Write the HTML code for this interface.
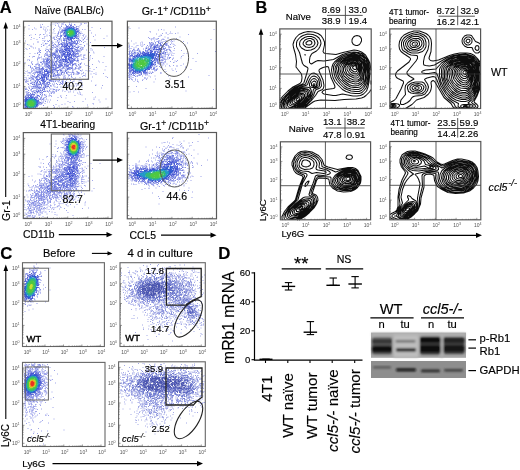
<!DOCTYPE html>
<html><head><meta charset="utf-8"><title>Figure</title><style>html,body{margin:0;padding:0;background:#fff;width:520px;height:470px;overflow:hidden}svg{display:block;filter:blur(0.3px)}</style></head><body>
<svg width="520" height="470" viewBox="0 0 520 470" font-family='"Liberation Sans", Arial, sans-serif'>
<rect width="520" height="470" fill="#fff"/>
<defs><filter id="sb" x="-5%" y="-5%" width="110%" height="110%"><feGaussianBlur stdDeviation="0.55"/></filter><filter id="cb" x="-5%" y="-5%" width="110%" height="110%"><feGaussianBlur stdDeviation="0.3"/></filter></defs>
<text x="-0.2" y="12.5" font-size="16.5" font-weight="bold" stroke="#000" stroke-width="0.15">A</text>
<text x="69.2" y="14.4" font-size="10.1" text-anchor="middle" stroke="#000" stroke-width="0.15">Naïve (BALB/c)</text>
<g filter="url(#sb)">
<path stroke="#a0a6ea" d="M105.5 99h1M99.5 102h1M106.5 36h1M98.5 100h1M100 28.5h1M93 104h1M107 77.5h1M103.5 38.5h1M92.5 103.5h1M105.5 76.5h1M101 88h1M102 85.5h1M93.5 99.5h1M95 97h1M105.5 66.5h1M104 47.5h1M93.5 98h1M87 105h1M104.5 70h1M103 73.5h1M103.5 56.5h1M102.5 62.5h1M77.5 108h1M95 35h1M91.5 27.5h1M92 92.5h1M95.5 85h1M82.5 101.5h1M95 85.5h1M85 99h1M72.5 107h1M99 62h1M72 106.5h1M93 36.5h1M94.5 40h1M28.5 25.5h1M98 61h1M95.5 74.5h1M91 33h1M95.5 73h1M89.5 30.5h1M96 67.5h1M54 107.5h1M28.5 29h1M87.5 26h1M74 101.5h1M54 107h1M91 81h1M58.5 106h1M81.5 95h1M93.5 73.5h1M85.5 23.5h1M92 77h1M69.5 102.5h1M93.5 69.5h1M64.5 104h1M61.5 104.5h1M93.5 53h1M80 94.5h1M53 105.5h1M32 29.5h1M55.5 104.5h1M93 52h1M34 28h1M67.5 101.5h1M92 50h1M91.5 71.5h1M40 25h1M80 93h1M42 24.5h1M78.5 94h1M90.5 74h1M92 64.5h1M92 58.5h1M84 23.5h1M35.5 29h1M90 42.5h1M40.5 26.5h1M25 41h1M29 35.5h1M88 33h1M79 92h1M30.5 35h1M88 33.5h1M40 27.5h1M77 93h1M87 79h1M74.5 95.5h1M41 27.5h1M90.5 50h1M90.5 48.5h1M52.5 24h1M43.5 27h1M89.5 71h1M55.5 23h1M50 25h1M89.5 68.5h1M54.5 24h1M57 100.5h1M47.5 26.5h1M81.5 87h1M88.5 71h1M82 85.5h1M31 37.5h1M43 29h1M78.5 90h1M90 55.5h1M88.5 70.5h1M65.5 98h1M89 66.5h1M45.5 28h1M57 23.5h1M27 44.5h1M35 34.5h1M30.5 39.5h1M89.5 59h1M25.5 48.5h1M89.5 57h1M77.5 89.5h1M87.5 71h1M58.5 23h1M44.5 30h1M55 25.5h1M87.5 38h1M89 60.5h1M61 97.5h1M89 52.5h1M33.5 38.5h1M45 30h1M26.5 49.5h1M28.5 45h1M88.5 45.5h1M47 30h1M75.5 90h1M81.5 82.5h1M87.5 65.5h1M85 76h1M57.5 97.5h1M73 92h1M66 95.5h1M45.5 31.5h1M24.5 62.5h1M39 35h1M40 34.5h1M49.5 30h1M84.5 29.5h1M49 102h1M85 74h1M60.5 96h1M29 48.5h1M60 96h1M58 25h1M73.5 90h1M84 75.5h1M30.5 46h1M85.5 70.5h1M45 33h1M30.5 46.5h1M43 34.5h1M53 29.5h1M81 24h1M43.5 34.5h1M36.5 39.5h1M54 28.5h1M39 37.5h1M69.5 92h1M77.5 85.5h1M33 44h1M80.5 80.5h1M80.5 23.5h1M58 26h1M80.5 81h1M27 60h1M50 100h1M68 92h1M70 91h1M77.5 84.5h1M24.5 73.5h1M31.5 47h1M76 86h1M29.5 53.5h1M83 75.5h1M49 33h1M78 83.5h1M61.5 23.5h1M25.5 71.5h1M86.5 39.5h1M29 56.5h1M80.5 24.5h1M46.5 35h1M47 102h1M37 42h1M82 76.5h1M33 48h1M28.5 59.5h1M44.5 36.5h1M85.5 36h1M53.5 31h1M42 38.5h1M38 42h1M44 37h1M85.5 65.5h1M86.5 44h1M46.5 36h1M64.5 91.5h1M78.5 81h1M83 72.5h1M29 60.5h1M82.5 73.5h1M63.5 22.5h1M79 80h1M43.5 38.5h1M24.5 77.5h1M74 86h1M58.5 26.5h1M52.5 33h1M49 35.5h1M35 48h1M28 65.5h1M66.5 90.5h1M62.5 23.5h1M42.5 40.5h1M85 37h1M69 89h1M75.5 84h1M75.5 83.5h1M47.5 100h1M24.5 79.5h1M24.5 80h1M62 91h1M86 50h1M50 36h1M85.5 58.5h1M61 25h1M79.5 77.5h1M51 96.5h1M27 71h1M50 36.5h1M32 57h1M62.5 90h1M44.5 40.5h1M25 81.5h1M42.5 43h1M41 44.5h1M29.5 65.5h1M44 41.5h1M81 74h1M34.5 53.5h1M56 91.5h1M44.5 103.5h1M33 56.5h1M82 70h1M54.5 33.5h1M79.5 25.5h1M84 64h1M58 90.5h1M83.5 34.5h1M58 90h1M50.5 37.5h1M70.5 86h1M31 62.5h1M27.5 73h1M38.5 48.5h1M59 89.5h1M54 93h1M84 38h1M50.5 95.5h1M31.5 61.5h1M82 29.5h1M38 50h1M54 92.5h1M41 46.5h1M81 71h1M34 56.5h1M26 78h1"/>
<path stroke="#8890e4" d="M47 41h1M45 101.5h1M84 38.5h1M53 93h1M30 66.5h1M43 105.5h1M56.5 90h1M84.5 55h1M45 43.5h1M55.5 91h1M31.5 63.5h1M26 81h1M25.5 82.5h1M50.5 39h1M43.5 45h1M30 67.5h1M62.5 24.5h1M39 50h1M59.5 27.5h1M84.5 41.5h1M72 83.5h1M43 45.5h1M26 80h1M48 41.5h1M67 86h1M65.5 86.5h1M37 53.5h1M49 40.5h1M56 90h1M37.5 52.5h1M27.5 75.5h1M53.5 37h1M69 85h1M28.5 72.5h1M45.5 44h1M55.5 90h1M49.5 95.5h1M59.5 28h1M39 51.5h1M52.5 38h1M60.5 87h1M46 99h1M66 86h1M46.5 43.5h1M53 38h1M32 64.5h1M83.5 59h1M53.5 91.5h1M29 73h1M73.5 81h1M84 45.5h1M40 50.5h1M39 52h1M83 36h1M48.5 96h1M51 93.5h1M61 26.5h1M55.5 36h1M26.5 81.5h1M71.5 82.5h1M84 46h1M54 38h1M80 70.5h1M72.5 81.5h1M79 73h1M78.5 73.5h1M83 39.5h1M82.5 35.5h1M25 89.5h1M64.5 85h1M51.5 41h1M44.5 100h1M51 41.5h1M78 74h1M57.5 33.5h1M83.5 57.5h1M25.5 88.5h1M40 52.5h1M52.5 91.5h1M58 32h1M83.5 55.5h1M25.5 88h1M83 57h1M51.5 92.5h1M56.5 87.5h1M57 87h1M74 79h1M38.5 55h1M75 78h1M58 32.5h1M50.5 93h1M66 84h1M80.5 67h1M51.5 92h1M78 73.5h1M31 69h1M83.5 55h1M31.5 68h1M62 84.5h1M54 89.5h1M52.5 91h1M57 35.5h1M51.5 42h1M78 73h1M39 54.5h1M73.5 79.5h1M27.5 80h1M77 74h1M83 42.5h1M54 39.5h1M25.5 89.5h1M57.5 34.5h1M46.5 47h1M73 79h1M59 30h1M32 68h1M78 72.5h1M58 33.5h1M82.5 59.5h1M69 23h1M56 37.5h1M30 73h1M65 24.5h1M38 57h1M81.5 33.5h1M59 84.5h1M53 89.5h1M65 83h1M61.5 83.5h1M80 67.5h1M79.5 68h1M67.5 82.5h1M49 94h1M82.5 40h1M28.5 78h1M37.5 58h1M80 67h1M45.5 97h1M51.5 43h1M31.5 70.5h1M60 84h1M58.5 32h1M49 45h1M27.5 81.5h1M48.5 45.5h1M61 83.5h1M62 83h1M37 59.5h1M65.5 82.5h1M63 83h1M52.5 42.5h1M26.5 89.5h1M46 96.5h1M37.5 58.5h1M76.5 74h1M81 63h1M79 69h1M79.5 67h1M43 102h1M70 80.5h1M57.5 36.5h1M37 60h1M51.5 43.5h1M29 78.5h1M44.5 97.5h1M45.5 49h1M25.5 92h1M55.5 39.5h1M54.5 87h1M81.5 38h1M57 84.5h1M31 72h1M27.5 83.5h1M62 82.5h1M52.5 89h1M60 82.5h1M51.5 44h1M43 100h1M82.5 47.5h1M77 72.5h1M78.5 27h1M45 50.5h1M81.5 59.5h1M75.5 74h1M79 67h1M65 81.5h1M46.5 49.5h1M39 58h1M82.5 49h1M31.5 71.5h1M76.5 72h1M78 69h1M26.5 91.5h1M80 64.5h1M30.5 75h1M61.5 81.5h1M39.5 57.5h1M34 66.5h1M33 69h1M43.5 98h1M80 63.5h1M63 81h1M49.5 91.5h1M62 81.5h1M28 84.5h1M71.5 77.5h1M58.5 82h1M35.5 64.5h1M71 24h1M77.5 26.5h1M76.5 71.5h1M57.5 38.5h1M82 49h1M30 77h1M42 103h1M81 59h1M29.5 78.5h1M60.5 29h1M45.5 95h1M47.5 49.5h1M43 98.5h1M52 45.5h1M56 83.5h1M26.5 92.5h1M79.5 64h1M66 80h1M78 68h1M51 46.5h1M80.5 32h1M58.5 36.5h1M55.5 42h1M28 87h1M53 45h1M53.5 86h1M35.5 65h1M54 44h1M62 80h1M42.5 99h1M33 70h1M74 24.5h1M42.5 99.5h1M66 79.5h1M37.5 62h1M81.5 49h1M69 78.5h1M44.5 95.5h1M61.5 80h1M36.5 64h1M77.5 68.5h1M42 99.5h1M41 57h1M67 79h1M81.5 47.5h1M53 45.5h1M57 40.5h1M48 92h1M73.5 74h1M57 41h1M81 41.5h1M57.5 81.5h1M59 80.5h1M50.5 89h1M58.5 80.5h1M49.5 49h1M58.5 39h1M49 90.5h1M46.5 51.5h1M35 67h1M63 79h1M28 90.5h1M34 70h1M71 76.5h1M48 50.5h1M45 53.5h1M53 46h1M73 74.5h1M31.5 76h1M51.5 48h1M26 94h1M78.5 65.5h1M36.5 64.5h1M81 50h1M64.5 78.5h1M30 80.5h1M41.5 102h1M44 55h1M60 33h1M80.5 56h1M45.5 53.5h1M31 77.5h1M67.5 78h1M50 49h1M52 47.5h1M46.5 52.5h1M47.5 51.5h1M55 44.5h1M37.5 63.5h1M80.5 54.5h1M29 88h1M60 32h1M30.5 80h1M59 39h1M59 38.5h1M53 85h1M29 88.5h1M35 68.5h1M74.5 25h1M35.5 67h1M50 49.5h1M49.5 89h1M32 75.5h1M32.5 73.5h1M80.5 44.5h1M54 84h1M65 78h1M78 64.5h1M58.5 40h1M57.5 42h1M65.5 25.5h1M41 104h1M73.5 73h1M63.5 78h1M63 78h1M80 40.5h1M60 35.5h1M71 75h1M47 91.5h1M33 73h1M59 39.5h1M41.5 59h1M73 73h1M30.5 82h1M30 83.5h1M51 49.5h1M49 51.5h1M44 94.5h1M56.5 80.5h1M60 34h1M31.5 77.5h1M53 48h1M60 36.5h1M60 37.5h1M28 92.5h1M80.5 47h1M29.5 86h1M51.5 49.5h1M45 55h1M80.5 50h1M55 81.5h1M69 24.5h1M80 33.5h1M59 78h1M44 56.5h1M47 91h1M73 72.5h1M64.5 77h1M54 47h1M55.5 46h1M41 103.5h1M51.5 50h1M75.5 68.5h1M31.5 78.5h1M58.5 78h1M36 68h1M69 75.5h1M68 76h1M60 38h1M70.5 24.5h1M27 94h1M41.5 96h1M41 97.5h1M70.5 74.5h1M46.5 54.5h1M32.5 76.5h1M31.5 79.5h1M28.5 92.5h1M35.5 70h1M63.5 76.5h1M36.5 67.5h1M32 79h1M80 48.5h1M41 103h1M38 65h1M27.5 93.5h1M60.5 35.5h1M47 54h1M56 46h1M76.5 66.5h1M76 26.5h1M58 42.5h1M50.5 51h1M75.5 68h1M36.5 68h1M41.5 95.5h1M31 83.5h1M50.5 86.5h1M34.5 72h1M79.5 44.5h1M41 97h1M41 100h1M46 55h1M79.5 55.5h1M74.5 69.5h1M26 95h1M72 72.5h1M68.5 75h1M34 73h1M41 98h1M53.5 82h1M60.5 39h1M55 47.5h1M78 62h1M32.5 77h1M52 84h1M75 68.5h1M79.5 35h1M40 62.5h1M50.5 85.5h1M33 76.5h1M78 60.5h1M56.5 46h1M36 69h1M32 78.5h1M79 42h1M55 80h1M49 87.5h1M78 29h1M42 94.5h1M49.5 52.5h1M78.5 40.5h1M30.5 89.5h1M38.5 65h1M43 59h1M46.5 55.5h1M58 43.5h1M30.5 90.5h1M35.5 71h1M72.5 71h1M34 74.5h1M64.5 75.5h1M59 42h1M51 52h1M78.5 39.5h1M47.5 55h1M33.5 76h1M47 55.5h1M71 73h1M31.5 82.5h1M79.5 51h1M57.5 45h1M39 64.5h1M58 77h1M79.5 52h1M40.5 62h1M76 65.5h1M50 53h1M54.5 80h1M43.5 59h1M67.5 74.5h1M75 67.5h1M37.5 67.5h1M42 94h1M38.5 66h1M41 62.5h1M45.5 91h1M45 91.5h1M56 78h1M61 36.5h1M79.5 49h1M79 32.5h1M62.5 75h1M31 89.5h1M78.5 30.5h1M61.5 30.5h1M37.5 68h1M43 60h1M59.5 75.5h1M63 28h1M60.5 40h1M60 75h1M31 89h1M33.5 76.5h1M61 74.5h1M78.5 30h1M50 85.5h1M58 45h1M33 79h1M72.5 70h1M73.5 69h1M35 73h1M53 81.5h1M56.5 77h1M51.5 52.5h1M72 71h1M25 96h1M26.5 95h1M57.5 76h1M78.5 56.5h1M33.5 77h1M31.5 86.5h1M58.5 75.5h1M44 91.5h1M61 32.5h1M75.5 65.5h1M54.5 79h1M57.5 75.5h1M59 75h1M77.5 28.5h1M58.5 45h1M57 46.5h1"/>
<path stroke="#6a76dc" d="M31.5 87h1M33 79h1M62 30h1M39 66h1M66.5 73.5h1M36 72h1M61 35.5h1M78.5 46.5h1M78.5 37h1M63.5 74h1M49.5 54.5h1M50.5 54h1M61 41h1M40 98h1M45.5 58h1M66 26h1M42.5 61.5h1M51.5 53.5h1M69.5 72.5h1M40 99h1M77 28.5h1M56.5 48h1M77 60.5h1M78 38.5h1M43 91.5h1M58 75h1M30 93.5h1M77.5 59h1M31.5 91.5h1M40 94.5h1M78.5 50.5h1M35.5 72.5h1M36.5 71.5h1M32 84.5h1M32.5 82h1M61 73.5h1M66 73h1M54.5 78h1M58.5 74.5h1M55.5 49.5h1M53.5 79.5h1M38.5 67.5h1M32.5 83h1M41 93h1M78 56h1M59 44.5h1M44.5 59.5h1M56.5 48.5h1M32 88.5h1M48.5 56h1M37.5 69.5h1M53 80h1M75.5 64h1M61.5 31h1M42 92.5h1M66.5 72.5h1M43.5 60.5h1M50 55h1M34.5 77h1M39 96.5h1M64 73h1M46.5 88h1M45.5 59h1M56.5 75.5h1M77.5 41h1M32.5 91.5h1M59.5 73h1M76.5 61.5h1M48 86.5h1M77.5 40h1M78.5 51.5h1M61.5 31.5h1M47.5 57h1M62 72.5h1M52.5 53.5h1M78 54h1M53 53h1M48.5 56.5h1M56 50.5h1M68 72h1M33.5 80h1M66 72.5h1M55.5 50.5h1M77.5 56.5h1M43.5 61.5h1M72 69h1M77.5 43.5h1M63.5 72.5h1M52 54h1M77.5 38.5h1M39 68h1M57 74.5h1M38.5 96h1M33 88h1M78.5 33.5h1M50.5 55.5h1M61.5 72.5h1M51.5 81.5h1M78 47.5h1M41.5 64h1M54.5 52h1M39.5 93h1M77 59h1M60.5 43.5h1M50 56h1M57.5 73.5h1M75 64h1M43 62h1M71 25.5h1M55.5 51.5h1M48.5 57h1M44 89.5h1M49 56.5h1M77 41.5h1M61 72h1M55.5 75.5h1M55 76h1M58.5 47h1M33 86.5h1M38.5 69h1M76 28h1M32 93h1M44 90h1M62 72h1M72 68h1M52.5 54.5h1M54 53.5h1M77 42h1M33.5 90.5h1M47 58.5h1M33.5 92h1M47 86.5h1M40.5 66h1M60.5 44.5h1M40 92.5h1M49 84h1M42 64h1M54.5 53h1M53 54h1M27.5 95h1M37.5 71h1M37 72.5h1M56 51.5h1M77.5 53.5h1M61 43.5h1M77.5 50.5h1M51 81h1M28 95h1M35 78h1M77 42.5h1M65 71.5h1M34 92.5h1M68 26h1M62.5 30h1M33.5 84.5h1M77.5 46h1M53 54.5h1M49.5 83.5h1M52 55.5h1M57.5 49.5h1M55.5 75h1M46.5 59.5h1M38 95.5h1M53.5 54.5h1M57 50h1M46.5 86.5h1M77 56.5h1M43.5 63h1M71 68.5h1M37.5 72h1M52.5 78.5h1M44.5 61.5h1M51.5 80.5h1M43.5 89.5h1M34 82.5h1M47.5 85.5h1M57 72.5h1M47.5 58.5h1M25 96.5h1M70 25.5h1M33.5 85h1M46.5 60h1M40 102.5h1M39.5 104.5h1M39.5 92h1M77.5 52h1M74.5 63.5h1M39.5 99.5h1M66 27h1M61.5 43h1M60 71h1M63.5 71h1M66.5 71h1M55 53h1M78.5 32h1M26.5 96h1M34 84h1M36.5 94h1M63 40.5h1M39 69h1M46 60.5h1M77 54h1M35 93h1M53.5 55h1M37 92.5h1M50.5 57h1M74 64h1M34.5 81h1M61 70.5h1M41 91h1M34 87h1M42 90.5h1M72 67h1M61 44.5h1M66 26.5h1M57 51.5h1M54 54.5h1M75.5 60.5h1M55 75h1M48 84.5h1M37 92h1M76.5 44h1M35.5 92h1M32 94h1M60 70.5h1M34 84.5h1M35.5 77.5h1M77.5 50h1M69.5 69.5h1M38.5 71h1M37.5 95.5h1M42 90h1M39 70h1M45.5 87h1M28.5 95h1M36 91.5h1M57 51h1M37.5 92h1M44 88.5h1M77 51h1M63 39h1M54.5 54.5h1M39.5 68.5h1M47 60h1M64.5 28h1M63 38h1M76.5 57.5h1M56.5 52.5h1M42.5 89.5h1M36.5 91.5h1M65.5 70.5h1M37.5 72.5h1M39.5 103.5h1M53.5 76.5h1M77.5 36.5h1M56.5 52h1M57 72h1M56.5 72h1M38 91.5h1M60.5 70h1M27.5 95.5h1M76.5 43.5h1M34.5 88.5h1M47.5 59.5h1M38.5 91.5h1M35.5 90.5h1M62.5 42.5h1M29.5 95h1M45 87.5h1M33.5 94h1M54 55h1M36.5 91h1M34.5 86.5h1M54.5 55h1M76.5 38.5h1M52.5 56.5h1M46.5 60.5h1M76 40.5h1M77 49h1M37 74h1M65.5 70h1M78 31.5h1M37 95.5h1M77 29h1M51.5 79h1M77.5 30h1M61.5 70h1M44 63h1M77 53h1M70.5 68h1M56.5 53h1M36 77.5h1M62.5 43h1M51 57.5h1M47.5 60h1M38.5 91h1M49 82.5h1M58 70.5h1M57 71h1M36 76.5h1M69.5 68.5h1M59.5 70h1M35 81.5h1M78 35h1M67 69.5h1M40 90.5h1M53 76.5h1M47 60.5h1M77 48h1M49 59h1M77.5 30.5h1M57.5 70.5h1M70.5 67.5h1M34.5 85h1M65 70h1M35 81h1M59.5 69.5h1M55.5 54.5h1M48.5 59.5h1M40 90h1M50 80.5h1M53.5 75.5h1M62.5 31h1M72.5 65h1M45 87h1M31 94.5h1M24.5 97.5h1M46 61.5h1M76 57h1M30.5 94.5h1M33 94.5h1M48.5 60h1M38 90.5h1M49.5 81.5h1M55 55.5h1M39.5 102.5h1M68 69h1M62 32h1M59.5 69h1M78 33h1M76 43.5h1M76 44.5h1M51.5 58h1M76.5 47.5h1M77 37h1M58.5 50.5h1M68.5 69h1M38.5 90h1M35 86h1M37 75.5h1M56.5 71h1M56.5 70.5h1M59.5 48.5h1M34 94.5h1M52.5 76.5h1M36 89h1M35.5 81h1M35.5 87.5h1M38.5 72h1M43.5 87.5h1M67 26.5h1M53 76h1M73 64.5h1M32.5 94.5h1M76 28.5h1M59.5 49h1M32 94.5h1M76.5 51h1M54 73.5h1M48 60.5h1M48.5 82.5h1M46 62h1M68 68.5h1M36.5 96h1M66.5 69h1M35.5 86.5h1M43.5 88h1M39 71.5h1M45 63h1M67.5 68.5h1M53.5 57.5h1M55.5 55.5h1M62 44.5h1M42.5 88h1M61.5 68.5h1M72 65.5h1M29 95h1M45.5 86h1M61.5 45h1M61 46.5h1M75 42h1M55 56.5h1M63.5 39h1M53 75h1M36 79h1M37 76h1M35.5 87h1M68.5 68h1M53.5 74.5h1M45 86h1M38.5 72.5h1M45 86.5h1M47 84h1M40 70h1M60.5 47.5h1M36 79.5h1M47 61.5h1M39 72h1M54 57.5h1M69.5 67.5h1M44.5 86.5h1M71.5 66h1M51.5 59h1M37 89h1M37 76.5h1M72 64.5h1M64 40.5h1M55.5 70.5h1M67 68.5h1M62 45.5h1M43 87.5h1M42 67.5h1M77.5 35h1M35.5 83h1M63.5 68.5h1M64.5 40.5h1M41 68.5h1M41 69h1M41.5 88.5h1M74.5 60.5h1M64 42h1M62 68h1M63.5 43h1M44.5 64.5h1M55.5 57h1M55.5 56.5h1M76 53.5h1M56.5 55.5h1M76 54h1M72.5 26.5h1M36.5 79h1M38.5 73h1M50 80h1M59 50.5h1M40.5 69.5h1M54.5 72h1M59 51h1M76 38.5h1M76 47.5h1M57.5 68h1M36.5 87.5h1M36 85h1M74.5 27.5h1M38 74.5h1M66.5 27h1M31 95h1M54 58.5h1M62.5 45h1M62.5 35h1M36.5 79.5h1M50.5 60h1M45 85.5h1M55 57.5h1M68 68h1M49 80.5h1M36 84.5h1M74 60.5h1M36.5 80h1M60 67h1M59 51.5h1M55.5 57.5h1M75.5 56h1M69 67.5h1M46.5 84h1M76 51.5h1M37.5 76h1M72.5 64h1M65.5 68h1M42.5 67h1M36 83.5h1M62 46h1M61.5 46.5h1M59 67h1M45.5 85h1M65.5 27.5h1M39 88.5h1M58 67.5h1M46 63h1M56 69h1M76 50h1M39.5 88.5h1M37.5 76.5h1M74.5 59h1M74.5 41h1M64.5 40h1M60 50h1M57 56h1M36 83h1M54 59h1M36.5 86h1M57 67.5h1M64 39h1M52 60h1M38.5 88.5h1M59.5 66.5h1M63 67.5h1M50 60.5h1M57.5 55h1M58.5 67h1M45.5 84.5h1M47.5 82.5h1M46.5 83.5h1M57.5 55.5h1M25.5 97.5h1M37.5 87.5h1M75 44h1M75 56.5h1M36.5 85.5h1M45.5 64h1M74.5 58.5h1M38.5 88h1M75 56h1M39 88h1M59 66.5h1M58 54h1M55.5 68.5h1M56.5 67.5h1M43 87h1M49.5 79.5h1M59.5 51h1M38 87.5h1M37 78h1M47 63h1M56.5 68h1M74.5 43.5h1M42 68.5h1M47.5 62.5h1M37 86.5h1M74.5 43h1M59.5 66h1M49 61.5h1M39 103h1M55 69.5h1M46 63.5h1M46.5 63.5h1M64.5 43h1M47.5 82h1M39 102h1M36.5 82.5h1M73 26.5h1M39.5 72.5h1M74 59.5h1M58 66h1M37 97h1M48.5 62h1M54.5 70h1M59.5 52h1M74.5 42h1M46.5 83h1M39 73h1M63.5 44h1M75.5 47.5h1M74 41.5h1M60 50.5h1M44 66h1M39.5 73h1M53.5 60h1M62.5 66.5h1M59.5 65.5h1M56 58.5h1M37 79.5h1M58.5 65.5h1M64.5 39h1M61 66h1M67.5 67h1M58 65.5h1M60 66h1M57 57.5h1M52.5 73.5h1M50.5 77h1M47 82.5h1M51.5 75h1M62.5 46.5h1M66 67h1M48.5 62.5h1M46 64h1M64 44h1M47.5 63h1M59.5 52.5h1M75 46h1M74.5 57h1M63 30.5h1M40 71.5h1M61.5 48h1M42.5 68h1M63.5 67h1M75.5 50h1M55 68.5h1M75 54.5h1M64.5 43.5h1M58 65h1M49.5 62h1M51 61.5h1M38.5 87h1M57 58h1M40 87.5h1M52 61h1M59 65h1M41 87h1M51.5 61.5h1M37 82.5h1M60.5 65.5h1M61 49h1M75 54h1M57.5 57h1M38.5 75.5h1M39.5 87h1M57.5 57.5h1M56 66h1M45.5 65h1M60.5 50.5h1M63.5 45h1M57.5 58h1M50.5 76.5h1M30 95.5h1M55.5 67h1M41 71h1M41.5 70h1M75.5 49.5h1M67 66.5h1M37 97.5h1M46.5 82.5h1M37.5 85h1M55.5 66h1M56.5 60h1M61 65.5h1M73 61h1M57 64h1M70 65h1M42.5 68.5h1M58 56.5h1M37.5 98.5h1M56 61h1M72 62.5h1M74 41h1M62 65.5h1M60 52.5h1M40 72h1M72 63h1M55 61.5h1M74 43h1M53 72h1M57 60h1M72.5 61.5h1M73.5 41.5h1M51.5 62h1M65.5 66.5h1M45.5 65.5h1M56 61.5h1M55 66h1M55.5 62h1M59 64h1M56 62h1M48.5 63h1M37 81.5h1M53.5 70.5h1M44 85h1M55 65.5h1M48.5 80h1M56 64h1M57.5 59.5h1M38.5 86h1M46.5 64.5h1M71.5 63h1M74 43.5h1M55.5 62.5h1M53.5 62h1M64 66h1M60 64.5h1M54 69.5h1M33.5 95.5h1M42 69h1M51 62.5h1M60 53h1M55.5 64h1M39 75h1M64.5 28.5h1M37.5 80.5h1M50 77h1M53 62h1M57.5 60h1M54.5 67.5h1M43.5 85h1M49 63h1M64.5 66h1M51.5 62.5h1M61 64.5h1M57.5 61.5h1M47.5 64h1M37.5 81h1M37.5 84.5h1M63.5 30h1M68 66h1M73.5 42h1M60 64h1M63 46.5h1M50 76.5h1M37.5 83.5h1M54.5 65h1M59 55.5h1M64.5 44.5h1M31 95.5h1M66 66h1M58 62h1M52 72.5h1M59 56h1M53.5 63h1M52.5 71.5h1M38.5 77h1M39.5 74h1M42 70h1M59.5 63h1M60.5 52h1M67 66h1M54 63.5h1M54.5 65.5h1M66 40.5h1M46.5 65h1M59 62.5h1M54 64.5h1M67.5 66h1M70.5 26.5h1M40 73h1M75.5 38h1M73.5 43.5h1M52 63h1M53.5 68.5h1M66 41.5h1M40.5 72.5h1M61.5 64h1M47.5 64.5h1M61.5 49.5h1M74.5 56h1M54 65h1M59 57.5h1M64.5 65.5h1M43.5 84.5h1M66.5 66h1M69.5 64.5h1M73 42.5h1M60.5 63.5h1M73 27h1M43 69h1M67.5 65.5h1M72 61.5h1M59 62h1M59 56.5h1M75 49.5h1M59 58.5h1M66 42.5h1M71 63h1M64 45h1M41.5 71h1M59.5 62h1M73 43h1M73 59h1M59 58h1M68 65.5h1M38 80h1M64 45.5h1M66.5 65.5h1M38.5 84.5h1M53 69.5h1M51.5 63.5h1M67 65.5h1M41 85.5h1M25 98.5h1M51.5 64h1M53 67.5h1M70.5 63.5h1M39 84.5h1M59.5 61h1M59 60.5h1M60 62.5h1M61 51h1M38 79.5h1M50.5 64h1M68 65h1M74 55.5h1M44.5 83.5h1M35.5 96.5h1M52 64h1M60.5 62.5h1M26.5 97h1M52.5 64.5h1M66.5 42h1M72.5 60.5h1M62.5 64h1M45.5 66.5h1M47.5 65h1M61.5 63.5h1M25 98h1M53 65.5h1M66 65.5h1M61 52h1M52.5 69.5h1M59.5 60.5h1M52.5 65.5h1M62 50h1M72.5 60h1M61.5 51h1M52 65h1M62.5 49h1M64.5 65h1M74.5 49h1M51 73.5h1M52.5 66h1M73 59.5h1M52.5 67.5h1M77 31h1M59.5 59h1M52.5 67h1M71.5 62h1M62 49.5h1M74.5 50h1M43.5 83.5h1M61 53h1M39 78h1M66.5 65h1M77 32h1M52 69.5h1M74.5 53.5h1M41 85h1M52.5 68.5h1M39.5 84.5h1M43 69.5h1M60 57h1M40.5 73.5h1M72 60.5h1M47.5 79.5h1M73.5 46h1M43.5 69h1M74 56h1M66 43.5h1M60 60.5h1M51.5 71.5h1M60.5 55h1M52 70.5h1M50 75.5h1M61 62h1M64 64.5h1M74 46.5h1M51.5 65.5h1M39.5 84h1M48 65.5h1M40.5 84.5h1M68.5 64.5h1M51.5 71h1M49.5 65h1M46.5 66.5h1M69 64h1M64 46.5h1M74.5 52.5h1M52 67.5h1M61.5 62h1M42.5 84h1M51.5 66.5h1M50.5 73h1M51 65.5h1M39 79.5h1M65 64.5h1M40.5 84h1M72.5 44h1M60 59.5h1M39 82h1M40.5 74h1M74.5 51.5h1M66.5 27.5h1M71 62h1M24.5 107.5h1M66 44h1M28 96.5h1M70.5 62.5h1M60.5 61h1M49 65.5h1M65.5 38.5h1M64 64h1M65.5 44.5h1M72 41.5h1M63.5 47h1M64.5 64h1M65 45h1M60.5 60h1M39 81.5h1M47 66.5h1M71.5 61h1M43.5 83h1M70 62.5h1M47.5 78.5h1M70 63h1M45.5 67.5h1M67.5 41.5h1M75.5 37.5h1M44 82.5h1M62 62h1M46.5 79.5h1M38 100h1M42 72h1M49 66h1M47 79.5h1M43 83h1M51.5 69.5h1M32.5 96h1M51 70h1M40 83.5h1M62 51.5h1M45 81.5h1M69.5 63h1M48.5 66h1M50.5 72.5h1M72 43.5h1M71.5 43h1M63 33h1M72 43h1M51 67h1M74 53h1M66.5 64h1M73.5 54.5h1M61.5 60.5h1M50.5 67h1M39.5 82h1M47 67h1M42 83.5h1M72 27h1M66.5 40h1M39.5 78h1M49.5 66.5h1M40 82.5h1M49 66.5h1M61 55h1M50.5 67.5h1M46.5 79h1M61 58h1M41.5 73.5h1M45.5 80.5h1M66 64h1M61 57.5h1M73.5 54h1M50.5 68.5h1M50 72.5h1M43.5 82h1M43 82.5h1M40.5 75.5h1M71 41.5h1M61.5 60h1M47.5 67h1M70 62h1M61.5 54h1M44.5 81.5h1M64 47.5h1M50.5 70.5h1M67 43.5h1M50 67.5h1M61 59h1M62 52.5h1M50.5 70h1M48 67h1M71.5 41h1M65.5 45h1M38 101h1M63.5 31h1M68.5 63h1M73 57h1M73.5 53.5h1M68.5 42.5h1M73 56.5h1M42.5 72.5h1M61 56h1M73.5 51h1M44 81.5h1M47.5 77.5h1M62.5 50.5h1M42.5 82.5h1M50 71.5h1M63 61.5h1M64.5 46.5h1M67 44h1M48 76.5h1M70.5 42.5h1M69 42.5h1M71 61h1M70 61.5h1M61.5 56.5h1M61.5 54.5h1M42 73h1M71.5 44h1M48 67.5h1M73 56h1"/>
<path stroke="#4a5ad4" d="M50 70h1M43.5 81.5h1M68.5 43h1M49.5 68.5h1M70 62h1M40 78.5h1M46 79h1M26.5 97.5h1M70.5 43h1M70.5 61h1M66.5 39.5h1M72.5 46h1M24.5 108h1M49 68h1M44 70.5h1M49.5 71.5h1M72 58.5h1M65 46.5h1M40.5 80h1M73 55h1M41 76h1M63 61.5h1M46 78.5h1M73.5 48.5h1M48.5 74.5h1M44 71h1M64.5 29.5h1M76 29.5h1M77 31.5h1M71 44h1M64 48h1M69.5 43h1M46.5 69h1M63 51h1M47.5 76.5h1M41 76.5h1M68.5 43.5h1M41.5 74.5h1M69.5 41h1M65.5 46h1M49.5 72.5h1M62 59.5h1M70 27h1M71.5 59h1M42.5 81.5h1M35.5 97.5h1M68 62.5h1M48.5 68.5h1M68.5 40.5h1M73 54h1M63 61h1M73 54.5h1M67 44.5h1M41 80.5h1M66.5 63h1M62.5 60h1M64 62h1M71 40.5h1M67.5 27h1M66 45.5h1M45.5 69.5h1M45.5 70h1M42 81h1M62 55h1M62 56h1M48 75.5h1M49 70h1M62 59h1M46.5 69.5h1M44.5 71h1M41 77.5h1M70 44h1M70.5 44h1M48 75h1M47.5 76h1M44 80h1M71.5 45h1M42 75h1M42.5 81h1M41 78h1M71.5 58.5h1M42.5 74.5h1M67 62.5h1M65.5 47h1M63.5 61h1M64 36.5h1M43 80.5h1M48.5 72.5h1M65 62h1M42.5 80.5h1M67 45.5h1M70.5 60h1M72.5 47.5h1M63 59.5h1M44 72h1M41.5 80h1M64 49.5h1M65 48h1M25 99h1M48.5 72h1M48.5 73h1M73 52.5h1M71 45h1M43.5 80h1M46 70.5h1M47.5 75h1M46 77.5h1M62.5 55.5h1M43 80h1M71.5 45.5h1M38 104h1M73.5 27.5h1M44.5 71.5h1M62.5 53.5h1M41.5 79h1M72 46.5h1M48 73h1M63 51.5h1M46.5 70.5h1M48 71h1M42 79h1M48 72h1M63 59h1M63 53.5h1M76.5 34.5h1M42 77.5h1M66.5 62h1M45 71.5h1M42 78.5h1M42.5 79.5h1M36 98h1M70 45h1M42 78h1M44 79h1M65 61.5h1M73 52h1M70.5 45h1M47.5 72.5h1M43.5 79h1M69 61h1M69.5 45h1M44 73h1M68.5 45h1M45.5 71.5h1M47 71.5h1M63 54.5h1M69 27h1M46 71.5h1M43 75.5h1M65.5 61.5h1M66 46.5h1M47.5 73.5h1M69.5 60.5h1M73 39h1M42.5 78h1M63.5 52.5h1M66 61.5h1M42.5 76.5h1M72.5 51.5h1M47 72.5h1M65 29h1M47 73h1M46.5 71.5h1M43 76h1M67.5 46h1M46.5 75h1M43.5 74.5h1M43 77h1M72.5 53h1M74 38.5h1M38 101h1M47 73.5h1M43.5 75h1M43.5 78h1M44 77.5h1M44 74.5h1M44 74h1M72 55h1M46.5 73.5h1M69.5 40h1M71 57.5h1M64 51.5h1M44.5 77.5h1M64.5 50h1M46 76h1M43.5 77.5h1M72 49h1M66 61h1M67.5 61h1M65 60.5h1M43.5 75.5h1M65.5 38h1M44.5 74h1M46 75h1M63.5 35h1M45 76h1M65 49h1M64 59.5h1M45.5 74h1M44 76.5h1M44.5 76h1M25.5 98.5h1M45.5 74.5h1M71 57h1M63.5 54.5h1M45 75.5h1M44.5 75.5h1M45 75h1M64.5 60h1M75.5 37h1M66.5 61h1M70.5 59h1M69 60h1M71.5 47h1M70.5 58h1M76 36h1M71.5 56h1M26 98.5h1M67 61h1M37.5 105.5h1M72 48.5h1M65 49.5h1M63.5 55h1M64.5 59.5h1M66.5 47.5h1M37.5 101h1M68 39.5h1M68 46.5h1M72 50.5h1M72 54h1M68.5 39.5h1M66 48h1M64 53.5h1M65 59.5h1M69 46.5h1M63.5 34h1M68.5 46.5h1M64 54h1M66 60h1M65.5 59.5h1M65.5 49.5h1M64 56.5h1M64 54.5h1M65 50.5h1M71 48h1M69.5 46.5h1M72 51.5h1M68.5 59.5h1M67 48h1M37.5 100.5h1M66.5 59.5h1M71 48.5h1M71 39.5h1M70.5 57h1M71 55.5h1M27.5 97.5h1M30 96.5h1M24.5 99.5h1M64.5 57.5h1M70 57.5h1M64.5 53.5h1M66.5 48.5h1M71 55h1M66 49h1M65 58.5h1M64.5 36h1M64.5 56.5h1M69 59h1M68 59.5h1M65.5 58.5h1M68.5 59h1M30.5 96.5h1M65 58h1M65.5 50h1M69.5 58h1M64.5 55.5h1M64.5 55h1M70.5 56h1M65 57.5h1M76 35.5h1M65 52.5h1M67 48.5h1M66 59h1M64 30.5h1M66.5 49h1M67.5 48.5h1M68 39h1M71 50h1M69 47.5h1M65.5 51.5h1M33 97h1M68 58.5h1M65 56.5h1M71 51h1M67.5 48h1M65.5 57.5h1M70 48.5h1M66 50.5h1M70.5 54.5h1M67.5 58.5h1M38 103h1M69 57.5h1M70.5 49.5h1M75 37h1M66 57.5h1M68 58h1M65.5 37h1M63.5 33.5h1M68.5 48.5h1M66.5 38.5h1M65.5 57h1M74.5 37h1M70 39.5h1M66.5 50h1M70.5 39.5h1M68 48.5h1M35.5 108h1M24.5 106.5h1M76.5 31.5h1M65.5 55h1M67 38.5h1M66.5 50.5h1M65.5 54.5h1M68.5 49h1M68.5 57h1M66 56.5h1M69 49h1M70 54.5h1M67.5 49.5h1M70.5 52.5h1M67.5 50h1M66 56h1M24.5 100.5h1M25 107h1M68.5 56.5h1M72.5 38.5h1M69 50h1M66.5 52.5h1M70 52h1M66.5 52h1M69.5 50.5h1M68 56.5h1M70 53.5h1M66.5 55h1M69 50.5h1M69 55.5h1M67 56h1M68 50.5h1M67 52h1M31.5 97h1M67.5 56h1M69.5 51.5h1M69.5 54h1M69 51.5h1M69 54.5h1M68.5 51h1M67 54.5h1M67 55h1M67.5 52h1M68.5 55h1M67 53.5h1M67 52.5h1M76.5 32h1M68 55h1M68.5 54.5h1M67.5 55h1M72 38.5h1M69 54h1M67 54h1M31 97h1M69 53.5h1M67.5 54h1M67.5 53h1M69 53h1M68.5 54h1M68 52.5h1M74.5 29h1M34.5 97.5h1M70.5 39h1M65 36h1M37 101h1M37.5 102h1M68.5 38.5h1M36.5 106.5h1M37.5 103h1M75.5 36h1M69.5 39h1M66.5 28.5h1M25 99.5h1M69 27.5h1M69.5 27.5h1M64 32.5h1M24.5 101h1M73.5 28.5h1M36.5 106h1M65 36.5h1M76 31h1M36.5 100h1M29 97.5h1M32 97h1M64.5 35.5h1M68.5 27.5h1M71.5 38.5h1M75.5 35.5h1M75 36h1M37 104.5h1M29.5 97.5h1M65.5 29.5h1M67.5 28h1M33.5 97.5h1M70.5 38.5h1M71 27.5h1M72.5 28h1M67.5 38h1M25.5 107.5h1M75 30h1M24.5 101.5h1M71.5 38h1M31 97.5h1M28 98h1M32 97.5h1M67 37.5h1M76 33.5h1M75.5 35h1M74.5 30h1M65.5 36h1M25 100.5h1M64.5 31.5h1M31.5 97.5h1M75 35.5h1M66.5 29h1M74.5 36h1M70 38.5h1M64.5 32h1M75.5 33.5h1M71 38h1M65 35h1M35.5 99h1M72 38h1M73 28.5h1M70 38h1M27.5 98.5h1M65 35.5h1M36.5 101.5h1M65 30.5h1M36 106h1M70.5 28h1M75.5 33h1M24.5 105h1M30.5 97.5h1M68 37.5h1M26 99.5h1M72.5 28.5h1M36.5 102h1M36.5 105h1M74 36h1M35 107h1"/>
<path stroke="#2e58d0" stroke-width="1.25" d="M70 38h1.25M75.5 33.5h1.25M72 37.5h1.25M70.5 38h1.25M72 28.5h1.25M35.5 100h1.25M25 105.5h1.25M26 100h1.25M74 36h1.25M64.5 33h1.25M75.5 33h1.25M24.5 104.5h1.25M36.5 103.5h1.25M25 105h1.25M27.5 108h1.25M34 98.5h1.25M25.5 100.5h1.25M68.5 37.5h1.25M25 101.5h1.25M68 37.5h1.25M36 105.5h1.25M36 105h1.25M73.5 36.5h1.25M66.5 29h1.25M65.5 30.5h1.25M75.5 32h1.25M69 28.5h1.25M24.5 103h1.25M74.5 30.5h1.25M67 29h1.25M36 101h1.25M34 99h1.25M72.5 29h1.25M36.5 102h1.25M68 28.5h1.25M67.5 37h1.25M65.5 31h1.25M67 36.5h1.25M74 30h1.25M68 37h1.25M26 100.5h1.25M35 99.5h1.25M35.5 100.5h1.25M34.5 107h1.25M36 101.5h1.25M26 106.5h1.25M26.5 107h1.25M66.5 36h1.25M25 104h1.25M30.5 98h1.25M66 30h1.25M33 108h1.25M36.5 103h1.25M35 100h1.25M30 98.5h1.25M74 30.5h1.25M29.5 98.5h1.25M36 102h1.25M72 37h1.25M67.5 29h1.25M74.5 31h1.25M34.5 99.5h1.25M28.5 108h1.25M25.5 105h1.25M69.5 28.5h1.25M66 30.5h1.25M75 32h1.25M70 37h1.25M74.5 34h1.25M35 100.5h1.25M68.5 28.5h1.25M25 103.5h1.25M65.5 34h1.25M26 101h1.25M65.5 31.5h1.25M25.5 105.5h1.25M73.5 29.5h1.25M66 35h1.25M71 37h1.25M33.5 99h1.25M35.5 105h1.25M35.5 101.5h1.25M74 35.5h1.25M26.5 106.5h1.25M70.5 28.5h1.25M27 99.5h1.25M66.5 35.5h1.25M27 100h1.25M74.5 33.5h1.25M31.5 108h1.25M71.5 29h1.25M35.5 105.5h1.25M25.5 102h1.25M31.5 98.5h1.25M74.5 33h1.25M34.5 106.5h1.25M27.5 99.5h1.25M73.5 35.5h1.25M31 98.5h1.25M68.5 29h1.25M68 36.5h1.25M71.5 36.5h1.25M25.5 103h1.25M69.5 37h1.25M35.5 104h1.25"/>
<path stroke="#2098c8" stroke-width="1.25" d="M66.5 30.5h1.25M74.5 34h1.25M29 107.5h1.25M25.5 105h1.25M73 30h1.25M31 99h1.25M72 29h1.25M34.5 106.5h1.25M65.5 32h1.25M33 99h1.25M29 99h1.25M35.5 103.5h1.25M68.5 36.5h1.25M66.5 30h1.25M66 31h1.25M29.5 99h1.25M34.5 100.5h1.25M74 35h1.25M71 29h1.25M67.5 36h1.25M66 34.5h1.25M30 99h1.25M35.5 101.5h1.25M74.5 32.5h1.25M27 106.5h1.25M74 31h1.25M35.5 102h1.25M28.5 107.5h1.25M74 34.5h1.25M72 29.5h1.25M27 100.5h1.25M69 36.5h1.25M68.5 29h1.25M35 102h1.25M67 35.5h1.25M35 101h1.25M72.5 36h1.25M74 33.5h1.25M34.5 101h1.25M69 29h1.25M66 33.5h1.25M30 107.5h1.25M25.5 103h1.25M67 30.5h1.25M66 33h1.25M33.5 106.5h1.25M29 99.5h1.25M31.5 107.5h1.25M66 32h1.25M26.5 101h1.25M72.5 35.5h1.25M35 104.5h1.25M71 36.5h1.25M70.5 29h1.25M30.5 99h1.25M73.5 30.5h1.25M27.5 100h1.25M35 102.5h1.25M32 99.5h1.25M73 35.5h1.25M66 32.5h1.25M68 29.5h1.25M33 107h1.25M29 107h1.25M72 36h1.25M31.5 99.5h1.25M35 103h1.25M71 36h1.25M26 102.5h1.25M33.5 100h1.25M70.5 29.5h1.25M30.5 107.5h1.25M71.5 29.5h1.25M26 104h1.25M30.5 99.5h1.25M27.5 106h1.25M32.5 99.5h1.25M26.5 105h1.25M26 103h1.25M67.5 30h1.25M73 35h1.25M26.5 101.5h1.25M30 99.5h1.25M74 32.5h1.25M27 106h1.25M34 105.5h1.25M72 35.5h1.25M34.5 105h1.25M68 35.5h1.25M73.5 34h1.25M33 106.5h1.25M29.5 107h1.25M67 35h1.25M33 100h1.25M34.5 101.5h1.25M72.5 30.5h1.25M73.5 31.5h1.25M35 103.5h1.25M33.5 100.5h1.25M66.5 31.5h1.25M35 104h1.25M70.5 36h1.25M68.5 30h1.25M68 30h1.25M27.5 100.5h1.25M29.5 99.5h1.25M66.5 32h1.25M66.5 33.5h1.25M69 36h1.25M28.5 100h1.25M31.5 107h1.25M73.5 33h1.25M32 100h1.25M28.5 106.5h1.25M29 100h1.25M33.5 106h1.25"/>
<path stroke="#30b878" stroke-width="1.25" d="M69.5 36h1.25M30.5 107h1.25M66.5 31.5h1.25M33 106h1.25M31.5 100h1.25M27 105.5h1.25M34 101.5h1.25M33 100.5h1.25M30 107h1.25M28.5 106.5h1.25M26.5 104.5h1.25M73 34.5h1.25M32.5 106.5h1.25M73 31h1.25M70 36h1.25M32.5 100h1.25M26.5 102.5h1.25M31 100h1.25M33.5 105.5h1.25M29.5 100h1.25M27.5 105.5h1.25M34.5 102h1.25M67.5 35h1.25M28 100.5h1.25M67 34h1.25M34.5 103h1.25M71.5 35.5h1.25M32 106.5h1.25M73.5 33.5h1.25M34.5 104h1.25M27.5 101.5h1.25M30 100h1.25M34 102h1.25M27.5 105h1.25M26.5 103.5h1.25M29.5 106.5h1.25M68.5 30h1.25M30.5 106.5h1.25M69.5 35.5h1.25M27 102h1.25M67 32.5h1.25M72.5 31h1.25M34 104.5h1.25M73 32h1.25M33.5 101h1.25M32.5 106h1.25M69 30h1.25M28 101h1.25M67 32h1.25M33.5 101.5h1.25M34 102.5h1.25M70 35.5h1.25M27 103h1.25M33.5 105h1.25M70.5 30h1.25M27.5 102h1.25M73 33.5h1.25M31.5 100.5h1.25M73 33h1.25M71.5 30.5h1.25M69.5 30h1.25M71 35h1.25M72 34.5h1.25M30 106.5h1.25M30.5 100.5h1.25M29 101h1.25M72 31h1.25M73 32.5h1.25M31 106.5h1.25M34 104h1.25M27 102.5h1.25M67 33h1.25M70 30h1.25M34 103.5h1.25M33.5 102h1.25M29.5 106h1.25M70.5 30.5h1.25M34 103h1.25M72.5 34h1.25M67.5 32h1.25M68.5 35h1.25M28 105h1.25M68 34.5h1.25M69 35h1.25M27.5 102.5h1.25M72.5 32h1.25M30 106h1.25M30.5 106h1.25M72 31.5h1.25M30 100.5h1.25M33.5 103h1.25M70 35h1.25M28 102h1.25M69.5 35h1.25M33.5 104h1.25M28 101.5h1.25M33.5 102.5h1.25M28.5 101.5h1.25M69.5 30.5h1.25M31.5 101h1.25M72.5 32.5h1.25M27.5 104.5h1.25M33 101.5h1.25M72 33.5h1.25M32.5 101h1.25M29.5 101h1.25M72 32h1.25M71 34.5h1.25M31.5 105.5h1.25M33.5 103.5h1.25M28 102.5h1.25M68 32h1.25M33 105h1.25M70 34.5h1.25M27.5 103.5h1.25M31 101h1.25M29.5 105.5h1.25M28 103h1.25M31 106h1.25M72 33h1.25M33 104.5h1.25M29.5 101.5h1.25M33 103.5h1.25"/>
<path stroke="#50c840" stroke-width="1.25" d="M30 105.5h1.25M69.5 31h1.25M32.5 105h1.25M29.5 101.5h1.25M28 103.5h1.25M71.5 31.5h1.25M72 33h1.25M70.5 31h1.25M72 32h1.25M28 103h1.25M31 101h1.25M28.5 104.5h1.25M68.5 31.5h1.25M31.5 105.5h1.25M30 101h1.25M68 32h1.25M30.5 101h1.25M69.5 34.5h1.25M72 32.5h1.25M32.5 104.5h1.25M28.5 102.5h1.25M30.5 105.5h1.25M33 103h1.25M28 104h1.25M28.5 102h1.25M69.5 34h1.25M30.5 101.5h1.25M33 104h1.25M32 105h1.25M69 34h1.25M29.5 105h1.25M28.5 103.5h1.25M69 31.5h1.25M31 101.5h1.25M71 33.5h1.25M29 102h1.25M28.5 103h1.25M29 102.5h1.25M32.5 102.5h1.25M71.5 32.5h1.25M31.5 101.5h1.25M70 34h1.25M71 34h1.25M69 32h1.25M71 31.5h1.25M31.5 105h1.25M69 33.5h1.25M30 101.5h1.25M71 32h1.25M30 105h1.25M30 102h1.25M70 31.5h1.25M29.5 102h1.25M70.5 34h1.25M32.5 104h1.25M70.5 33.5h1.25M31.5 104.5h1.25M32 104h1.25M71 33h1.25M70.5 32h1.25M71 32.5h1.25M69.5 32h1.25M29.5 104.5h1.25M32 103h1.25M70 33.5h1.25M30 104.5h1.25M32 102.5h1.25M29 103h1.25M31 102h1.25M29.5 102.5h1.25M29 104h1.25M29.5 103h1.25M29 103.5h1.25M70.5 33h1.25M31.5 102.5h1.25M31.5 104h1.25M69.5 32.5h1.25M31.5 103h1.25M32 103.5h1.25M69.5 33h1.25M29.5 104h1.25M29.5 103.5h1.25M30 102.5h1.25M31.5 103.5h1.25M70 32.5h1.25M31 104.5h1.25M31 103h1.25M31 104h1.25M30 103.5h1.25M31 103.5h1.25M30.5 104h1.25M30 104h1.25M30 103h1.25M30.5 103.5h1.25"/>
</g>
<rect x="23.5" y="21.2" width="88.5" height="87.3" fill="none" stroke="#5a5a5a" stroke-width="1.2"/>
<text x="20.5" y="107" font-size="5" text-anchor="end" fill="#555">10<tspan font-size="3.6" dy="-2">0</tspan></text>
<text x="20.5" y="88.3" font-size="5" text-anchor="end" fill="#555">10<tspan font-size="3.6" dy="-2">1</tspan></text>
<text x="20.5" y="65.5" font-size="5" text-anchor="end" fill="#555">10<tspan font-size="3.6" dy="-2">2</tspan></text>
<text x="20.5" y="44.9" font-size="5" text-anchor="end" fill="#555">10<tspan font-size="3.6" dy="-2">3</tspan></text>
<text x="20.5" y="28.8" font-size="5" text-anchor="end" fill="#555">10<tspan font-size="3.6" dy="-2">4</tspan></text>
<text x="28.5" y="116" font-size="5" text-anchor="middle" fill="#555">10<tspan font-size="3.6" dy="-2">0</tspan></text>
<text x="48.6" y="116" font-size="5" text-anchor="middle" fill="#555">10<tspan font-size="3.6" dy="-2">1</tspan></text>
<text x="68.8" y="116" font-size="5" text-anchor="middle" fill="#555">10<tspan font-size="3.6" dy="-2">2</tspan></text>
<text x="88.9" y="116" font-size="5" text-anchor="middle" fill="#555">10<tspan font-size="3.6" dy="-2">3</tspan></text>
<text x="109" y="116" font-size="5" text-anchor="middle" fill="#555">10<tspan font-size="3.6" dy="-2">4</tspan></text>
<path d="M23.5 105.2h2M23.5 99.6h1M23.5 96.2h1M23.5 94h1M23.5 92.1h1M23.5 90.6h1M23.5 89.3h1M23.5 88.4h1M23.5 87.4h1M23.5 86.5h2M23.5 79.7h1M23.5 75.6h1M23.5 72.8h1M23.5 70.6h1M23.5 68.7h1M23.5 67.1h1M23.5 66h1M23.5 64.9h1M23.5 63.7h2M23.5 57.5h1M23.5 53.8h1M23.5 51.4h1M23.5 49.3h1M23.5 47.6h1M23.5 46.2h1M23.5 45.2h1M23.5 44.1h1M23.5 43.1h2M23.5 38.3h1M23.5 35.4h1M23.5 33.4h1M23.5 31.8h1M23.5 30.5h1M23.5 29.4h1M23.5 28.6h1M23.5 27.8h1M23.5 27h2M27.5 108.5v-2M33.5 108.5v-1M37.2 108.5v-1M39.6 108.5v-1M41.6 108.5v-1M43.2 108.5v-1M44.6 108.5v-1M45.6 108.5v-1M46.6 108.5v-1M47.6 108.5v-2M53.7 108.5v-1M57.3 108.5v-1M59.7 108.5v-1M61.7 108.5v-1M63.3 108.5v-1M64.7 108.5v-1M65.7 108.5v-1M66.7 108.5v-1M67.8 108.5v-2M73.8 108.5v-1M77.4 108.5v-1M79.8 108.5v-1M81.8 108.5v-1M83.4 108.5v-1M84.9 108.5v-1M85.9 108.5v-1M86.9 108.5v-1M87.9 108.5v-2M93.9 108.5v-1M97.5 108.5v-1M100 108.5v-1M102 108.5v-1M103.6 108.5v-1M105 108.5v-1M106 108.5v-1M107 108.5v-1M108 108.5v-2" stroke="#555" stroke-width="0.6" fill="none"/>
<rect x="51.2" y="21.8" width="37.3" height="57.5" fill="none" stroke="#666" stroke-width="1.1"/>
<text x="72.7" y="90.4" font-size="10.5" text-anchor="middle" stroke="#000" stroke-width="0.15">40.2</text>
<line x1="91.5" y1="45.6" x2="118" y2="45.6" stroke="#000" stroke-width="1.2"/>
<path d="M123 45.6L117 43L117 48.2Z"/>
<text x="176.3" y="15.3" font-size="10.7" text-anchor="middle" stroke="#000" stroke-width="0.15">Gr-1<tspan font-size="8.6" dy="-3.6">+</tspan><tspan dy="3.6" dx="2.2">/CD11b</tspan><tspan font-size="8.6" dy="-3.6">+</tspan></text>
<g filter="url(#sb)">
<path stroke="#a0a6ea" d="M213 89.5h1M138.5 28h1M213.5 29.5h1M185.5 91h1M129.5 28.5h1M208.5 75.5h1M145.5 88.5h1M210.5 39.5h1M215 51.5h1M180.5 82.5h1M188 77h1M138 92h1M188 34.5h1M129.5 92h1M190.5 69.5h1M195.5 61.5h1M197 53.5h1M175 27h1M169.5 79h1M149.5 31.5h1M133.5 91.5h1M192.5 58.5h1M153.5 82h1M185.5 67.5h1M150 32h1M187 43h1M185 67h1M168 76h1M158 30h1M177.5 33h1M186.5 53.5h1M161 29.5h1M183 64h1M184.5 45h1M183 41.5h1M176 71.5h1M155 79h1M179.5 37h1M163.5 30h1M136 86.5h1M180.5 65.5h1M175 33.5h1M172.5 70.5h1M183.5 53.5h1M175 69h1M170 32h1M176.5 66.5h1M182.5 55.5h1M165.5 71.5h1M160.5 73.5h1M171.5 33.5h1M171.5 69h1M181 56.5h1M176.5 65.5h1M148 37.5h1M181 50.5h1M180.5 58h1M156 34h1M131 41h1M160 73h1M169.5 33.5h1M160.5 72.5h1M176 38.5h1M166 33h1M165.5 33h1M141.5 42h1M164.5 69.5h1M173 65.5h1M177 60.5h1M154.5 76h1M140 43h1M176 61.5h1M162 33.5h1M169.5 66.5h1M149 38.5h1M167.5 34.5h1M135.5 43h1M138 82h1M142 43h1M142 80.5h1M129 45h1M173 62.5h1M173.5 62.5h1M169 65.5h1M174.5 61h1M146 79.5h1M160.5 35h1M146 79h1M137 81.5h1M133.5 44h1M129 46.5h1M129 46h1M150 77h1M165 66h1M128.5 47h1M150.5 39h1M173.5 41h1M161 35.5h1M151 39h1M153.5 37.5h1M142.5 79.5h1M133.5 81.5h1M140 45h1M129 79.5h1M141.5 45h1M159.5 36h1M152.5 38.5h1M166.5 64h1M136.5 45.5h1M158.5 36.5h1M174.5 45.5h1M147 78h1M172 59.5h1M173 58h1M137.5 45.5h1M172.5 58.5h1M172 41.5h1M170 61.5h1M142.5 45h1M161.5 67h1M173.5 44.5h1M153.5 38h1M168 38h1M129 48h1M152.5 39h1M171 40.5h1M164.5 37h1M132 80h1M131.5 46.5h1M173.5 53.5h1M144 44.5h1M131 79.5h1M145 78h1M137 80h1M174 48.5h1M144.5 78h1M172.5 44h1M129 78h1M162.5 65h1M167 38h1M160 67.5h1M129 49h1M173.5 50.5h1M131.5 79.5h1M172.5 55.5h1M170.5 41.5h1M151 40h1M148.5 76h1M128.5 77.5h1M173 46.5h1M153.5 39h1M163.5 64h1"/>
<path stroke="#8890e4" d="M135 80h1M144 78h1M156 70.5h1M141.5 46.5h1M170 57.5h1M171 43h1M129 77.5h1M130.5 78.5h1M161.5 65h1M169 58.5h1M165 62h1M135.5 47h1M130.5 48.5h1M171 55h1M128.5 77h1M163 63h1M157.5 38.5h1M171.5 53h1M159 66.5h1M169 57.5h1M155.5 39h1M149 42.5h1M158 38.5h1M157 69h1M167.5 59h1M164 62h1M128.5 76h1M165 61h1M133.5 48h1M156 69.5h1M151 73.5h1M162.5 63h1M129.5 50.5h1M135 79h1M156.5 69h1M170 44.5h1M156.5 39.5h1M129 76h1M154.5 71h1M170.5 47.5h1M167 58h1M149.5 43h1M170.5 51.5h1M163.5 39.5h1M152.5 72.5h1M155 70h1M128.5 75h1M160.5 64h1M152 72.5h1M169.5 53h1M167.5 57h1M162.5 39h1M165.5 59.5h1M129 51.5h1M168 55.5h1M129.5 51.5h1M165.5 40.5h1M138 48.5h1M164.5 59.5h1M168.5 54.5h1M167.5 42h1M162.5 39.5h1M130.5 77h1M151 42.5h1M170 50.5h1M133 49.5h1M169.5 47h1M137.5 49h1M132.5 77.5h1M138 49h1M161.5 62.5h1M169.5 50h1M154 70h1M147 45.5h1M149.5 43.5h1M154 41h1M150.5 73h1M161 62.5h1M169 49.5h1M169 47h1M132 50.5h1M129 52.5h1M152 72h1M161 40h1M162.5 60.5h1M130.5 76h1M169 50h1M160 63h1M160.5 62.5h1M163.5 59.5h1M159 64h1M149.5 44h1M167.5 54h1M133.5 50h1M129.5 75h1M146 47h1M146.5 75h1M164.5 58h1M168.5 48h1M129 53.5h1M134 50h1M168 46h1M158.5 40.5h1M162 60.5h1M161.5 61h1M128.5 54.5h1M166.5 43.5h1M149 73.5h1M132 51h1M137.5 50h1M165 42h1M129 74.5h1M150 44h1M166.5 54.5h1M129.5 74.5h1M137 50h1M143 49h1M158.5 64h1M167.5 45.5h1M163.5 58.5h1M168 47h1M161.5 60h1M138.5 50h1M163.5 41.5h1M151 44h1M166 43.5h1M135.5 50.5h1M159.5 41h1M129 54h1M145 75h1M128.5 73.5h1M152 43h1M152.5 43h1M131.5 51.5h1M166.5 44.5h1M156.5 66h1M129 54.5h1M128.5 73h1M156 66.5h1M164.5 56.5h1M149.5 45h1M165 56h1M158 41.5h1M153.5 69.5h1M156.5 41.5h1M142 76h1M161.5 59.5h1M162.5 58.5h1M147 74h1M166.5 52.5h1M167.5 49.5h1M145.5 48h1M165 43h1M137 50.5h1M157.5 41.5h1M158 63.5h1M160.5 60.5h1M133.5 51h1M165 43.5h1M135 76.5h1M131 52.5h1M150.5 44.5h1M154 68.5h1M166.5 51h1M130.5 53.5h1M166 44.5h1M150.5 45h1M163 57h1M158 63h1M158.5 42h1M166.5 49.5h1M153 43.5h1M139.5 51h1M161.5 42h1M160.5 60h1M155 42.5h1M166 45.5h1M145 49h1M132.5 75.5h1M136.5 76h1"/>
<path stroke="#6a76dc" d="M131 74.5h1M146.5 48h1M165 54h1M146 48.5h1M153 69h1M162 57.5h1M166 50h1M149.5 72h1M149.5 46h1M165 45h1M139 51h1M148 47h1M162 57h1M153.5 68h1M164.5 44.5h1M165.5 50.5h1M164.5 54h1M165 52.5h1M162 43h1M145.5 74h1M147.5 73h1M137 76h1M129.5 72.5h1M154.5 67h1M160.5 42.5h1M139.5 75.5h1M130 73h1M163.5 55h1M129 56h1M164.5 53h1M158 62h1M164 44.5h1M132.5 53h1M158 42.5h1M153.5 67.5h1M139.5 51.5h1M159 60.5h1M151 45.5h1M134.5 52h1M129 71.5h1M134 75.5h1M153 68.5h1M157 63h1M145.5 73.5h1M133 75h1M152.5 44.5h1M165 48h1M138.5 75.5h1M134 52.5h1M143.5 74h1M130 55.5h1M152 45h1M138.5 52h1M129.5 56.5h1M129.5 72h1M157.5 62h1M161 57h1M159 60h1M152.5 45h1M160 43.5h1M145.5 73h1M163 45h1M151.5 69.5h1M151 46h1M160.5 57.5h1M150.5 46.5h1M155 44h1M132.5 53.5h1M144.5 73.5h1M142.5 51.5h1M164.5 48.5h1M134 53h1M155 64.5h1M157 62h1M131 55h1M128.5 58.5h1M128.5 59.5h1M163 53.5h1M131.5 54h1M161.5 56h1M163 53h1M158.5 43.5h1M159.5 58h1M159.5 43.5h1M145 50.5h1M164 51h1M163.5 46.5h1M150 47h1M129 70h1M158.5 59.5h1M130.5 55.5h1M145 73h1M163.5 52h1M148.5 48.5h1M129 58.5h1M154.5 65h1M131.5 54.5h1M132 73.5h1M163 46h1M141 74.5h1M158 60h1M147 72h1M133 74h1M160.5 44.5h1M135.5 53h1M164 49h1M158.5 59h1M154 45h1M128 68h1M129.5 71h1M163.5 49h1M159 58.5h1M140 52.5h1M143 51.5h1M159.5 57.5h1M139.5 74.5h1M129.5 70.5h1M130 71.5h1M162 53.5h1M131.5 73h1M163 52h1M160 57h1M135 53h1M146 72.5h1M160 44.5h1M150 48h1M137.5 53h1M129.5 57.5h1M156.5 61.5h1M161.5 45.5h1M128.5 68h1M137 53h1M160.5 55.5h1M162 53h1M157 60.5h1M156.5 45h1M143.5 73.5h1M162.5 47.5h1M157 44.5h1M150.5 47.5h1M130 71h1M128.5 61h1M161 45.5h1M129 69h1M130.5 56.5h1M163 48.5h1M131 55.5h1M141 74h1M147.5 50h1M154 46h1M157.5 45h1M133.5 73.5h1M148 49.5h1M132.5 73.5h1M133.5 54h1M142.5 52.5h1M146.5 50.5h1M129.5 70h1M161 54h1M154 65h1M155 62.5h1M128 65h1M155 63h1M160 45.5h1M162.5 49.5h1M161.5 47h1M128.5 64h1M160.5 54.5h1M149 49h1M143 52.5h1M157 45.5h1M129 59.5h1M153.5 46.5h1M156 45.5h1M156.5 45.5h1M141.5 53h1M154 46.5h1M152.5 66h1M145.5 51.5h1M151 68h1M132 55.5h1M129.5 59h1M149 49.5h1M159.5 46h1M155.5 46h1M158 58h1M134 73.5h1M135 74h1M132 72.5h1M128.5 65h1M128.5 63h1M161 47h1M145.5 72h1M129 60.5h1M155 46h1M161 47.5h1M150.5 48.5h1M138.5 74h1M129 67.5h1M140.5 73.5h1M129 60h1M159 56h1M156.5 60h1M129 61h1M156.5 59.5h1M144 72.5h1M153.5 47h1M151 67.5h1M161.5 48h1M138 53.5h1M147 51h1M129 62h1M158.5 46h1M157 59h1M157 46h1M133 73h1M140.5 53.5h1M145.5 52h1M155.5 46.5h1M152 48h1M161 52h1M129.5 68.5h1M158.5 56.5h1"/>
<path stroke="#4a5ad4" d="M129.5 59.5h1M145 72h1M132 56h1M130 59h1M129.5 68h1M156.5 59.5h1M154 63h1M131 71h1M153.5 47h1M159.5 54.5h1M154.5 62.5h1M128.5 65h1M128.5 64.5h1M142 53h1M160 53.5h1M157.5 57h1M155 62h1M138.5 54h1M144 52.5h1M156.5 59h1M153 64.5h1M149 69.5h1M161 51h1M158.5 55.5h1M129.5 69h1M154.5 47h1M137.5 73.5h1M158 56.5h1M155.5 60.5h1M161 49.5h1M159.5 54h1M129 61h1M130.5 70h1M154 47.5h1M153 48h1M141 73h1M129 66h1M142 53.5h1M159 47h1M160 48.5h1M140 54h1M155 47h1M157.5 47h1M143.5 53h1M132.5 72h1M158 56h1M134.5 55h1M157 57h1M143 72.5h1M129.5 61h1M155.5 47.5h1M160 50.5h1M140.5 54h1M137 54.5h1M154 48h1M157.5 47.5h1M147 52h1M160 50h1M136 73h1M129.5 67h1M129 65h1M133.5 72.5h1M156 58.5h1M148.5 51h1M150 50.5h1M133 72h1M158 55h1M130 59.5h1M159 48.5h1M143.5 72h1M131 70h1M129.5 66h1M159.5 51.5h1M129 65.5h1M150.5 67.5h1M159.5 50h1M150 68h1M154 48.5h1M129 64h1M134.5 55.5h1M131.5 70.5h1M129.5 62h1M143.5 53.5h1M133 56.5h1M151.5 66h1M150.5 50h1M130.5 59.5h1M159 49h1M144.5 53.5h1M144.5 53h1M130.5 59h1M154.5 48h1M149.5 68h1M137 73h1M158 54.5h1M155 59h1M129.5 66.5h1M151.5 50h1M133 71.5h1M156 48h1M147 70h1M152 65h1M159 49.5h1M154.5 60h1M144.5 71.5h1M129.5 65h1M146 53h1M129.5 65.5h1M148 69.5h1M153 49.5h1M135 72.5h1M158 49h1M139 54.5h1M137 55h1M158.5 50h1M142 54h1M158.5 52.5h1M136.5 55h1M154 49h1M140.5 72.5h1M129.5 64.5h1M136.5 55.5h1M157.5 49.5h1M151.5 65h1M158 50h1M130.5 60h1M132 58h1M153.5 61h1M156 56h1M152.5 63.5h1M151 51h1M148.5 68.5h1M157 49.5h1M146 53.5h1M145 53.5h1M154.5 49.5h1M138 55h1M156.5 49.5h1M136 55.5h1M150.5 51.5h1M154 59.5h1M157.5 52.5h1M154 60h1M145 70.5h1M157 54h1M151 66h1M156 49.5h1M148 52.5h1M157.5 51.5h1M147 53h1M156.5 54h1M149 68h1M154.5 58.5h1M156.5 54.5h1M156.5 50h1M142.5 54.5h1M143.5 71.5h1M153.5 50h1M155.5 56h1M139 72.5h1M143.5 54h1M157 52h1M130.5 68h1M155.5 50h1M147.5 53h1M134 56.5h1M155 57.5h1M150 67h1M151.5 51h1M151 65h1M139 72h1M134.5 56.5h1M133 57h1M143 54.5h1M150 52h1M153.5 60.5h1M135 72h1M136.5 72h1M151.5 64.5h1M156 55h1M154.5 58h1M156 54.5h1M152 51.5h1M140 72h1M155.5 55.5h1M133 71h1M148 53h1M137.5 72h1M155 57h1M147.5 69h1M149.5 52.5h1M152 64h1M130.5 61.5h1M156 54h1M148.5 68h1M146.5 53.5h1M134.5 71.5h1M130.5 60.5h1M155.5 54h1M132.5 70.5h1M135.5 56h1M131 60.5h1M134 71.5h1M137.5 55.5h1M131 68h1M155.5 53.5h1M150 52.5h1M155.5 51.5h1M151 52h1M132 69.5h1M134 57h1M147.5 53.5h1M131.5 69h1M146 54h1M151.5 63.5h1M144 54.5h1M155 52h1M151.5 52h1M154.5 51.5h1M151 52.5h1M150 66.5h1M142.5 71h1M151 64.5h1M154 52h1M154.5 52.5h1M154.5 55.5h1M138 72h1M139 55.5h1M147.5 54h1M149.5 66.5h1M150.5 53h1M152.5 61.5h1M154.5 53h1M145 54.5h1M153.5 58.5h1M130.5 67h1M130.5 65.5h1M143.5 71h1M134.5 57h1M148 53.5h1M138.5 72h1M154 53h1M138.5 56h1M143.5 55h1M152 62h1M136 56.5h1M151 64h1"/>
<path stroke="#2e58d0" stroke-width="1.25" d="M138.5 56h1.25M154 54.5h1.25M133 70h1.25M153.5 53.5h1.25M141 55.5h1.25M139 71.5h1.25M150.5 53.5h1.25M150.5 64.5h1.25M150 53.5h1.25M146.5 54.5h1.25M151 63.5h1.25M135 71h1.25M131.5 61h1.25M153.5 55.5h1.25M143 55h1.25M131.5 60.5h1.25M152 53.5h1.25M131.5 67.5h1.25M150.5 54h1.25M153 55.5h1.25M147 54.5h1.25M147.5 54.5h1.25M142.5 71h1.25M150 54h1.25M131 67h1.25M151 64h1.25M136.5 71.5h1.25M153 57h1.25M152.5 54h1.25M143 55.5h1.25M132 60h1.25M150 65h1.25M153 55h1.25M144 70.5h1.25M152 61.5h1.25M136.5 56.5h1.25M140 56h1.25M149.5 54h1.25M134.5 57.5h1.25M147.5 68h1.25M131.5 67h1.25M131 64h1.25M152.5 55.5h1.25M139 56h1.25M133 58.5h1.25M145 55h1.25M152.5 56h1.25M152 54.5h1.25M151.5 62h1.25M149 54.5h1.25M151.5 61.5h1.25M133.5 70h1.25M145.5 69.5h1.25M143.5 55.5h1.25M131 66.5h1.25M150.5 64h1.25M152.5 56.5h1.25M152 55h1.25M146 69h1.25M152.5 58h1.25M150.5 63.5h1.25M151.5 54.5h1.25M148.5 54.5h1.25M150.5 54.5h1.25M148.5 67h1.25M132.5 59h1.25M134.5 58h1.25M144 55.5h1.25M141 56h1.25M145 69.5h1.25M145.5 69h1.25M151 62.5h1.25M147 68.5h1.25M136.5 57h1.25M150 55h1.25M149.5 55h1.25M139 71h1.25M151 63h1.25M152 58.5h1.25M132 60.5h1.25M142 56h1.25M152 58h1.25M145.5 55.5h1.25M131 65h1.25M152 56.5h1.25M131.5 66h1.25M147.5 55h1.25M152 57.5h1.25M131.5 62h1.25M132 61h1.25M133 59h1.25M147.5 67.5h1.25M152 57h1.25M150.5 63h1.25M149 55h1.25M148 55h1.25M151.5 59h1.25M145 55.5h1.25M151 55.5h1.25M137 71h1.25M146 55.5h1.25M141.5 70.5h1.25M149.5 65.5h1.25M140 71h1.25M151.5 57.5h1.25M137.5 57h1.25M132.5 60h1.25M138 57h1.25M132 67.5h1.25M151 57h1.25M150 56h1.25M150.5 56h1.25M150.5 62.5h1.25M131.5 65.5h1.25M131.5 64h1.25M142 56.5h1.25M136.5 70.5h1.25M151 60.5h1.25M150 63.5h1.25M138.5 70.5h1.25M136 70.5h1.25M147 56h1.25M137 70.5h1.25M147 67.5h1.25M147.5 67h1.25M148 56h1.25M149 56h1.25M133 68.5h1.25M140.5 56.5h1.25M149.5 56.5h1.25M144 56h1.25M150.5 58h1.25M135.5 70h1.25M150 57h1.25M140.5 70.5h1.25M135 70h1.25M150.5 60.5h1.25M131.5 65h1.25M150 62.5h1.25M148 66.5h1.25M146 56h1.25M144.5 69h1.25M145.5 56h1.25M150 57.5h1.25M148 56.5h1.25"/>
<path stroke="#2098c8" stroke-width="1.25" d="M146 56.5h1.25M133.5 68.5h1.25M145 56.5h1.25M150 58h1.25M150 57.5h1.25M140.5 57h1.25M135 69.5h1.25M142.5 56.5h1.25M134.5 59h1.25M142.5 69.5h1.25M139.5 70.5h1.25M132 65h1.25M149 64.5h1.25M132 66h1.25M148 65.5h1.25M136 70h1.25M132.5 61h1.25M132.5 67h1.25M137.5 57.5h1.25M145.5 56.5h1.25M145.5 68.5h1.25M150 58.5h1.25M149.5 63.5h1.25M146.5 56.5h1.25M134 59.5h1.25M136.5 58h1.25M144 57h1.25M138 70h1.25M149 64h1.25M137 70h1.25M133.5 60h1.25M149 57.5h1.25M149.5 58h1.25M148 57h1.25M147.5 66h1.25M149.5 63h1.25M146 67.5h1.25M134.5 59.5h1.25M133 67.5h1.25M140.5 70h1.25M132.5 65.5h1.25M139.5 70h1.25M149.5 59h1.25M148.5 57.5h1.25M139.5 57.5h1.25M135.5 69.5h1.25M146.5 67h1.25M146 57h1.25M134 60h1.25M149.5 60h1.25M149 63h1.25M149 58.5h1.25M141.5 57.5h1.25M149 63.5h1.25M149.5 61h1.25M132.5 66.5h1.25M140 70h1.25M134.5 60h1.25M147.5 57.5h1.25M133 61h1.25M147.5 65.5h1.25M141.5 69.5h1.25M140 69.5h1.25M133 62h1.25M143.5 68.5h1.25M149 59h1.25M136.5 69.5h1.25M142.5 69h1.25M140.5 57.5h1.25M142.5 57.5h1.25M149 62.5h1.25M141 57.5h1.25M133.5 67h1.25M134.5 68.5h1.25M133 66h1.25M149 61.5h1.25M136 59h1.25M135.5 69h1.25M146.5 66.5h1.25M147 66h1.25M144 57.5h1.25M134 61h1.25M149 60h1.25M132.5 64.5h1.25M149 62h1.25M149 61h1.25M143.5 57.5h1.25M134 60.5h1.25M141.5 69h1.25M134 67.5h1.25M140.5 69.5h1.25M149 60.5h1.25M147 58h1.25M141.5 58h1.25M137.5 69.5h1.25M138 69.5h1.25M148 64h1.25M148 64.5h1.25M136.5 69h1.25M136 69h1.25M133.5 66.5h1.25M146 67h1.25M133 63.5h1.25M135 68.5h1.25M136.5 59h1.25M148 59h1.25M133 64.5h1.25M133.5 62h1.25M134.5 60.5h1.25M133 64h1.25M144.5 67.5h1.25M138.5 69.5h1.25M141 69h1.25M133.5 66h1.25M138.5 69h1.25M148.5 62.5h1.25M133.5 65.5h1.25M147.5 64.5h1.25M137.5 69h1.25M145 58h1.25M135 60h1.25M144 68h1.25"/>
<path stroke="#30b878" stroke-width="1.25" d="M144.5 58h1.25M140 58.5h1.25M148 60h1.25M134.5 67h1.25M140.5 58.5h1.25M133.5 64h1.25M136.5 68.5h1.25M139 58.5h1.25M148 61.5h1.25M134.5 67.5h1.25M148 60.5h1.25M133.5 66h1.25M148 61h1.25M136 60h1.25M136 68.5h1.25M141 68.5h1.25M135.5 68h1.25M145 58.5h1.25M147.5 60h1.25M139.5 59h1.25M137 68.5h1.25M137.5 68.5h1.25M134 65.5h1.25M145.5 58.5h1.25M135 61h1.25M138.5 69h1.25M139.5 69h1.25M147 59.5h1.25M138 68.5h1.25M135.5 60.5h1.25M147.5 63.5h1.25M138.5 59h1.25M141.5 68.5h1.25M144.5 58.5h1.25M146 65.5h1.25M146 59h1.25M140 59h1.25M147 63.5h1.25M134 63.5h1.25M147 60.5h1.25M142.5 68h1.25M135.5 67.5h1.25M135.5 61h1.25M136.5 68h1.25M146.5 64.5h1.25M144.5 59h1.25M138.5 68.5h1.25M144 59h1.25M136.5 60h1.25M136 60.5h1.25M140.5 59h1.25M137 60h1.25M139 68.5h1.25M142 59h1.25M134.5 62.5h1.25M135 66.5h1.25M145.5 66h1.25M134 64.5h1.25M145 59h1.25M146.5 64h1.25M134.5 66h1.25M137.5 60h1.25M147 61h1.25M136.5 60.5h1.25M144 67h1.25M139 59.5h1.25M142 68h1.25M135.5 61.5h1.25M147 62h1.25M135 62h1.25M134.5 63h1.25M144 59.5h1.25M145 65.5h1.25M146.5 61h1.25M136 67h1.25M146.5 63h1.25M136 61h1.25M140 59.5h1.25M134.5 64h1.25M134.5 65.5h1.25M144.5 59.5h1.25M143.5 59.5h1.25M135 62.5h1.25M134.5 64.5h1.25M141 68h1.25M134.5 65h1.25M141.5 67.5h1.25M141 67.5h1.25M146.5 62h1.25M137.5 60.5h1.25M137 60.5h1.25M146.5 61.5h1.25M146 64h1.25M139.5 60h1.25M135 63.5h1.25M144.5 60h1.25M135 65.5h1.25M145.5 60.5h1.25M136.5 61h1.25M146 62h1.25M136.5 67h1.25M137 61h1.25M142 67h1.25M145 65h1.25M141.5 67h1.25M145 60.5h1.25M143.5 66.5h1.25M135.5 66h1.25M137 67h1.25M135 64h1.25M145.5 61h1.25M140 60h1.25M136 66h1.25M141.5 60h1.25M144 66h1.25M144 60h1.25M140 67.5h1.25M145.5 62h1.25M145.5 62.5h1.25M137.5 67h1.25M135.5 64h1.25M136 62h1.25M142 66.5h1.25M145 61h1.25M143.5 60.5h1.25M139.5 67.5h1.25M145.5 61.5h1.25M141 60h1.25"/>
<path stroke="#50c840" stroke-width="1.25" d="M142.5 66.5h1.25M135.5 65h1.25M139 60.5h1.25M145.5 62.5h1.25M144.5 64.5h1.25M142 66.5h1.25M143.5 60.5h1.25M135.5 64.5h1.25M143 60.5h1.25M136.5 66.5h1.25M135.5 64h1.25M144.5 65h1.25M137.5 66.5h1.25M136.5 62h1.25M137.5 61.5h1.25M144 61h1.25M144 65h1.25M142 60.5h1.25M140.5 60.5h1.25M138.5 67h1.25M141.5 60.5h1.25M145 63h1.25M136.5 65.5h1.25M137 66h1.25M140.5 66.5h1.25M144.5 63.5h1.25M141 66.5h1.25M136.5 63h1.25M136 64h1.25M139 66.5h1.25M142 61h1.25M144 64.5h1.25M141.5 66.5h1.25M139 61h1.25M143.5 65h1.25M138.5 66.5h1.25M138 66h1.25M142.5 65.5h1.25M144 64h1.25M139.5 66.5h1.25M137 65h1.25M139 61.5h1.25M144 63h1.25M137 63.5h1.25M136.5 64h1.25M143 61.5h1.25M137 63h1.25M140 61.5h1.25M141.5 61h1.25M137 64h1.25M137.5 62.5h1.25M138 65.5h1.25M141.5 61.5h1.25M142 61.5h1.25M143 62h1.25M140 66h1.25M137.5 65h1.25M143 64.5h1.25M137.5 63h1.25M137 64.5h1.25M138 62.5h1.25M139 66h1.25M139.5 62h1.25M143.5 62.5h1.25M143.5 63h1.25M142 65.5h1.25M142 62h1.25M138.5 65.5h1.25M142 65h1.25M143 64h1.25M140 62h1.25M142.5 62.5h1.25M142.5 64h1.25M143 63h1.25M140.5 62h1.25M138.5 65h1.25M138.5 63h1.25M142.5 64.5h1.25M141 62h1.25M139 63h1.25M138.5 64.5h1.25M142 63.5h1.25M142 63h1.25M142 64h1.25M139 64h1.25M141 64.5h1.25M140.5 63h1.25M139.5 63.5h1.25M140 63h1.25M140 64.5h1.25M141.5 63.5h1.25M141 63h1.25M139.5 64h1.25M141 63.5h1.25M141 64h1.25M140.5 63.5h1.25"/>
</g>
<rect x="127.4" y="21.2" width="88.9" height="87.3" fill="none" stroke="#5a5a5a" stroke-width="1.2"/>
<text x="132.4" y="116" font-size="5" text-anchor="middle" fill="#555">10<tspan font-size="3.6" dy="-2">0</tspan></text>
<text x="152.6" y="116" font-size="5" text-anchor="middle" fill="#555">10<tspan font-size="3.6" dy="-2">1</tspan></text>
<text x="172.9" y="116" font-size="5" text-anchor="middle" fill="#555">10<tspan font-size="3.6" dy="-2">2</tspan></text>
<text x="193.1" y="116" font-size="5" text-anchor="middle" fill="#555">10<tspan font-size="3.6" dy="-2">3</tspan></text>
<text x="213.3" y="116" font-size="5" text-anchor="middle" fill="#555">10<tspan font-size="3.6" dy="-2">4</tspan></text>
<path d="M127.4 105.2h2M127.4 99.6h1M127.4 96.2h1M127.4 94h1M127.4 92.1h1M127.4 90.6h1M127.4 89.3h1M127.4 88.4h1M127.4 87.4h1M127.4 86.5h2M127.4 79.7h1M127.4 75.6h1M127.4 72.8h1M127.4 70.6h1M127.4 68.7h1M127.4 67.1h1M127.4 66h1M127.4 64.9h1M127.4 63.7h2M127.4 57.5h1M127.4 53.8h1M127.4 51.4h1M127.4 49.3h1M127.4 47.6h1M127.4 46.2h1M127.4 45.2h1M127.4 44.1h1M127.4 43.1h2M127.4 38.3h1M127.4 35.4h1M127.4 33.4h1M127.4 31.8h1M127.4 30.5h1M127.4 29.4h1M127.4 28.6h1M127.4 27.8h1M127.4 27h2M131.4 108.5v-2M137.5 108.5v-1M141.1 108.5v-1M143.5 108.5v-1M145.6 108.5v-1M147.2 108.5v-1M148.6 108.5v-1M149.6 108.5v-1M150.6 108.5v-1M151.6 108.5v-2M157.7 108.5v-1M161.3 108.5v-1M163.8 108.5v-1M165.8 108.5v-1M167.4 108.5v-1M168.8 108.5v-1M169.8 108.5v-1M170.8 108.5v-1M171.9 108.5v-2M177.9 108.5v-1M181.6 108.5v-1M184 108.5v-1M186 108.5v-1M187.6 108.5v-1M189 108.5v-1M190.1 108.5v-1M191.1 108.5v-1M192.1 108.5v-2M198.1 108.5v-1M201.8 108.5v-1M204.2 108.5v-1M206.2 108.5v-1M207.9 108.5v-1M209.3 108.5v-1M210.3 108.5v-1M211.3 108.5v-1M212.3 108.5v-2" stroke="#555" stroke-width="0.6" fill="none"/>
<ellipse cx="174" cy="57.7" rx="14.6" ry="18.7" fill="none" stroke="#555" stroke-width="1"/>
<text x="175" y="87.7" font-size="10.5" text-anchor="middle" stroke="#000" stroke-width="0.15">3.51</text>
<text x="67.7" y="128" font-size="10.2" text-anchor="middle" stroke="#000" stroke-width="0.15">4T1-bearing</text>
<g filter="url(#sb)">
<path stroke="#a0a6ea" d="M99.5 163.5h1M88 208h1M49.5 144h1M51 143.5h1M72.5 215.5h1M55.5 141h1M82 208.5h1M84.5 205h1M93.5 188.5h1M39 159h1M84.5 203h1M91.5 191h1M85 202h1M55.5 144h1M67.5 212.5h1M28.5 176.5h1M92 168.5h1M92 180.5h1M54.5 146.5h1M56.5 215h1M90.5 163.5h1M42.5 159.5h1M54.5 214.5h1M66 210.5h1M40.5 163h1M89 185h1M86 139.5h1M46 157h1M47 156.5h1M38.5 166.5h1M31.5 176h1M74 207h1M63 134.5h1M57 148.5h1M88.5 181h1M76.5 204.5h1M87.5 155.5h1M57.5 148.5h1M84 194h1M79.5 200.5h1M64 208.5h1M88 178h1M54.5 212.5h1M58 147.5h1M43 163.5h1M87.5 181h1M86.5 146.5h1M40 167h1M52.5 154.5h1M39.5 167.5h1M87.5 166h1M27.5 184h1M47 217.5h1M63.5 135h1M59 209h1M60.5 141.5h1M57 151.5h1M52 156.5h1M86 147.5h1M60.5 207.5h1M85 186h1M77.5 200.5h1M28 185.5h1M67.5 206h1M86 156h1M55 155h1M32 180h1M60 207h1M85.5 182h1M50.5 158.5h1M83 190.5h1M86 176h1M51.5 212h1M70 204.5h1M53.5 157h1M86 168.5h1M43 167h1M61 142.5h1M37.5 174h1M28.5 186h1M50 160h1M66 205h1M55.5 156h1M84 185.5h1M55 156.5h1M65.5 204.5h1M53 209.5h1M50 161h1M78 197.5h1M54 158h1M84.5 141.5h1M57 206.5h1M81 192.5h1M85 162.5h1M56.5 207h1M53.5 209h1M26 191h1M58.5 206h1M40.5 171.5h1M49 162.5h1M85 149h1M48 163.5h1M57.5 206h1M62.5 139h1M41 171h1M54.5 207.5h1M60.5 147.5h1M41.5 170.5h1M85 145h1M63 138.5h1M83.5 140h1M49 211.5h1M58.5 205.5h1M46.5 214h1M84.5 176h1M29.5 187.5h1M67 203h1M83.5 183h1M48 164.5h1M39.5 174h1M81 191h1M73 200.5h1M62 141.5h1M84.5 167h1M80.5 135h1M82 188.5h1M62.5 203.5h1M78 195.5h1M83.5 181.5h1M51 209h1M60 153h1M69 202h1M81 190h1M42.5 216.5h1M60.5 203.5h1M74.5 199h1M34 182h1M24 197h1M79 194h1M46 167.5h1M28 191h1M44 169.5h1M52.5 207.5h1M66 202h1M84 155h1M62.5 140.5h1M52 208h1M83.5 179.5h1M73.5 199.5h1M35 181h1M59 204h1M62 143.5h1M83.5 157h1M61.5 147.5h1M40.5 174.5h1M58.5 157h1M58.5 203.5h1M50.5 164h1M76.5 196h1M75.5 197h1M83.5 162.5h1M67 201.5h1M49.5 165h1M31.5 187h1M39 217.5h1M59.5 156.5h1M83.5 170h1M75.5 196.5h1M45.5 212h1M26.5 195h1M60 156h1M83.5 172.5h1M81 187.5h1M29 190.5h1M76.5 195.5h1M72 199.5h1M29.5 190h1M61 154h1M71.5 199.5h1M83 177h1M63 141h1M83.5 172h1M60 156.5h1M48.5 209.5h1M43.5 172h1M31.5 188h1M82 183.5h1M82.5 179.5h1M56 160.5h1M49.5 165.5h1M58 159h1M32.5 186.5h1M33 185.5h1M83.5 154h1M29.5 191h1M69 200h1M54 205h1M54.5 204.5h1M63.5 139.5h1M78 192h1M84 146.5h1M50 207.5h1M83.5 144h1M70.5 199h1M44.5 212h1M83 170.5h1M25 200h1M64 200.5h1M31 189.5h1M49.5 166.5h1M80.5 186h1M58.5 202h1M83.5 142.5h1M62 147.5h1M82 181.5h1M82.5 162.5h1M60 201.5h1M44.5 172h1M82 139h1M71.5 198h1M56.5 161.5h1M58.5 160h1M69.5 199h1M63.5 200h1M51 166h1M31 190h1M63.5 141h1M83 153.5h1M61.5 156h1M39.5 215h1M42 213h1M61.5 155h1M61 157h1M39 179.5h1M82 177h1M45 172h1M82.5 157.5h1M38.5 215.5h1M49.5 206.5h1M81 183h1M68.5 199h1M46.5 170h1M56.5 162h1M39.5 214.5h1M31.5 190.5h1M24.5 217.5h1M27.5 197h1M71 198h1M25.5 201h1M60.5 158.5h1M41.5 213h1M24 205h1M35 185.5h1M82.5 155h1M78 134.5h1M81 138h1M46.5 209h1M81.5 179.5h1M56 162.5h1M50.5 205.5h1M34 217h1M83.5 147h1M68 198.5h1M34 217.5h1M33 217.5h1M62.5 199.5h1M82 176.5h1M62 199.5h1M58.5 161h1M56.5 201.5h1M77 134h1M79.5 136h1M50 205.5h1M62.5 147.5h1M40.5 213h1M28.5 218h1M81.5 138.5h1M32.5 217.5h1M44 174h1M73 196h1M26 217h1M42.5 211.5h1M68 134.5h1M55 164h1M81 181.5h1M35 216h1M50.5 167.5h1M46 172h1M68 198h1M82 171h1M53.5 203h1M81.5 179h1M43.5 175h1M83.5 146.5h1M82 175.5h1M53 166h1M62.5 148h1M39 180.5h1M24.5 213h1M24.5 207.5h1M74 195h1M71.5 196.5h1M83 144.5h1M34 216h1M72.5 196h1M48.5 169.5h1M32 190.5h1M32 217h1M82.5 142h1M82 168.5h1M81 181h1M82 173.5h1M82 164.5h1M30.5 217h1M24.5 209.5h1M62 156.5h1M27 216h1M30 194.5h1M50 205h1M77.5 190h1M25.5 214h1M61.5 158h1M35.5 186h1M38 214h1M54 202h1M81.5 177.5h1M83 150.5h1M27 201.5h1M28.5 216.5h1M45 208.5h1M43 176h1M34.5 187.5h1M28.5 216h1M59.5 161.5h1M26 214.5h1M53 166.5h1M62.5 156.5h1M73 195h1M61.5 158.5h1M82 170h1M29.5 216h1M27.5 200.5h1M32.5 216h1M81 178h1M46.5 207.5h1M43.5 210h1M81 179.5h1M57.5 163.5h1M38.5 213h1M65 197.5h1M67 197.5h1M83 148.5h1M40.5 212h1M81.5 169h1M58.5 199.5h1M28 215.5h1M70 134h1M37 184.5h1M51.5 167.5h1M35.5 186.5h1M26.5 214h1M65.5 138h1M55.5 165h1M27.5 201.5h1M41 179h1M61 198.5h1M40 212h1M29 215.5h1M44.5 208.5h1M34 189h1M56 200.5h1M70.5 196h1M81.5 157.5h1M36 214h1M47.5 206h1M39.5 212h1M32 215.5h1M64.5 140.5h1M48 171.5h1M73 194.5h1M42 178.5h1M56 200h1M30 215.5h1M40 181h1M39 182.5h1M66.5 137h1M61.5 159.5h1M43.5 209h1M82 154.5h1M26 210h1M81.5 171.5h1M39.5 181.5h1M82.5 142.5h1M81.5 168h1M30.5 196h1M43.5 177h1M50.5 169.5h1M32 193.5h1M28.5 200.5h1M81.5 172h1M61 161h1M36 187h1M27.5 202.5h1M61.5 197.5h1M28.5 213.5h1M74 193.5h1M49 171h1M27 204.5h1M63.5 143h1M41.5 209.5h1M27.5 212.5h1M33.5 191h1M28.5 213h1M39.5 211h1M55 200h1M41 180.5h1M63 154h1M30.5 214h1M43 178h1M69 196h1M78.5 186h1M82.5 145h1M43 208.5h1M56 166h1M36.5 212.5h1M82.5 145.5h1M34 190.5h1M81 160.5h1M53 168h1M28 203.5h1M63 152h1M32.5 193.5h1M30.5 197.5h1M28 204h1M65.5 138.5h1M30 198h1M70 195.5h1M37 212h1M80.5 161h1M63 158h1M33.5 213.5h1M27.5 208.5h1M31.5 195.5h1M27.5 209h1M30.5 213h1M30 213h1M80.5 163.5h1M70 195h1M31 213h1M63 158.5h1M27.5 206.5h1M59.5 163.5h1M61.5 161h1M44 207.5h1M31 196.5h1M40 210h1M49 171.5h1M78 186.5h1M64 196.5h1M28.5 211.5h1M54.5 167h1M65.5 196h1M80.5 160.5h1"/>
<path stroke="#8890e4" d="M42.5 208h1M36.5 212h1M55.5 167h1M82.5 146.5h1M72.5 193.5h1M31.5 195.5h1M40 210h1M30 212h1M39 184h1M53.5 168h1M33 212.5h1M28.5 210h1M64.5 196h1M69 135h1M30.5 212.5h1M29 201.5h1M37.5 186.5h1M50 202.5h1M74.5 134h1M31.5 212.5h1M49 172h1M56.5 166h1M28 207.5h1M59 164.5h1M28 208h1M31 212.5h1M38.5 210.5h1M30 199.5h1M82 152h1M64 196h1M29 210.5h1M51.5 170h1M39.5 210h1M57.5 198h1M63.5 144h1M80.5 161h1M35.5 211.5h1M70.5 194.5h1M44 178h1M60.5 196.5h1M30.5 211.5h1M50 171.5h1M41 208.5h1M76 189.5h1M82 151.5h1M40.5 183h1M29.5 202.5h1M34.5 191.5h1M82.5 147h1M46 175.5h1M34 192.5h1M59.5 197h1M46.5 204.5h1M32.5 195h1M65 195.5h1M44.5 177.5h1M31.5 197.5h1M82 144h1M58.5 165h1M48.5 173h1M52.5 169.5h1M29 204.5h1M29 209h1M63.5 152h1M71.5 134.5h1M69.5 135h1M29 205.5h1M37.5 187.5h1M30 210.5h1M62 161.5h1M45.5 205h1M56.5 198h1M81 155h1M74 191.5h1M58.5 165.5h1M40 184h1M39 185.5h1M70 194h1M38 210h1M82.5 149h1M47.5 203.5h1M29.5 204.5h1M57.5 197.5h1M66.5 195h1M39 209h1M30.5 200.5h1M52 170h1M35.5 211h1M53.5 169.5h1M36 190h1M31.5 210.5h1M37.5 210h1M55.5 198.5h1M78.5 183.5h1M33 211h1M50 201.5h1M31.5 198h1M30 208.5h1M29.5 206.5h1M73 192h1M63.5 195.5h1M46 176.5h1M29.5 206h1M31 210h1M49 202h1M67 194.5h1M36 191h1M44.5 178.5h1M52 170.5h1M50 201h1M39.5 185.5h1M30 208h1M40.5 208h1M49 173.5h1M63.5 195h1M65.5 194.5h1M82 149h1M36 210h1M68.5 194h1M56.5 197.5h1M46.5 176h1M82 150h1M36 190.5h1M80.5 156.5h1M63.5 147h1M80 172.5h1M49.5 201h1M30.5 208h1M76.5 187h1M44.5 179h1M60.5 164.5h1M81.5 141.5h1M76 188.5h1M36.5 190.5h1M60.5 195.5h1M38.5 208.5h1M80.5 157.5h1M55.5 197.5h1M30.5 203h1M71 134.5h1M34 209.5h1M31.5 200.5h1M43.5 205.5h1M61 164.5h1M32.5 209.5h1M32.5 197.5h1M30.5 205h1M36.5 209h1M64 194.5h1M47.5 202.5h1M43.5 180.5h1M69.5 193.5h1M62.5 162h1M68.5 136h1M51.5 171.5h1M48.5 174.5h1M77 186.5h1M41.5 206.5h1M75.5 135h1M31 203.5h1M58.5 166.5h1M31 206h1M62.5 162.5h1M35 193h1M62 163h1M55 197.5h1M64.5 155.5h1M33.5 209h1M80 165h1M59 166.5h1M59.5 195.5h1M55.5 169h1M75 189h1M51 199.5h1M31 204h1M53 198.5h1M57 196.5h1M64.5 156.5h1M36.5 208.5h1M81 141.5h1M31.5 203.5h1M77.5 184.5h1M40 185.5h1M41 184h1M31.5 202h1M35 194h1M36.5 191h1M39 207.5h1M47 176.5h1M69.5 193h1M41.5 206h1M49.5 174h1M39.5 186.5h1M59 195.5h1M32.5 207.5h1M79.5 138.5h1M36.5 208h1M65.5 194h1M79.5 176h1M64.5 155h1M45.5 178.5h1M81.5 151h1M43.5 204.5h1M33.5 208h1M33.5 197.5h1M66.5 193.5h1M37 191h1M62 163.5h1M37.5 207.5h1M34 196h1M34 208h1M50 200h1M47.5 201.5h1M39.5 206.5h1M32 203h1M35.5 194h1M56.5 168.5h1M38.5 188.5h1M40.5 206h1M77.5 136h1M40.5 185.5h1M65.5 193.5h1M70 192.5h1M55.5 169.5h1M60.5 165.5h1M46 178.5h1M32 202.5h1M64.5 154h1M64 159.5h1M32.5 206h1M45 179.5h1M64 160.5h1M61.5 164.5h1M55 170h1M51.5 172.5h1M48.5 175.5h1M59.5 167h1M74 135h1M54.5 197h1M80.5 155h1M79.5 168.5h1M65.5 140h1M54 197h1M35 195.5h1M41 185.5h1M32.5 204.5h1M59 167.5h1M44 203.5h1M35 207h1M56 169.5h1M33.5 199.5h1M33 205h1M34 198h1M35.5 207h1M64 193.5h1M56.5 196h1M64.5 144.5h1M50 199h1M62.5 164h1M61 194h1M36 193.5h1M35.5 194.5h1M52.5 172h1M55.5 196h1M39 188.5h1M50.5 198.5h1M80.5 156h1M39.5 206h1M33 203.5h1M35.5 206.5h1M34.5 196.5h1M33.5 200.5h1M33.5 205h1M44 181h1M79 163.5h1M36.5 206.5h1M35.5 195.5h1M66.5 193h1M34 205.5h1M33 202.5h1M64 150.5h1M40 187.5h1M35 196h1M53 172h1M36 194.5h1M54 171.5h1M66 193h1M33.5 202h1M47 200.5h1M42.5 184h1M79 159.5h1M42.5 183.5h1M33.5 202.5h1M69 192h1M64.5 160.5h1M39 205.5h1M50 175h1M41.5 185.5h1M46.5 178.5h1M54.5 171.5h1M77.5 182h1M42.5 203.5h1M79 174h1M61.5 165.5h1M75.5 186.5h1M36 195.5h1M55.5 170.5h1M38 191.5h1M34.5 204.5h1M35.5 205.5h1M81.5 143h1M34 201.5h1M37 193h1M53 197h1M40.5 204.5h1M35 205h1M53.5 172h1M39.5 189h1M68 192h1M59.5 168h1M41 204.5h1M45 202h1M39 189.5h1M41.5 204h1M65.5 140.5h1M71 191.5h1M71.5 135h1M58 169h1M39.5 205h1M40 188h1M81.5 144.5h1M38 205.5h1M57.5 169.5h1M37 205.5h1M34.5 203.5h1M74.5 188h1M37.5 205h1M47.5 200h1M56 195.5h1M48.5 177h1M44 202.5h1M65 158.5h1M58.5 169h1M73 189.5h1M56 170.5h1M35.5 204.5h1M79 173.5h1M41 186.5h1M64 162h1M41.5 186h1M56.5 195h1M37 193.5h1M65 142.5h1M49.5 175.5h1M65 157.5h1M79 161.5h1M51.5 197.5h1M46 180h1M75.5 186h1M70.5 191h1M60.5 167.5h1M69 136.5h1M55.5 171h1M64.5 148.5h1M38.5 191.5h1M35 203h1M57.5 170h1M42.5 185h1M74.5 187.5h1M61 193h1M49.5 198.5h1M39.5 204h1M49 176.5h1M58.5 194h1M41 187.5h1M79.5 139h1M61.5 166.5h1M58.5 169.5h1M43 184.5h1M52 197h1M66.5 192h1M35 201.5h1M56 195h1M61.5 193h1M35.5 199h1M42 202.5h1M70 136h1M65.5 157.5h1M37.5 194h1M36 203h1M38 204h1M39 191h1M77.5 181.5h1M36 197h1M38 193h1M52 196.5h1M57.5 194h1M51 175h1M46.5 180h1M78.5 177.5h1M49 198.5h1M43 202h1M39 203.5h1M44.5 182.5h1M74 187.5h1M55 195h1M77 182h1M65.5 156h1M46.5 199.5h1M52.5 173.5h1M35.5 201.5h1M54.5 172.5h1M37.5 194.5h1M44 183h1M57 170.5h1M79 166h1M39.5 203.5h1M43.5 201.5h1M36 198h1M36 198.5h1M70.5 190.5h1M41.5 187.5h1M41.5 187h1M71 190.5h1M37 203h1M73.5 135.5h1M36 200.5h1M41.5 202.5h1M79 158h1M64 192h1M47 199h1M36 201h1M65 154h1M63.5 192h1M56 171.5h1M39 192.5h1M63 165h1M62.5 192h1M37.5 195.5h1M65.5 159h1M75 186.5h1M77.5 180h1M56.5 194h1M69 191h1M52 196h1M59 169.5h1M43.5 201h1M37.5 202.5h1M54 195h1M59 193h1M43 201h1M66 140h1M46 181h1M78.5 173h1M40.5 190h1M78.5 175h1M37.5 196.5h1M41 189h1M38.5 202.5h1M59 170h1M59.5 169.5h1M49.5 177h1M59.5 193h1M38 194.5h1M72 135.5h1M37.5 197h1M37.5 196h1M60 192.5h1M63.5 191.5h1M78.5 160.5h1M63.5 164.5h1M43 185.5h1M49 197.5h1M78.5 171h1M59.5 192.5h1M76 183.5h1M37.5 197.5h1M49.5 197h1M40.5 190.5h1M78 176.5h1M37.5 200.5h1M38 201.5h1M62 167h1M77.5 178.5h1M64.5 149h1M78.5 165.5h1M74.5 186h1M64.5 163h1M46.5 181h1M54.5 194.5h1M38 197h1M75 136h1M44.5 184h1M55 173h1M38 198.5h1M55.5 172.5h1M68.5 190.5h1M38 199h1M38.5 195.5h1M51.5 195.5h1M79.5 155.5h1M54.5 173.5h1M78 161h1M43 200h1M64.5 145.5h1M59.5 192h1M57.5 193h1M81.5 147.5h1M42.5 187.5h1M38.5 200h1M43.5 199.5h1M57.5 171.5h1M38 197.5h1M39 200.5h1M46.5 181.5h1M42 200h1M41 200.5h1M51 176h1M44 199.5h1M58 192.5h1M42 188.5h1M40.5 200.5h1M65.5 161h1M66 157.5h1M59 171h1M57 172h1M45 199h1M54.5 194h1M39.5 200h1M41.5 200h1M46 198h1M79.5 156h1M75.5 184h1M65 163h1M43 199.5h1M74.5 185.5h1M55 173.5h1M69 190h1M39.5 199.5h1M65.5 142.5h1M70 189.5h1M59 192h1M64 164.5h1M65 190.5h1M78.5 173.5h1M78 177h1M39 198.5h1M60 191.5h1M40.5 192.5h1M39 196.5h1M39.5 195h1M58.5 171.5h1M70.5 189.5h1M52.5 194.5h1M75.5 136.5h1M48 179.5h1M64 190.5h1M65 162.5h1M49 196.5h1M44 186h1M54 194h1M41 199.5h1M41 191.5h1M39.5 197h1M45.5 183.5h1M76.5 137h1M66 141.5h1M66 161h1M78 165.5h1M56.5 173h1M78 164.5h1M40 198.5h1M76 136.5h1M43.5 187h1M39.5 196h1M40 196h1M44.5 198h1M75 184.5h1M80.5 143h1M41 192.5h1M40 195h1M46 197.5h1M42.5 198.5h1M59 191.5h1M41 198.5h1M61 170h1M46.5 197h1M40.5 198h1M72 188.5h1M54 193.5h1M50 195.5h1M57 192h1M76.5 181h1M41 198h1M73 187h1M40.5 195.5h1M77.5 137.5h1M47 196.5h1M53 194h1M40.5 197h1M66 156.5h1M42 198h1M40.5 194h1M52 194.5h1M78 160.5h1M41 197h1M41 193.5h1M49.5 195.5h1M41 194.5h1M41 194h1M58 172.5h1M66.5 158.5h1M41 196.5h1M56 174h1M64.5 190h1M44 197.5h1M45.5 197h1M41 195.5h1M41.5 192.5h1M41.5 197h1M59 191h1M43.5 188.5h1M59.5 172h1M64.5 165h1M42.5 197h1M75.5 182.5h1M46 184h1M56 192h1M45.5 185h1M43 197h1M41.5 194.5h1M66.5 189.5h1M66 162h1M62.5 168.5h1M73.5 186.5h1M70 189h1M69.5 189h1M75 184h1M42 196.5h1M71.5 188h1M48.5 195h1M67.5 138.5h1M66 155h1M44.5 187h1M68 189.5h1M46.5 183.5h1M48.5 180.5h1M44 196.5h1M49.5 195h1M81 147h1M77.5 176h1M65.5 162.5h1M50.5 178.5h1M43 196.5h1M48 195h1M43 190.5h1M81 147.5h1M78 170h1M70 188.5h1M56.5 174h1M60.5 171h1M43.5 196.5h1M68 138.5h1M66 154h1M69 189h1M43.5 189.5h1M64 189.5h1M42.5 192h1M44 196h1M48.5 181h1M61.5 170h1M54 192.5h1M66 189.5h1M47.5 195.5h1M44.5 187.5h1M44.5 188h1M65 151h1M42.5 191.5h1M46 195.5h1M52.5 177h1M60 190h1M76 181h1M62.5 169h1M50.5 179h1M59 190.5h1M61.5 189.5h1M68.5 189h1M42.5 192.5h1M77.5 165h1M43 195.5h1M50 194h1M66.5 161h1M53.5 193h1M43 191h1M57 191.5h1M45.5 186.5h1M44 189.5h1M66.5 189h1M46 185h1M53 193h1M64 189h1M78.5 139h1M43 194.5h1M47.5 183h1M49 180.5h1M72 187h1M68 189h1M67 189h1M45.5 195.5h1M55.5 191.5h1M62 189.5h1M58.5 190.5h1M43 193.5h1M77.5 173.5h1M43.5 194.5h1M75 183h1M60 172h1M47.5 194.5h1M43.5 194h1M56 191.5h1M65.5 144h1M73 136h1M48.5 182h1M49 181h1M65 145.5h1M44 192.5h1M77.5 172.5h1M48 194h1M77.5 164.5h1M77.5 172h1M63 169h1M67 160h1M55 191.5h1M57.5 174h1M60.5 172h1M50.5 180h1M46 194h1M64 167.5h1M53.5 177h1M64.5 188.5h1M65 188.5h1M57 190.5h1M52.5 192.5h1M45.5 187.5h1M45.5 193.5h1M75 182.5h1M45 188.5h1M76.5 178.5h1M49 193.5h1M49.5 193h1M44.5 191.5h1M55 176h1M60 189.5h1M45.5 188.5h1M46 193.5h1M59 189.5h1M47.5 193.5h1M65.5 145h1M67 140h1M66 154.5h1M77.5 159h1M46.5 186h1M67 161h1M66 163h1M54 177h1M53.5 191.5h1M45 192h1M59.5 173.5h1M45.5 192.5h1M46.5 187h1M60.5 189h1M49.5 182h1M54 191.5h1M77 162.5h1M76.5 177.5h1M79.5 153.5h1M46 187.5h1M72 186.5h1M81 148h1M51.5 192h1M74.5 183h1M63 188h1M50 192.5h1M45.5 190h1M46.5 193h1M57.5 190h1M77 165h1M50.5 180.5h1"/>
<path stroke="#6a76dc" d="M47.5 192.5h1M50 192.5h1M55 176.5h1M57 190h1M52.5 191.5h1M62 188h1M70.5 187h1M55.5 176.5h1M45.5 190.5h1M74 136.5h1M75.5 181h1M79.5 153.5h1M77 166h1M61.5 172h1M46.5 192h1M49 182.5h1M76 179h1M49 183h1M80.5 145h1M46 190h1M65.5 144h1M49.5 192h1M52 191.5h1M58.5 175h1M57 175.5h1M77.5 171h1M55.5 190h1M48.5 192h1M47.5 186h1M67.5 159h1M47 187h1M56 190h1M52 179.5h1M60 188.5h1M72.5 185.5h1M67 157h1M59 174.5h1M55.5 177h1M65.5 149.5h1M47 186.5h1M77 167.5h1M47 191.5h1M56 176h1M47.5 186.5h1M65.5 165.5h1M74 184h1M50.5 191.5h1M48 191.5h1M63 187.5h1M77 175.5h1M52 191h1M64.5 167.5h1M47 190.5h1M56.5 189.5h1M79.5 142h1M47 188h1M66 187.5h1M76 178.5h1M47 187.5h1M67.5 158.5h1M65.5 148h1M67.5 139.5h1M67 157.5h1M47 190h1M77 171.5h1M66.5 187.5h1M67.5 159.5h1M68.5 187.5h1M48.5 185h1M64 168.5h1M54.5 178h1M52 180h1M66.5 154.5h1M58 189h1M73 185h1M70 187h1M50 191h1M54.5 190h1M48.5 185.5h1M49 191h1M65.5 187.5h1M72 185.5h1M72.5 185h1M66.5 163.5h1M51 191h1M55 190h1M55.5 177.5h1M76.5 177h1M61.5 173h1M67.5 187.5h1M71 186.5h1M63.5 170h1M50.5 182h1M48 186.5h1M48 186h1M72.5 136.5h1M47.5 188.5h1M54 190h1M47.5 188h1M66.5 187h1M59.5 175h1M67.5 160.5h1M50 182.5h1M49.5 190.5h1M74 183.5h1M78 156.5h1M51 181.5h1M64 187h1M76.5 176h1M56.5 189h1M53 179.5h1M52.5 190.5h1M66 187h1M48 189.5h1M62.5 171.5h1M58.5 188h1M60 187.5h1M54 179h1M67 187h1M80 142.5h1M50.5 190.5h1M65.5 150.5h1M48.5 186.5h1M76.5 163h1M54.5 178.5h1M52.5 190h1M53.5 190h1M50 183.5h1M77 171h1M51.5 190h1M65.5 145h1M68.5 138.5h1M52 190h1M69.5 138h1M48.5 189h1M61 174h1M58 176.5h1M49 189h1M72 185h1M63 186.5h1M73.5 183.5h1M57.5 188h1M76.5 162.5h1M49 188.5h1M61 187h1M64 170h1M64.5 168h1M66 186.5h1M58.5 176.5h1M55 189h1M67 140.5h1M75.5 179.5h1M62 173h1M80 143h1M74.5 137h1M68 160h1M65 168h1M57 177.5h1M59.5 187.5h1M56 188.5h1M77 168.5h1M71.5 185.5h1M64 169.5h1M77.5 157.5h1M63.5 186.5h1M76.5 173.5h1M50.5 183h1M58 177h1M49.5 189h1M59 187.5h1M76.5 160h1M61.5 174h1M49.5 185.5h1M74.5 181h1M49.5 185h1M65 186.5h1M77 170.5h1M75 180.5h1M53 189h1M52.5 181h1M68 160.5h1M57 188h1M58.5 187h1M49.5 187.5h1M53 180.5h1M58.5 177h1M50 189h1M70.5 186h1M63 172h1M56 178.5h1M77 158.5h1M59 176.5h1M54 189h1M76.5 171h1M61.5 174.5h1M50 184.5h1M60.5 186.5h1M76.5 173h1M50.5 188.5h1M50.5 189h1M59.5 176h1M60.5 175.5h1M50 186h1M50.5 184h1M80 152h1M55.5 188h1M76.5 159.5h1M52.5 189h1M57.5 177.5h1M69.5 186h1M68 159.5h1M72 184.5h1M66.5 186.5h1M74.5 181.5h1M54.5 179.5h1M76.5 169.5h1M68 161h1M66 186h1M62.5 186h1M76.5 166.5h1M55 188h1M61 186h1M75.5 179h1M62 174h1M76 163h1M50.5 185h1M61 175.5h1M65.5 167.5h1M58 178h1M69 186h1M53.5 188.5h1M51 184h1M78 156h1M60 176.5h1M64.5 170h1M61.5 185.5h1M76 176.5h1M56.5 187.5h1M59 177h1M75 180h1M65.5 186h1M51.5 188h1M73 183.5h1M52 188h1M74 182.5h1M51 185.5h1M52 183h1M51.5 183.5h1M70.5 185.5h1M52.5 182.5h1M55.5 179.5h1M63 185.5h1M51 186h1M54 181h1M61 176h1M64 185.5h1M57 179h1M71.5 185h1M52.5 183h1M67.5 163.5h1M60.5 185.5h1M63 173h1M52 187h1M68 158h1M70 185.5h1M51.5 185.5h1M79.5 143h1M76 164.5h1M57.5 179h1M58.5 178h1M53.5 187.5h1M55.5 187h1M54 187.5h1M59 185.5h1M60.5 185h1M52 186.5h1M67.5 163h1M66.5 141.5h1M53.5 187h1M66 185.5h1M67 185.5h1M61 185h1M74 181.5h1M52 184.5h1M78.5 140.5h1M75 179.5h1M76.5 169h1M59.5 178h1M54 182h1M56.5 179.5h1M54.5 181.5h1M54.5 187h1M62 184.5h1M65 169.5h1M60.5 177.5h1M63.5 185h1M77 158h1M62 175h1M55.5 186.5h1M78.5 155h1M66 150h1M58 185.5h1M62.5 174h1M54.5 186.5h1M58.5 185h1M53 183.5h1M53.5 186h1M76 165h1M54 186.5h1M59.5 184.5h1M58 185h1M54.5 186h1M66.5 166h1M76 168.5h1M55 186h1M55.5 186h1M70 185h1M67.5 185.5h1M54 186h1M76 166.5h1M55 181.5h1M54 183h1M62 184h1M53.5 185.5h1M68 157.5h1M76 167.5h1M75 178h1M58 180h1M61 177.5h1M58.5 184.5h1M54.5 182.5h1M63 184h1M74.5 179.5h1M55.5 181.5h1M77.5 156h1M56 181.5h1M62 176h1M54 184.5h1M60 179h1M55.5 182h1M58.5 180h1M72 183.5h1M76 170h1M66.5 142.5h1M62 183.5h1M62 176.5h1M71 137.5h1M57 184.5h1M54.5 184.5h1M63.5 184h1M55 183h1M58 180.5h1M57.5 181h1M62.5 175.5h1M55.5 182.5h1M72.5 183h1M68 163h1M64 172.5h1M67 155h1M58 184h1M60.5 179h1M55.5 184.5h1M58 183.5h1M58 181h1M63 183.5h1M65.5 184.5h1M55.5 184h1M58 181.5h1M57 184h1M67 141.5h1M59.5 180.5h1M57 183.5h1M56.5 183h1M64 184h1M58 183h1M58.5 182h1M74.5 180h1M62.5 176.5h1M59 181.5h1M66 149.5h1M59.5 182h1M60 182h1M75.5 163.5h1M59.5 181.5h1M65 170.5h1M60.5 182h1M63.5 183.5h1M61 179.5h1M67.5 164.5h1M63.5 174.5h1M60 181.5h1M60 180.5h1M76 170.5h1M74 137h1M64.5 171.5h1M61 180h1M79.5 143.5h1M61 182h1M69 185h1M67.5 184.5h1M66.5 184.5h1M66 168.5h1M61.5 182h1M63 175h1M68.5 184.5h1M75.5 176.5h1M61 180.5h1M75.5 166.5h1M62 182h1M63 183h1M66 184h1M66 144.5h1M74 180h1M75 162.5h1M75.5 161h1M66.5 167.5h1M64 183h1M61.5 180h1M76 169h1M75.5 160h1M70 184.5h1M68.5 158.5h1M66 151h1M71 183.5h1M66.5 152.5h1M63.5 175h1M70 184h1M62 178.5h1M63 176.5h1M65.5 169.5h1M79.5 152h1M63.5 182.5h1M62 180.5h1M75.5 160.5h1M68 164h1M68 184.5h1M66 147h1M67 166.5h1M66 169h1M70.5 184h1M76 169.5h1M68.5 139h1M62.5 180.5h1M73 181.5h1M62.5 180h1M66 149h1M67.5 140.5h1M72 182.5h1M74.5 178h1M69 159h1M75 176.5h1M76 138h1M62.5 179.5h1M75.5 172h1M68 165h1M74 179.5h1M75.5 170h1M75 160.5h1M75 165h1M76 159h1M67 184h1M67 167.5h1M64.5 182.5h1M68.5 157h1M75.5 159.5h1M63 180h1M75 164h1M63 177.5h1M75 175.5h1M67 167h1M63.5 177.5h1M77 157h1M70.5 183.5h1M76.5 158h1M66.5 183.5h1M79.5 144h1M75.5 169.5h1M66 150.5h1M79 142h1M75.5 168.5h1M66 170h1M75 137.5h1M73 180.5h1M74.5 161.5h1M75.5 174.5h1M76.5 157.5h1M74.5 162.5h1M67 152.5h1M66 148.5h1M66 183h1M65 182h1M71 183h1M70 183.5h1M64.5 181.5h1M64 176.5h1M67.5 166h1M65.5 172h1M65 173h1M64.5 174.5h1M64 176h1M64 179h1M78 140.5h1M70 138.5h1M75.5 159h1M68.5 183h1M79.5 150.5h1M72.5 181h1M74.5 137.5h1M74.5 177h1M70.5 183h1M74.5 160h1M75 174.5h1M66.5 169h1M65 174h1M68 166.5h1M70 183h1M64.5 178.5h1M74.5 160.5h1M75 175h1M64.5 180h1M74.5 161h1M69.5 162.5h1M66 170.5h1M65 174.5h1M71 138h1M79.5 144.5h1M80 149h1M75 169.5h1M64.5 176.5h1M69 139h1M74.5 176.5h1M67.5 167.5h1M65.5 181.5h1M74 162h1M67 182h1M74 178h1M68.5 182.5h1M66 171h1M78.5 153.5h1M65 179.5h1M74 162.5h1M80 146.5h1M70.5 161.5h1M68 155h1M70.5 161h1M66.5 181.5h1M70.5 162h1M73.5 178.5h1M69.5 182.5h1M75 172h1M74.5 165.5h1M67.5 182h1M74 164h1M69 165h1M69 164.5h1M70 163h1M69 157.5h1M68.5 182h1M74 165h1M71.5 181.5h1M65 176.5h1M70 182h1M65.5 173.5h1M74 137.5h1M65.5 179.5h1M73.5 162.5h1M71.5 181h1M73.5 163h1M75 169h1M67.5 168.5h1M65.5 176h1M65.5 178.5h1M69.5 139h1M75 172.5h1M74.5 166.5h1M76.5 156.5h1M71 162.5h1M70 158.5h1M79.5 145.5h1M65.5 177.5h1M66.5 180.5h1M79.5 151h1M70.5 160h1M73 163h1M67.5 153.5h1M73.5 164h1M74 176h1M72 180h1M73 162h1M73.5 164.5h1M74 166.5h1M79.5 148.5h1M67 181h1M67.5 168h1M66 173h1M70 181.5h1M72.5 162h1M74.5 167.5h1M66.5 171.5h1M73 161h1M68.5 167h1M71.5 161.5h1M72.5 161h1M70.5 159.5h1M72 162h1M71 160.5h1M70 164.5h1M67 170.5h1M68 167.5h1M73 163.5h1M73.5 177.5h1M74 166h1M72 162.5h1M71 159.5h1M66 174h1M73 160.5h1M70.5 159h1M67 170h1M66 179h1M66.5 150h1M67.5 169.5h1M70.5 164h1M71.5 163h1M66.5 173h1M68 181h1M72.5 163.5h1M69.5 181h1M66 176.5h1M74 174.5h1M66 176h1M68 168h1M69.5 165.5h1M66 178.5h1M67.5 180h1M73.5 165.5h1M66 174.5h1M66.5 172h1M73.5 166h1M76.5 139h1M66.5 173.5h1M74 174h1M74.5 168.5h1M74 159h1M74.5 171h1M70.5 158.5h1M73.5 166.5h1M73 160h1M78.5 152.5h1M79.5 149h1M74 167.5h1M70 180.5h1M71 164h1M78 154h1M75.5 157.5h1M71.5 179.5h1M66.5 175h1M72 164h1M70 165.5h1M75 158h1M70.5 180.5h1M72.5 165h1M71 164.5h1M66.5 146.5h1M70 139h1M72 179h1M69 180.5h1M74 168.5h1M68.5 180h1M72.5 178.5h1M79.5 147h1M70.5 180h1M67 178.5h1M68 154h1M67 171.5h1M68 169.5h1M78.5 152h1M70 166h1M77 155.5h1"/>
<path stroke="#4a5ad4" d="M69 167.5h1M69 167h1M67 177h1M71.5 179h1M71.5 159h1M74 158.5h1M74 173.5h1M76 139h1M73 166h1M79.5 144.5h1M73 166.5h1M73.5 168.5h1M72 178.5h1M74 171h1M69 180h1M71 138.5h1M70.5 138.5h1M75 138.5h1M69.5 179.5h1M70 180h1M72.5 166h1M66.5 148h1M73.5 168h1M72 138h1M73.5 158.5h1M68 141.5h1M74 173h1M67 173.5h1M73 167.5h1M72.5 177h1M70.5 179.5h1M69 179.5h1M73.5 175h1M67 174.5h1M67 150.5h1M72.5 166.5h1M68.5 169h1M79.5 148h1M69.5 167h1M73.5 170h1M69 168h1M70.5 179h1M67.5 173.5h1M67.5 172.5h1M69.5 168h1M68 153.5h1M71.5 158.5h1M68 178h1M67.5 152.5h1M70 167.5h1M72.5 167.5h1M71.5 178h1M69 168.5h1M77 155h1M72.5 176.5h1M73.5 169.5h1M68.5 170h1M69 155h1M71.5 138.5h1M68 172.5h1M71 178.5h1M68 173h1M73 175.5h1M68 173.5h1M70 178.5h1M68.5 155h1M69.5 178.5h1M73 168.5h1M73.5 171h1M69 169h1M67.5 143h1M72 167h1M72.5 175.5h1M66.5 146.5h1M69 170h1M74 158h1M66.5 146h1M71.5 167h1M75.5 157h1M72 167.5h1M68 174.5h1M69 169.5h1M73 171.5h1M69 177.5h1M73 173.5h1M71.5 167.5h1M72 176h1M69.5 169.5h1M68.5 176h1M72 176.5h1M69.5 169h1M68.5 177h1M76.5 155h1M72.5 138.5h1M71.5 168h1M70 169h1M70.5 177.5h1M71 177h1M69.5 156h1M69 140h1M72.5 170h1M69 176.5h1M77.5 154h1M69 171h1M78 141.5h1M72.5 174h1M70.5 177h1M79 144.5h1M71.5 157.5h1M66.5 147.5h1M79 145h1M72.5 174.5h1M72.5 171.5h1M71.5 158h1M69 176h1M77.5 141h1M69 171.5h1M70 176.5h1M72 175.5h1M69.5 176h1M71.5 175.5h1M79 146h1M69 175h1M71.5 169h1M68 142h1M69 175.5h1M72.5 158h1M72.5 171h1M69.5 171h1M72 174h1M69.5 172h1M71 169.5h1M71 175.5h1M72 170h1M69 173.5h1M71 157.5h1M70 171h1M67 147h1M76 156h1M67.5 151.5h1M70.5 175.5h1M72 172.5h1M69.5 175h1M71 170h1M72 171.5h1M69.5 174.5h1M73.5 157.5h1M71.5 173.5h1M71.5 170.5h1M71.5 172h1M70 173h1M71 171h1M70 172.5h1M76.5 154.5h1M70 173.5h1M70.5 174h1M71 174h1M70 156h1M70.5 173.5h1M70.5 172h1M70.5 172.5h1M69.5 155h1M68 153h1M71 157h1M79 147h1M78 152.5h1M72 157h1M67 149h1M78 143h1M73 138.5h1M76 139.5h1M68 143h1M75 156h1M71.5 139h1M68.5 141.5h1M72.5 157h1M67 147.5h1M71.5 156.5h1M75.5 155.5h1M79 148.5h1M72.5 139h1M78.5 143.5h1M69 141h1M76 140h1M67 146.5h1M70.5 155.5h1M75.5 139.5h1M73 156.5h1M78 142.5h1M78.5 145h1M70 140.5h1M78 152h1M78.5 147.5h1M75 155.5h1M73.5 139h1M69 154h1M78 143.5h1M71.5 139.5h1M78.5 145.5h1M78.5 148h1M67.5 144.5h1M75.5 155h1M69.5 154.5h1M74.5 139.5h1M68 151.5h1M72.5 156h1M68.5 152.5h1M77 153h1M78.5 149.5h1M68.5 142h1M67.5 148h1M77 141.5h1M67.5 145h1M77.5 142.5h1M76 154h1"/>
<path stroke="#2e58d0" stroke-width="1.25" d="M74 139.5h1.25M69 153.5h1.25M69.5 153.5h1.25M69 141.5h1.25M67.5 149h1.25M73 156h1.25M75 155h1.25M68.5 143h1.25M67.5 144.5h1.25M76 154h1.25M78.5 145h1.25M76.5 141.5h1.25M67.5 148.5h1.25M78 143.5h1.25M73.5 155.5h1.25M77.5 143h1.25M78 144h1.25M70 154.5h1.25M78 150h1.25M75 140h1.25M70.5 140.5h1.25M72.5 139.5h1.25M67.5 146.5h1.25M67.5 147h1.25M69 142h1.25M78 149.5h1.25M70.5 154.5h1.25M70 154h1.25M68 144h1.25M77 142h1.25M68.5 143.5h1.25M68.5 142.5h1.25M68 145h1.25M78.5 147.5h1.25M71 154.5h1.25M75.5 154h1.25M78 145h1.25M68.5 151.5h1.25M68.5 151h1.25M77.5 151.5h1.25M72 140h1.25M76.5 142h1.25M76 153h1.25M77 152h1.25M68 150h1.25M71 140h1.25M70 153.5h1.25M76.5 152.5h1.25M77.5 150.5h1.25M75 154h1.25M68 148h1.25M74 140h1.25M71 140.5h1.25M76 153.5h1.25M72 155h1.25M77 142.5h1.25M78 146h1.25M69.5 142h1.25M68 147.5h1.25M76 141.5h1.25M75.5 153.5h1.25M76.5 152h1.25M78 148h1.25M77.5 150h1.25M75 140.5h1.25M76 152.5h1.25"/>
<path stroke="#2098c8" stroke-width="1.25" d="M69.5 142.5h1.25M72 154.5h1.25M76.5 142h1.25M68 146.5h1.25M71 141h1.25M74.5 140.5h1.25M76.5 142.5h1.25M71 140.5h1.25M75.5 153.5h1.25M76 152.5h1.25M68 148.5h1.25M69.5 152h1.25M69.5 151.5h1.25M69 150.5h1.25M77.5 149.5h1.25M73 154h1.25M71 153.5h1.25M76 142h1.25M77.5 146h1.25M72 154h1.25M77.5 145h1.25M74 154h1.25M70.5 153h1.25M74.5 141h1.25M75 153h1.25M76.5 151.5h1.25M70 142h1.25M68.5 145.5h1.25M77 144.5h1.25M74 141h1.25M75.5 152.5h1.25M72 141h1.25M69 143.5h1.25M69 144h1.25M68.5 146.5h1.25M74.5 153.5h1.25M77.5 148h1.25M74 153.5h1.25M72.5 153.5h1.25M77 144h1.25M70 142.5h1.25M73.5 153.5h1.25M73 141h1.25"/>
<path stroke="#30b878" stroke-width="1.25" d="M69 145h1.25M77.5 148h1.25M72.5 153.5h1.25M72 141h1.25M73 153.5h1.25M68.5 146.5h1.25M76 143h1.25M77 149.5h1.25M77 144.5h1.25M69 148.5h1.25M76.5 144h1.25M71.5 153h1.25M69.5 150h1.25M75 152.5h1.25M72 153h1.25M77 146h1.25M76.5 143h1.25M77 145.5h1.25M69.5 150.5h1.25M76.5 144.5h1.25M76.5 143.5h1.25M71 142h1.25M77 147h1.25M77 146.5h1.25M69 150h1.25M69 148h1.25M74.5 152.5h1.25M73.5 153h1.25M74 141.5h1.25M69 147h1.25M69 149h1.25M77 149h1.25M70.5 152h1.25M75 142h1.25M69 145.5h1.25M72.5 153h1.25M77 148h1.25M76.5 149h1.25M72 152.5h1.25M71.5 142h1.25M76.5 149.5h1.25M70.5 151.5h1.25M74.5 142h1.25M69.5 144h1.25M76 151h1.25M76 143.5h1.25M73 141.5h1.25M73 152.5h1.25M75.5 151.5h1.25M69.5 145h1.25M76 150h1.25M71 151.5h1.25M70 151h1.25M73.5 152.5h1.25M70 150h1.25M70 150.5h1.25M75 142.5h1.25M71.5 152h1.25M74 152.5h1.25M70 144.5h1.25M69.5 147h1.25M75.5 150.5h1.25M70.5 151h1.25M76.5 146h1.25M76.5 145.5h1.25M75 151.5h1.25M69.5 147.5h1.25M75.5 151h1.25"/>
<path stroke="#50c840" stroke-width="1.25" d="M69.5 145h1.25M70.5 143.5h1.25M70 149.5h1.25M76.5 147h1.25M75.5 143.5h1.25M76.5 145h1.25M72 152h1.25M74.5 142.5h1.25M69.5 145.5h1.25M76.5 148h1.25M69.5 148h1.25M71.5 151.5h1.25M75.5 144h1.25M75 151h1.25M76.5 147.5h1.25M76 145h1.25M76.5 145.5h1.25M72 142.5h1.25M76.5 146h1.25M74 142h1.25M75.5 150h1.25M69.5 146h1.25M69.5 147h1.25M70.5 150.5h1.25M71 151h1.25M71.5 142.5h1.25M76 145.5h1.25M71 143.5h1.25M69.5 147.5h1.25M74 151.5h1.25M72.5 152h1.25M70.5 144h1.25M72 151.5h1.25M70 148h1.25M70 145.5h1.25M76 147.5h1.25M75.5 144.5h1.25M73.5 151.5h1.25M75 143.5h1.25M74.5 151h1.25M70 147h1.25M73 151.5h1.25M72.5 142.5h1.25M75 144h1.25M70 146.5h1.25M71.5 151h1.25M74 151h1.25M72 143h1.25M74.5 143.5h1.25M75.5 149.5h1.25M74 143h1.25M70.5 150h1.25M75.5 149h1.25M70.5 149h1.25M71 150h1.25M75.5 145h1.25M71 144.5h1.25M76 146h1.25M70.5 148.5h1.25M70 147.5h1.25M73.5 143h1.25M76 147h1.25M75 149.5h1.25M71.5 150h1.25M76 146.5h1.25M71 149.5h1.25M73 151h1.25M74 143.5h1.25M75.5 145.5h1.25M71.5 150.5h1.25M72 150.5h1.25M71 144h1.25M70.5 147h1.25M72.5 143.5h1.25M74.5 150.5h1.25"/>
<path stroke="#c8e030" stroke-width="1.25" d="M70.5 145h1.25M75.5 146.5h1.25M70.5 147.5h1.25M71.5 150h1.25M73.5 150.5h1.25M71 145h1.25M70.5 148.5h1.25M74.5 150h1.25M75 145h1.25M75.5 147h1.25M75 149h1.25M71.5 144h1.25M70.5 145.5h1.25M75.5 146h1.25M71 149.5h1.25M71 148.5h1.25M75 145.5h1.25M72 143.5h1.25M73.5 143.5h1.25M71 149h1.25M71 145.5h1.25M74.5 144.5h1.25M74 144h1.25M72.5 150.5h1.25M73 143.5h1.25M72 150h1.25M74.5 149.5h1.25M73 150h1.25M71 146.5h1.25M75 147.5h1.25M71 147h1.25M74 149.5h1.25M75 146.5h1.25M72.5 144h1.25M73.5 144h1.25M71.5 149h1.25M71.5 148.5h1.25M75 147h1.25M73 144h1.25"/>
<path stroke="#f0a020" stroke-width="1.25" d="M71.5 145h1.25M74 149h1.25M71.5 145.5h1.25M71 146.5h1.25M74.5 145h1.25M73.5 149.5h1.25M71 147h1.25M74.5 145.5h1.25M71.5 148h1.25M72 149h1.25M72 145h1.25M74.5 148.5h1.25M74 145h1.25M71.5 148.5h1.25M73.5 149h1.25M74.5 147h1.25M74 148.5h1.25M74.5 148h1.25M71.5 146.5h1.25M73 145h1.25M71.5 146h1.25M73.5 145h1.25M74.5 146h1.25M72.5 149h1.25M73 149h1.25M71.5 147h1.25M74.5 146.5h1.25M74 146h1.25"/>
<path stroke="#e83020" stroke-width="1.25" d="M71.5 147h1.25M74 146h1.25M72.5 148.5h1.25M72.5 145.5h1.25M73.5 145.5h1.25M74 148h1.25M72 146.5h1.25M72 147.5h1.25M73 145.5h1.25M74 146.5h1.25M73 148.5h1.25M72.5 148h1.25M73.5 146h1.25M72.5 146.5h1.25M73 146h1.25M73 148h1.25M72.5 146h1.25M72.5 147.5h1.25M72.5 147h1.25M73 147.5h1.25"/>
</g>
<rect x="23.3" y="132.6" width="88.7" height="85.9" fill="none" stroke="#5a5a5a" stroke-width="1.2"/>
<text x="20.3" y="217" font-size="5" text-anchor="end" fill="#555">10<tspan font-size="3.6" dy="-2">0</tspan></text>
<text x="20.3" y="198.7" font-size="5" text-anchor="end" fill="#555">10<tspan font-size="3.6" dy="-2">1</tspan></text>
<text x="20.3" y="176.2" font-size="5" text-anchor="end" fill="#555">10<tspan font-size="3.6" dy="-2">2</tspan></text>
<text x="20.3" y="156" font-size="5" text-anchor="end" fill="#555">10<tspan font-size="3.6" dy="-2">3</tspan></text>
<text x="20.3" y="140.1" font-size="5" text-anchor="end" fill="#555">10<tspan font-size="3.6" dy="-2">4</tspan></text>
<text x="28.3" y="226" font-size="5" text-anchor="middle" fill="#555">10<tspan font-size="3.6" dy="-2">0</tspan></text>
<text x="48.5" y="226" font-size="5" text-anchor="middle" fill="#555">10<tspan font-size="3.6" dy="-2">1</tspan></text>
<text x="68.7" y="226" font-size="5" text-anchor="middle" fill="#555">10<tspan font-size="3.6" dy="-2">2</tspan></text>
<text x="88.8" y="226" font-size="5" text-anchor="middle" fill="#555">10<tspan font-size="3.6" dy="-2">3</tspan></text>
<text x="109" y="226" font-size="5" text-anchor="middle" fill="#555">10<tspan font-size="3.6" dy="-2">4</tspan></text>
<path d="M23.3 215.2h2M23.3 209.7h1M23.3 206.4h1M23.3 204.2h1M23.3 202.4h1M23.3 200.9h1M23.3 199.6h1M23.3 198.7h1M23.3 197.8h1M23.3 196.9h2M23.3 190.1h1M23.3 186.1h1M23.3 183.4h1M23.3 181.2h1M23.3 179.4h1M23.3 177.8h1M23.3 176.7h1M23.3 175.6h1M23.3 174.4h2M23.3 168.4h1M23.3 164.7h1M23.3 162.3h1M23.3 160.2h1M23.3 158.6h1M23.3 157.2h1M23.3 156.2h1M23.3 155.2h1M23.3 154.2h2M23.3 149.4h1M23.3 146.5h1M23.3 144.6h1M23.3 143h1M23.3 141.8h1M23.3 140.7h1M23.3 139.9h1M23.3 139.1h1M23.3 138.3h2M27.3 218.5v-2M33.4 218.5v-1M37 218.5v-1M39.4 218.5v-1M41.4 218.5v-1M43 218.5v-1M44.4 218.5v-1M45.5 218.5v-1M46.5 218.5v-1M47.5 218.5v-2M53.5 218.5v-1M57.2 218.5v-1M59.6 218.5v-1M61.6 218.5v-1M63.2 218.5v-1M64.6 218.5v-1M65.6 218.5v-1M66.6 218.5v-1M67.7 218.5v-2M73.7 218.5v-1M77.3 218.5v-1M79.8 218.5v-1M81.8 218.5v-1M83.4 218.5v-1M84.8 218.5v-1M85.8 218.5v-1M86.8 218.5v-1M87.8 218.5v-2M93.9 218.5v-1M97.5 218.5v-1M99.9 218.5v-1M101.9 218.5v-1M103.6 218.5v-1M105 218.5v-1M106 218.5v-1M107 218.5v-1M108 218.5v-2" stroke="#555" stroke-width="0.6" fill="none"/>
<rect x="51.3" y="134" width="38.3" height="56.7" fill="none" stroke="#666" stroke-width="1.1"/>
<text x="72.7" y="203.3" font-size="10.5" text-anchor="middle" stroke="#000" stroke-width="0.15">82.7</text>
<line x1="92.8" y1="160.1" x2="118" y2="160.1" stroke="#000" stroke-width="1.2"/>
<path d="M123 160.1L117 157.5L117 162.7Z"/>
<text x="174.5" y="130" font-size="10.7" text-anchor="middle" stroke="#000" stroke-width="0.15">Gr-1<tspan font-size="8.6" dy="-3.6">+</tspan><tspan dy="3.6" dx="2.2">/CD11b</tspan><tspan font-size="8.6" dy="-3.6">+</tspan></text>
<g filter="url(#sb)">
<path stroke="#a0a6ea" d="M158.5 204h1M208 138h1M198.5 134.5h1M159 198.5h1M191.5 197.5h1M158 196.5h1M207 160h1M145.5 147h1M152 193h1M197.5 141.5h1M192 192h1M200.5 176.5h1M178 195.5h1M201 165.5h1M188 190.5h1M192 142.5h1M162.5 191.5h1M197.5 154h1M141.5 189.5h1M188.5 188h1M184 190.5h1M172.5 137.5h1M190.5 145.5h1M188.5 143h1M193.5 150h1M197 164h1M152 150h1M172 138.5h1M196.5 163h1M183.5 141h1M149 155h1M139 161h1M161.5 143h1M189 146h1M179 190h1M156 147h1M144.5 188.5h1M163.5 142.5h1M148.5 188.5h1M190.5 180.5h1M164.5 142.5h1M192.5 176.5h1M167 142h1M148 160h1M193.5 158h1M152 154h1M179.5 142h1M138.5 162h1M147.5 160.5h1M183.5 186h1M148.5 188h1M181 143.5h1M151 158h1M155.5 188h1M146 161.5h1M191.5 176h1M193 167h1M159 147.5h1M191 155.5h1M129 165.5h1M169 143h1M187.5 149h1M185.5 183.5h1M190 177h1M183.5 185h1M180 144.5h1M131 184h1M148 161.5h1M187 181h1M133.5 184.5h1M181.5 146h1M135.5 163.5h1M181 146h1M192 163h1M192 167.5h1M192 163.5h1M163.5 146.5h1M186 150h1M192 165.5h1M181 185h1M176.5 145h1M172.5 144.5h1M191.5 162.5h1M188.5 154h1M188 178h1M153 158h1M186 150.5h1M182.5 147.5h1M178.5 145.5h1M183 148h1M191 161.5h1M151 161h1M175.5 186.5h1M177.5 186h1M168 145.5h1M182.5 148h1M133 184h1M157 152h1M190 173h1M135.5 184.5h1M156.5 153h1M179 185h1M155 155.5h1M180 147h1M164 186h1M189 174h1M159 186.5h1M168.5 186h1M132.5 165.5h1M145.5 163.5h1M169.5 185.5h1M162 149h1M170 146.5h1M167 147h1M190 163h1M189 171.5h1M154.5 158h1M186.5 178h1M152 162h1M189 172h1M169 147h1M170.5 146.5h1M181.5 182h1M157.5 186h1M157 154h1M183 181h1M163 185.5h1M183.5 151.5h1M165.5 148h1M186 154.5h1M171 147h1M153.5 186h1M175.5 184.5h1M175.5 184h1M184.5 153h1M149 186h1M156.5 156h1M165.5 148.5h1M129 168h1M169.5 147.5h1M135 165h1M136 165h1M188.5 162h1M184.5 178h1M158.5 154h1M172.5 147.5h1M183.5 152.5h1M185 177.5h1M187.5 172.5h1M156 157h1M162.5 150.5h1M164 149.5h1M136.5 165h1M157 155.5h1M165 184.5h1M183 152.5h1M188.5 168.5h1M176.5 148.5h1M173.5 148h1M172.5 184h1M159.5 153h1M155 160h1M178 149h1M169 184.5h1M146.5 164h1M184.5 177.5h1M157 156.5h1M187 173h1M166.5 184.5h1M181.5 151.5h1M182 180h1M153 185.5h1M173.5 183.5h1M144 184.5h1M187.5 168.5h1M163.5 150.5h1M157.5 156.5h1M179 182h1M138.5 183.5h1M173.5 183h1M149 164.5h1M168 149.5h1M181 152h1M178.5 150.5h1M161 153h1M138.5 165h1"/>
<path stroke="#8890e4" d="M135 166h1M187 164h1M186.5 160h1M146 184.5h1M170 183.5h1M175.5 150h1M177 182h1M159 155.5h1M163.5 151.5h1M184 176h1M187 165.5h1M184.5 175h1M152.5 185h1M184 157h1M182.5 177.5h1M183.5 156h1M148 185h1M185 158.5h1M171.5 150h1M177 151h1M158 158h1M181.5 178.5h1M158.5 156.5h1M185.5 160h1M183.5 176h1M129.5 169.5h1M183 176.5h1M144.5 165h1M148.5 165h1M135.5 166.5h1M183 156h1M168 183h1M131.5 181h1M182 177h1M186 163h1M136.5 166h1M168.5 151h1M170 150.5h1M180 179h1M181.5 155h1M141.5 183h1M151.5 165h1M130.5 180h1M179 179.5h1M146 184h1M166.5 183h1M161 155h1M176 151.5h1M128.5 178.5h1M182.5 156h1M161.5 154.5h1M157.5 160.5h1M185 162h1M161.5 184h1M170 151h1M179.5 179h1M159 157.5h1M153 164.5h1M185.5 164.5h1M162.5 153.5h1M135 167h1M157 184.5h1M154.5 164h1M167.5 151.5h1M156.5 162.5h1M151.5 184.5h1M175.5 151.5h1M147.5 184h1M162.5 154h1M168.5 151.5h1M178 180h1M169.5 182.5h1M176.5 152h1M183 175.5h1M183 158h1M135.5 181.5h1M174.5 151.5h1M169 151.5h1M176 152h1M173.5 181.5h1M141.5 165.5h1M179 179h1M169.5 151.5h1M179 154h1M156 163.5h1M133 168h1M136 181.5h1M177 152.5h1M178 153h1M180.5 155h1M185 163.5h1M140.5 166h1M134.5 181h1M152.5 184.5h1M166.5 152.5h1M159.5 158.5h1M145.5 165.5h1M182 175.5h1M163.5 154h1M146 183.5h1M185 165h1M142.5 166h1M175 180.5h1M138 182h1M181 177h1M185 167.5h1M180.5 156h1M158.5 160.5h1M179.5 178h1M152.5 165.5h1M156 164h1M176 153h1M168.5 182h1M171 152h1M149 166h1M181 156.5h1M157.5 162.5h1M177 153.5h1M132 180h1M162 156h1M183.5 172.5h1M182.5 174.5h1M128.5 171.5h1M179 178h1M145 183.5h1M136.5 167h1M177 179.5h1M155.5 164.5h1M172.5 181h1M166.5 153h1M182.5 159h1M179.5 177.5h1M175.5 153h1M130 170h1M151 184h1M176.5 179.5h1M165 153.5h1M180.5 156.5h1M172 152.5h1M173.5 180.5h1M132.5 168.5h1M164 154.5h1M183 172.5h1M178.5 155h1M175.5 153.5h1M130.5 170h1M171.5 181h1M138 181.5h1M178 178h1M183.5 171h1M177 179h1M168 181.5h1M135.5 167.5h1M172 180.5h1M160 159h1M179.5 156h1M153 165.5h1M161 157.5h1M175 153.5h1M159.5 160h1M156 184h1M169.5 153h1M166.5 182h1M128.5 177h1M172.5 180.5h1M158 183.5h1M181 175.5h1M167.5 153.5h1M140.5 182h1M134.5 180.5h1M143.5 166.5h1M183.5 167.5h1M177.5 178h1M166.5 154h1M182.5 160.5h1M146 166.5h1M176.5 154.5h1M152.5 184h1M183.5 163h1M162.5 157h1M159 161.5h1M134 180.5h1M182.5 161h1M183.5 164h1M132.5 179.5h1M139.5 181.5h1M171 153h1M128 174.5h1M133.5 180h1M170.5 181h1M173.5 153.5h1M145 183h1M132 179.5h1M168.5 153.5h1M144 182.5h1M183 170h1M170.5 180.5h1M136 180.5h1M180.5 158h1M157 164.5h1M163.5 156h1M180.5 158.5h1M182.5 163h1M129 172.5h1M136 167.5h1M137.5 167.5h1M146.5 183h1M140.5 181.5h1M160 160.5h1M131.5 170h1M170.5 153.5h1M164.5 182h1M182 162h1M128.5 174h1M158.5 163.5h1M169 180.5h1M183 165h1M180 158h1M161 182.5h1M182 161.5h1M142 167h1M166 155h1M178 177h1M136 168h1M128.5 174.5h1M135.5 180.5h1M177 155.5h1M156 165.5h1M153.5 183.5h1M154.5 166h1M151.5 166.5h1M159.5 162.5h1M182 170.5h1M171.5 154h1M130.5 171h1M129.5 176.5h1M181.5 161.5h1M173 179.5h1M164 182h1M131.5 178.5h1M129.5 172h1M129.5 172.5h1M146.5 167h1M131 178h1M175 155h1M132.5 179h1M129.5 173h1M171 180h1M141 181.5h1M182 170h1M162.5 158.5h1M160 183h1M177 156h1M136.5 180.5h1M130.5 177.5h1M175 178h1M132 178.5h1M168.5 155h1M154.5 183.5h1M166 155.5h1M182.5 167h1M181.5 162.5h1M170 180h1M145.5 167h1M140 167.5h1M148 183h1M163 158.5h1M177.5 157h1M162 160h1M144.5 182h1M129.5 175.5h1M129.5 174.5h1M182 166h1M174 178.5h1M164 157h1M180 159.5h1M166.5 155.5h1M159.5 163.5h1M156.5 166h1M180 174h1M135 180h1"/>
<path stroke="#6a76dc" d="M167.5 155.5h1M174.5 178h1M129.5 175.5h1M150 183h1M137 168h1M181.5 170.5h1M180 173h1M175 177.5h1M165 181.5h1M182 167.5h1M144.5 167h1M135.5 168.5h1M161 161.5h1M143 181.5h1M131 177.5h1M132.5 178.5h1M135.5 179.5h1M151.5 183h1M139 180.5h1M181 162h1M177.5 175.5h1M154.5 183h1M179 159.5h1M167.5 156h1M136.5 168.5h1M166.5 156h1M142.5 181.5h1M172 155.5h1M161 162h1M168 180h1M131 172h1M165 157h1M131.5 177.5h1M173 155.5h1M137.5 168h1M145.5 167.5h1M171.5 155.5h1M149.5 183h1M142.5 181h1M145 182h1M180.5 170.5h1M148 182.5h1M154.5 167h1M165.5 157h1M181 164.5h1M180 161h1M181 168.5h1M161 163h1M173 156h1M130 175h1M178 174.5h1M176 157h1M170 179.5h1M147.5 182.5h1M161 162.5h1M175 177h1M169.5 156h1M177.5 175h1M180.5 163h1M162 161.5h1M166.5 157h1M176.5 157.5h1M165 181h1M178 159h1M175.5 176.5h1M177.5 159h1M172 178.5h1M181 166h1M142 181h1M133.5 178.5h1M160.5 182h1M179.5 172.5h1M178.5 160h1M175.5 157.5h1M163.5 160h1M173.5 177.5h1M159.5 165h1M131 176h1M158 166h1M147 182h1M142.5 167.5h1M180.5 165h1M169 156.5h1M180.5 164.5h1M178.5 173.5h1M164 159.5h1M172.5 156.5h1M142 180.5h1M161 163.5h1M176.5 158.5h1M131 172.5h1M131.5 176.5h1M158.5 166h1M170.5 156.5h1M176.5 175h1M172.5 178h1M162.5 181.5h1M148.5 182.5h1M138.5 168.5h1M180 164.5h1M168.5 179h1M170 156.5h1M167 157.5h1M131 175h1M132 177h1M179.5 170h1M161 164.5h1M157 166.5h1M176 175.5h1M172 157h1M150 182.5h1M156.5 182.5h1M149.5 182.5h1M155.5 182.5h1M164.5 159.5h1M168 179.5h1M161 181.5h1M157 182.5h1M136.5 179h1M144 181h1M162 162.5h1M178 173h1M162.5 162h1M169.5 157h1M162 163h1M163 161.5h1M138.5 179.5h1M159.5 165.5h1M167.5 179.5h1M164 160h1M167.5 157.5h1M135 178.5h1M131.5 176h1M135 170h1M162.5 181h1M179.5 168.5h1M178 160.5h1M178.5 162h1M171.5 157h1M133.5 170.5h1M176.5 174.5h1M169 157.5h1M170 157h1M179.5 169.5h1M136 169.5h1M148 182h1M176.5 159.5h1M162.5 162.5h1M166.5 158.5h1M179.5 165h1M172.5 177h1M173.5 157.5h1M170.5 157.5h1M173 177h1M163 181h1M171 178h1M149 168h1M176 175h1M134 170.5h1M170 157.5h1M131.5 173h1M175.5 175h1M179 163.5h1M168 158h1M164.5 160h1M131.5 173.5h1M151 168h1M140 168.5h1M132 173h1M167 179.5h1M174 176h1M177 160.5h1M179 170h1M169.5 158h1M153 182.5h1M138 179h1M166 159.5h1M179 165h1M137.5 179h1M141.5 180h1M177.5 172.5h1M168 158.5h1M149.5 168h1M152 168h1M156 167.5h1M134 177.5h1M132.5 176.5h1M177.5 161.5h1M162 164.5h1M176 160h1M173.5 158.5h1M135.5 170h1M174 158.5h1M170.5 158h1M143.5 180.5h1M160.5 165.5h1M135.5 178.5h1M170 178h1M146.5 168.5h1M158 182h1M142 180h1M170 158h1M167 159h1M172 158h1M164.5 161.5h1M178 171.5h1M160 166h1M168.5 158.5h1M134 171h1M132.5 173h1M153.5 168h1M139.5 179.5h1M179 168h1M145 168.5h1M166 179.5h1M176.5 173h1M162.5 164h1M132.5 172.5h1M176 173.5h1M148.5 181.5h1M163.5 163.5h1M136.5 178.5h1M137 178.5h1M168.5 178.5h1M176.5 161h1M177.5 171h1M173 176h1M167 159.5h1M161.5 165.5h1M178 164.5h1M175 160h1M156 182h1M150.5 182h1M172 176.5h1M171.5 177h1M178 170h1M178.5 168.5h1M147 181h1M165.5 179.5h1M178 169h1M170.5 158.5h1M166.5 160h1M175.5 174h1M171.5 159h1M136 170h1M175.5 160.5h1M174.5 160h1M153.5 182h1M167.5 159.5h1M178 164h1M172 159h1M171 159h1M176 161h1M172.5 159h1M142.5 168.5h1M169 159h1M158.5 181.5h1M177.5 170.5h1M170.5 177h1M134.5 177h1M159 181.5h1M177 171h1M133 175.5h1M158.5 167h1M142.5 169h1M176 161.5h1M144 168.5h1M170.5 159h1M173.5 159.5h1M165.5 161.5h1M174.5 174.5h1M133.5 176.5h1M132.5 174h1M177.5 163.5h1M177 163.5h1M150.5 181.5h1M165.5 162h1M141 169h1M175 160.5h1M141.5 169h1M173 175.5h1M161 166h1M173 159.5h1M176 172.5h1M176.5 171.5h1M135 177.5h1"/>
<path stroke="#4a5ad4" d="M153 168.5h1M166.5 161h1M174.5 161h1M176 172.5h1M177 163.5h1M134 171.5h1M172.5 160h1M144 180h1M174 174.5h1M169.5 159.5h1M167.5 178.5h1M141 169h1M133.5 172.5h1M162 180.5h1M164 180h1M160.5 166.5h1M133 173.5h1M173 160h1M139 169.5h1M133.5 175.5h1M177 169.5h1M137 178h1M163.5 165h1M176 163h1M138 178.5h1M152 181.5h1M175.5 162h1M177 165h1M158 181.5h1M176 171.5h1M174.5 174h1M162.5 180h1M177 166.5h1M134 172h1M152.5 168.5h1M135.5 171h1M177 166h1M144.5 169h1M159.5 167h1M172.5 175h1M175.5 162.5h1M148 181h1M143 179.5h1M137.5 170h1M174.5 161.5h1M143 169h1M177 168.5h1M173.5 161h1M164 164.5h1M149.5 169h1M140 178.5h1M147 169h1M152 169h1M176.5 170h1M134.5 176h1M136.5 177.5h1M164 165h1M166 178.5h1M173 174.5h1M157 168h1M146.5 169h1M140.5 169.5h1M173 161h1M174.5 173h1M158 168h1M152.5 169h1M171 176h1M161.5 166.5h1M177 167.5h1M173.5 174h1M140.5 178.5h1M153.5 169h1M142.5 169.5h1M143.5 169h1M141.5 179h1M166.5 178.5h1M174.5 162h1M176 164h1M138 178h1M176 164.5h1M176.5 169.5h1M136 171h1M172 161h1M157.5 168h1M164.5 164.5h1M168 177.5h1M137.5 170.5h1M155 181.5h1M136.5 170.5h1M174.5 162.5h1M151.5 169h1M168 161.5h1M176.5 167h1M175.5 170.5h1M176.5 168h1M169 161h1M171 161h1M171.5 161h1M163 179.5h1M165 164.5h1M175.5 171h1M169.5 161h1M154.5 168.5h1M168.5 161.5h1M171 175.5h1M172 175h1M151.5 181.5h1M159 181h1M169 177h1M167 162.5h1M169 161.5h1M176 169.5h1M176 168.5h1M149.5 169.5h1M172 174.5h1M173 162h1M139.5 178h1M136.5 177h1M169.5 161.5h1M150 169.5h1M156.5 168.5h1M174 172.5h1M165.5 178.5h1M139.5 170h1M146.5 169.5h1M172 161.5h1M135.5 171.5h1M134.5 175.5h1M166.5 163.5h1M176 167h1M147.5 169.5h1M172.5 162h1M175 171.5h1M169 176.5h1M134 173.5h1M175 170.5h1M174.5 171.5h1M148.5 180.5h1M169.5 162h1M152 169.5h1M134 174.5h1M163.5 179.5h1M159 168h1M135 172.5h1M172 162h1M175.5 169.5h1M141 170h1M169 162h1M174 163h1M160.5 167.5h1M143 179h1M172.5 174h1M161.5 167.5h1M174 172h1M164 166.5h1M175 169.5h1M175.5 166.5h1M171.5 162h1M173 163h1M175 166h1M162 180h1M163 166.5h1M138.5 177.5h1M173.5 163h1M174 163.5h1M135.5 176h1M175.5 167h1M171.5 162.5h1M134.5 173.5h1M171.5 174.5h1M144.5 179.5h1M160 180.5h1M164 166h1M175.5 168h1M175 169h1M173 173h1M166 164.5h1M171 162.5h1M136 172h1M175 168h1M134.5 174.5h1M167.5 163.5h1M170 162.5h1M168 163.5h1M135 175.5h1M175 168.5h1M142.5 178.5h1M137.5 171h1M145 170h1M172.5 163h1M174 164.5h1M138.5 170.5h1M174.5 165.5h1M146.5 170h1M162.5 179.5h1M172 174h1M135 175h1M153 169.5h1M155.5 181h1M168.5 163.5h1M135 173h1M169.5 163h1M170.5 163h1M137 171.5h1M135.5 172h1M165 166h1M162.5 167.5h1M174 171h1M151.5 169.5h1M170 175h1M149 170h1M161.5 179.5h1M174.5 166h1M136.5 171.5h1M167 164.5h1M135.5 175.5h1M150.5 180.5h1M165 178.5h1M174.5 167h1M137 177h1M141 178h1M154 181h1M166.5 165h1M167.5 164.5h1M146 170h1M173.5 165h1M142 178.5h1M139 177.5h1M166.5 177.5h1M135 173.5h1M159.5 180.5h1M137 176.5h1M174 167h1M163.5 179h1M168 164h1M171 163.5h1M165.5 178h1M169 164h1M172 173h1M154.5 169.5h1M174 167.5h1M171.5 164h1M157.5 169h1M174 168h1M135.5 175h1M166 166h1M168.5 164.5h1M135.5 173h1M166.5 165.5h1M170.5 174.5h1M173.5 166.5h1M173.5 169h1M170 164h1M164.5 167h1M151 170h1M164 178.5h1M151.5 180.5h1M153.5 169.5h1M173.5 170h1M164 167h1M137 172h1M168 165h1M172.5 172h1M138 171.5h1M173 166h1M164.5 178h1M168.5 165h1M173.5 168h1M171 164.5h1M169.5 164.5h1M155 180.5h1M152.5 170h1M136.5 172.5h1M173 171h1M169.5 175h1M173 169h1M165.5 167h1M167.5 166h1M173 170h1M166.5 166.5h1M154 169.5h1M164.5 167.5h1M167 166.5h1M172.5 166.5h1M136 174.5h1M162.5 168h1M163 168h1M136 173.5h1M159.5 169h1M143 178h1M173 168.5h1M172.5 170.5h1M170 165h1M137.5 172h1M136 175h1M136 174h1M170 174h1M152 180.5h1M142.5 178h1M172.5 168h1M169.5 174.5h1M169 174.5h1M172 167h1M153.5 170h1M172 171.5h1M172.5 169h1M152.5 180.5h1M145 170.5h1"/>
<path stroke="#2e58d0" stroke-width="1.25" d="M171 172h1.25M170 166h1.25M164 168h1.25M153.5 170h1.25M172 170.5h1.25M168 166.5h1.25M172 168h1.25M146 170.5h1.25M165.5 167.5h1.25M136.5 175h1.25M144 178.5h1.25M171.5 166.5h1.25M170.5 173h1.25M167 176.5h1.25M137 175.5h1.25M162.5 168.5h1.25M144 178h1.25M171.5 171h1.25M136.5 174.5h1.25M152.5 170h1.25M170 166.5h1.25M164.5 168h1.25M165 168h1.25M144 170.5h1.25M161.5 179h1.25M139 176.5h1.25M170.5 167h1.25M137.5 172.5h1.25M137 175h1.25M150.5 180h1.25M168 175.5h1.25M141.5 177h1.25M170.5 167.5h1.25M171 167.5h1.25M155 170h1.25M149.5 180h1.25M167 176h1.25M165 177.5h1.25M166 168h1.25M138.5 176h1.25M171 168h1.25M167 167.5h1.25M150 170.5h1.25M170 167.5h1.25M148 179.5h1.25M170 173h1.25M169.5 167.5h1.25M139.5 171.5h1.25M138 175.5h1.25M170.5 171.5h1.25M165.5 177h1.25M171 169.5h1.25M171 171h1.25M156.5 169.5h1.25M149 170.5h1.25M170.5 170.5h1.25M169.5 168h1.25M158 180h1.25M167 168h1.25M166 176.5h1.25M170 168.5h1.25M167.5 175.5h1.25M153 180h1.25M169 173.5h1.25M170.5 169.5h1.25M138.5 175.5h1.25M138 173h1.25M146 178.5h1.25M147 171h1.25M138 175h1.25M170 172h1.25M149 179.5h1.25M170.5 170h1.25M137.5 174.5h1.25M162.5 178.5h1.25M156.5 180h1.25M140 171.5h1.25M167.5 175h1.25M169.5 172.5h1.25M159 169.5h1.25M163.5 178h1.25M161.5 169h1.25M158.5 179.5h1.25M167 175.5h1.25M165.5 176.5h1.25M168.5 174h1.25M157.5 180h1.25M138 173.5h1.25M169.5 169.5h1.25M168 174.5h1.25M169.5 169h1.25M162.5 169h1.25M169 172.5h1.25M141.5 171.5h1.25M143.5 177.5h1.25M144.5 171h1.25M139.5 176h1.25M151 170.5h1.25M168.5 173.5h1.25M169.5 170.5h1.25M169.5 170h1.25M140.5 176.5h1.25M169 172h1.25M150 171h1.25M169 170h1.25M145 178h1.25M141 172h1.25M166 176h1.25M144.5 171.5h1.25M169.5 171h1.25M160 169.5h1.25M169 171h1.25M168 173.5h1.25M148.5 179h1.25M168.5 169.5h1.25M148.5 171h1.25M150.5 179.5h1.25M159.5 169.5h1.25M145.5 178h1.25M160.5 169.5h1.25M152.5 170.5h1.25M145.5 171.5h1.25M166.5 169h1.25M165.5 169h1.25M167.5 169.5h1.25M165.5 169.5h1.25M143.5 171.5h1.25M166.5 175h1.25M139 173.5h1.25M145 171.5h1.25M163.5 169.5h1.25M140 175.5h1.25M161.5 169.5h1.25M152 180h1.25M168.5 172h1.25M147.5 171.5h1.25M142 172h1.25M164 177h1.25M165 169.5h1.25M143 172h1.25M166 175.5h1.25M150.5 171h1.25M144 177h1.25M145 177.5h1.25M139.5 173h1.25M168 172h1.25M143 177h1.25M140 175h1.25M150 179.5h1.25M162.5 169.5h1.25M148.5 171.5h1.25M168 171.5h1.25M156 170.5h1.25M164 169.5h1.25M154 170.5h1.25M139.5 173.5h1.25M156.5 179.5h1.25M142.5 172h1.25M155.5 170.5h1.25M140.5 175.5h1.25M139.5 175h1.25M161 170h1.25M168 171h1.25M167.5 171h1.25M142.5 176.5h1.25M149.5 171.5h1.25"/>
<path stroke="#2098c8" stroke-width="1.25" d="M161 170h1.25M150.5 179.5h1.25M168 172h1.25M142 176h1.25M144.5 172h1.25M152.5 171h1.25M167.5 173.5h1.25M163.5 177h1.25M160 179h1.25M140 175h1.25M162.5 170h1.25M153 179.5h1.25M140 174.5h1.25M165.5 175.5h1.25M140 173.5h1.25M140 174h1.25M167.5 172h1.25M167.5 172.5h1.25M149.5 171.5h1.25M143.5 172h1.25M144 172h1.25M167 173.5h1.25M149 179h1.25M162 170h1.25M144.5 177h1.25M140.5 175h1.25M153.5 179.5h1.25M143 176.5h1.25M147.5 178h1.25M157.5 170.5h1.25M164 176.5h1.25M145.5 177.5h1.25M158 179h1.25M157 170.5h1.25M167 172.5h1.25M166.5 171h1.25M167 172h1.25M159.5 179h1.25M142 175.5h1.25M146 177.5h1.25M161 178h1.25M166 175h1.25M144 172.5h1.25M143 172.5h1.25M165.5 170.5h1.25M166.5 171.5h1.25M142.5 176h1.25M159 170.5h1.25M166.5 173.5h1.25M141 174h1.25M141.5 173.5h1.25M141 173.5h1.25M166.5 172.5h1.25M164 170.5h1.25M164.5 176h1.25M166 171h1.25M141.5 175h1.25M160 170.5h1.25M166 174.5h1.25M165.5 175h1.25M156.5 179.5h1.25M150.5 171.5h1.25M144 176.5h1.25M166.5 173h1.25M141.5 174.5h1.25M142.5 173h1.25M146 177h1.25M144.5 172.5h1.25M147.5 172h1.25M143 175.5h1.25M154 171h1.25M153.5 171h1.25M165 171h1.25M143.5 173h1.25M166 173.5h1.25M149.5 178.5h1.25M149.5 172h1.25M154.5 179.5h1.25M142 174h1.25M148 178h1.25M147 177.5h1.25M143 173h1.25M162.5 170.5h1.25M166 172.5h1.25M157 179h1.25M142.5 173.5h1.25M166 173h1.25M145 173h1.25M166 174h1.25M165 175h1.25M146 172.5h1.25M161.5 178h1.25M159 178.5h1.25M142.5 174h1.25M158.5 178.5h1.25M165 171.5h1.25M162 170.5h1.25M159.5 178.5h1.25M143.5 175.5h1.25M164.5 175.5h1.25M144.5 176h1.25M143 174.5h1.25M143.5 173.5h1.25M162.5 177h1.25M163.5 171h1.25M164.5 171.5h1.25M143 174h1.25M158 171h1.25M165.5 174h1.25M165.5 172.5h1.25M155.5 179h1.25M145.5 173h1.25M144 175.5h1.25M154.5 171h1.25M149 172h1.25M143.5 174h1.25M143.5 174.5h1.25M146 176.5h1.25M160.5 171h1.25M144 175h1.25M159 171h1.25M144.5 175.5h1.25M148 172.5h1.25M153 171.5h1.25M165 172.5h1.25M153.5 171.5h1.25M165 173h1.25M163.5 176h1.25M144 174h1.25M164 175.5h1.25M163 176.5h1.25M146.5 177h1.25M163.5 171.5h1.25M148 177.5h1.25M151.5 178.5h1.25M163 171h1.25M162.5 176.5h1.25M163 171.5h1.25M155 179h1.25M146 173.5h1.25M150.5 178.5h1.25M154.5 179h1.25M165 173.5h1.25M147 177h1.25M147 173h1.25M147.5 177h1.25M145 174.5h1.25M145 174h1.25"/>
<path stroke="#30b878" stroke-width="1.25" d="M162.5 171.5h1.25M163 171.5h1.25M164.5 173.5h1.25M148 173h1.25M158.5 171h1.25M145.5 175.5h1.25M146 176h1.25M147 173.5h1.25M164 175h1.25M145.5 174h1.25M150 178h1.25M147.5 173h1.25M163.5 171.5h1.25M163.5 172h1.25M149.5 178h1.25M145.5 175h1.25M149 173h1.25M146 174h1.25M152 178.5h1.25M152.5 172h1.25M163.5 175.5h1.25M159.5 171.5h1.25M154.5 179h1.25M150.5 178h1.25M147.5 176.5h1.25M149.5 173h1.25M156 171.5h1.25M148 177h1.25M153 178.5h1.25M146.5 175.5h1.25M156.5 171.5h1.25M147 176h1.25M163.5 172.5h1.25M164 173h1.25M149 177.5h1.25M155 178.5h1.25M157 178.5h1.25M154 172h1.25M147 175.5h1.25M164 174h1.25M147 174h1.25M163.5 174.5h1.25M156 178.5h1.25M147 175h1.25M163.5 173.5h1.25M148.5 176.5h1.25M161.5 176.5h1.25M149 173.5h1.25M158.5 171.5h1.25M147.5 174h1.25M152 178h1.25M147.5 175h1.25M154.5 172h1.25M162.5 172.5h1.25M159 171.5h1.25M154 178.5h1.25M148 176h1.25M162 175.5h1.25M155.5 178.5h1.25M163 173h1.25M153.5 172.5h1.25M147.5 174.5h1.25M162 176h1.25M148 174.5h1.25M162.5 175h1.25M148 175.5h1.25M161 176.5h1.25M158 178h1.25M148 175h1.25M162 172.5h1.25M149 174h1.25M161 172h1.25M148.5 174.5h1.25M148.5 176h1.25M157.5 172h1.25M160.5 176.5h1.25M149 176h1.25M161 172.5h1.25M148.5 175.5h1.25M153 172.5h1.25M150 173.5h1.25M150 177h1.25M150.5 177.5h1.25M156 178h1.25M161.5 172.5h1.25M161.5 175.5h1.25M162 173h1.25M156.5 172h1.25M153.5 178h1.25M149.5 176.5h1.25M158.5 172h1.25M155 172.5h1.25M151 177.5h1.25M160 172.5h1.25M161 176h1.25M149 175h1.25M154.5 178h1.25M159.5 172.5h1.25M158 172h1.25M160 177h1.25M160.5 176h1.25M150 176.5h1.25M151 177h1.25M149 175.5h1.25M160 176.5h1.25M159 172.5h1.25M161.5 173.5h1.25M150.5 177h1.25M151 173.5h1.25M155.5 172.5h1.25M157 177.5h1.25M149.5 174.5h1.25M156.5 172.5h1.25M161.5 174h1.25M150 176h1.25M159 177h1.25M152 173h1.25M150 174.5h1.25M149.5 175h1.25M161.5 175h1.25M151.5 177h1.25M150.5 174h1.25M158.5 177h1.25M154 173h1.25M152.5 173.5h1.25"/>
<path stroke="#50c840" stroke-width="1.25" d="M152.5 177.5h1.25M156.5 172.5h1.25M150 175h1.25M154 173h1.25M155.5 172.5h1.25M157.5 172.5h1.25M151 174h1.25M161.5 174h1.25M150.5 176.5h1.25M155 173h1.25M161.5 174.5h1.25M160.5 175.5h1.25M155.5 177.5h1.25M158.5 177h1.25M158 172.5h1.25M161 175h1.25M150.5 176h1.25M152 177h1.25M159.5 173h1.25M154.5 173h1.25M160 176h1.25M155 177.5h1.25M151.5 176.5h1.25M157 173h1.25M158.5 173h1.25M156.5 173h1.25M157 177h1.25M150.5 175h1.25M152 174h1.25M151 176h1.25M152.5 174h1.25M157.5 177h1.25M151 174.5h1.25M160 175.5h1.25M156 177h1.25M159 173h1.25M151 175h1.25M151.5 174.5h1.25M153.5 177h1.25M153 177h1.25M151.5 176h1.25M159.5 173.5h1.25M154 177h1.25M158.5 176.5h1.25M157.5 173h1.25M155.5 177h1.25M158.5 173.5h1.25M160 174h1.25M153.5 173.5h1.25M152 174.5h1.25M151.5 175h1.25M154.5 173.5h1.25M155 173.5h1.25M159.5 175h1.25M157.5 176.5h1.25M159 173.5h1.25M153.5 176.5h1.25M155.5 173.5h1.25M158 173.5h1.25M157 176.5h1.25M156.5 176.5h1.25M158 176h1.25M152.5 176h1.25M153 176.5h1.25M159 175h1.25M152.5 175h1.25M152.5 174.5h1.25M153 174.5h1.25M157 173.5h1.25M158 174h1.25M153.5 174.5h1.25M156.5 173.5h1.25M156 173.5h1.25M155.5 176.5h1.25M157.5 174h1.25M154.5 176.5h1.25M153 175.5h1.25M158 175.5h1.25M153.5 175h1.25M155.5 174h1.25M155 174h1.25M154 174.5h1.25M158 175h1.25M154.5 176h1.25M155 174.5h1.25M157.5 174.5h1.25M154.5 174.5h1.25M154 175h1.25M156 176h1.25M157.5 175h1.25M157 175.5h1.25M156.5 175.5h1.25M154.5 175.5h1.25M154.5 175h1.25M157 174.5h1.25M156.5 174.5h1.25M155.5 174.5h1.25M155.5 175h1.25M156 175.5h1.25M155.5 175.5h1.25"/>
</g>
<rect x="127.3" y="132.5" width="89.2" height="86.3" fill="none" stroke="#5a5a5a" stroke-width="1.2"/>
<text x="132.3" y="226.3" font-size="5" text-anchor="middle" fill="#555">10<tspan font-size="3.6" dy="-2">0</tspan></text>
<text x="152.6" y="226.3" font-size="5" text-anchor="middle" fill="#555">10<tspan font-size="3.6" dy="-2">1</tspan></text>
<text x="172.9" y="226.3" font-size="5" text-anchor="middle" fill="#555">10<tspan font-size="3.6" dy="-2">2</tspan></text>
<text x="193.2" y="226.3" font-size="5" text-anchor="middle" fill="#555">10<tspan font-size="3.6" dy="-2">3</tspan></text>
<text x="213.5" y="226.3" font-size="5" text-anchor="middle" fill="#555">10<tspan font-size="3.6" dy="-2">4</tspan></text>
<path d="M127.3 215.5h2M127.3 210h1M127.3 206.7h1M127.3 204.4h1M127.3 202.6h1M127.3 201.1h1M127.3 199.8h1M127.3 198.9h1M127.3 198h1M127.3 197.1h2M127.3 190.3h1M127.3 186.2h1M127.3 183.5h1M127.3 181.3h1M127.3 179.5h1M127.3 177.9h1M127.3 176.8h1M127.3 175.7h1M127.3 174.5h2M127.3 168.4h1M127.3 164.8h1M127.3 162.3h1M127.3 160.3h1M127.3 158.6h1M127.3 157.2h1M127.3 156.2h1M127.3 155.2h1M127.3 154.2h2M127.3 149.4h1M127.3 146.5h1M127.3 144.6h1M127.3 143h1M127.3 141.7h1M127.3 140.6h1M127.3 139.8h1M127.3 139h1M127.3 138.2h2M131.3 218.8v-2M137.4 218.8v-1M141 218.8v-1M143.5 218.8v-1M145.5 218.8v-1M147.1 218.8v-1M148.6 218.8v-1M149.6 218.8v-1M150.6 218.8v-1M151.6 218.8v-2M157.7 218.8v-1M161.3 218.8v-1M163.8 218.8v-1M165.8 218.8v-1M167.4 218.8v-1M168.9 218.8v-1M169.9 218.8v-1M170.9 218.8v-1M171.9 218.8v-2M178 218.8v-1M181.6 218.8v-1M184.1 218.8v-1M186.1 218.8v-1M187.7 218.8v-1M189.2 218.8v-1M190.2 218.8v-1M191.2 218.8v-1M192.2 218.8v-2M198.3 218.8v-1M201.9 218.8v-1M204.4 218.8v-1M206.4 218.8v-1M208 218.8v-1M209.5 218.8v-1M210.5 218.8v-1M211.5 218.8v-1M212.5 218.8v-2" stroke="#555" stroke-width="0.6" fill="none"/>
<ellipse cx="174.7" cy="168.5" rx="14.6" ry="18.5" fill="none" stroke="#555" stroke-width="1"/>
<text x="176.8" y="199.5" font-size="10.5" text-anchor="middle" stroke="#000" stroke-width="0.15">44.6</text>
<line x1="5.7" y1="27.5" x2="5.7" y2="197" stroke="#000" stroke-width="1.1"/>
<path d="M5.7 22L3.4 28.5L8 28.5Z"/>
<text x="9.6" y="210.5" font-size="10.4" text-anchor="middle" stroke="#000" stroke-width="0.15" transform="rotate(-90 9.6 210.5)">Gr-1</text>
<text x="23" y="237.7" font-size="10.4" stroke="#000" stroke-width="0.15">CD11b</text>
<line x1="58.8" y1="234.7" x2="107.5" y2="234.7" stroke="#000" stroke-width="1.2"/>
<path d="M112.5 234.7L106.5 232.1L106.5 237.3Z"/>
<text x="129.5" y="238.5" font-size="10.4" stroke="#000" stroke-width="0.15">CCL5</text>
<line x1="161" y1="235.2" x2="211.5" y2="235.2" stroke="#000" stroke-width="1.2"/>
<path d="M216.5 235.2L210.5 232.6L210.5 237.8Z"/>
<text x="255.6" y="12.7" font-size="16.3" font-weight="bold" stroke="#000" stroke-width="0.15">B</text>
<text x="298.3" y="20.2" font-size="9.6" text-anchor="middle" stroke="#000" stroke-width="0.15">Naïve</text>
<line x1="327" y1="15.4" x2="362.7" y2="15.4" stroke="#444" stroke-width="0.9"/>
<line x1="345.4" y1="5.8" x2="345.4" y2="24" stroke="#444" stroke-width="0.9"/>
<text x="340.5" y="13.1" font-size="9.6" text-anchor="end" stroke="#000" stroke-width="0.15">8.69</text>
<text x="348.5" y="13.1" font-size="9.6" stroke="#000" stroke-width="0.15">33.0</text>
<text x="340.5" y="24" font-size="9.6" text-anchor="end" stroke="#000" stroke-width="0.15">38.9</text>
<text x="348.5" y="24" font-size="9.6" stroke="#000" stroke-width="0.15">19.4</text>
<path filter="url(#cb)" d="M355 36l2-0.5 2 0.5 1.5 1 1 2 0 2-1 2-1 1.5-2 1-1.5 0-1.5-0.5-1.5-1-1-2 0-2 0.5-1.5 1-1.5 1.5-1M371 80.5l0 4M371 89.5l-1.5 2.5-3.5 3.5-2 1.5-2.5 1-5.5 1-12 0.5-9 1-14-0.5-3.5 0.5-2.5 0.5-2 1-9 6.5M280 100l2.5-3.5 5.5-5.5 5-4 7-3.5 1.5-2 0.5-4-0.5-3.5-5.5-7 0.5-5.5-1-7-2-7-0.5-3 1-3.5 2-3.5 3-3 4.5-2 4.5-1 5.5 0.5 4.5 1.5 3 2 2 3 1.5 3.5 0 3-1.5 6.5 1 1.5 1.5 0.5 10.5 1 7-2 11-2.5 3.5 0.5 4 1.5 4 3 3 5 1.5 3.5 1 7M280 103l3-5 6-6 5.5-4.5 8-3.5 1.5-1.5 3.5-11.5 0.5-2.5-0.5-1-3.5-2-1.5-2-3-11-3-6 0-3.5 0.5-2 1.5-2 2-2 2.5-1.5 4.5-1.5 5.5 0.5 3.5 1.5 2.5 2 1.5 2.5 0.5 3-1 3-1.5 2.5-2 2-4.5 2.5-1 1.5-1 2-0.5 3 0 2.5 1 1 1 0.5 4-2.5 2.5-1 6 0.5 9.5-1.5 9-5 6.5-2 5-0.5 4.5 0.5 3 1 3 2.5 2.5 3 1.5 3 0.5 2.5 1 8-1 9.5-1 5-1.5 4-3 3-3 1.5-3.5 0.5-4 0-10.5-2-6.5 1.5-3 0-9-1.5-1-0.5-1-1 0.5-1 1-1 2.5-1 7.5-1 1-0.5 0.5-1-0.5-2-3.5-7.5-2.5-10.5-1.5-0.5-4 1-3 1.5-1 1 0 1 4 9 1 5.5-0.5 2.5-1 1.5-4.5 2-2.5 4-4.5 5.5-4 4-4.5 3.5M307.5 36.5l4 0 3.5 1.5 2 2 1 3-1 3-2.5 2.5-3.5 1.5-4 0.5-2-0.5-3.5-2-1.5-2-0.5-2 0.5-2.5 1.5-2 3-2 3-1M351.5 53.5l3-0.5 2.5 0 2.5 1 2.5 1.5 2 1.5 2 2 1 2.5 1 2.5 1 10.5-0.5 5-1 4.5-1.5 4-2 2.5-2 2-2.5 1-4 0-5-0.5-4.5-1.5-3.5-2-4.5-4.5-3-3.5-2-4-1-4.5-0.5-3 0.5-3 1-3 1.5-2 4-3.5 4-2.5 4-1.5 5-1M304.5 55l0.5-0.5 0.5 0.5-0.5 0-0.5 0M280 107.5l0.5-3 1.5-3.5 5-6 4.5-4 3.5-2.5 3.5-2 7-2.5 2.5-6 1.5-2.5 2-2 2.5-0.5 3 1.5 2.5 3 1.5 4 0.5 4.5-1.5 2-4.5 2-2 5.5-2.5 4-4.5 5-5.5 4M307 39l2-0.5 2 0 3 1.5 0.5 1.5 0.5 1.5-0.5 1.5-1 1.5-2 1-2.5 0.5-3-0.5-2-1.5-1-1.5 0.5-2 1.5-2 2-1M351.5 54.5l3-0.5 2.5 0.5 4.5 1.5 2 1.5 1.5 2.5 1.5 2 0.5 2.5 1 10-0.5 4.5-1 4-1.5 3-1.5 2.5-2 2-2.5 1-3.5 0-4.5-0.5-4-1.5-3-1.5-4-4-3-3.5-2-3.5-1-4.5-0.5-3 0-2.5 1-2.5 2-2.5 3.5-3 3.5-2 4-1.5 4-1M281.5 108.5l0-3 1.5-3.5 2-3.5 3-3.5 5-4 4-2.5 3.5-1.5 6.5-2 0.5-0.5 1.5-4 1.5-2.5 1.5-1.5 2-0.5 2.5 1 2 2 1 3.5 0 3.5-1.5 1.5-4.5 1.5-1 5.5-2.5 4.5-4.5 5-6 4.5M308 41l2-0.5 1.5 1 0.5 1.5-1 1.5-2 0.5-2.5-0.5-0.5-1 0-1 2-1.5M351.5 55.5l5-0.5 4 2 4 3.5 1.5 4 1 9-0.5 4.5-1 3.5-1 3-2 2.5-1.5 1.5-2.5 1-3.5 0-4-0.5-3.5-1-3-2-3.5-3.5-2.5-3-2-3.5-1-4-0.5-3 0.5-2.5 1.5-2.5 1.5-2 3-2.5 3-1.5 3.5-1.5 3.5-1M312.5 79l1.5-0.5 1.5 0.5 2 2 0.5 4-0.5 1-0.5 0.5-2 1-2.5 0-2-0.5-1-1 0-2 1-2.5 1-1.5 1-1M283 108.5l0-3 1-3.5 2.5-3.5 3-3.5 4-3.5 4-2.5 4-1.5 4-0.5 3.5 0.5 1.5 1 1 3-0.5 3.5-1.5 3.5-3 3.5-4 3.5-4.5 3M351.5 56.5l5-0.5 4 2 3 3 2 4 0 8.5 0 4-1 3.5-1 2.5-2 2-1.5 1.5-2.5 0.5-3.5 0-3.5-0.5-3-1.5-3-2-2.5-2.5-2.5-2.5-1.5-3.5-1-4-0.5-2.5 0.5-2 1.5-2.5 2-2 5-3.5 6-2M313 81.5l1.5-0.5 1.5 1 0.5 2.5 0 1-0.5 0.5-2.5 0.5-2-1 0-2.5 1.5-1.5M285 108.5l-1-2.5 1-3 1.5-3.5 3-3.5 4-3.5 4-2.5 3.5-1.5 3.5 0 3 0.5 2 1.5 1 2.5-1 3-2 3.5-3 3.5-3.5 3-4.5 2.5M352 57.5l4-0.5 3.5 1.5 3 3 2 3.5 0 7.5-1 7-0.5 2-1.5 2-1.5 1-2 1-3 0.5-3.5-0.5-2.5-1-3.5-2.5-2.5-2-1.5-2.5-2-3-1-3.5 0-2 0-2 1-2 1.5-2 5-3.5 6-2M313.5 84l0.5-0.5 0.5 0.5 0.5 1-0.5 0.5-1 0-0.5-0.5 0.5-1M287.5 108.5l-1.5-1.5 0-2.5 1-3 2-3.5 3.5-3.5 4-3 3.5-1.5 3.5-0.5 3.5 0.5 1.5 2 0.5 2.5-1 3-2.5 3.5-4 3.5-3.5 2.5-4.5 1.5M352 58.5l3.5-0.5 3.5 1 3 3 1.5 3 0.5 6.5-1 6.5-2 3.5-1 1-1.5 1-3 0.5-2.5-0.5-3-1-3-1.5-2-1.5-2-2-1.5-3-1-3-0.5-2 0-2 2-3.5 4.5-3.5 5.5-2M300.5 91l2.5-0.5 2 0.5 1.5 0.5 1 1.5 0 1.5 0 1.5-2 3.5-4 4-4.5 3-5 1-2 0-1.5-0.5-1-1.5 0-2 1-2.5 1.5-2.5 2-2.5 3-2.5 3-1.5 2.5-1M352 59.5l3.5-0.5 3 1 2.5 2 1 3 1 5.5-1 6.5-1.5 3-2.5 1.5-2.5 0.5-2.5-0.5-2.5-0.5-3-2-3.5-3-2-5 0-3.5 2-3.5 4-3 4-1.5M301.5 92l3 0 1 1 0.5 1 0 2.5-2 3.5-3.5 3.5-4 2-4 1-2.5-1-1-1 0-2 1-2 1.5-2.5 5-4 2.5-1.5 2.5-0.5M352.5 60.5l3-0.5 2.5 1 2 2 1.5 2.5 0 5-0.5 5-1 3-2 1.5-4.5 0-4.5-2-3-3-2.5-4 0-3 1.5-3 3.5-3 4-1.5M299.5 93.5l3.5 0 1.5 1 0 2-1.5 3-2.5 2.5-3.5 2.5-3 0.5-2.5-0.5-0.5-0.5-0.5-1.5 0.5-1.5 1-2 4-3.5 3.5-2M353 61.5l2.5-0.5 2 1 1.5 1.5 1.5 2 0 4.5-0.5 4-1 2.5-1.5 1.5-3.5 0-4-2-3-2-1.5-3.5-0.5-3 1.5-2.5 3-2 3.5-1.5M298.5 95l3-0.5 1.5 0.5 0 2-0.5 2-2.5 2.5-2.5 1.5-2.5 1-2-0.5-1-1.5 1-2.5 3-3 2.5-1.5M353.5 62.5l2 0 1.5 0.5 1.5 1 1 2 0 3.5 0 3-1 2-1.5 1.5-3 0-3.5-1.5-2-2.5-1.5-2.5 0-2 1.5-2.5 2-1.5 3-1M300 96l1 0 0.5 1 0 1.5-1 1.5-3.5 2-1.5 0.5-1-0.5-0.5-0.5 0-1 1-2 2.5-2 2.5-0.5M354 63.5l2 0 1 0.5 1 1 0.5 1.5 0 2.5 0 2.5-1 1.5-1 1-2.5-0.5-2.5-1-1.5-1.5-1-2.5 0-1.5 1-1.5 2-1.5 2-0.5M298.5 97.5l1.5 0.5-0.5 1.5-2 1.5-1 0-0.5-0.5 0.5-1.5 2-1.5M353 65l2.5-0.5 1 0.5 0.5 1 0.5 3.5-1 2-1.5 0.5-1.5-0.5-2.5-2-0.5-1.5 0-1 1-1 1.5-1M354 66l1.5-0.5 0.5 1 0.5 2-0.5 1-1.5 0-1.5-1-0.5-1.5 1.5-1" fill="none" stroke="#111" stroke-width="1.05" stroke-linejoin="round"/>
<rect x="279.8" y="28.9" width="91.4" height="79.6" fill="none" stroke="#555" stroke-width="1.2"/>
<line x1="325.5" y1="28.9" x2="325.5" y2="108.5" stroke="#333" stroke-width="0.8"/>
<line x1="279.8" y1="74" x2="371.2" y2="74" stroke="#333" stroke-width="0.8"/>
<text x="276.8" y="107.3" font-size="5" text-anchor="end" fill="#555">10<tspan font-size="3.6" dy="-2">0</tspan></text>
<text x="276.8" y="90.2" font-size="5" text-anchor="end" fill="#555">10<tspan font-size="3.6" dy="-2">1</tspan></text>
<text x="276.8" y="69.5" font-size="5" text-anchor="end" fill="#555">10<tspan font-size="3.6" dy="-2">2</tspan></text>
<text x="276.8" y="50.7" font-size="5" text-anchor="end" fill="#555">10<tspan font-size="3.6" dy="-2">3</tspan></text>
<text x="276.8" y="36" font-size="5" text-anchor="end" fill="#555">10<tspan font-size="3.6" dy="-2">4</tspan></text>
<text x="284.8" y="116" font-size="5" text-anchor="middle" fill="#555">10<tspan font-size="3.6" dy="-2">0</tspan></text>
<text x="305.6" y="116" font-size="5" text-anchor="middle" fill="#555">10<tspan font-size="3.6" dy="-2">1</tspan></text>
<text x="326.5" y="116" font-size="5" text-anchor="middle" fill="#555">10<tspan font-size="3.6" dy="-2">2</tspan></text>
<text x="347.4" y="116" font-size="5" text-anchor="middle" fill="#555">10<tspan font-size="3.6" dy="-2">3</tspan></text>
<text x="368.2" y="116" font-size="5" text-anchor="middle" fill="#555">10<tspan font-size="3.6" dy="-2">4</tspan></text>
<path d="M279.8 105.5h2M279.8 100.4h1M279.8 97.3h1M279.8 95.3h1M279.8 93.6h1M279.8 92.2h1M279.8 91h1M279.8 90.1h1M279.8 89.3h1M279.8 88.4h2M279.8 82.2h1M279.8 78.5h1M279.8 76h1M279.8 73.9h1M279.8 72.2h1M279.8 70.8h1M279.8 69.7h1M279.8 68.7h1M279.8 67.7h2M279.8 62h1M279.8 58.6h1M279.8 56.4h1M279.8 54.5h1M279.8 53h1M279.8 51.7h1M279.8 50.8h1M279.8 49.8h1M279.8 48.9h2M279.8 44.5h1M279.8 41.8h1M279.8 40h1M279.8 38.6h1M279.8 37.4h1M279.8 36.4h1M279.8 35.6h1M279.8 34.9h1M279.8 34.2h2M283.8 108.5v-2M290.1 108.5v-1M293.8 108.5v-1M296.3 108.5v-1M298.4 108.5v-1M300.1 108.5v-1M301.5 108.5v-1M302.6 108.5v-1M303.6 108.5v-1M304.6 108.5v-2M310.9 108.5v-1M314.7 108.5v-1M317.2 108.5v-1M319.2 108.5v-1M320.9 108.5v-1M322.4 108.5v-1M323.4 108.5v-1M324.5 108.5v-1M325.5 108.5v-2M331.8 108.5v-1M335.5 108.5v-1M338 108.5v-1M340.1 108.5v-1M341.8 108.5v-1M343.2 108.5v-1M344.3 108.5v-1M345.3 108.5v-1M346.4 108.5v-2M352.6 108.5v-1M356.4 108.5v-1M358.9 108.5v-1M360.9 108.5v-1M362.6 108.5v-1M364.1 108.5v-1M365.1 108.5v-1M366.2 108.5v-1M367.2 108.5v-2" stroke="#555" stroke-width="0.6" fill="none"/>
<text x="389" y="14.5" font-size="8.2" stroke="#000" stroke-width="0.15">4T1 tumor-</text>
<text x="389" y="23.8" font-size="8.2" stroke="#000" stroke-width="0.15">bearing</text>
<line x1="438.6" y1="16.2" x2="474.9" y2="16.2" stroke="#444" stroke-width="0.9"/>
<line x1="457.7" y1="6" x2="457.7" y2="25.2" stroke="#444" stroke-width="0.9"/>
<text x="455.2" y="13.7" font-size="9.6" text-anchor="end" stroke="#000" stroke-width="0.15">8.72</text>
<text x="460.5" y="13.7" font-size="9.6" stroke="#000" stroke-width="0.15">32.9</text>
<text x="455.2" y="25" font-size="9.6" text-anchor="end" stroke="#000" stroke-width="0.15">16.2</text>
<text x="460.5" y="25" font-size="9.6" stroke="#000" stroke-width="0.15">42.1</text>
<path filter="url(#cb)" d="M480.5 50.5l-1 1.5-1.5 1-2.5 0-2-2-1.5-3.5-4.5 0-3-1.5-2-2.5-0.5-2.5 0.5-2.5 2-2.5 2.5-1 2.5 0 2 0.5 1 1.5 3 4.5 3.5 1.5 1.5 1.5M480.5 87l-3.5 9-3 5.5 0.5 1 2.5 2 1 1.5-0.5 1.5-2 1M390 102.5l4-2 2-2 5-9.5 2.5-6 0-1-0.5-1-5-2.5-1.5-1-1-2 0.5-2.5 1.5-2 11.5-9 1.5-2.5 0-1-1-1-6-4-2.5-2-1.5-2.5-0.5-3.5 0.5-4 2-4 2.5-2.5 5-2.5 5-1.5 5.5 0 6.5 2.5 2 1.5 1.5 1.5 1.5 3 0.5 4-0.5 8-2 6.5 0.5 1.5 1 1 2.5 0.5 5.5-1 11-4.5 5-1.5 5.5-1 6.5 0 4 0.5 4 2 3 3 3 4M455 108.5l-2-1.5-2-3.5-7-6-9-15.5-1-1-1-0.5-1.5 1-0.5 1 0.5 4-0.5 3-1 2.5-2 2.5-4 3-7.5 2.5-4.5 4.5-6.5 4M467 37l2 0 1.5 0.5 1 1 0.5 1.5 0 1.5-0.5 1.5-1.5 1.5-1.5 0.5-1.5 0-1.5-1-1-1-0.5-1.5 0-1.5 1-1.5 2-1.5M477 45.5l1.5 0.5 0.5 2-0.5 2-1.5 0.5-1.5-1-0.5-1.5 1-2 1-0.5M480.5 82.5l-1.5 5.5-2 6-2 4-3.5 4.5 1 1 2.5 1.5 0.5 1.5-1 1-2.5 1M390 104l2-0.5 2.5 0 3.5 0.5 1.5 1 0 1-1 1-2 1-2 0.5M391.5 108.5l-1.5-0.5M458.5 108.5l-3-1.5-1.5-3.5-6-4.5-3-3-5-8.5-3.5-8.5-1.5-2-2-0.5-6 1.5-2 1-0.5 0.5 3 4.5 1 3-1 3.5-2.5 3.5-3.5 1.5-6 0.5-2 0.5-1.5 1-2 3-2.5 2-4 2-2 0-1-0.5 0-2 0.5-2 4.5-5.5-0.5-5.5 0.5-3.5 2.5-3 6-3.5-0.5-0.5-3.5-2-2-1.5-1-1.5 0-1.5 2-2.5 7-8.5 1.5-2.5 0-1.5 0-1-1-0.5-5.5-0.5-2.5-1-3-2-2.5-1.5-1-2-0.5-3 0-3 1-2.5 1.5-2 2.5-2 4-2 3.5-1 3.5-0.5 3 1 3.5 1.5 2.5 2 2 3 0.5 4-1 5.5-3.5 7-1 5 0 2.5 0.5 1 1.5 0.5 4 0.5 5-1 12-7 7-2.5 5.5-1 6.5-0.5 4.5 1 4.5 2 3.5 3.5 2.5 4.5M412.5 35l3.5-0.5 4 0.5 3.5 2 1.5 2 1 3.5 0 4-1.5 3-2 2-4.5 1.5-6.5 0-3.5-1.5-3.5-3-0.5-2-0.5-2 0-2 1-2 3-3 5-2.5M467.5 39l2 0.5 0.5 1-0.5 1.5-1 1-1.5-0.5-1-1 0.5-1.5 1-1M480.5 74l-1 9-2 7-4 8-2 2-3.5 3 0.5 0.5 3.5 1.5 1 0.5 0 1-2 1-6 1M415.5 82l3.5 0 3 0 2 1 1 1.5 1 2 0 2-1 2.5-1.5 1.5-1.5 1-2 0.5-6-0.5-3-0.5-2.5-1.5-1-3 0-1.5 0.5-1.5 3.5-2.5 4-1M390.5 105l2-0.5 2 0 1.5 1 0 1-1.5 1-3 0-1.5-1 0-1 0.5-0.5M463 108.5l-2.5-0.5-2-1-0.5-1 0.5-2.5-6.5-3.5-3.5-3-2.5-3-5-8-3.5-11-1.5-2-1.5-0.5-6 1-3 0-3-0.5-1-1 1-1 3-1 10.5-1 5.5-6 6-4 7.5-3 7.5-1 4 0 2.5 0.5 3 1 2.5 2 2 2 2 3 1.5 3 0.5 3M414 36.5l4.5 0 3.5 2 1.5 2.5 0.5 3.5-1 3-2 2-4 1.5-4.5 0-2.5-0.5-2.5-2-1.5-2.5-0.5-2.5 1-2.5 2-2 3-2 2.5-0.5M458.5 56.5l8.5-0.5 2.5 0.5 2.5 1.5 2.5 2 2.5 2.5 1.5 3 0.5 3 0.5 4-1 8.5-1 5-1 3.5-2.5 5.5-2.5 3-3 2.5-3 1-4.5 0-5-1.5-3.5-2-3.5-3-3-3.5-3-5-2-4.5-1.5-6 0-6.5 1-2.5 2-2.5 3-3 4.5-2.5 4.5-1.5 4-1M414 84l4.5-0.5 3.5 1 1 1 1 1.5-0.5 1.5-0.5 1.5-1.5 1.5-2.5 1-4.5-0.5-3-1-1.5-2 0-2 1.5-2 2.5-1M463.5 104.5l4.5 0 2 1 0 0.5 0 0.5-2 0.5-5.5 0.5-1.5-0.5-0.5-1 1-1 2-0.5M392 105.5l1.5 0 1 0.5-0.5 0.5-1.5 0-1-0.5 0.5-0.5M413.5 38.5l2.5 0 2.5 0 2 1.5 1 1 0.5 2.5-0.5 2-1 1.5-2 1.5-3 1-3 0-2.5-1.5-2-2-0.5-2.5 1-2 2.5-2 2.5-1M458.5 57.5l8-0.5 2.5 0.5 2.5 1 3 2.5 2 2.5 1 2.5 1 3 0 4-0.5 8-1 4.5-1.5 3.5-2 4.5-2.5 3-2.5 2-3 1-4 0-4.5-1.5-3.5-1.5-3-2.5-3-3.5-3-4-1.5-4.5-1.5-5 0-7 0.5-2.5 2-2.5 2.5-2.5 4.5-2.5 4-2 3.5-0.5M414.5 85.5l3-0.5 3 1 1 1 0 2-1 1-2 1-2.5-0.5-2-0.5-1.5-1-0.5-1.5 1-1 1.5-1M464.5 105.5l2 0 1 0.5-0.5 0.5-2 0-1.5 0 0-0.5 1-0.5M413 40.5l3.5-0.5 2.5 1.5 0.5 2 0 1.5-1 1-1.5 1-2.5 0.5-2 0-1.5-1-1-1.5 0-2 1-1.5 2-1M458.5 58.5l8-0.5 4.5 1.5 2.5 2 2 2 1 2.5 1 3 0 4-0.5 7.5-2 7.5-2 4-2.5 3-2.5 2-2.5 1-3.5 0-4-1.5-3.5-1.5-3-2.5-3-3-2.5-3.5-1.5-4-1.5-4.5 0-7 0.5-2.5 1.5-2 2.5-2.5 4-2.5 3.5-1.5 3.5-1M415.5 87l1.5-0.5 1.5 0.5 0.5 0.5 0 1-1 1-2-0.5-1.5-1 1-1M414.5 42l2 0 1 1.5-0.5 1.5-1.5 1-2 0-1.5-1.5 0.5-1.5 2-1M459 59.5l7.5-0.5 4 1.5 2 1.5 2 2 1.5 2.5 0.5 2.5 0 3.5-0.5 7-0.5 4-1 3.5-2 3.5-2 2.5-2.5 2-2.5 1-3 0-3.5-1-3-1-3.5-2.5-2.5-3-2.5-3-1.5-3.5-1.5-4 0-7 0.5-2.5 1.5-2 2.5-2.5 3-2 3.5-1.5 3.5-1M414.5 44l1 0-0.5 0-0.5 0M459 60.5l7-0.5 4 1 2 2 2 2 1 2 0.5 2.5 0.5 4-0.5 6-2 7-1.5 3-2 2-2.5 2-2 0.5-3 0-3-0.5-2.5-1-2.5-2-3-3-2.5-2.5-1.5-3.5-1.5-3.5 0-7 0.5-2 1-2 2.5-2 3-2.5 3-1 3-1M464 61l2.5 0 2 0.5 2 1 2 2 1 2 1 2 0.5 5-1 8.5-1.5 3.5-1 2.5-2 2-2 1.5-2 1-2.5 0-3-0.5-2.5-1-3-2.5-3-3.5-2-3-1.5-2.5-0.5-3.5 0-4 0.5-2 1-2 1.5-2 2.5-2 5-2 6-1M463.5 62l4 0 3.5 2 2 3.5 1 4.5-1 8-2 6-1 2-2 1.5-2 1-2 0-3 0-2-1-2.5-1.5-3-3-2-3-1.5-2.5-1-6 0-2 0.5-2 1.5-2 2-2 4.5-2.5 6-1M463 63l4 0 2.5 1.5 2.5 3 1 3.5-0.5 7-1.5 6-1 2-1.5 1.5-1.5 1-1.5 0-5-0.5-2-1-2.5-2-2.5-2.5-1.5-2.5-1-5.5 0-4 1-2 1.5-1.5 4-3 5.5-1M463.5 64l3 0 2.5 1 2 2.5 1 3.5 0 5.5-1.5 6-2 3-2.5 1.5-4.5-1-2.5-1-2-1.5-3-4-1.5-5 0-4 2-3 4-2.5 5-1M464 65l3 0 2 1.5 1.5 2 0.5 3 0 5-1.5 5-2 2.5-2 1-4.5-1-3.5-3-2.5-3.5-1-4.5 0.5-3 2-2.5 3.5-2 4-0.5M461.5 66.5l3.5-0.5 2 0.5 2 1.5 1 2.5 0 4-0.5 4-1.5 3-2 1.5-3.5-0.5-3-2-2-2.5-1.5-3-0.5-3.5 1-2 2-2 3-1M462 67.5l3.5-0.5 1.5 0.5 1.5 1.5 0.5 2 0 3-0.5 3-1 2.5-1.5 1.5-2.5-0.5-2.5-1-2-2.5-1.5-2.5-0.5-2.5 1-2 1.5-1.5 2.5-1M463.5 68.5l2 0 1.5 0.5 0.5 1 1 1.5-0.5 4.5-1 1.5-1.5 1-2 0-2-1-1.5-2-1-2.5 0-1.5 1-1.5 1.5-1 2-0.5M462.5 70l3-0.5 1 0.5 0.5 1 0.5 1.5-0.5 2-0.5 1.5-1 0.5-2.5-0.5-2-2 0-2.5 1.5-1.5M464 71l1.5-0.5 0.5 1 0 2-0.5 1-1.5-0.5-1-1 0-1 1-1" fill="none" stroke="#111" stroke-width="1.05" stroke-linejoin="round"/>
<rect x="389.8" y="28.9" width="90.8" height="79.6" fill="none" stroke="#555" stroke-width="1.2"/>
<line x1="436" y1="28.9" x2="436" y2="108.5" stroke="#333" stroke-width="0.8"/>
<line x1="389.8" y1="74" x2="480.6" y2="74" stroke="#333" stroke-width="0.8"/>
<text x="386.8" y="107.3" font-size="5" text-anchor="end" fill="#555">10<tspan font-size="3.6" dy="-2">0</tspan></text>
<text x="386.8" y="90.2" font-size="5" text-anchor="end" fill="#555">10<tspan font-size="3.6" dy="-2">1</tspan></text>
<text x="386.8" y="69.5" font-size="5" text-anchor="end" fill="#555">10<tspan font-size="3.6" dy="-2">2</tspan></text>
<text x="386.8" y="50.7" font-size="5" text-anchor="end" fill="#555">10<tspan font-size="3.6" dy="-2">3</tspan></text>
<text x="386.8" y="36" font-size="5" text-anchor="end" fill="#555">10<tspan font-size="3.6" dy="-2">4</tspan></text>
<text x="394.8" y="116" font-size="5" text-anchor="middle" fill="#555">10<tspan font-size="3.6" dy="-2">0</tspan></text>
<text x="415.5" y="116" font-size="5" text-anchor="middle" fill="#555">10<tspan font-size="3.6" dy="-2">1</tspan></text>
<text x="436.2" y="116" font-size="5" text-anchor="middle" fill="#555">10<tspan font-size="3.6" dy="-2">2</tspan></text>
<text x="456.9" y="116" font-size="5" text-anchor="middle" fill="#555">10<tspan font-size="3.6" dy="-2">3</tspan></text>
<text x="477.6" y="116" font-size="5" text-anchor="middle" fill="#555">10<tspan font-size="3.6" dy="-2">4</tspan></text>
<path d="M389.8 105.5h2M389.8 100.4h1M389.8 97.3h1M389.8 95.3h1M389.8 93.6h1M389.8 92.2h1M389.8 91h1M389.8 90.1h1M389.8 89.3h1M389.8 88.4h2M389.8 82.2h1M389.8 78.5h1M389.8 76h1M389.8 73.9h1M389.8 72.2h1M389.8 70.8h1M389.8 69.7h1M389.8 68.7h1M389.8 67.7h2M389.8 62h1M389.8 58.6h1M389.8 56.4h1M389.8 54.5h1M389.8 53h1M389.8 51.7h1M389.8 50.8h1M389.8 49.8h1M389.8 48.9h2M389.8 44.5h1M389.8 41.8h1M389.8 40h1M389.8 38.6h1M389.8 37.4h1M389.8 36.4h1M389.8 35.6h1M389.8 34.9h1M389.8 34.2h2M393.8 108.5v-2M400 108.5v-1M403.7 108.5v-1M406.2 108.5v-1M408.3 108.5v-1M409.9 108.5v-1M411.4 108.5v-1M412.4 108.5v-1M413.5 108.5v-1M414.5 108.5v-2M420.7 108.5v-1M424.4 108.5v-1M426.9 108.5v-1M429 108.5v-1M430.6 108.5v-1M432.1 108.5v-1M433.1 108.5v-1M434.2 108.5v-1M435.2 108.5v-2M441.4 108.5v-1M445.1 108.5v-1M447.6 108.5v-1M449.7 108.5v-1M451.3 108.5v-1M452.8 108.5v-1M453.8 108.5v-1M454.9 108.5v-1M455.9 108.5v-2M462.1 108.5v-1M465.8 108.5v-1M468.3 108.5v-1M470.4 108.5v-1M472 108.5v-1M473.5 108.5v-1M474.5 108.5v-1M475.6 108.5v-1M476.6 108.5v-2" stroke="#555" stroke-width="0.6" fill="none"/>
<text x="491" y="76" font-size="10.7" stroke="#000" stroke-width="0.15">WT</text>
<text x="301.2" y="132.2" font-size="9.8" text-anchor="middle" stroke="#000" stroke-width="0.15">Naive</text>
<line x1="325.8" y1="128" x2="364.6" y2="128" stroke="#444" stroke-width="0.9"/>
<line x1="345" y1="117.8" x2="345" y2="138" stroke="#444" stroke-width="0.9"/>
<text x="341.6" y="125.1" font-size="9.6" text-anchor="end" stroke="#000" stroke-width="0.15">13.1</text>
<text x="346.7" y="125.1" font-size="9.6" stroke="#000" stroke-width="0.15">38.2</text>
<text x="341.6" y="137.6" font-size="9.6" text-anchor="end" stroke="#000" stroke-width="0.15">47.8</text>
<text x="346.7" y="137.6" font-size="9.6" stroke="#000" stroke-width="0.15">0.91</text>
<path filter="url(#cb)" d="M348.5 155l2 0 1.5 1 0.5 1.5-1 1.5-2.5 0.5-1.5-0.5-1-0.5-0.5-1 0.5-1 0.5-1 1.5-0.5M282.5 220l-0.5-1.5 0-2 2.5-5 3.5-4.5 6-5.5 1.5-2 4-13.5 3.5-8.5-0.5-1.5-5-2-2-1.5-1.5-2-1-3-1-2.5 0-2.5 1-2.5 2-4 3-3 3-1.5 4.5-0.5 3.5 0.5 3 0.5 6.5 3.5 3.5 4 2 5.5 1.5 1 2.5 1 9.5 2.5 10.5-2 4.5 0 3 1 2.5 2 1.5 3 1.5 3 0 3.5-0.5 3-1.5 2.5-1.5 2-2.5 2-2 1-2.5 1-7 0.5-6-1-2.5-1.5-2.5-1.5-2.5-3-0.5-2-0.5-3-0.5-1-2-0.5-7.5-0.5-1 0.5-1.5 2-4 12 0 1 3.5 1.5 1.5 2 0.5 3-1.5 4-2.5 4-4.5 4.5-4 3.5-6.5 4M285.5 220l-1-1-0.5-1.5 0-2 1-2 3.5-5.5 6.5-6.5 1.5-2 4.5-15 3.5-8 0-1-0.5-0.5-5-2-3-2.5-1.5-2.5-1-2.5 0-2 0.5-2.5 1.5-3.5 3-3 2.5-1.5 4-0.5 5.5 0.5 5.5 3 2.5 2 2 2.5 1 2 0.5 4 1 0.5 8.5 3 4 2 1.5-0.5 5.5-2 4.5-1 4 0 3.5 1 2.5 1.5 2 3 1 3 0 3.5-0.5 2.5-1.5 2-2 2.5-2 1.5-2 1-2.5 0.5-6.5 0-5.5-1-2.5-1.5-2-1.5-2-3.5 0-5-0.5-1-12-0.5-1 0.5-1.5 2-1.5 5-3 6.5-0.5 3 0.5 1 3.5 1.5 1 2 0.5 3-1 3.5-3 4-4.5 4.5-5.5 4-5.5 3M301.5 154.5l3-0.5 4 0.5 3 1 3.5 1.5 2.5 2.5 1.5 2 0.5 2-0.5 3.5 0.5 1 7.5 2 2.5 1.5 1 1.5-1 1-3 1-3.5 0.5-5.5-0.5-2 1-0.5 1.5-2 6-2.5 6-1.5 5 0.5 1 3.5 1 1.5 2 0.5 3-1.5 4-2 3-3 3-7.5 5.5-5.5 2.5-3 0-3 0-2-0.5-1.5-1.5-0.5-2 0.5-2 1.5-2.5 2-3 8.5-8.5 4.5-16 4.5-8 0-1-1-1-5-1-2.5-1.5-2-2-1-3-0.5-3 1.5-3.5 2.5-3.5 2.5-1.5M347 169.5l3-0.5 2.5 0.5 2.5 1.5 1.5 1.5 1.5 2.5 1 2.5 0 3-1 2.5-1 2-2 2-2 1.5-2 0.5-3.5 0.5-3.5 0-3.5-0.5-2.5-1-3-1.5-2-2.5-0.5-2.5 0.5-3 2-3 4-3 4-2 4-1M302.5 156l2.5-0.5 3 0.5 3 1 3 2 1.5 1.5 1 2 0.5 2-1 4 0.5 1 1.5 0.5 6.5 1 1.5 1 0 1-2.5 0.5-7-1-4.5 1-3.5-2-6-0.5-3-1-1-1.5-1-2-0.5-1.5 0-2 0.5-2 1.5-2.5 1.5-1.5 2-1M346.5 170.5l2.5-0.5 2.5 0.5 2 0.5 2 1.5 1.5 2 1 2.5 0 2.5-0.5 2-1 2-1.5 2-1.5 1.5-2 1-5.5 0.5-5.5-0.5-3-1.5-2-2-1.5-2.5 0-2.5 2-3 3.5-3 3-2 4-1M308.5 181l0.5 0 0 0.5-1.5 3-1.5 1.5-1 0.5 0-1 0.5-2 1.5-1.5 1.5-1M303.5 197.5l2-0.5 4.5 0 2 0.5 1 1 0.5 2 0 2-1 2.5-1.5 2.5-2.5 3-3 2.5-7.5 4.5-2.5 0.5-3 0.5-2 0-2-1-1-1.5 0-2 1-2.5 1.5-2.5 4.5-4.5 9-7M304 157.5l2 0 2.5 0.5 3 1.5 2 2 0.5 1.5 0 1.5-0.5 2-1 1.5-2.5 1-5.5 0.5-2.5-1-2-1-1-2.5 0.5-3 2-3.5 2.5-1M346 171.5l3.5-0.5 3.5 1 2.5 2 1 3 0.5 3-1 3-2.5 2.5-3 1.5-4.5 0.5-4.5-0.5-3.5-2-2-3-0.5-1.5 0.5-1.5 2-3 3.5-3 4.5-1.5M305.5 199l4.5-0.5 1.5 1 0.5 1.5 0 1.5-0.5 2-3 4.5-5 4.5-5.5 3-4.5 1-2-0.5-1.5-0.5-1-1.5 0-2 1-2.5 2-2.5 7-6 3.5-2 3-1M304 160l2.5 0 3 1.5 1 2 0 1-0.5 1-2 1-2 0.5-2-0.5-1.5-0.5-1-1.5 0.5-2 0.5-1.5 1.5-1M346 172.5l3-0.5 3 0.5 2 1.5 1.5 2.5 0.5 3-1 2.5-1.5 2.5-3 1.5-4 0.5-4-0.5-3.5-2-1.5-2.5 0-2.5 1.5-2.5 3.5-2.5 3.5-1.5M305 200.5l3.5-0.5 1.5 1 0.5 1 0 1.5-0.5 1.5-2 3.5-4.5 4-5 2.5-4 1-3-0.5-1-1.5 0-1.5 1-2 2-2.5 5.5-5 3-1.5 3-1M346 173.5l2.5-0.5 2.5 0 2 1.5 1.5 2 0.5 2.5-0.5 2.5-1.5 2-2.5 1.5-3.5 0.5-3.5-0.5-3-1.5-1.5-2 0-2 1.5-2.5 2-2 3.5-1.5M304 202l3-0.5 1 0.5 1 1-0.5 2.5-2 3-4 3.5-4 2-3.5 1-2-1-0.5-1 0-1.5 2.5-3.5 4.5-4 4.5-2M348 174l3 0.5 2 1.5 1 2.5-0.5 2.5-2 2-2 1-3 0-3-0.5-1.5-1-1-1.5-0.5-1 0.5-1.5 1-1.5 2-1.5 4-1.5M303.5 203.5l2.5-0.5 1 1.5 0 2-1.5 2-3 2.5-3 1.5-3 1-2-0.5-0.5-1 0.5-1 1.5-2.5 3.5-3.5 4-1.5M346.5 175.5l3-0.5 1.5 0.5 1 1.5 0.5 1.5 0 1.5-1 1.5-1 1-2 0.5-2.5 0-2-1-1.5-1 0-1.5 0.5-1.5 1.5-1.5 2-1M302.5 205l2-0.5 0.5 1 0 1.5-1 1.5-4 2.5-2 0.5-1.5 0 0-1.5 1.5-2 2.5-2 2-1M346.5 176.5l2.5-0.5 1 0.5 1 0.5 0 2.5-1 1.5-1.5 0.5-1.5 0-1.5-0.5-1-0.5-0.5-1 0-1 1-1 1.5-1M301 207l1-0.5 1 0-0.5 1.5-2 1.5-1 0.5-0.5-0.5 0-1 2-1.5M347 177.5l1.5-0.5 1 0.5 0.5 1.5-0.5 1-1.5 0.5-2-0.5 0-0.5 0-1 1-1" fill="none" stroke="#111" stroke-width="1.05" stroke-linejoin="round"/>
<rect x="280.4" y="141.8" width="90.2" height="78" fill="none" stroke="#555" stroke-width="1.2"/>
<line x1="325.4" y1="141.8" x2="325.4" y2="219.8" stroke="#333" stroke-width="0.8"/>
<line x1="280.4" y1="185.7" x2="370.6" y2="185.7" stroke="#333" stroke-width="0.8"/>
<text x="277.4" y="218.6" font-size="5" text-anchor="end" fill="#555">10<tspan font-size="3.6" dy="-2">0</tspan></text>
<text x="277.4" y="201.9" font-size="5" text-anchor="end" fill="#555">10<tspan font-size="3.6" dy="-2">1</tspan></text>
<text x="277.4" y="181.6" font-size="5" text-anchor="end" fill="#555">10<tspan font-size="3.6" dy="-2">2</tspan></text>
<text x="277.4" y="163.2" font-size="5" text-anchor="end" fill="#555">10<tspan font-size="3.6" dy="-2">3</tspan></text>
<text x="277.4" y="148.7" font-size="5" text-anchor="end" fill="#555">10<tspan font-size="3.6" dy="-2">4</tspan></text>
<text x="285.4" y="227.3" font-size="5" text-anchor="middle" fill="#555">10<tspan font-size="3.6" dy="-2">0</tspan></text>
<text x="305.9" y="227.3" font-size="5" text-anchor="middle" fill="#555">10<tspan font-size="3.6" dy="-2">1</tspan></text>
<text x="326.5" y="227.3" font-size="5" text-anchor="middle" fill="#555">10<tspan font-size="3.6" dy="-2">2</tspan></text>
<text x="347.1" y="227.3" font-size="5" text-anchor="middle" fill="#555">10<tspan font-size="3.6" dy="-2">3</tspan></text>
<text x="367.6" y="227.3" font-size="5" text-anchor="middle" fill="#555">10<tspan font-size="3.6" dy="-2">4</tspan></text>
<path d="M280.4 216.8h2M280.4 211.8h1M280.4 208.8h1M280.4 206.8h1M280.4 205.2h1M280.4 203.8h1M280.4 202.6h1M280.4 201.8h1M280.4 201h1M280.4 200.1h2M280.4 194h1M280.4 190.4h1M280.4 187.9h1M280.4 185.9h1M280.4 184.3h1M280.4 182.8h1M280.4 181.8h1M280.4 180.8h1M280.4 179.8h2M280.4 174.3h1M280.4 171h1M280.4 168.7h1M280.4 166.9h1M280.4 165.4h1M280.4 164.1h1M280.4 163.2h1M280.4 162.3h1M280.4 161.4h2M280.4 157h1M280.4 154.5h1M280.4 152.7h1M280.4 151.3h1M280.4 150.1h1M280.4 149.1h1M280.4 148.4h1M280.4 147.7h1M280.4 146.9h2M284.4 219.8v-2M290.6 219.8v-1M294.3 219.8v-1M296.7 219.8v-1M298.8 219.8v-1M300.4 219.8v-1M301.9 219.8v-1M302.9 219.8v-1M303.9 219.8v-1M304.9 219.8v-2M311.1 219.8v-1M314.8 219.8v-1M317.3 219.8v-1M319.3 219.8v-1M321 219.8v-1M322.4 219.8v-1M323.4 219.8v-1M324.5 219.8v-1M325.5 219.8v-2M331.7 219.8v-1M335.4 219.8v-1M337.8 219.8v-1M339.9 219.8v-1M341.5 219.8v-1M343 219.8v-1M344 219.8v-1M345 219.8v-1M346.1 219.8v-2M352.2 219.8v-1M355.9 219.8v-1M358.4 219.8v-1M360.4 219.8v-1M362.1 219.8v-1M363.5 219.8v-1M364.5 219.8v-1M365.6 219.8v-1M366.6 219.8v-2" stroke="#555" stroke-width="0.6" fill="none"/>
<text x="390.5" y="126.1" font-size="8.2" stroke="#000" stroke-width="0.15">4T1 tumor-</text>
<text x="390.5" y="135.3" font-size="8.2" stroke="#000" stroke-width="0.15">bearing</text>
<line x1="437.6" y1="128.5" x2="475" y2="128.5" stroke="#444" stroke-width="0.9"/>
<line x1="457.7" y1="118" x2="457.7" y2="137.6" stroke="#444" stroke-width="0.9"/>
<text x="456" y="126.1" font-size="9.6" text-anchor="end" stroke="#000" stroke-width="0.15">23.5</text>
<text x="459.6" y="126.1" font-size="9.6" stroke="#000" stroke-width="0.15">59.9</text>
<text x="456" y="136.8" font-size="9.6" text-anchor="end" stroke="#000" stroke-width="0.15">14.4</text>
<text x="459.6" y="136.8" font-size="9.6" stroke="#000" stroke-width="0.15">2.26</text>
<path filter="url(#cb)" d="M390 214.5l1.5-1 4-2 1.5-2 1-3 0-9.5 1-7.5 3-9.5 3.5-7-0.5-1.5-3.5-4.5-1.5-4.5 0-3 1-2.5 1-2 2-1.5 3.5-2 3.5-0.5 4 0 5.5 1.5 4.5 1.5 5.5 2.5 2.5 1.5 4 4 3.5 2 2 0.5 2-0.5 8-3.5 5-1.5 4 0 7 1.5 3.5 1.5 3 2.5 2 3 1 4 0.5 5-0.5 4-1.5 4-3 3.5-4 3-6 2-8 0.5-7.5-1-6-3-3-2-2-1.5-2.5-5.5-0.5-4.5-0.5-1-3.5-1-4 0.5-1.5 1-0.5 1 0 10.5-3 11-0.5 6-1.5 3.5-1.5 3.5-3 3-3.5 3-4 2.5M394 219.5l-2.5-1-1.5-1M398.5 219.5l-5.5-2-1-1 0-1 1-1 3-1.5 3.5-7 0.5-2-1-7 1.5-7.5 3-8.5 4-6.5 0.5-1.5-1-1.5-3.5-3.5-1-2-1-3.5 0-3.5 1.5-2.5 2.5-2.5 3.5-1.5 4-0.5 6 1 7.5 2.5 4.5 3 4.5 4 6.5 3.5 2-0.5 8-3.5 6-2 4 0.5 7.5 1.5 4 2.5 2.5 3.5 1 4.5 0.5 5.5-1 3-2 4-2 2.5-2 1.5-3.5 2-3.5 1-4.5 0.5-5 0-4.5-1-3.5-1-3.5-2-3-2.5-2-2.5-1.5-3.5-0.5-2 0.5-3.5-0.5-1-7.5-1-4 1-1.5 1-0.5 1.5 0.5 10-3 12 0 6-1 3.5-2 3.5-3.5 3.5-4 3-4 2M411 153l3 0 3 0.5 8 3 4.5 2.5 4 4 8.5 5 2-1 8-4 5.5-1.5 4.5 0 7 1.5 4 2.5 2.5 4 1 6 0 2.5-1 2.5-3 5.5-2 2-2.5 1.5-3 1-3 0.5-8.5 0-4-0.5-3-1-3.5-2-2.5-2.5-1.5-2.5-1-3.5 0-2 0.5-4-0.5-1-12-0.5-10.5 2.5-0.5 0.5 2 2 1.5 2.5 1.5 4.5-0.5 3.5-2 11 0.5 5.5-0.5 3.5-1 2.5-2 2.5-5.5 5-2.5 1-2.5 1-2.5 0-2-0.5-3-2.5-2 0 2 0 2-6 3.5-6 0.5-1-1-3.5-0.5-2.5 1.5-7.5 2.5-6.5 2-3 3-3.5 3.5-2.5-5.5-4-3.5-3.5-1.5-3 0-3.5 1-2.5 1.5-2 3-1.5 2.5-1M411.5 154l3 0 3.5 0.5 7.5 3.5 2.5 2 3.5 3.5 6.5 3.5 0.5 1.5 0 1-1.5 1-2.5 0.5-9-1-7 1-5.5-0.5-3-1-2.5-2-2-2-1-2.5 0-2.5 1-2.5 1.5-2 2-1 2.5-1M457 162.5l4-0.5 5 1 3 1.5 3 2 1.5 2.5 1.5 3 0.5 4-0.5 3-1.5 3.5-2 3-2.5 2-3 1.5-3.5 1-5 0-4.5 0-4-1-4.5-2-3-3.5-2-5 0.5-4 2-4 3-2.5 6.5-3.5 5.5-2M407.5 196l0.5-0.5 2.5 1 1.5 2 4 2.5 1 2.5 0 3-1 2.5-1.5 2-4.5 4-4.5 2.5-2 0.5-2 0-1.5-0.5-1.5-1.5 0-1.5 0-2 1-2.5 2-3 7-7 0-1-1-2 0-1M413 155l4.5 0.5 5 2.5 3.5 2.5 2.5 3 7 3.5 0.5 1.5-1 1-2.5 0-8-1-5.5 0.5-4.5 0-4-1-2-1.5-1.5-2-1-2 0-2.5 1-2 1.5-1.5 2-1 2.5-0.5M457.5 163.5l3.5 0 4 0.5 3.5 1.5 2.5 1.5 2 3 1 3 0.5 3-1 3-1.5 3.5-2 2.5-2 2-2.5 1-3.5 1-5 0-4.5-0.5-3.5-0.5-3.5-2-2.5-3.5-1.5-4.5 0.5-3.5 2-3.5 3-2.5 5-3 5.5-2M409.5 202l3.5-0.5 1.5 0.5 1 1 0.5 1.5 0 1.5-1.5 3.5-3 3.5-4 3-3.5 1-3-0.5-1-1.5-0.5-1.5 0.5-2 1-2 3.5-4 3-2.5 2-1M411 156.5l4-0.5 5 2 4 3 1.5 3.5 6 1.5 1.5 1 0.5 1-1.5 0.5-2.5 0-5-2.5-8 1.5-3.5-0.5-2-0.5-2.5-2.5-1-3 1-2.5 1-1 1.5-1M458.5 164.5l3 0 3.5 0.5 3 1.5 2.5 2 1.5 2.5 1 2.5 0 3-0.5 2.5-1.5 3-1.5 2.5-2 1.5-2.5 1-3.5 1-4.5 0-4-0.5-3.5-1-3-2-2-2.5-1.5-4 0.5-3.5 2-3.5 3-2.5 4.5-2 5.5-2M410.5 203l2.5 0 1.5 1.5 0 2.5-1 3-2.5 2.5-3.5 2.5-3 1-2.5-0.5-1-1-0.5-1.5 0.5-2 1-2 4-4 4.5-2M412.5 157.5l3.5 0 3.5 1.5 2 2.5-0.5 2-2 1.5-2.5 1-3-0.5-2-0.5-2-2-0.5-2.5 1.5-2 2-1M459 165.5l3 0 3 1 2.5 1 2 2 2 2.5 0.5 2.5 0 2.5-1 2.5-2.5 4.5-2 1.5-2 0.5-3.5 0.5-4 0.5-4-0.5-3-1-3-2-1.5-3-1-3.5 1-3 2-3 2.5-2 5.5-2.5 3.5-1M429 167l1-0.5 1 0.5-0.5 0.5-1.5-0.5M408.5 204.5l3-0.5 1.5 1 0.5 2-1 2.5-2 2.5-3 2-2.5 1-2-0.5-1-1 0-1 0.5-3 3-3 3-2M412.5 159l2-0.5 2.5 1 1.5 1.5 0 1.5-1 1-1.5 0.5-2 0-1.5-0.5-1-1-0.5-1.5 0.5-1 1-1M460.5 166.5l2.5 0.5 3 1 2 1.5 1.5 2 1 2 0.5 2.5-0.5 2-1 2.5-2.5 3-2 1-2 1-7 0-3-0.5-2.5-1-2.5-2-1.5-3 0-2.5 1-3 2-2.5 2-1.5 5.5-2.5 3.5-0.5M408.5 205.5l2.5-0.5 1 1 0.5 1.5-1 2-1.5 2-2.5 1.5-2 1-1.5-0.5-1-1.5 0.5-2.5 2.5-2.5 2.5-1.5M413.5 160.5l1.5 0 0.5 0.5-0.5 0.5-1 0.5-1-1 0.5-0.5M458 168l3.5-0.5 3 1 3 2 1.5 2.5 0.5 3-0.5 3-2 3-2.5 1.5-5.5 1-5-0.5-3.5-1.5-1-1.5-1-1.5 0-3.5 1.5-3.5 2.5-2 5.5-2.5M409 206.5l1 0 1 0.5 0 1-0.5 1.5-2.5 2.5-1.5 0.5-1.5 0-1-1.5 1-1.5 1.5-2 2.5-1M459 169l4 0 2 1 1.5 1.5 1.5 3 0 3.5-2 3-2.5 1.5-5 1-4-1-2.5-1-1.5-2-0.5-2 0.5-2.5 1-1.5 1.5-1.5 3-2 3-1M407.5 208l2 0 0 0.5 0 1-2 1.5-1.5 0-0.5-0.5 0.5-1 1.5-1.5M458.5 170.5l2.5-0.5 2 0.5 2 1 1.5 2 0.5 2-0.5 2.5-1.5 2-1.5 1-3.5 1-3 0-2.5-1-2-2-0.5-2.5 1-2.5 2-2 3.5-1.5M460 171.5l2.5 0 2 1.5 1 2-0.5 2.5-1 1.5-1.5 1-3 0.5-2.5 0-1.5-1-1-1-0.5-1.5 0-1.5 2.5-2.5 3.5-1.5M459.5 173l2 0 1.5 0.5 1 1.5 0 1.5-0.5 1.5-1 0.5-2 0.5-2 0-2-1-0.5-2 1.5-2 2-1M460 174.5l1.5 0 0.5 0.5 0.5 1-0.5 1.5-2 0-1.5-0.5 0-1.5 1.5-1" fill="none" stroke="#111" stroke-width="1.05" stroke-linejoin="round"/>
<rect x="389.8" y="141.5" width="91" height="78.3" fill="none" stroke="#555" stroke-width="1.2"/>
<line x1="436" y1="141.5" x2="436" y2="219.8" stroke="#333" stroke-width="0.8"/>
<line x1="389.8" y1="185.3" x2="480.8" y2="185.3" stroke="#333" stroke-width="0.8"/>
<text x="386.8" y="218.6" font-size="5" text-anchor="end" fill="#555">10<tspan font-size="3.6" dy="-2">0</tspan></text>
<text x="386.8" y="201.9" font-size="5" text-anchor="end" fill="#555">10<tspan font-size="3.6" dy="-2">1</tspan></text>
<text x="386.8" y="181.4" font-size="5" text-anchor="end" fill="#555">10<tspan font-size="3.6" dy="-2">2</tspan></text>
<text x="386.8" y="163" font-size="5" text-anchor="end" fill="#555">10<tspan font-size="3.6" dy="-2">3</tspan></text>
<text x="386.8" y="148.5" font-size="5" text-anchor="end" fill="#555">10<tspan font-size="3.6" dy="-2">4</tspan></text>
<text x="394.8" y="227.3" font-size="5" text-anchor="middle" fill="#555">10<tspan font-size="3.6" dy="-2">0</tspan></text>
<text x="415.6" y="227.3" font-size="5" text-anchor="middle" fill="#555">10<tspan font-size="3.6" dy="-2">1</tspan></text>
<text x="436.3" y="227.3" font-size="5" text-anchor="middle" fill="#555">10<tspan font-size="3.6" dy="-2">2</tspan></text>
<text x="457.1" y="227.3" font-size="5" text-anchor="middle" fill="#555">10<tspan font-size="3.6" dy="-2">3</tspan></text>
<text x="477.8" y="227.3" font-size="5" text-anchor="middle" fill="#555">10<tspan font-size="3.6" dy="-2">4</tspan></text>
<path d="M389.8 216.8h2M389.8 211.8h1M389.8 208.8h1M389.8 206.8h1M389.8 205.1h1M389.8 203.8h1M389.8 202.6h1M389.8 201.7h1M389.8 200.9h1M389.8 200.1h2M389.8 193.9h1M389.8 190.3h1M389.8 187.8h1M389.8 185.8h1M389.8 184.1h1M389.8 182.7h1M389.8 181.7h1M389.8 180.7h1M389.8 179.6h2M389.8 174.1h1M389.8 170.8h1M389.8 168.5h1M389.8 166.7h1M389.8 165.2h1M389.8 163.9h1M389.8 163h1M389.8 162.1h1M389.8 161.2h2M389.8 156.8h1M389.8 154.2h1M389.8 152.5h1M389.8 151h1M389.8 149.9h1M389.8 148.8h1M389.8 148.1h1M389.8 147.4h1M389.8 146.7h2M393.8 219.8v-2M400 219.8v-1M403.8 219.8v-1M406.2 219.8v-1M408.3 219.8v-1M410 219.8v-1M411.4 219.8v-1M412.5 219.8v-1M413.5 219.8v-1M414.6 219.8v-2M420.8 219.8v-1M424.5 219.8v-1M427 219.8v-1M429.1 219.8v-1M430.7 219.8v-1M432.2 219.8v-1M433.2 219.8v-1M434.3 219.8v-1M435.3 219.8v-2M441.5 219.8v-1M445.3 219.8v-1M447.8 219.8v-1M449.8 219.8v-1M451.5 219.8v-1M452.9 219.8v-1M454 219.8v-1M455 219.8v-1M456.1 219.8v-2M462.3 219.8v-1M466 219.8v-1M468.5 219.8v-1M470.6 219.8v-1M472.2 219.8v-1M473.7 219.8v-1M474.7 219.8v-1M475.8 219.8v-1M476.8 219.8v-2" stroke="#555" stroke-width="0.6" fill="none"/>
<text x="488.6" y="190.6" font-size="10.6" font-style="italic" stroke="#000" stroke-width="0.15">ccl5<tspan font-size="9.4" dy="-4.2" dx="0.8">-/-</tspan></text>
<line x1="261" y1="33.7" x2="261" y2="200" stroke="#000" stroke-width="1.1"/>
<path d="M261 28.2L258.7 34.7L263.3 34.7Z"/>
<text x="266.2" y="210.3" font-size="9.6" text-anchor="middle" stroke="#000" stroke-width="0.15" transform="rotate(-90 266.2 210.3)">Ly6C</text>
<text x="281.6" y="237" font-size="9.7" stroke="#000" stroke-width="0.15">Ly6G</text>
<line x1="308.5" y1="235.3" x2="477" y2="235.3" stroke="#000" stroke-width="1.2"/>
<path d="M482 235.3L476 232.7L476 237.9Z"/>
<text x="0.2" y="259.3" font-size="16.8" font-weight="bold" stroke="#000" stroke-width="0.15">C</text>
<text x="59.2" y="257" font-size="11" text-anchor="middle" stroke="#000" stroke-width="0.15">Before</text>
<line x1="91.9" y1="253.4" x2="108.5" y2="253.4" stroke="#000" stroke-width="1.1"/>
<path d="M112.5 253.4L107.5 251.2L107.5 255.6Z"/>
<text x="160.2" y="257.4" font-size="11.4" text-anchor="middle" stroke="#000" stroke-width="0.15">4 d in culture</text>
<g filter="url(#sb)">
<path stroke="#a0a6ea" d="M49.5 268h1M49.5 290h1M45 302h1M44.5 270.5h1M24 268.5h1M45 287.5h1M24.5 311.5h1M32.5 309h1M43 289h1M28.5 310h1M36 264h1M43 285h1"/>
<path stroke="#8890e4" d="M36.5 303.5h1M33.5 266h1M29 269h1M40 293h1M25 274h1M40.5 273h1M37.5 267.5h1M33.5 267h1M41 276.5h1M41 276h1M40 272h1M30.5 305h1M34 267.5h1M26 273.5h1M39.5 292h1M27 306h1M40 289.5h1M29.5 305.5h1M39.5 290.5h1M29.5 269.5h1M35.5 268h1M25.5 274.5h1M37 297h1M40 274h1M28.5 305h1M25 276h1M25 304.5h1M35 268.5h1M38 294h1M26.5 274h1M34.5 300h1M40.5 280.5h1M24.5 277h1M24.5 304h1M33 269h1M36.5 269.5h1M32.5 302h1M39 289h1M29.5 271h1M37 294.5h1M27 274h1M36.5 296h1M39 288h1M39 274.5h1M38 292h1"/>
<path stroke="#6a76dc" d="M31.5 270h1M37 294h1M34 299h1M39.5 276.5h1M36.5 270.5h1M29.5 272h1M33.5 270h1M39.5 282.5h1M39.5 279.5h1M29 272.5h1M31.5 270.5h1M34.5 270h1M27.5 274h1M25 302h1M30.5 302h1M25 279h1M37.5 291h1M25.5 278.5h1M27 275.5h1M33 271h1M31.5 300.5h1M24.5 300.5h1M24 281.5h1M27.5 275.5h1M30 301.5h1M25 279.5h1M27.5 302h1M38.5 284.5h1M25 301h1M36 272h1M28.5 301.5h1M24.5 300h1M32.5 271.5h1M28 275.5h1M38 276.5h1M25 280.5h1M24 299h1M29 274.5h1M27 277h1M32 272h1M25.5 279h1M25 281h1M38 287.5h1M32.5 298.5h1M36 292.5h1M38.5 279h1M30.5 300h1M38.5 279.5h1M26.5 278.5h1M27 277.5h1M37.5 276h1M35 272.5h1M25.5 300h1M33 272.5h1M38 283h1M29.5 274.5h1M38 285.5h1M36.5 290.5h1M29 300.5h1M38 284h1M34 296h1"/>
<path stroke="#4a5ad4" d="M25 281h1M30.5 299.5h1M36 292h1M38 285h1M32 298.5h1M25.5 299.5h1M31 299h1M37.5 277.5h1M27 277.5h1M37 276h1M25.5 281h1M37 275.5h1M29.5 274.5h1M29.5 300h1M34.5 294.5h1M24.5 298h1M31 273.5h1M34 273h1M32 297.5h1M37.5 280h1M37.5 279.5h1M34 295.5h1M27 278h1M30 299h1M26 299h1M37.5 278h1M30.5 299h1M24 296h1M37 277.5h1M34 295h1M24.5 284h1M24.5 285h1M34.5 273.5h1M31.5 274h1M37.5 281h1M25 297.5h1M25 298h1M29.5 275.5h1M37 287.5h1M28.5 276.5h1M31 298.5h1M36 291h1M30.5 298.5h1M24 288h1M25.5 281.5h1M37.5 284h1M36.5 276.5h1M24.5 296.5h1M33.5 274h1M24 294h1M26 298.5h1M24 287h1M28.5 277h1M24.5 284.5h1M37.5 282h1M33 274h1M37 279.5h1M24 288.5h1M24 294.5h1M25 296.5h1M33.5 295h1M24.5 295.5h1M36.5 287.5h1M25.5 297.5h1M37 285.5h1M37 283h1M30.5 275h1M37 280h1M33 295.5h1M27.5 299h1M24 290h1M34.5 274.5h1M25 284h1M37 281h1M24 292h1M24 293h1M24 291.5h1M28 298.5h1M26 282h1M29.5 276.5h1M24 292.5h1M24.5 286.5h1M35.5 290h1M37 284h1M36.5 287h1M25.5 296.5h1M24.5 294.5h1M27.5 279.5h1M31.5 297h1M34.5 292.5h1M25.5 283.5h1M24.5 292.5h1M27.5 279h1M32.5 295.5h1M29.5 298h1M26 297h1M24 291h1M35.5 289h1M36 278h1M36 288.5h1M24.5 290h1M36.5 285.5h1M32 275h1M26.5 281.5h1M33.5 275h1M30.5 276h1M35.5 289.5h1M25.5 296h1M31.5 275.5h1M30 276.5h1M27 298h1M32 295.5h1M24.5 288.5h1M24.5 292h1M29 277h1M36.5 280.5h1"/>
<path stroke="#2e58d0" stroke-width="1.25" d="M29 298h1.25M27.5 279.5h1.25M28 298h1.25M33.5 275.5h1.25M33.5 293h1.25M32 296h1.25M26 296.5h1.25M36 278h1.25M31.5 275.5h1.25M36.5 283h1.25M25 295h1.25M32 295.5h1.25M24.5 288h1.25M36.5 285h1.25M27 297h1.25M36.5 281.5h1.25M25 294.5h1.25M25 294h1.25M36 287.5h1.25M34 276h1.25M33 294h1.25M35 276.5h1.25M36.5 281h1.25M26 283h1.25M24.5 290h1.25M25 287h1.25M27.5 297h1.25M25 293h1.25M29 297h1.25M25 293.5h1.25M35.5 278.5h1.25M25 287.5h1.25M29.5 277.5h1.25M30 296.5h1.25M25 288.5h1.25M28.5 297h1.25M33 293.5h1.25M34.5 290.5h1.25M26 295.5h1.25M31.5 295.5h1.25M36 279.5h1.25M25 286.5h1.25M35 289.5h1.25M25 288h1.25M29.5 297h1.25M25.5 286h1.25M27 296.5h1.25M25.5 294h1.25M25.5 287h1.25M25.5 295h1.25M36 284h1.25M28 297h1.25M26.5 283h1.25M36 282h1.25M33 276.5h1.25M27.5 296.5h1.25M36 281.5h1.25M35 277.5h1.25M32 295h1.25M25 289.5h1.25M32 276.5h1.25M27.5 280.5h1.25M30.5 277h1.25M27.5 281h1.25M25 290h1.25M25 290.5h1.25M36 282.5h1.25M32.5 293.5h1.25M32.5 294h1.25M36 281h1.25M34.5 277.5h1.25M29.5 296.5h1.25M28 296.5h1.25M34 277h1.25M34.5 290h1.25M30 277.5h1.25M30 296h1.25M26 294.5h1.25M28 280.5h1.25M25.5 292.5h1.25M35.5 279.5h1.25M29 279h1.25M25.5 288.5h1.25M29 296.5h1.25M31 277h1.25M33.5 277h1.25M35.5 284h1.25M30 278h1.25"/>
<path stroke="#2098c8" stroke-width="1.25" d="M27.5 281.5h1.25M25.5 290.5h1.25M26.5 283.5h1.25M25.5 291.5h1.25M25.5 293h1.25M26.5 284h1.25M30.5 277.5h1.25M25.5 292.5h1.25M26 285h1.25M29 279h1.25M27 282.5h1.25M32.5 293.5h1.25M26.5 283h1.25M26 286.5h1.25M26 293.5h1.25M34 291h1.25M28 296h1.25M26.5 294.5h1.25M35.5 281h1.25M29.5 296h1.25M26.5 284.5h1.25M30.5 278h1.25M35.5 281.5h1.25M35.5 285h1.25M25.5 288h1.25M27 283.5h1.25M35 287.5h1.25M34 290h1.25M34.5 289.5h1.25M34.5 279h1.25M34.5 289h1.25M28 295.5h1.25M26 287.5h1.25M27.5 295h1.25M28 281.5h1.25M34.5 288.5h1.25M34.5 288h1.25M30.5 295h1.25M25.5 291h1.25M26 286h1.25M33.5 291h1.25M33.5 291.5h1.25M32.5 292.5h1.25M26 291h1.25M27 284h1.25M31 294.5h1.25M32 293h1.25M26.5 294h1.25M32.5 293h1.25M29 280h1.25M27 294h1.25M29.5 279h1.25M30 278.5h1.25M31 278h1.25M35 283.5h1.25M30 295h1.25M34.5 280h1.25M34 279h1.25M28 295h1.25M31.5 294h1.25M33.5 278.5h1.25M33 278h1.25M34.5 287.5h1.25M29 295h1.25M33.5 278h1.25M32.5 278h1.25M35 286.5h1.25M28.5 280.5h1.25M26.5 293h1.25M32 278h1.25M35 286h1.25M35 282.5h1.25M34.5 279.5h1.25M30 294.5h1.25M27.5 283h1.25M32.5 292h1.25M27 285h1.25M34 289h1.25M31.5 293.5h1.25M28 294.5h1.25M27 293.5h1.25M31 278.5h1.25M33.5 290.5h1.25M34.5 280.5h1.25M32 278.5h1.25M33 291h1.25M26 289h1.25M35 282h1.25M29.5 294.5h1.25M33.5 279h1.25M26.5 286h1.25M33.5 289.5h1.25M35 284.5h1.25M31.5 278.5h1.25"/>
<path stroke="#30b878" stroke-width="1.25" d="M30.5 294h1.25M32.5 278.5h1.25M26.5 292h1.25M26 290.5h1.25M34 279.5h1.25M29.5 294.5h1.25M34.5 282h1.25M34.5 280.5h1.25M27 284h1.25M33.5 290h1.25M34.5 281h1.25M27 284.5h1.25M32.5 291.5h1.25M27 285.5h1.25M28 283h1.25M28 294h1.25M34.5 286h1.25M30 279.5h1.25M34.5 287h1.25M27.5 283.5h1.25M32 292.5h1.25M27 285h1.25M33 291h1.25M29.5 280h1.25M33.5 279.5h1.25M27 286h1.25M26.5 290.5h1.25M29.5 280.5h1.25M30.5 279.5h1.25M26.5 289h1.25M32.5 291h1.25M29.5 294h1.25M33 279h1.25M30 294h1.25M27.5 293.5h1.25M29 281h1.25M32 291.5h1.25M27.5 284h1.25M32.5 279h1.25M28 283.5h1.25M33 279.5h1.25M26.5 291h1.25M33 290h1.25M26.5 290h1.25M26.5 288.5h1.25M34 287h1.25M34.5 283.5h1.25M34 286.5h1.25M34 281.5h1.25M32.5 290.5h1.25M34.5 284h1.25M33.5 288.5h1.25M31 293h1.25M27 287.5h1.25M31 279.5h1.25M31.5 279.5h1.25M34.5 284.5h1.25M32.5 279.5h1.25M33.5 280h1.25M27 292h1.25M30.5 293h1.25M30 293.5h1.25M27.5 293h1.25M28.5 282h1.25M27 290.5h1.25M26.5 289.5h1.25M27 291h1.25M31.5 292h1.25M34 281h1.25M31 292.5h1.25M33.5 288h1.25M34 285.5h1.25M27 288h1.25M28 293.5h1.25M27.5 292h1.25M28 293h1.25M33.5 280.5h1.25M27.5 285.5h1.25M27.5 292.5h1.25M29.5 293.5h1.25M29 282h1.25M28.5 293.5h1.25M27 289.5h1.25M34 283h1.25M34 286h1.25M33.5 287.5h1.25M28.5 283h1.25M32 280h1.25M33 289.5h1.25M30.5 280.5h1.25M27.5 291.5h1.25M33.5 281h1.25M30.5 292.5h1.25M27.5 285h1.25M32.5 280h1.25M34 284.5h1.25M27 287h1.25M34 284h1.25M33.5 281.5h1.25M28 284h1.25M29.5 293h1.25M32.5 280.5h1.25M28.5 293h1.25M32.5 290h1.25M27 288.5h1.25M27 289h1.25M29.5 281.5h1.25M33 288.5h1.25M30 281h1.25M31 280.5h1.25M29 282.5h1.25M29 293h1.25M34 283.5h1.25M31 292h1.25M30 292.5h1.25M33 288h1.25M34 285h1.25M27.5 286h1.25M29.5 292.5h1.25M27.5 290h1.25M31.5 280.5h1.25M30.5 292h1.25M28 285h1.25M28.5 283.5h1.25M29 292.5h1.25M27.5 289.5h1.25M32 280.5h1.25M27.5 290.5h1.25"/>
<path stroke="#50c840" stroke-width="1.25" d="M27.5 288.5h1.25M33.5 286.5h1.25M28 291.5h1.25M33.5 287h1.25M28.5 284h1.25M28 284.5h1.25M33 287.5h1.25M33.5 284h1.25M27.5 289.5h1.25M32.5 289h1.25M30.5 281h1.25M30 292h1.25M32 281h1.25M31 281h1.25M33.5 283h1.25M28.5 292h1.25M28 286h1.25M29 292h1.25M30.5 292h1.25M27.5 286.5h1.25M31.5 291h1.25M33 282.5h1.25M28 285h1.25M28.5 291.5h1.25M29.5 292h1.25M33 288h1.25M32.5 281.5h1.25M33 282h1.25M33.5 284.5h1.25M28 290h1.25M27.5 288h1.25M33.5 283.5h1.25M32.5 288h1.25M28.5 284.5h1.25M28 285.5h1.25M30 282h1.25M33 286h1.25M32.5 282h1.25M31.5 281.5h1.25M30.5 291.5h1.25M29 283.5h1.25M28 289h1.25M31 281.5h1.25M32 289h1.25M32 289.5h1.25M29 291.5h1.25M33 287h1.25M30 291.5h1.25M29.5 283h1.25M29 284h1.25M28.5 285h1.25M31 290.5h1.25M33 284h1.25M32.5 288.5h1.25M29.5 283.5h1.25M33 283.5h1.25M28 288.5h1.25M33 284.5h1.25M33 283h1.25M28.5 285.5h1.25M28.5 291h1.25M28 288h1.25M32.5 287h1.25M31.5 290h1.25M30.5 282h1.25M28.5 290.5h1.25M28 286.5h1.25M28.5 290h1.25M28 287h1.25M28 289.5h1.25M30 282.5h1.25M32 282h1.25M29 291h1.25M30.5 282.5h1.25M30.5 290.5h1.25M31 282h1.25M32.5 286.5h1.25M31.5 282h1.25M32 282.5h1.25M29.5 284h1.25M29 285h1.25M32.5 283h1.25M31 290h1.25M28.5 286h1.25M28.5 286.5h1.25M28.5 288h1.25M32.5 285.5h1.25M30 283h1.25M32.5 284.5h1.25M29 290h1.25M28.5 288.5h1.25M31.5 282.5h1.25M29.5 290.5h1.25M32.5 285h1.25M30.5 290h1.25M30 290.5h1.25M32.5 284h1.25M29 290.5h1.25M31 282.5h1.25M28.5 287h1.25M31.5 288.5h1.25M31.5 289h1.25M28.5 289h1.25M32.5 283.5h1.25M29 286h1.25M31 283h1.25M32 288h1.25M31 289.5h1.25M32 283h1.25M30 283.5h1.25M30 290h1.25M32 287h1.25M29.5 290h1.25M30 284h1.25M29.5 285h1.25M32 286.5h1.25M32.5 286h1.25M31.5 283h1.25M32 284.5h1.25M30.5 283.5h1.25M32 286h1.25M29 287h1.25M31.5 288h1.25M29 289.5h1.25M29 288h1.25M32 284h1.25M30 289.5h1.25M30.5 289.5h1.25M31.5 287.5h1.25M31 288.5h1.25M29 289h1.25M29.5 285.5h1.25M31 283.5h1.25M29.5 286h1.25M32 285.5h1.25M31.5 284h1.25M29.5 289h1.25M32 285h1.25M30.5 289h1.25M29 287.5h1.25M30 284.5h1.25M31 284h1.25M30 289h1.25M29.5 288.5h1.25M30.5 284.5h1.25M31.5 286.5h1.25M29.5 287.5h1.25M31.5 287h1.25M31 288h1.25M31.5 284.5h1.25"/>
<path stroke="#c8e030" stroke-width="1.25" d="M31.5 286.5h1.25M30.5 284.5h1.25M29.5 286.5h1.25M31 284.5h1.25M29.5 288h1.25M31.5 285h1.25M31.5 286h1.25M30 286h1.25M30.5 288h1.25M30.5 288.5h1.25M31 288h1.25M30 285.5h1.25M31.5 285.5h1.25M30 288.5h1.25M30.5 285h1.25M30 288h1.25M31 285h1.25M29.5 287.5h1.25M29.5 287h1.25M30 286.5h1.25M31 285.5h1.25M30 287.5h1.25M30.5 285.5h1.25M30 287h1.25M30.5 287.5h1.25M31 286h1.25M30.5 287h1.25M31 286.5h1.25M30.5 286.5h1.25"/>
</g>
<rect x="22.5" y="262.7" width="81.9" height="83.8" fill="none" stroke="#666" stroke-width="1.1"/>
<text x="19.5" y="345.1" font-size="5" text-anchor="end" fill="#555">10<tspan font-size="3.6" dy="-2">0</tspan></text>
<text x="19.5" y="327.2" font-size="5" text-anchor="end" fill="#555">10<tspan font-size="3.6" dy="-2">1</tspan></text>
<text x="19.5" y="305.3" font-size="5" text-anchor="end" fill="#555">10<tspan font-size="3.6" dy="-2">2</tspan></text>
<text x="19.5" y="285.5" font-size="5" text-anchor="end" fill="#555">10<tspan font-size="3.6" dy="-2">3</tspan></text>
<text x="19.5" y="270" font-size="5" text-anchor="end" fill="#555">10<tspan font-size="3.6" dy="-2">4</tspan></text>
<text x="27.5" y="354" font-size="5" text-anchor="middle" fill="#555">10<tspan font-size="3.6" dy="-2">0</tspan></text>
<text x="46" y="354" font-size="5" text-anchor="middle" fill="#555">10<tspan font-size="3.6" dy="-2">1</tspan></text>
<text x="64.5" y="354" font-size="5" text-anchor="middle" fill="#555">10<tspan font-size="3.6" dy="-2">2</tspan></text>
<text x="82.9" y="354" font-size="5" text-anchor="middle" fill="#555">10<tspan font-size="3.6" dy="-2">3</tspan></text>
<text x="101.4" y="354" font-size="5" text-anchor="middle" fill="#555">10<tspan font-size="3.6" dy="-2">4</tspan></text>
<path d="M22.5 343.3h2M22.5 337.9h1M22.5 334.7h1M22.5 332.6h1M22.5 330.8h1M22.5 329.3h1M22.5 328.1h1M22.5 327.2h1M22.5 326.3h1M22.5 325.4h2M22.5 318.8h1M22.5 314.9h1M22.5 312.3h1M22.5 310.1h1M22.5 308.3h1M22.5 306.8h1M22.5 305.7h1M22.5 304.6h1M22.5 303.5h2M22.5 297.6h1M22.5 294h1M22.5 291.6h1M22.5 289.7h1M22.5 288.1h1M22.5 286.7h1M22.5 285.7h1M22.5 284.7h1M22.5 283.7h2M22.5 279.1h1M22.5 276.3h1M22.5 274.4h1M22.5 272.9h1M22.5 271.6h1M22.5 270.6h1M22.5 269.8h1M22.5 269h1M22.5 268.2h2M26.5 346.5v-2M32 346.5v-1M35.4 346.5v-1M37.6 346.5v-1M39.4 346.5v-1M40.9 346.5v-1M42.2 346.5v-1M43.1 346.5v-1M44.1 346.5v-1M45 346.5v-2M50.5 346.5v-1M53.8 346.5v-1M56.1 346.5v-1M57.9 346.5v-1M59.4 346.5v-1M60.7 346.5v-1M61.6 346.5v-1M62.5 346.5v-1M63.5 346.5v-2M69 346.5v-1M72.3 346.5v-1M74.5 346.5v-1M76.4 346.5v-1M77.9 346.5v-1M79.2 346.5v-1M80.1 346.5v-1M81 346.5v-1M81.9 346.5v-2M87.5 346.5v-1M90.8 346.5v-1M93 346.5v-1M94.9 346.5v-1M96.3 346.5v-1M97.6 346.5v-1M98.6 346.5v-1M99.5 346.5v-1M100.4 346.5v-2" stroke="#555" stroke-width="0.6" fill="none"/>
<rect x="23.8" y="268.2" width="24.8" height="33" fill="none" stroke="#666" stroke-width="1"/>
<text x="26.6" y="341.6" font-size="9.4" stroke="#000" stroke-width="0.4">WT</text>
<g filter="url(#sb)">
<path stroke="#a4aae6" d="M135 332.5h1M172 341h1M147.5 339.5h1M131.5 318.5h1M200 336h1M133.5 318.5h1M180.5 333h1M146.5 335.5h1M201.5 334.5h1M133.5 315.5h1M127.5 267.5h1M200.5 333.5h1M143 329.5h1M156 336.5h1M137 318h1M181 329.5h1M143 328h1M204 275h1M121 273h1M192.5 267h1M168.5 334.5h1M142 325h1M150 264.5h1M186 328h1M143 265.5h1M184 265h1M170 333h1M158.5 334.5h1M131 309.5h1M193.5 331.5h1M158 264.5h1M121 275.5h1M170.5 332.5h1M154.5 333h1M158.5 334h1M179.5 265h1M198.5 272.5h1M185 327h1M173 331h1M129 271h1M148 329h1M151 331h1M192.5 269h1M184.5 326.5h1M146.5 266h1M194 270h1M190 329.5h1M197.5 272.5h1M202 305h1M202 277h1M172.5 330.5h1M128 272.5h1M139.5 268h1M202 305.5h1M174.5 265.5h1M150.5 329.5h1M157 265.5h1M129 272.5h1M157 266h1M124.5 275.5h1M195.5 272h1M135.5 310h1M146.5 267h1M181 324.5h1M174 328.5h1M202.5 280.5h1M203.5 283h1M176 327h1M201 303.5h1M191.5 270.5h1M192 271h1M169.5 266.5h1M181 324h1M194 272h1M199 329.5h1M201 301.5h1M148.5 326h1M155 330h1M185.5 268.5h1M167 330.5h1M135 271h1M200.5 279h1M180.5 324h1M129 274h1M135.5 271h1M183.5 324h1M132.5 272.5h1M170.5 329h1M170 267h1M193 272.5h1M160.5 330.5h1M135.5 308.5h1M203 293h1M144 315h1M168.5 267h1M154.5 267.5h1M140 270h1M201.5 296h1M202 294.5h1M203 325h1M140.5 270h1M180.5 268h1M142.5 312h1M167.5 329.5h1M178.5 323.5h1M203.5 320h1M203 324h1M126.5 277h1M200.5 328h1M152.5 268h1M162 267.5h1M147.5 321.5h1M186 324.5h1M175 268h1M137 271.5h1M197 277h1M179 268.5h1M123 281h1M123.5 280.5h1M186 325h1M133.5 273h1M130.5 275h1M201 295h1M202 289.5h1M166.5 328.5h1M195 275.5h1M150.5 324.5h1M128 277h1M136.5 272h1M177 323.5h1M147.5 319.5h1M185 324h1M180 322h1M181.5 322h1M201 284.5h1M155 327.5h1M166.5 268h1M201 294h1M164 268h1M153.5 326.5h1M139 309h1M165 268.5h1M122.5 282.5h1M146.5 315.5h1M201 292h1M203 321.5h1M145 312.5h1M124 299.5h1M201 286.5h1M196.5 277.5h1M145 270h1M134.5 273.5h1M177 269h1M140 271.5h1M126 301.5h1M128.5 303.5h1M130 276.5h1M200.5 308h1M121.5 286.5h1M199.5 282.5h1M182 270h1M175.5 323.5h1M179.5 269.5h1M201.5 325h1M123.5 283h1M150 321.5h1M130.5 304.5h1M199.5 305.5h1M200.5 288h1M168.5 269h1M144 310.5h1M142 271h1M160 269h1M125 300h1M128 303h1M191.5 274h1M162.5 327.5h1M202.5 319.5h1M171.5 325.5h1M201 325h1M147 314h1M148.5 317.5h1M153.5 269.5h1M140.5 308.5h1M174.5 323.5h1M124.5 299h1M131.5 304.5h1M159.5 327h1M190.5 274h1M152.5 324h1M129.5 303.5h1M200 290.5h1M131 276.5h1M199 305h1M197.5 327.5h1M122.5 287.5h1M152 322.5h1M188.5 325h1M124 297.5h1M133.5 305.5h1M169.5 325.5h1M199.5 285.5h1M135 274h1M197 280.5h1M147 270.5h1M175.5 322h1M171.5 324.5h1M187 272.5h1M199.5 292h1M200.5 325.5h1M145 310h1M164.5 269.5h1M128 279h1M185.5 272h1M124.5 283h1M153.5 323.5h1M156 325h1M197.5 299.5h1M202 318.5h1M179 319.5h1M181.5 271h1M158 270h1M127.5 301h1M133 305h1M150.5 319.5h1M122.5 290h1M183 271.5h1M179.5 319.5h1M199 287.5h1M173 270h1M164.5 326h1M151 270.5h1M201 313h1M149.5 315.5h1M151 319.5h1M129 302h1M152 320.5h1M155.5 270h1M142.5 308h1M132.5 304h1M162 326h1M124 295h1M123 292.5h1M150 316.5h1M141 307.5h1M179.5 319h1M191.5 276h1M131 277.5h1M148 271h1M123.5 288h1M135 305h1M198.5 288.5h1M139 306.5h1M149.5 313.5h1M170.5 323.5h1M160 325h1M158 324.5h1M124.5 286h1M160.5 325h1M126 298.5h1M123.5 289.5h1M167 324.5h1M148.5 271.5h1M180.5 318.5h1M201 322.5h1M147 310h1M160.5 270.5h1M146.5 309.5h1M165.5 270.5h1M193 278h1M179 271.5h1M177.5 318.5h1M152 318.5h1M151 316h1M127 298.5h1M131 302.5h1M201.5 318.5h1M181 318.5h1M189 324.5h1M166 324.5h1M171 322.5h1M153 320h1M137 275h1M158 271h1M197 303.5h1M160 271h1M190 276h1M139 306h1M200 310.5h1M197.5 288.5h1M125 286.5h1M175.5 319h1M162 271h1M125.5 285h1M200.5 323h1M186 274h1M188.5 324h1M164 324.5h1M144.5 307.5h1M197 286h1M194.5 281h1M157 322.5h1M148 272h1M150 312h1M160.5 324h1M137.5 305h1M183 319.5h1M152 317h1M151.5 315h1M172.5 321h1M125 287.5h1M126 296.5h1M166 271.5h1M201 315h1M201 315.5h1M157.5 322.5h1M141.5 306.5h1M196.5 326h1M168.5 322.5h1M152.5 317h1M139 305.5h1M126 296h1M166 323.5h1M128 282h1M126.5 296.5h1M183.5 273.5h1M159 323h1M162 271.5h1M148.5 272h1M172 321h1M166.5 323h1M149 309.5h1M138.5 305h1M125 290.5h1M125.5 287.5h1M125 293h1M199.5 323.5h1M148.5 309h1M161.5 323h1M187.5 322.5h1M151 311.5h1M144 273h1M174 319h1M131.5 301.5h1M179.5 316.5h1M132 279h1M138 304.5h1M128 298h1M127 297.5h1M154 318h1M190.5 324.5h1M167 322.5h1M150.5 310.5h1M128.5 282.5h1M176 317h1M154.5 319h1M134 277.5h1M175 317.5h1M166 272h1M152.5 313.5h1M192.5 279.5h1M152.5 314h1M151.5 311h1M195 297.5h1M143 274h1M195.5 325.5h1M154.5 317.5h1M192 279.5h1M153 314.5h1M169 272.5h1M183 274.5h1M162.5 322.5h1M159 321.5h1M186.5 275.5h1M197.5 306h1M131.5 301h1M194 282.5h1M197 305.5h1M184.5 275h1M137.5 276h1M151 310h1M132 301.5h1M149.5 308.5h1M186 321h1M130.5 281h1M175 273h1M128 297h1M195.5 291.5h1M164 322h1M195 285h1M176 315.5h1M156 319h1M190.5 279h1M141.5 305.5h1M159 321h1M153.5 313h1M132 301h1M155 317h1M152 310.5h1M162.5 321.5h1M153 312h1M151.5 272.5h1M164.5 321.5h1M170.5 273h1M155.5 317.5h1M194.5 298.5h1M195 293.5h1M174.5 316.5h1M131.5 300.5h1M178.5 274h1M195 300h1M154 313h1M153 311.5h1M195 294h1M126.5 291.5h1M168 320.5h1M193 324.5h1M169.5 320h1M171 273h1M155 316h1M188.5 277.5h1M183.5 275.5h1M169.5 273h1M150 308h1M135 302.5h1M194.5 325h1M172.5 273h1M128 285.5h1M157.5 318.5h1M129 283.5h1M154 312.5h1M173 317h1M149.5 307.5h1M166 320.5h1M154.5 314h1M170.5 318.5h1M174.5 315.5h1M128 296h1M194 297h1M156 316.5h1M157 318h1M195 289h1M198.5 310.5h1M195 301.5h1M128.5 285h1M165 273h1M190 279.5h1M137.5 303.5h1M194.5 291h1M145.5 306h1M194 295.5h1M127 288.5h1M155.5 314.5h1M188.5 278.5h1M146.5 306h1M139 304h1M141 275.5h1M129.5 298h1M190 280h1M196.5 306h1M155.5 314h1M194 293h1M144 274.5h1M179 314.5h1M127 293h1M179.5 275h1M134 301.5h1M149.5 307h1M173.5 315.5h1M196.5 305.5h1M147 306h1M155 312.5h1M193.5 286h1M174 315h1M200 317.5h1M199.5 313.5h1M129.5 283.5h1M193.5 295h1M149.5 273.5h1M159 318h1M168.5 273.5h1M175 314h1M161.5 319.5h1M198 309.5h1M127.5 290.5h1M187.5 321h1M153 308.5h1M147.5 306h1M182.5 316.5h1M169.5 318h1M186.5 278h1M199.5 318h1M194 290h1M190 280.5h1M173.5 274h1M159.5 318h1M161 319h1M199.5 318.5h1M129 296.5h1M180 275h1M131 282h1M159 273h1M171.5 274h1M193.5 297h1M146 305.5h1M176 274.5h1M171.5 316.5h1M180.5 315h1M193 284.5h1M155.5 311h1M151 307h1M173.5 314.5h1M156.5 313.5h1M197 307h1M193 285.5h1M166.5 318.5h1M181.5 315.5h1M139 277h1M186 278h1M132.5 281h1"/>
<path stroke="#8e96de" d="M135.5 302h1M193 296.5h1M193 285.5h1M163.5 273.5h1M190.5 281.5h1M199 321h1M166 318.5h1M196.5 306h1M191 282.5h1M197 323h1M199.5 315h1M157 313h1M180 275.5h1M132 299h1M164.5 318.5h1M192 323.5h1M156.5 312h1M129 295.5h1M149.5 274h1M182.5 276.5h1M184 277h1M185 277.5h1M172 314.5h1M156.5 273.5h1M157.5 313.5h1M176.5 312h1M171 274.5h1M153 273.5h1M164 318h1M168.5 317h1M129.5 296.5h1M193 290.5h1M129 286h1M162 317.5h1M161 273.5h1M194.5 323.5h1M193 297h1M167.5 274h1M189.5 322h1M184 317.5h1M158.5 314.5h1M145.5 305h1M185.5 278h1M155 273.5h1M156 309.5h1M190 281.5h1M132 282h1M167 317.5h1M199 315.5h1M138 278h1M134 300.5h1M175.5 311.5h1M187.5 320.5h1M144 304.5h1M177 275.5h1M151.5 274h1M128.5 289.5h1M196 305.5h1M158 313h1M155 308h1M177.5 275.5h1M171 314.5h1M173 313h1M169.5 316h1M166 317h1M132.5 299.5h1M192.5 297.5h1M179.5 276h1M170 274.5h1M161.5 316.5h1M161 316h1M130 285.5h1M192.5 292h1M152.5 306.5h1M147.5 305h1M192.5 290.5h1M173 312.5h1M190 282h1M175.5 311h1M190.5 322.5h1M198.5 320.5h1M157.5 310h1M129.5 286.5h1M191 284h1M178 311.5h1M159 313.5h1M158.5 312h1M171 313.5h1M156 308.5h1M153 306.5h1M176.5 311h1M162.5 274h1M180 313h1M170.5 314.5h1M199 315h1M165.5 316.5h1M158.5 312.5h1M169.5 275h1M158 310h1M181 277h1M161 315.5h1M174 275.5h1M166 316.5h1M157 308.5h1M182 277h1M191.5 285h1M192 287.5h1M177 310.5h1M144 304h1M164 274.5h1M129 288.5h1M190.5 284h1M135.5 301h1M130 286h1M154.5 274h1M129 289.5h1M130.5 296.5h1M155 307h1M142.5 276.5h1M184 278h1M170 314h1M143 303.5h1M196 307h1M171 312.5h1M141.5 303h1M192 289h1M135 300.5h1M190 322h1M138.5 278.5h1M159.5 312h1M158.5 310h1M175.5 310h1M146 275.5h1M164.5 274.5h1M160 312.5h1M129.5 293.5h1M192 295h1M192 290h1M161.5 314.5h1M130.5 285.5h1M130 286.5h1M163 315h1M158.5 309.5h1M140 302.5h1M166 275h1M192.5 299.5h1M169 313.5h1M171.5 311.5h1M133.5 299h1M165.5 315h1M178.5 276.5h1M138.5 302h1M191 285h1M154.5 306h1M161.5 313.5h1M140.5 303h1M172 275.5h1M190.5 285h1M195 305.5h1M157.5 308h1M178 310.5h1M174.5 309.5h1M173.5 310h1M156 307h1M159 274.5h1M191.5 288.5h1M189 282.5h1M179.5 311.5h1M184 316.5h1M160.5 312h1M191 286h1M159 309.5h1M181.5 313.5h1M162 313.5h1M159.5 310h1M157 307h1M157.5 307.5h1M161.5 313h1M162 275h1M188 281.5h1M173.5 309.5h1M136.5 301h1M169 313h1M170.5 311.5h1M162.5 313.5h1M187.5 281.5h1M183 278.5h1M150 304.5h1M130.5 295h1M194 322.5h1M151 275h1M176.5 309h1M161.5 311.5h1M177.5 276.5h1M189 283h1M154 274.5h1M161 311h1M163 313h1M167.5 313h1M178 277h1M164 313h1M188 282h1M161.5 311h1M157 306.5h1M171 276h1M162 311.5h1M178.5 277h1M129.5 290.5h1M167 313h1M170.5 310.5h1M163 312.5h1M160.5 309.5h1M193 322.5h1M185 317.5h1M166.5 313h1M143 303h1M191 294h1M172 309h1M198.5 317.5h1M162.5 311.5h1M167.5 312h1M198 319.5h1M159.5 308h1M189 283.5h1M157.5 306.5h1M163 311.5h1M161 309h1M130.5 294h1M154.5 305h1M185 317h1M143 277h1M174.5 276.5h1M162 310.5h1M172.5 308.5h1M130 290.5h1M176 308h1M187.5 282h1M191 292.5h1M172.5 276.5h1M163.5 275.5h1M161.5 309.5h1M198 314h1M163 310.5h1M174 308h1M167 275.5h1M197.5 312.5h1M162 309.5h1M166 311.5h1M190.5 289h1M170 309.5h1M131 286h1M171 309h1M138.5 279h1M164.5 311h1M170 276h1M189.5 285h1M197.5 320h1M154 305h1M197.5 311h1M190.5 291h1M183 279h1M132 296.5h1M183.5 315h1M175 307.5h1M169.5 309.5h1M161 307.5h1M172.5 308h1M189 284.5h1M187.5 282.5h1M165 310.5h1M161.5 275.5h1M159 306h1M131 294.5h1M167.5 276h1M179 309.5h1M190.5 289.5h1M178.5 277.5h1M162 308h1M186 281h1M190.5 292h1M193.5 322h1M146.5 303.5h1M141.5 278h1M176 277h1M188.5 284h1M152 275.5h1M190 287.5h1M179.5 278h1M194.5 305h1M165 309.5h1M182 279h1M198 317h1M164 275.5h1M171 307.5h1M155.5 304.5h1M198 315h1M168.5 308.5h1M187 319h1M130.5 292.5h1M182.5 279.5h1M148 303.5h1M171.5 307h1M173 307h1M172.5 307h1M138.5 279.5h1M190 321h1M187.5 283h1M164.5 308.5h1M185 281h1M182 279.5h1M190 290h1M173 306.5h1M197.5 319h1M181 311.5h1M142.5 302.5h1M191 299h1M163.5 307.5h1M165 308h1M168.5 276.5h1M160 305.5h1M162 306.5h1M161 306h1M131.5 295h1M181.5 312h1M138.5 301h1M171 307h1M175.5 306.5h1M188.5 284.5h1M161.5 306h1M146.5 276.5h1M169.5 307.5h1M192 321.5h1M190.5 298.5h1M131 292h1M160.5 305.5h1M192 301.5h1M143.5 302.5h1M171.5 277h1M190 295.5h1M131 289.5h1M172 306h1M135.5 299h1M198 316h1M171 306.5h1M191.5 321.5h1M166.5 307.5h1M167 307.5h1M178 278h1M183.5 280.5h1M190.5 321h1M187 318.5h1M187.5 283.5h1M160 305h1M167 307h1M195 307h1M163.5 306.5h1M189 286h1M155.5 304h1M189.5 290.5h1M165.5 307h1M184 280.5h1M196.5 320h1M195.5 321h1M190.5 298h1M131 292.5h1M140.5 301.5h1M162 306h1M170 306.5h1M165 306.5h1M133 284.5h1M178.5 308h1M155 275.5h1M173.5 305.5h1M189.5 291h1M189 320h1M161 305h1M189 286.5h1M167 306.5h1M168.5 277h1M134.5 283h1M175.5 305.5h1M177 306.5h1M180 279h1M168.5 306h1M133.5 297h1M132 294.5h1M131 290h1M189.5 291.5h1M189.5 292.5h1M174.5 278h1M175.5 278h1M132 294h1M197 313h1M178 307h1M141 278.5h1M158.5 304h1M186.5 283h1M169.5 277h1M176 305.5h1M177.5 306.5h1M161.5 305h1M195 321h1M172 305h1M170.5 305.5h1M189 290h1M157 304h1M164 305.5h1M189 288h1M192 302h1M180.5 309.5h1M188.5 286.5h1M189.5 296.5h1M187.5 285h1M168 305.5h1M161 304.5h1M179.5 279.5h1M186 317h1M134 297h1M152 276h1M165 305h1M135 298h1M133 296h1M136 282h1M191.5 301.5h1M131.5 293h1M166 305h1M188 286h1M161 304h1M189 290.5h1M174.5 304.5h1M172 304.5h1M153 303h1M142 301.5h1M173 304h1M167.5 277h1M164 304.5h1M178.5 307h1M170 304.5h1M185.5 283.5h1M172 278h1M188.5 293h1M146.5 302.5h1M167 277h1M168.5 277.5h1M193 304h1M163 304h1M175.5 278.5h1M162.5 276.5h1M175 278.5h1M166.5 304h1M167.5 277.5h1M188.5 292.5h1M140 279.5h1M190 299.5h1M169 304h1M165 277h1M154.5 303h1M133.5 296h1M168 277.5h1M132 293h1M188.5 295h1M187.5 287h1M182.5 281.5h1M157.5 303h1M138.5 299.5h1M147 277h1M139 300h1M181.5 280.5h1M132 292h1M169 277.5h1M153 276.5h1M163.5 277h1M186 284.5h1M137.5 281.5h1M175 303.5h1M175.5 303.5h1M182.5 312h1M188 289h1M197 314.5h1M183.5 282h1M166.5 303.5h1M132 291.5h1M132 289h1M175.5 279h1M147 302h1M187 286.5h1M188 294h1M146 277.5h1M192 320.5h1M178.5 305.5h1M170.5 303h1M195.5 310h1M189 298h1M166.5 277.5h1M169 303h1M196.5 312.5h1M173.5 303h1M160 276.5h1M180 308h1M161.5 277h1M172.5 278.5h1M132.5 293.5h1M136 282.5h1M188 293.5h1M132 289.5h1M135.5 283h1M132.5 293h1M179.5 306.5h1M196 318.5h1M181 281h1M166 303h1M140 280h1M175.5 303h1M187.5 289.5h1M143 301h1M137 298.5h1M187.5 290h1M189.5 299h1M168 303h1M187.5 290.5h1M139.5 280.5h1M132.5 290.5h1M152 302.5h1M171 302.5h1M168.5 302.5h1M153 302.5h1M187.5 291h1M164 303h1M183.5 283h1M132.5 290h1M162.5 277h1M145 301.5h1M189.5 299.5h1M169 302.5h1M151 302h1M160.5 277h1M196.5 316h1M134 295.5h1M163 302.5h1M172.5 302.5h1M187.5 293h1M186 285.5h1M190 319.5h1M137 298h1M154 276.5h1M196 311.5h1M161 277h1M195 308.5h1M176 279.5h1M173.5 302h1M187.5 295h1M158 302.5h1M135.5 297h1M132.5 292.5h1M175.5 302.5h1M151.5 302h1M184.5 314h1M164.5 302.5h1M177 303.5h1M132.5 292h1M187 290.5h1M149 302h1M194.5 308h1M169.5 302h1M174.5 302h1M193.5 306.5h1M188 297h1M159.5 302h1M166 302h1M188.5 298.5h1M193 305.5h1M187.5 294.5h1M145 278.5h1M180 306.5h1M180.5 307.5h1M151 277h1M150 277.5h1M137.5 282.5h1M187 291h1M170 279h1M135 284.5h1M145.5 278.5h1M186.5 289h1M179 281h1M178 303.5h1M182 310.5h1M176 280h1M149 277.5h1M185 285h1M152 302h1M178.5 304.5h1M174.5 301.5h1M159.5 277h1M138 298.5h1M182 282.5h1M164 302h1M181.5 282h1M196.5 315h1M178.5 304h1M190 319h1M147 301.5h1M173.5 301.5h1M179.5 306h1M161.5 302h1M147.5 301.5h1M175.5 280h1M162.5 302h1M136 297h1M186.5 289.5h1M145.5 301h1M172 301h1M177.5 280.5h1M159 302h1M174 301.5h1M191.5 303h1M141 280h1M185 285.5h1M186 316h1M163.5 301.5h1M162.5 277.5h1M133 291.5h1M135.5 296h1M187.5 297h1M175 301h1M134 286.5h1M190.5 319h1M178.5 303.5h1M173.5 301h1M135 285.5h1M156 301.5h1M166 278.5h1M178 303h1M188.5 299.5h1M140.5 280.5h1M138.5 281.5h1M188.5 299h1M148.5 301.5h1M196 314h1M180 305.5h1M138.5 298.5h1M134 294h1M196 312.5h1M174.5 301h1M188 317.5h1M137 297.5h1M180 306h1M186 289.5h1M169.5 279h1M147 301h1M181.5 308.5h1M189 318h1M196 315h1M141 299.5h1M185.5 288.5h1M186 290h1M172 300.5h1M184.5 286h1M180 305h1M186 293h1M149.5 278h1M177.5 302h1M190 302h1M139.5 281.5h1M176.5 301h1M140 281h1M186 292h1M154 277.5h1M175.5 301h1M152 301.5h1M149 301.5h1M134 287.5h1M182 283.5h1M144 300.5h1M159.5 277.5h1M159 301.5h1M143 300h1M185.5 289.5h1M188.5 300h1"/>
<path stroke="#7680d2" d="M134 288.5h1M187 297h1M186 291h1M177.5 281.5h1M187.5 298.5h1M168.5 279h1M177.5 301.5h1M162.5 278h1M158.5 301.5h1M186.5 295.5h1M145.5 279h1M171 300h1M147 301h1M184.5 313h1M184.5 287h1M158 277.5h1M186 295.5h1M188.5 300.5h1M138.5 282h1M190 302.5h1M179.5 303.5h1M169.5 300h1M149 278h1M188 317h1M141 280.5h1M153.5 301.5h1M170 300h1M142 299.5h1M176 281h1M176 300.5h1M156.5 277.5h1M150.5 278h1M163 278.5h1M136.5 284h1M196 316.5h1M185.5 291.5h1M171.5 280h1M175.5 300h1M185.5 291h1M179.5 303h1M180 283h1M179 302.5h1M176.5 300.5h1M178.5 282h1M185.5 292.5h1M135.5 295.5h1M164.5 300.5h1M181 306h1M176 300h1M175 300h1M156 277.5h1M143 300h1M137.5 297h1M141.5 280.5h1M167.5 300h1M177.5 282h1M162 278.5h1M185.5 295.5h1M173 299.5h1M185.5 293h1M174 280.5h1M185 290h1M162.5 300.5h1M139 282.5h1M169.5 280h1M183 285.5h1M182 284.5h1M195 311.5h1M166 300h1M180.5 305h1M181 284h1M191.5 304.5h1M163 300.5h1M157.5 301h1M189 301.5h1M168 279.5h1M194 308.5h1M134.5 288.5h1M147 300.5h1M161 300.5h1M159 300.5h1M136 285.5h1M185 293h1M134.5 289.5h1M143.5 280h1M174 299h1M185 295h1M168.5 299.5h1M179 301h1M154 301h1M135.5 286h1M181 305h1M195.5 314.5h1M166.5 279.5h1M178 300.5h1M158 300.5h1M176 282h1M187 299.5h1M172 281h1M177.5 282.5h1M174.5 281.5h1M183 286.5h1M172.5 299h1M143 299.5h1M139.5 298h1M195.5 315h1M135.5 294.5h1M185.5 297h1M195 312h1M182 307.5h1M168.5 299h1M184.5 292h1M179.5 283.5h1M138.5 297.5h1M195 311h1M192.5 306h1M146.5 279h1M140.5 298.5h1M188.5 301.5h1M172.5 281h1M144.5 300h1M162.5 300h1M170 280.5h1M184 289h1M185.5 298h1M193.5 318.5h1M158.5 300.5h1M180.5 303h1M173 298.5h1M153.5 278h1M163.5 299.5h1M137.5 284h1M175 299h1M149.5 300.5h1M181 304h1M184 291.5h1M190 303h1M144.5 280h1M138 283.5h1M184.5 294.5h1M179.5 284h1M177.5 299.5h1M180 284h1M146.5 300h1M175 282h1M175 298.5h1M186.5 299h1M179 300h1M155.5 300.5h1M160.5 300h1M187.5 300.5h1M184.5 295h1M184 292h1M184.5 295.5h1M189 302h1M141 281.5h1M161 278.5h1M183.5 288.5h1M137.5 296h1M178.5 283.5h1M153.5 300.5h1M185.5 298.5h1M194 309.5h1M161.5 299.5h1M147.5 279h1M184 292.5h1M168.5 280.5h1M154 278h1M165 299h1M160 300h1M173 281.5h1M142.5 299h1M139.5 297.5h1M174.5 282h1M179.5 300h1M162 279h1M188 301.5h1M152 300.5h1M167.5 298.5h1M195 315h1M181.5 304.5h1M181.5 286h1M181 285.5h1M136.5 285.5h1M159 300h1M151 300.5h1M179 284h1M182.5 288h1M183 289h1M182.5 287.5h1M184 296h1M177 298.5h1M181 302.5h1M182.5 307.5h1M163.5 299h1M175.5 282.5h1M169 280.5h1M136 294.5h1M135 290h1M175 282.5h1M174.5 298h1M170 298h1M147 279.5h1M154.5 278.5h1M183.5 295.5h1M172.5 281.5h1M145 280h1M181 302h1M180.5 300.5h1M192 306.5h1M154 278.5h1M180 299.5h1M148 279h1M195 313.5h1M159.5 299.5h1M180.5 285.5h1M141.5 281.5h1M184 310.5h1M153 300.5h1M175.5 283h1M171.5 281.5h1M165.5 298.5h1M190 303.5h1M186 299.5h1M190 304h1M182 305h1M171 297.5h1M168.5 298h1M159.5 279h1M179.5 285h1M194.5 317h1M172 297.5h1M140 282.5h1M169 281h1M180.5 299.5h1M157.5 278.5h1M180 299h1M155.5 278.5h1M176.5 297.5h1M170.5 281.5h1M186.5 300.5h1M175 297.5h1M169.5 281h1M183 296.5h1M176 297.5h1M169.5 298h1M180.5 299h1M183.5 297.5h1M166.5 298h1M168 298h1M137.5 285h1M193.5 317.5h1M181.5 301.5h1M173 297.5h1M178.5 298h1M180 298.5h1M141.5 298.5h1M189.5 317h1M158.5 299.5h1M182.5 289.5h1M176.5 283.5h1M154 300h1M138.5 283.5h1M179 298h1M156 278.5h1M192 318h1M184 298.5h1M191.5 318h1M183 297h1M154.5 300h1M182.5 294h1M182.5 292h1M182.5 297.5h1M162.5 299h1M182.5 305h1M189 303h1M184.5 299.5h1M194 317h1M185.5 313h1M168 297.5h1M185 300h1M177.5 284h1M180.5 298h1M150.5 300h1M182 299h1M191.5 317.5h1M182.5 306h1M182 303.5h1M175 283h1M148.5 279.5h1M181 287h1M185.5 300.5h1M183 299h1M141.5 282h1M176 297h1M180 297.5h1M140 283h1M179 297h1M174.5 283h1M182.5 300h1M183 299.5h1M142 298.5h1M135.5 291.5h1M178.5 297h1M139.5 283h1M146.5 299.5h1M149.5 300h1M144.5 299h1M161.5 279.5h1M182 292.5h1M164 298.5h1M135.5 290h1M174 283h1M182 290.5h1M186.5 301h1M182.5 300.5h1M183.5 300h1M182.5 301h1M172 296.5h1M170.5 282h1M188.5 316h1M170 281.5h1M194.5 315h1M182.5 302h1M176 296.5h1M138.5 284.5h1M184 300h1M139 296.5h1M143 281.5h1M184 309.5h1M181.5 294h1M176.5 296.5h1M136 288.5h1M150.5 279h1M157 299.5h1M177 296.5h1M136 293h1M136.5 293.5h1M181 295h1M185 300.5h1M184.5 311h1M150 279h1M137 286.5h1M188 302.5h1M179 285.5h1M183 301h1M189.5 303.5h1M194.5 312h1M180.5 295.5h1M190.5 317h1M186 301h1M177 296h1M176.5 296h1M155 299.5h1M149.5 279.5h1M181 294.5h1M183 302h1M187 302h1M182.5 303h1M178 296h1M181 289.5h1M170 282h1M192.5 308h1M183.5 301h1M164 298h1M181 289h1M183.5 307.5h1M154.5 299.5h1M148 299.5h1M160.5 279.5h1M179 295.5h1M189 303.5h1M173 296h1M140 297h1M194 310.5h1M138 295.5h1M180.5 294h1M177 285h1M179.5 286.5h1M176.5 284.5h1M188.5 303h1M178.5 295.5h1M169 282h1M180.5 289h1M144 281h1M167.5 281.5h1M160 279.5h1M169.5 282h1M180 294.5h1M179.5 295h1M150.5 279.5h1M179.5 287h1M184.5 301.5h1M136.5 287.5h1M187.5 314.5h1M144.5 281h1M145 299h1M171 282.5h1M168.5 282h1M180.5 290.5h1M173.5 295.5h1M189.5 304.5h1M170.5 296h1M169.5 296.5h1M178.5 286.5h1M170 296.5h1M174 295.5h1M173.5 283.5h1M177.5 295.5h1M187.5 315h1M176 295.5h1M180 289h1M160.5 280h1M145.5 280.5h1M138.5 295.5h1M183.5 305.5h1M175.5 295.5h1M183.5 302.5h1M139.5 284h1M183 304h1M193 316.5h1M141.5 282.5h1M148.5 299.5h1M187.5 303h1M179.5 294h1M184 302h1M192.5 317h1M178.5 294.5h1M180.5 291h1M137.5 294.5h1M180 292.5h1M179.5 288h1M169.5 296h1M141.5 297.5h1M172.5 283.5h1M179 288h1M137 293h1M179.5 293h1M175 295h1M176.5 286h1M138 295h1M179.5 292h1M137.5 286h1M179.5 290.5h1M142.5 298h1M175 294.5h1M179 293h1M188 315h1M173.5 284h1M161.5 280h1M171 295.5h1M184 303h1M184.5 302.5h1M171.5 283.5h1M142 282.5h1M191 306.5h1M136.5 290.5h1M189 315.5h1M147.5 299h1M179 289h1M179 288.5h1M169 296h1M194 312.5h1M188 314.5h1M179.5 290h1M137 287.5h1M193 310h1M140.5 297h1M175.5 285.5h1M178.5 293h1M179 291h1M193.5 315.5h1M147.5 280.5h1M164 281h1M159 298.5h1M154.5 279.5h1M154 279.5h1M179 290.5h1M169.5 283h1M152 299h1M174 284.5h1M176.5 294h1M144.5 298.5h1M176 294h1M193.5 311.5h1M153 299h1M146 280.5h1M177.5 287h1M178.5 292.5h1M137.5 293.5h1M166 281.5h1M175.5 294h1M178 288.5h1M142.5 282.5h1M178.5 291.5h1M170 283h1M188.5 304.5h1M162 297.5h1M165.5 296.5h1M175.5 286h1M184 306.5h1M170.5 295h1M177.5 288h1M150 299h1M193 316h1M150 280h1M192.5 316h1M149.5 299h1M188 304h1M156 279.5h1M175.5 293.5h1M139.5 295.5h1M172 294.5h1M166 296h1M178 289.5h1M184 306h1M170 283.5h1M156.5 280h1M174.5 293.5h1M176 287h1M174 285.5h1M176.5 287.5h1M193 311h1M176 293h1M175 286h1M177 292.5h1M137 292.5h1M164 296.5h1M170 295h1M190 315.5h1M173 294h1M177 288h1M177.5 291h1M176.5 292.5h1M187.5 304h1M184.5 308.5h1M170.5 284h1M138 294h1M177 291.5h1M170.5 294.5h1M172.5 294h1M186 303.5h1M184.5 308h1M167.5 295.5h1M141.5 283h1M162 281h1M172 284.5h1M173.5 293.5h1M152.5 299h1M174.5 286h1M160 297.5h1M174 293.5h1M165 296h1M142.5 297h1M168 283h1M177 291h1M187 304h1M173 285h1M155.5 298.5h1M191 316h1M137 290.5h1M137 291.5h1M167 282.5h1M164 281.5h1M171 284.5h1M166.5 295.5h1M176 288h1M152 280h1M176.5 291h1M188.5 305h1M138.5 294h1M176.5 288h1M158.5 280.5h1M193.5 312.5h1M172 293.5h1M176 287.5h1M148 280.5h1M172.5 293.5h1M175 287h1M163.5 296.5h1M176.5 290h1M184.5 307h1M187 313h1M143 282.5h1M143.5 297.5h1M137.5 292.5h1M173 293h1M176 291h1M138.5 286h1M186.5 304h1M153.5 298.5h1M169.5 294.5h1M176 289h1M174.5 287h1M164 296h1M169 283.5h1M145 281.5h1M173.5 293h1M147 298.5h1M173.5 292.5h1M156.5 298h1M155 298.5h1M157 298h1M174 292.5h1M147 281h1M192 315.5h1M142 283.5h1M193 312h1M174.5 292h1M147.5 281h1M137.5 290.5h1M168 283.5h1M170.5 284.5h1M167 295h1M143 297h1M193 313h1M170 294h1M190.5 307.5h1M137.5 292h1M172.5 293h1M138 288h1M161 297h1M171 293.5h1M173.5 287h1M169.5 284.5h1M168 294.5h1M174.5 287.5h1M151.5 280h1M149.5 298.5h1M163 296h1M191.5 315.5h1M174 287h1M174.5 288h1M187 312.5h1M171 285h1M192 309.5h1M187 304.5h1M159 297.5h1M185.5 305.5h1M162.5 281.5h1M175 289h1M137.5 289.5h1M170 284.5h1M164.5 282h1M138.5 287h1M174.5 290.5h1M174.5 288.5h1M140.5 295.5h1M138 292h1M188 313.5h1M156 298h1M138 292.5h1M168.5 284h1M137.5 290h1M150 280.5h1M192.5 314h1M174.5 289h1M191.5 308.5h1M148.5 281h1M172 292.5h1M172 286h1M186 305h1M174 290.5h1M154 298h1M162 281.5h1M160.5 297h1M144.5 282h1M170 293h1M164.5 295.5h1M139 294.5h1M140 285h1M154.5 280.5h1M138 288.5h1M174 290h1M164 295.5h1M173 291.5h1M174 289h1M167 283.5h1M172 286.5h1M189 314h1M173.5 291h1M139 286.5h1M185.5 306h1M150.5 298.5h1M146.5 281.5h1M172.5 287h1M172.5 291.5h1M138.5 293h1"/>
<path stroke="#5e68c2" d="M172 292h1M143.5 297h1M185.5 307.5h1M164.5 282.5h1M168 284h1M191.5 315h1M138 292.5h1M169 284.5h1M173 291h1M143 297h1M173.5 290.5h1M191 308h1M160 297h1M153 298h1M155.5 298h1M163.5 295.5h1M146.5 298h1M170.5 292.5h1M169.5 293h1M192.5 311h1M187 312h1M164 295.5h1M138 289.5h1M158.5 297h1M190 307h1M172.5 287.5h1M188.5 306h1M168 293.5h1M187 305.5h1M172.5 288h1M142 284h1M172.5 290.5h1M170 292.5h1M191.5 309.5h1M150 281h1M162.5 296h1M157 297.5h1M186 307h1M170 285.5h1M172.5 289h1M148.5 298h1M188 313h1M158 281h1M149 281h1M191.5 310h1M192.5 312.5h1M165 283h1M169 285h1M149 298h1M168 284.5h1M140 285.5h1M139.5 286.5h1M171.5 287h1M166.5 283.5h1M190 307.5h1M172 290.5h1M172 287.5h1M138 290h1M164 295h1M138.5 288.5h1M189.5 307h1M145 282.5h1M147.5 297.5h1M192 310.5h1M139.5 294h1M156.5 297.5h1M189 306.5h1M167 284h1M154 297.5h1M168.5 293h1M143 283.5h1M187 306h1M166 283.5h1M145.5 297.5h1M191 309h1M159 296.5h1M141 285h1M165 283.5h1M188 306h1M140 294.5h1M138.5 291h1M192 311.5h1M171.5 290h1M191.5 314h1M171 290.5h1M171 288h1M188 312.5h1M189 307h1M166.5 293.5h1M171.5 288.5h1M160.5 296h1M189.5 307.5h1M187 310.5h1M143.5 296.5h1M165.5 294h1M171 288.5h1M186.5 308.5h1M167.5 293h1M146.5 297.5h1M168.5 285.5h1M152.5 281h1M187.5 306.5h1M158 296.5h1M152.5 297.5h1M149 297.5h1M170.5 287.5h1M170.5 289.5h1M140.5 286h1M192 312.5h1M163 282.5h1M170.5 290h1M189 307.5h1M188 312h1M170.5 290.5h1M161 282h1M190 313.5h1M139 287.5h1M142 284.5h1M188 307h1M151.5 297.5h1M190.5 308.5h1M141.5 285h1M170.5 288.5h1M164.5 294h1M150 297.5h1M138.5 290.5h1M166 293.5h1M153.5 297.5h1M162.5 282.5h1M190.5 309h1M170.5 288h1M157.5 297h1M187.5 307h1M155.5 281h1M140 294h1M187 308h1M166 293h1M157 281.5h1M187.5 311h1M140 293.5h1M139 289h1M169 286.5h1M170 289h1M162 282.5h1M191 313h1M191.5 313h1M190.5 313.5h1M190 313h1M140.5 294h1M149.5 281.5h1M161.5 282.5h1M189.5 308h1M169.5 289.5h1M169.5 290.5h1M169.5 290h1M166.5 285h1M191.5 312.5h1M139 291h1M168 286h1M159.5 296h1M169 291h1M139 292h1M169.5 288h1M149 281.5h1M139 290h1M168.5 286.5h1M169 287.5h1M191 312h1M169 289.5h1M165 284.5h1M188 308h1M156 297h1M187.5 310h1M189 312.5h1M145.5 296.5h1M189.5 309h1M166.5 292h1M167 285.5h1M168.5 287.5h1M148.5 297h1M168.5 290h1M144.5 296.5h1M165.5 284.5h1M140 287.5h1M169 288.5h1M189 312h1M153 281.5h1M165 293h1M140.5 286.5h1M139.5 288.5h1M154 281.5h1M190.5 312h1M190 312.5h1M166 285h1M188 308.5h1M144 296h1M166 292.5h1M146.5 297h1M142.5 295h1M152 297h1M141.5 286h1M168.5 289.5h1M168.5 289h1M139.5 291h1M149 282h1M153.5 297h1M189 309h1M140.5 293.5h1M168 290h1M188.5 309h1M189.5 312h1M189 311h1M189.5 311.5h1M188.5 309.5h1M140 292.5h1M142.5 285h1M167.5 287.5h1M167.5 287h1M190 311.5h1M140 292h1M142 285.5h1M167.5 290h1M147 296.5h1M189.5 311h1M152.5 297h1M151.5 297h1M189.5 310.5h1M164 293h1M165 292.5h1M146.5 282.5h1M143 295h1M162.5 283.5h1M153 297h1M166.5 286.5h1M167.5 288.5h1M149.5 297h1M144 284h1M167 290h1M142 285h1M148.5 282h1M165.5 285.5h1M167.5 289h1M164.5 292.5h1M163 293.5h1M159 295.5h1M147.5 296.5h1M145.5 283.5h1M155.5 282h1M140 291h1M165 292h1M162.5 284h1M158.5 282.5h1M157.5 282h1M163.5 284.5h1M140 291.5h1M166.5 287.5h1M147 283h1M151 282h1M140.5 293h1M152.5 296.5h1M154.5 282h1M164.5 285.5h1M161 294h1M166.5 288h1M156 296h1M160 283h1M165 291.5h1M146.5 283h1M140 289h1M145 295.5h1M161.5 283.5h1M150 296.5h1M159 283h1M164.5 292h1M165.5 290.5h1M164 292.5h1M166 287.5h1M156.5 282h1M163.5 292.5h1M141 287.5h1M166 288h1M145.5 296h1M140 290h1M141.5 287h1M161 283.5h1M153.5 296.5h1M143 294.5h1M162.5 284.5h1M165 291h1M147.5 283h1M142 286.5h1M157.5 282.5h1M158 283h1M165.5 289h1M163 292.5h1M142.5 286h1M164.5 291h1M152.5 282h1M161.5 284h1M142 287h1M155.5 295.5h1M159.5 294.5h1M162.5 292.5h1M151 282.5h1M146.5 296h1M159.5 294h1M158 295h1M141 291.5h1M150 282.5h1M160.5 284h1M146 283.5h1M146.5 283.5h1M142 293.5h1M164 291.5h1M165 288.5h1M165 289h1M165 289.5h1M143.5 285h1M159 283.5h1M152.5 282.5h1M161 293.5h1M163.5 291.5h1M141 289.5h1M141.5 288h1M164 286.5h1M149.5 283h1M164.5 288.5h1M143.5 285.5h1M148.5 296h1M142.5 293.5h1M142 293h1M156.5 283h1M156 282.5h1M148 283.5h1M164.5 289h1M146 295.5h1M152.5 296h1M163.5 291h1M143 286h1M149 296h1M158 283.5h1M163.5 286.5h1M163 291.5h1M156.5 295h1M141.5 291.5h1M154 282.5h1M149 283h1M145 284.5h1M163.5 290.5h1M143 293.5h1M143 286.5h1M154.5 283h1M160.5 293h1M148 295.5h1M146.5 284h1M142.5 287h1M149.5 296h1M142.5 286.5h1M147 295.5h1M146 295h1M150 283h1M148.5 295.5h1M153.5 283h1M157.5 283.5h1M153 295.5h1M145.5 284.5h1M164 288.5h1M161 292.5h1M163.5 287h1M148.5 283.5h1M159 294h1M155.5 295h1M162.5 291.5h1M142 292.5h1M144.5 294.5h1M161.5 292h1M162.5 291h1M151 283h1M162 291.5h1M156.5 283.5h1"/>
<path stroke="#4c56b0" d="M145.5 294.5h1M157 283.5h1M142 288h1M161.5 285.5h1M162.5 286h1M162.5 291h1M154 295h1M142.5 292.5h1M156.5 283.5h1M149 295.5h1M153.5 295.5h1M163 290h1M146.5 284.5h1M142 290.5h1M163 289.5h1M154 283h1M142 288.5h1M143 286.5h1M161.5 291.5h1M142 289.5h1M143 293h1M163 288h1M163 289h1M146 294.5h1M157.5 294h1M158.5 284h1M157.5 284h1M162 286h1M163 288.5h1M154.5 283.5h1M152 295.5h1M148.5 284h1M147 284.5h1M162.5 287.5h1M142.5 292h1M151.5 295.5h1M162.5 288.5h1M159 284.5h1M151 295.5h1M155.5 294.5h1M159 293h1M144 286h1M142.5 288.5h1M148.5 295h1M152.5 295h1M159.5 285h1M161.5 291h1M161.5 286.5h1M155 283.5h1M162 287h1M150 295h1M151 295h1M149 284h1M143.5 287h1M142.5 291.5h1M158 293.5h1M143 288h1M158 284.5h1M142.5 291h1M161 286.5h1M146 294h1M145.5 285.5h1M161 286h1M144 293.5h1M142.5 290h1M142.5 289h1M160 292h1M143 291.5h1M154 283.5h1M159 292.5h1M161 287h1M161.5 290h1M161.5 288h1M161.5 289.5h1M143 288.5h1M143.5 288h1M154.5 294.5h1M160 286h1M154.5 284h1M147.5 284.5h1M158.5 285h1M153 294.5h1M160.5 291.5h1M158.5 292.5h1M157.5 284.5h1M150.5 295h1M151 284h1M143 290h1M145.5 294h1M145.5 293.5h1M145 286h1M147 294.5h1M147.5 285h1M143.5 292h1M148.5 294.5h1M143.5 291.5h1M159.5 285.5h1M144 287h1M154 294h1M146 285.5h1M144.5 286.5h1M152.5 284h1M157 284.5h1M144 292.5h1M155.5 284.5h1M144.5 287h1M153.5 294.5h1M151 294.5h1M161 287.5h1M159.5 286h1M158 285h1M157.5 293h1M143 289.5h1M150 284.5h1M159 291.5h1M159 285.5h1M150 294.5h1M143.5 290.5h1M149 284.5h1M161 288.5h1M158 292.5h1M156.5 293h1M149.5 284.5h1M160 290.5h1M160.5 287.5h1M152 284h1M154.5 294h1M160.5 289h1M154 284h1M143.5 289h1M153.5 284h1M152.5 294.5h1M144.5 292.5h1M156 284.5h1M158 285.5h1M145.5 293h1M153.5 294h1M160.5 288h1M145.5 286.5h1M149.5 294.5h1M160.5 289.5h1M158.5 292h1M148.5 285h1M156 285h1M155 293.5h1M155.5 285h1M148 285h1M144 288.5h1M144 290h1M152 294h1M149 285h1M152.5 284.5h1M144 289h1M148 294h1M159 286.5h1M154.5 293.5h1M147 293.5h1M153.5 284.5h1M159.5 287.5h1M145.5 292.5h1M146 293h1M155 293h1M159 287h1M149.5 285h1M153 293.5h1M144.5 291h1M159.5 288h1M147 286h1M148.5 293.5h1M159.5 289h1M150 294h1M157.5 286h1M151 285h1M159.5 290h1M154.5 293h1M151 294h1M144.5 288.5h1M147.5 293.5h1M146.5 293h1M158.5 290.5h1M159 288h1M152 285h1M154 293.5h1M159 289.5h1M146 292.5h1M158.5 287h1M144.5 289.5h1M152.5 285h1M158 286.5h1M153 285h1M155 285h1M153.5 285h1M158 287h1M148 286h1M157.5 291.5h1M156.5 286h1M144.5 290.5h1M151 293.5h1M153.5 293h1M158.5 290h1M145 290.5h1M157.5 291h1M147 292.5h1M148.5 285.5h1M147.5 286h1M154.5 285.5h1M145 288.5h1M158.5 289h1M146 287.5h1M149.5 285.5h1M151 285.5h1M156 286h1M158 287.5h1M146.5 287h1M145 289.5h1M158.5 288.5h1M155.5 286h1M152 285.5h1M146.5 287.5h1M155 285.5h1M145 290h1M145.5 288h1M158 288h1M152.5 293h1M148.5 286h1M146 291.5h1M158 290h1M153 285.5h1M145.5 290.5h1M157.5 287h1M150 293h1M157 291h1M151 293h1M145.5 289h1M157.5 288h1M153 293h1M148 292.5h1M145.5 291h1M158 289.5h1M153.5 285.5h1M156 286.5h1M156.5 291h1M156.5 287h1M157.5 290h1M156 291.5h1M154 285.5h1M145.5 290h1M147.5 287h1M153 292.5h1M157 290h1M154 286h1M146.5 288h1M157.5 288.5h1M156 287h1M152.5 286h1M148 292h1M155.5 286.5h1M157 288.5h1M154.5 286.5h1M157 289h1M148 287h1M153 286h1M155.5 291h1M155 291.5h1M153.5 292h1M152 286h1M147 291h1M147.5 291.5h1M147 288.5h1M152 292h1M151.5 292h1M149.5 292h1M155 287h1M148 291.5h1M146.5 290h1M156 288h1M156 290h1M147 290.5h1M147.5 288h1M149.5 287h1M150 292h1M156 289h1M152 286.5h1M148.5 291.5h1M151.5 286.5h1M151 292h1M155.5 288h1M147 290h1M154 287h1M148 288h1M147.5 290.5h1M148 291h1M155.5 290h1M148.5 288h1M147.5 290h1M155 290h1M155.5 289.5h1M148.5 291h1M154 287.5h1M148 290.5h1M153 291.5h1M147.5 289.5h1M152.5 291.5h1M154 291h1M154.5 290h1M153 287h1M149 287.5h1M155 289h1M151.5 287h1M153 291h1M150.5 287.5h1M154.5 288h1M148 289h1M153.5 287.5h1M149.5 291h1M154 288h1M148.5 290.5h1M154.5 288.5h1M151 291h1M153.5 290.5h1M149 290.5h1M149.5 288h1M152 291h1M151.5 287.5h1M154 289.5h1M148.5 289h1M148.5 289.5h1M153 290.5h1M154.5 289h1M149 288.5h1M153 287.5h1M152 287.5h1M154 289h1M152.5 287.5h1M154 288.5h1M149.5 289h1M152.5 288h1M152 288h1M149 289.5h1M150 290.5h1M151 288h1M151 290.5h1M153 289.5h1M150.5 290.5h1M149.5 289.5h1M150 290h1M150 289h1M152.5 288.5h1M152 288.5h1M151 288.5h1M152 290h1M152.5 289h1M150.5 289h1M151 289.5h1M151.5 289.5h1"/>
</g>
<rect x="120" y="262.7" width="85.3" height="83.8" fill="none" stroke="#666" stroke-width="1.1"/>
<text x="117" y="345.1" font-size="5" text-anchor="end" fill="#555">10<tspan font-size="3.6" dy="-2">0</tspan></text>
<text x="117" y="327.2" font-size="5" text-anchor="end" fill="#555">10<tspan font-size="3.6" dy="-2">1</tspan></text>
<text x="117" y="305.3" font-size="5" text-anchor="end" fill="#555">10<tspan font-size="3.6" dy="-2">2</tspan></text>
<text x="117" y="285.5" font-size="5" text-anchor="end" fill="#555">10<tspan font-size="3.6" dy="-2">3</tspan></text>
<text x="117" y="270" font-size="5" text-anchor="end" fill="#555">10<tspan font-size="3.6" dy="-2">4</tspan></text>
<text x="125" y="354" font-size="5" text-anchor="middle" fill="#555">10<tspan font-size="3.6" dy="-2">0</tspan></text>
<text x="144.3" y="354" font-size="5" text-anchor="middle" fill="#555">10<tspan font-size="3.6" dy="-2">1</tspan></text>
<text x="163.7" y="354" font-size="5" text-anchor="middle" fill="#555">10<tspan font-size="3.6" dy="-2">2</tspan></text>
<text x="183" y="354" font-size="5" text-anchor="middle" fill="#555">10<tspan font-size="3.6" dy="-2">3</tspan></text>
<text x="202.3" y="354" font-size="5" text-anchor="middle" fill="#555">10<tspan font-size="3.6" dy="-2">4</tspan></text>
<path d="M120 343.3h2M120 337.9h1M120 334.7h1M120 332.6h1M120 330.8h1M120 329.3h1M120 328.1h1M120 327.2h1M120 326.3h1M120 325.4h2M120 318.8h1M120 314.9h1M120 312.3h1M120 310.1h1M120 308.3h1M120 306.8h1M120 305.7h1M120 304.6h1M120 303.5h2M120 297.6h1M120 294h1M120 291.6h1M120 289.7h1M120 288.1h1M120 286.7h1M120 285.7h1M120 284.7h1M120 283.7h2M120 279.1h1M120 276.3h1M120 274.4h1M120 272.9h1M120 271.6h1M120 270.6h1M120 269.8h1M120 269h1M120 268.2h2M124 346.5v-2M129.8 346.5v-1M133.3 346.5v-1M135.6 346.5v-1M137.5 346.5v-1M139.1 346.5v-1M140.4 346.5v-1M141.4 346.5v-1M142.4 346.5v-1M143.3 346.5v-2M149.1 346.5v-1M152.6 346.5v-1M154.9 346.5v-1M156.9 346.5v-1M158.4 346.5v-1M159.8 346.5v-1M160.7 346.5v-1M161.7 346.5v-1M162.7 346.5v-2M168.4 346.5v-1M171.9 346.5v-1M174.2 346.5v-1M176.2 346.5v-1M177.7 346.5v-1M179.1 346.5v-1M180 346.5v-1M181 346.5v-1M182 346.5v-2M187.8 346.5v-1M191.3 346.5v-1M193.6 346.5v-1M195.5 346.5v-1M197 346.5v-1M198.4 346.5v-1M199.4 346.5v-1M200.3 346.5v-1M201.3 346.5v-2" stroke="#555" stroke-width="0.6" fill="none"/>
<path d="M166.4 268.5H201.2V296.6Q192 300 185.5 305.2H166.4Z" fill="none" stroke="#222" stroke-width="1.3"/>
<ellipse cx="188.3" cy="318.5" rx="21.3" ry="9.6" transform="rotate(-57 188.3 318.5)" fill="none" stroke="#222" stroke-width="1.1"/>
<text x="154.8" y="274.3" font-size="9.4" text-anchor="middle" stroke="#000" stroke-width="0.15">17.8</text>
<text x="160.2" y="331.8" font-size="9.4" text-anchor="middle" stroke="#000" stroke-width="0.15">14.7</text>
<text x="125.3" y="341.1" font-size="9.4" stroke="#000" stroke-width="0.4">WT</text>
<g filter="url(#sb)">
<path stroke="#a0a6ea" d="M63.5 430h1M57 374h1M39.5 445.5h1M43 444h1M52.5 407.5h1M53 397.5h1M53.5 419h1M47.5 436h1M31 436.5h1M54 370.5h1M55 383h1M47 431h1M48 415.5h1M50.5 399h1M48 423h1M37 433.5h1M33 433.5h1M46.5 414h1M41 431h1M45.5 415.5h1M45 415h1M33.5 432h1M27.5 428.5h1M51.5 392h1M42 420.5h1M38 428.5h1M30.5 430h1M40.5 421.5h1M39.5 422.5h1M31 429.5h1M45 402.5h1M52 379.5h1M24.5 421h1M41 409h1M26 423.5h1M49.5 367.5h1M50.5 376h1M44 400.5h1M39 413.5h1M29.5 425h1M50.5 380h1M50 380.5h1M40 405.5h1M48 366.5h1M25 416.5h1M44 398.5h1M48 372.5h1M43 399.5h1M25 416h1M28.5 422.5h1M26.5 419h1M40.5 403h1M41.5 401.5h1M37 415h1M40.5 402h1M39.5 404.5h1M42 400h1M33 422h1M25.5 415h1M47 364.5h1M46.5 393h1M45 395h1M48.5 379.5h1M25 412h1M24.5 408.5h1M46 393h1M47 373h1M47.5 388.5h1M45.5 394h1M24.5 407.5h1M25 364h1M24.5 365h1M32.5 421h1M46.5 372h1M46 392h1M37 409.5h1M24.5 365.5h1M35.5 416h1M47.5 375.5h1M47 388.5h1M24.5 366h1M26.5 415h1M24.5 405.5h1M25.5 410h1M46 373h1M39.5 401.5h1M46.5 373.5h1M45.5 366.5h1M26 413h1M32 420h1M47.5 382.5h1M25 366h1M34.5 417h1M24 404h1M47.5 379h1M26 410.5h1M45 368h1M42.5 396.5h1M26 364.5h1M25 407h1M45 370.5h1M25.5 366h1M47.5 383h1M26 409h1M26 365h1M36 411.5h1M26.5 412.5h1M24 403.5h1M25 368h1M47 385h1M25 405.5h1M26 410h1M32.5 418h1M44.5 392.5h1M45.5 391h1M30.5 418.5h1M46 374.5h1M46 387.5h1M39.5 399.5h1M35.5 411.5h1M41.5 396.5h1M45 391.5h1M30.5 417.5h1M46.5 379.5h1M25 404h1M35 411.5h1M27 412h1M35.5 409h1M39.5 399h1M24.5 370h1M45 373.5h1M24.5 403h1M44.5 365.5h1M29.5 416.5h1M46.5 384.5h1M40.5 397.5h1M34.5 413h1M34 414h1M46 378h1M37 402.5h1M44 371h1M45 390h1M45 374.5h1M32 416h1M35.5 406.5h1M26 368h1M32.5 415.5h1M27 366h1M24.5 370.5h1M24.5 401.5h1M44.5 390.5h1M25 403h1M44 391h1M26 369h1M32 415h1M45.5 385.5h1M27 366.5h1M46 382.5h1M43.5 365h1M45 388.5h1M45 387h1M35.5 404.5h1M36.5 402h1M27.5 365h1M27.5 366.5h1M25 370.5h1M31.5 414.5h1M45.5 378h1M35 406h1M38.5 398.5h1M27.5 407.5h1M44 390.5h1M30.5 414h1M44.5 388.5h1M44 374h1M32.5 413h1M35 404.5h1M30.5 413.5h1M43.5 373h1M28 365h1M27 367.5h1M36.5 401h1M43.5 372h1M42.5 369.5h1M29 412h1M34 408.5h1M42 393.5h1M32.5 412.5h1M44 373.5h1M34 406.5h1M29 411.5h1M27.5 367.5h1M38 399h1M41 395.5h1M36 401.5h1M28 407h1M42 368.5h1M41.5 394.5h1M27 369h1M25 401h1M29 364.5h1M33 410h1M29 410h1M45.5 382h1M43.5 391h1M31 412h1M45 383.5h1M45 377h1M32 411h1M42 364.5h1M28 367.5h1M30.5 411h1M31.5 411h1M33 409h1M44 374.5h1M44.5 385h1M32 410.5h1M32.5 409h1M42.5 372h1M29.5 409.5h1M32 410h1M44.5 386h1M39.5 396.5h1M33 407.5h1M42.5 371.5h1M26.5 370h1M25 400h1M33 406.5h1M42 366h1M31 410h1M37.5 398.5h1M32.5 407.5h1M44.5 379h1M42 371h1M33 406h1M25.5 400.5h1M30 408h1M28 404h1M32.5 407h1M29.5 406.5h1M41 370h1M24.5 399h1M31.5 408h1M25 371.5h1M36 399.5h1M42.5 373.5h1M43.5 375h1M31 407h1M25 399.5h1M30 406.5h1M29 404.5h1M34.5 401.5h1M31 406h1M44.5 382.5h1M28.5 368.5h1M29.5 404h1M33.5 402.5h1M28.5 403h1M44 385.5h1M41.5 392.5h1M25.5 371.5h1M31 364h1M42 373h1M25 399h1M27 401h1M43.5 376.5h1M25 398.5h1M26.5 400.5h1M31.5 404.5h1M31 404.5h1M44 381.5h1M28 402h1M24.5 398h1M40.5 367h1M40.5 394h1M43.5 386h1M36 399h1M24 373.5h1M40 367h1M27 400.5h1M30.5 403.5h1M34 401h1M31 403.5h1M40 394h1M25 372.5h1M25.5 399h1M26 399.5h1M43 376h1M44 381h1M40 366h1M40 365.5h1M27.5 401h1"/>
<path stroke="#8890e4" d="M24.5 373.5h1M40 365.5h1M44 380h1M44 382.5h1M33 401.5h1M31.5 364.5h1M40 365h1M43.5 379h1M31.5 402h1M43.5 385h1M39 367.5h1M26.5 399.5h1M25.5 398.5h1M30.5 402h1M40 393h1M31 366h1M33.5 400.5h1M25 398h1M30.5 368h1M24.5 374h1M29.5 401.5h1M43.5 380.5h1M30 368.5h1M39 365h1M39 394.5h1M39 364.5h1M27.5 400h1M36.5 397.5h1M25.5 372.5h1M39 366h1M24.5 397.5h1M30 401.5h1M32 365.5h1M24.5 397h1M25.5 373h1M36 398h1M38.5 368h1M24.5 374.5h1M43.5 383.5h1M43 386.5h1M27 399.5h1M32.5 365h1M32.5 365.5h1M31.5 401h1M32.5 400.5h1M29 400.5h1M40.5 372h1M38 367h1M27.5 371h1M28 399.5h1M28 370.5h1M34 364h1M37.5 364.5h1M43 384.5h1M37.5 396h1M40 392h1M34.5 364h1M29 400h1M38 365h1M33 365h1M29 370h1M37.5 367h1M37.5 368h1M24.5 396.5h1M25.5 397.5h1M37.5 395.5h1M43 381h1M38 395h1M24 375.5h1M42 388h1M33.5 366h1M29.5 370h1M37.5 366h1M30 400h1M38 394.5h1M33.5 366.5h1M38 370h1M39.5 393h1M37 366.5h1M27 398.5h1M36.5 368h1M24.5 396h1M25 374h1M34 366h1M26.5 398h1M27.5 398.5h1M36 396.5h1M36 367.5h1M25 397h1M36 367h1M36.5 396.5h1M26 397.5h1M34 367h1M32 368.5h1M39.5 372h1M24.5 375h1M35 367h1M35.5 367.5h1M36.5 368.5h1M41.5 388.5h1M42.5 378h1M32.5 399h1M30 399.5h1M42 387.5h1M27.5 372h1M37 369.5h1M28 371.5h1M38.5 394h1M39 371.5h1M24.5 395.5h1M28.5 371h1M35 368.5h1M42 376.5h1M30 370h1M32 399h1M25 374.5h1M35.5 369h1M36.5 369.5h1M28.5 371.5h1M29.5 399h1M39 392.5h1M30.5 370h1M39 393h1M25 396h1M36.5 395.5h1M42.5 381.5h1M37 395h1M31.5 399h1M39 372h1M41.5 376h1M34.5 369h1M30.5 399h1M25.5 396.5h1M32.5 369.5h1M31.5 369.5h1M24.5 376h1M42 386h1M24.5 395h1M40 373.5h1M27.5 372.5h1M25.5 374.5h1M39 392h1M24 376h1M41.5 376.5h1M30 370.5h1M26 397h1M42.5 380.5h1M36 396h1M40.5 389.5h1M27 373h1M38.5 371.5h1M25 375h1M42 383.5h1M37.5 394.5h1M29 371h1M32.5 398h1M41 389h1M29.5 371h1M25 395h1M42 379.5h1M32 398h1M25 395.5h1M24.5 394.5h1M33 398h1M25.5 396h1M29.5 398h1M29 371.5h1M38.5 392.5h1M36 370.5h1M37 371h1M35.5 396h1M28 397.5h1M24 377h1M35 370h1M30 371h1M38.5 393h1M42 381.5h1M28.5 397.5h1M40.5 375.5h1M40 374.5h1M41 376h1M25 375.5h1M28.5 372h1M25.5 395.5h1M25 376h1M39 391.5h1M31 397.5h1M36.5 394h1M40.5 389h1M24.5 377h1M40 389.5h1M26 395.5h1M35 396h1M25 376.5h1M38 392.5h1M29 372h1M32 397.5h1M41 386h1M25.5 375h1M41.5 379h1M38 372.5h1M29.5 372h1M26.5 396h1M30.5 371.5h1M33 397h1M36.5 371.5h1M34.5 371h1M27 396h1M40.5 387.5h1M30 371.5h1M37.5 372.5h1M24.5 393.5h1M38 373h1M26.5 395.5h1M25 394.5h1M41.5 379.5h1M30.5 397.5h1M32 371h1M41 377.5h1M25 394h1M25.5 395h1M35 371h1M30 397h1M30 372h1M34.5 395.5h1M24 392.5h1M39 390h1M33.5 396h1M30.5 397h1M28 373h1M38.5 391h1M40 388h1"/>
<path stroke="#6a76dc" d="M28.5 396.5h1M38.5 391.5h1M34.5 371.5h1M29 396.5h1M26 375.5h1M37.5 392.5h1M36 394h1M40 375.5h1M39 374.5h1M36.5 393.5h1M33 396h1M35 394.5h1M39.5 389h1M24.5 393h1M31.5 396.5h1M24.5 392.5h1M24.5 378h1M40.5 385.5h1M41 382h1M25 376.5h1M37.5 373h1M26 394.5h1M36 372h1M38 373.5h1M28 373.5h1M35 371.5h1M27 395.5h1M25 393.5h1M41 381h1M25 393h1M28.5 373.5h1M39 389.5h1M39.5 388h1M30.5 372.5h1M25 377h1M38.5 374.5h1M40.5 384h1M25 392.5h1M39.5 388.5h1M41 383.5h1M35.5 372h1M41 382.5h1M28 395.5h1M26 394h1M27 395h1M39.5 375.5h1M38 374h1M31 372h1M40 377.5h1M36 393.5h1M36 372.5h1M34.5 372h1M35 394h1M37 373h1M24 391.5h1M30.5 396h1M34 372h1M25 377.5h1M35.5 393.5h1M38.5 390h1M40.5 383h1M25 378h1M28.5 374h1M24.5 379.5h1M40.5 382h1M39.5 376.5h1M38.5 375h1M35.5 372.5h1M27.5 374.5h1M39 376h1M24.5 391.5h1M27 394.5h1M38 374.5h1M38.5 389.5h1M25 392h1M24 380h1M28 374h1M33.5 372h1M36 373h1M35.5 393h1M37.5 391h1M28.5 395h1M31.5 372.5h1M40 378.5h1M28 374.5h1M26 393.5h1M25.5 392.5h1M40 380h1M24.5 380h1M39.5 377.5h1M24 390.5h1M33 372.5h1M27.5 394.5h1M31 373h1M36.5 373.5h1M35.5 373h1M25 391.5h1M30.5 395.5h1M39 376.5h1M25.5 377.5h1M25.5 378h1M38.5 376h1M36.5 391.5h1M37.5 390.5h1M28 394.5h1M40 383.5h1M40 385.5h1M30.5 395h1M24 389.5h1M36.5 374h1M40 385h1M31.5 373h1M27.5 375h1M40 381.5h1M29 395h1M37 391h1M38 389.5h1M29.5 374h1M37.5 374.5h1M26 393h1M37 374.5h1M38.5 388.5h1M26 377.5h1M30.5 373.5h1M33 394.5h1M24.5 390h1M37 374h1M28 375h1M39.5 379h1M39.5 378.5h1M38.5 376.5h1M32.5 394.5h1M27.5 394h1M40 382.5h1M24.5 389.5h1M39.5 385.5h1M37.5 375h1M27.5 376h1M39 386.5h1M34.5 393.5h1M27 376.5h1M35 392.5h1M38.5 387.5h1M25 390.5h1M32 394.5h1M31 394.5h1M25 391h1M25.5 391h1M25.5 378.5h1M38 376h1M39.5 385h1M25 379.5h1M30.5 374h1M24.5 389h1M36.5 374.5h1M39.5 383.5h1M25.5 391.5h1M37 375h1M24.5 381.5h1M39 386h1M28 394h1M39.5 382.5h1M33 373h1M35 373.5h1M38 389h1M37.5 375.5h1M28 393.5h1"/>
<path stroke="#4a5ad4" d="M39.5 382h1M24.5 380.5h1M31 373.5h1M37.5 375.5h1M38.5 377.5h1M30 374h1M24 387.5h1M28.5 394h1M33 373.5h1M37.5 389.5h1M38.5 388h1M26 378h1M39.5 384h1M32.5 373.5h1M39.5 383h1M25 390.5h1M39 378h1M27 393h1M24.5 389h1M30.5 394.5h1M39.5 379.5h1M24 388h1M25.5 379.5h1M27 392.5h1M38 388.5h1M25 380h1M39.5 384.5h1M39.5 382.5h1M29 394h1M27 377h1M24 384h1M30.5 374h1M38.5 387h1M24 385h1M24.5 387.5h1M39.5 381h1M25.5 391h1M39.5 380.5h1M27.5 393.5h1M24.5 382h1M24 387h1M26.5 377.5h1M39.5 381.5h1M25 390h1M35.5 374h1M36 374.5h1M38.5 378h1M32 373.5h1M24 385.5h1M37 375.5h1M36.5 375h1M34.5 392.5h1M24.5 383.5h1M31.5 394h1M24.5 387h1M35.5 374.5h1M25 381.5h1M24.5 388.5h1M25.5 390.5h1M36.5 390h1M24.5 386h1M38.5 386h1M39 380h1M25 389.5h1M37.5 376h1M30 394h1M39 385.5h1M34 392.5h1M30.5 394h1M36.5 375.5h1M24.5 382.5h1M27 392h1M25.5 380.5h1M25.5 390h1M39 385h1M39 384.5h1M39 380.5h1M38.5 378.5h1M26.5 378h1M25 381h1M29.5 393.5h1M31 374.5h1M28.5 376h1M30 393.5h1M30 375h1M32.5 374h1M25 388.5h1M36 375h1M26 379h1M38 378h1M25.5 389.5h1M27 377.5h1M38 387h1M27.5 377h1M28 392.5h1M32 374h1M35.5 375h1M30.5 374.5h1M35 374.5h1M38 377.5h1M34 374.5h1M28.5 376.5h1M24.5 385h1M24.5 384h1M25.5 389h1M38.5 384h1M38.5 385h1M34.5 391.5h1M37.5 387.5h1M24.5 384.5h1M25 387.5h1M25 387h1M24.5 386.5h1M37 376h1M25 388h1M36 390.5h1M37.5 377h1M27 378h1M38 378.5h1M26.5 391h1M25.5 381h1M29.5 393h1M26 390.5h1M29 393h1M37 388.5h1M25 384h1M35 375h1M37 389h1M29.5 375.5h1M33 392.5h1M25 383h1M25 386.5h1M25.5 381.5h1M25.5 388.5h1M25 385.5h1M36 376h1M32.5 393h1M25 384.5h1M34 391.5h1M30 393h1M31 375h1M36.5 389h1M25 386h1M32 392.5h1M38 386h1M37.5 377.5h1M33.5 374.5h1M26 390h1M37 377h1M35.5 375.5h1M32 375h1M38 379h1M25.5 388h1M33.5 392h1M26 380.5h1M38 384.5h1M36 389.5h1M25 383.5h1M25.5 382h1M26 381h1M38.5 381h1M26.5 390.5h1M37 388h1M27.5 391.5h1M27 379h1"/>
<path stroke="#2e58d0" stroke-width="1.25" d="M34 375h1.25M25 385.5h1.25M32 375h1.25M36.5 388.5h1.25M33 375h1.25M28.5 392h1.25M30 375.5h1.25M25 384.5h1.25M38 385.5h1.25M38 380h1.25M38.5 382.5h1.25M30 392.5h1.25M26 389.5h1.25M35.5 376h1.25M27 379h1.25M34.5 391h1.25M38 385h1.25M31 392.5h1.25M29 392h1.25M28 377.5h1.25M37.5 379h1.25M36.5 377h1.25M26 389h1.25M29.5 376h1.25M33.5 375h1.25M32.5 392h1.25M38 382.5h1.25M35 390.5h1.25M35 375.5h1.25M37 377.5h1.25M38 382h1.25M26.5 390h1.25M36 376.5h1.25M28.5 377h1.25M25.5 383.5h1.25M33 392h1.25M25.5 387.5h1.25M31.5 392h1.25M25.5 384h1.25M30 392h1.25M34 375.5h1.25M33.5 391.5h1.25M30 376h1.25M37.5 386h1.25M33.5 375.5h1.25M26 381h1.25M35 390h1.25M28 391.5h1.25M27.5 391h1.25M34.5 375.5h1.25M26 388h1.25M31.5 375.5h1.25M29.5 392h1.25M33 391.5h1.25M36 388.5h1.25M28.5 391.5h1.25M25.5 384.5h1.25M26 382h1.25M26.5 380h1.25M31 392h1.25M30.5 376h1.25M28.5 377.5h1.25M36 377h1.25M38 383h1.25M25.5 386h1.25M38 381h1.25M25.5 387h1.25M26 381.5h1.25M26 387.5h1.25M29 377h1.25M32.5 391.5h1.25M28 391h1.25M26.5 380.5h1.25M37 386h1.25M26.5 388.5h1.25M33.5 391h1.25M35.5 376.5h1.25M27 379.5h1.25M36 377.5h1.25M34.5 390.5h1.25M37.5 380h1.25M36.5 377.5h1.25M36.5 378h1.25M37.5 380.5h1.25M26 382.5h1.25M26 384h1.25M32 391.5h1.25M27.5 379.5h1.25M32.5 375.5h1.25M37 379h1.25M32.5 376h1.25M33 391h1.25M26.5 389h1.25M37.5 385.5h1.25M34 376h1.25M29.5 377h1.25M29.5 391.5h1.25M37.5 385h1.25M27.5 390h1.25"/>
<path stroke="#2098c8" stroke-width="1.25" d="M31.5 391.5h1.25M26 386.5h1.25M27 389.5h1.25M29.5 391.5h1.25M30 391.5h1.25M28 378.5h1.25M29 377.5h1.25M32 376h1.25M26 387h1.25M27 380.5h1.25M32 391.5h1.25M34.5 390h1.25M26.5 381h1.25M37 379h1.25M31 391.5h1.25M27.5 379h1.25M35.5 377h1.25M35.5 388h1.25M37.5 384.5h1.25M26.5 381.5h1.25M29.5 377h1.25M26.5 382h1.25M27 389h1.25M32.5 376h1.25M26 385.5h1.25M35 389h1.25M37.5 381h1.25M26 386h1.25M34 376.5h1.25M26 384.5h1.25M26.5 387h1.25M29.5 377.5h1.25M31.5 391h1.25M37 380.5h1.25M37.5 383h1.25M31 376.5h1.25M26.5 386.5h1.25M28 390h1.25M36 387.5h1.25M26.5 383.5h1.25M30 391h1.25M36.5 379.5h1.25M27.5 389.5h1.25M35 377.5h1.25M37 385.5h1.25M29 390.5h1.25M33 376.5h1.25M32 376.5h1.25M28 389.5h1.25M30.5 391h1.25M29.5 378h1.25M27.5 389h1.25M32.5 376.5h1.25M36.5 386h1.25M37 381.5h1.25M26.5 387.5h1.25M36 378h1.25M26.5 384h1.25M32.5 390.5h1.25M33.5 376.5h1.25M37 382h1.25M26.5 385.5h1.25M30 390.5h1.25M27 382h1.25M28.5 390h1.25M29 378.5h1.25M32 377h1.25M29.5 390.5h1.25M27.5 388.5h1.25M34.5 377.5h1.25M28 379.5h1.25"/>
<path stroke="#30b878" stroke-width="1.25" d="M29 378.5h1.25M36 379h1.25M35.5 387.5h1.25M28 389.5h1.25M27.5 388h1.25M30.5 377.5h1.25M37 383h1.25M27 388h1.25M27 381.5h1.25M33 390h1.25M36.5 384.5h1.25M27 382h1.25M27.5 380.5h1.25M35 377.5h1.25M31 377h1.25M33 377h1.25M30 390.5h1.25M26.5 383.5h1.25M33.5 377h1.25M36.5 381h1.25M36 379.5h1.25M28.5 379h1.25M35 388h1.25M27 387h1.25M34.5 377.5h1.25M36 386h1.25M32 390h1.25M33.5 389.5h1.25M34 377.5h1.25M31 390.5h1.25M32 377h1.25M29 389.5h1.25M32.5 377h1.25M31 377.5h1.25M28 380.5h1.25M36.5 383h1.25M36.5 380.5h1.25M28 380h1.25M29 379h1.25M36 385.5h1.25M27 382.5h1.25M27 385h1.25M35.5 387h1.25M27.5 382h1.25M36.5 381.5h1.25M27 383h1.25M34 389h1.25M29.5 378.5h1.25M33 377.5h1.25M33.5 389h1.25M32.5 377.5h1.25M30 378h1.25M32.5 390h1.25M35.5 379.5h1.25M27 384.5h1.25M36 380h1.25M29.5 389.5h1.25M29.5 390h1.25M32 377.5h1.25M27 386.5h1.25M34.5 378h1.25M27.5 381.5h1.25M35.5 386h1.25M33 389.5h1.25M27 385.5h1.25M27.5 387.5h1.25M36.5 384h1.25M31 390h1.25M32.5 389.5h1.25M33.5 377.5h1.25M27 384h1.25M28 388.5h1.25M36 384h1.25M28 388h1.25M27.5 386.5h1.25M30.5 378.5h1.25M36 385h1.25M36 381.5h1.25M33 389h1.25M31.5 389.5h1.25M36 381h1.25M34 378h1.25M30.5 389.5h1.25M33 378h1.25M34 388.5h1.25M30 378.5h1.25M29 389h1.25M28 387.5h1.25M27.5 383.5h1.25M35.5 386.5h1.25M35 379h1.25M30 389.5h1.25M36 380.5h1.25M27.5 385.5h1.25M34.5 387.5h1.25M32 389.5h1.25M34.5 387h1.25M28.5 380.5h1.25M30 379h1.25M28 381h1.25M28 387h1.25M35.5 385.5h1.25M36 383h1.25M35 379.5h1.25M31 389.5h1.25M33.5 388.5h1.25"/>
<path stroke="#50c840" stroke-width="1.25" d="M28.5 380.5h1.25M28.5 381h1.25M31.5 389.5h1.25M33 378h1.25M35 387h1.25M28 387.5h1.25M35 379h1.25M28 381.5h1.25M34 388h1.25M27.5 383h1.25M35 379.5h1.25M29.5 379.5h1.25M30.5 378.5h1.25M35.5 385h1.25M28 382.5h1.25M31.5 389h1.25M35 386.5h1.25M35.5 384.5h1.25M33 378.5h1.25M28 383h1.25M31 389h1.25M34.5 379.5h1.25M35 386h1.25M28 382h1.25M30 379.5h1.25M30.5 389h1.25M27.5 384.5h1.25M27.5 385h1.25M35.5 382h1.25M27.5 385.5h1.25M32.5 378.5h1.25M33.5 388h1.25M30 389h1.25M32 378.5h1.25M28 385.5h1.25M32.5 388.5h1.25M35.5 381.5h1.25M35 385.5h1.25M28 385h1.25M35.5 383h1.25M28 386.5h1.25M31 378.5h1.25M28.5 387h1.25M35.5 384h1.25M28.5 387.5h1.25M33 388h1.25M32 388.5h1.25M30.5 379h1.25M29 387.5h1.25M34.5 386.5h1.25M29 380.5h1.25M34.5 380h1.25M29 381h1.25M30 388.5h1.25M28 384.5h1.25M35.5 382.5h1.25M28.5 382h1.25M30.5 379.5h1.25M31 388.5h1.25M28.5 386.5h1.25M34.5 386h1.25M30 380h1.25M29.5 380.5h1.25M32.5 388h1.25M28 383.5h1.25M31.5 388.5h1.25M32 379h1.25M28.5 382.5h1.25M28.5 386h1.25M35 381h1.25M33.5 379.5h1.25M32 388h1.25M32.5 379h1.25M35 384h1.25M28.5 385.5h1.25M29.5 388h1.25M33.5 387h1.25M34 380h1.25M28 384h1.25M35 383.5h1.25M30 388h1.25M33 379h1.25M31 379.5h1.25M34.5 380.5h1.25M35 381.5h1.25M31 388h1.25M33 379.5h1.25M29.5 387.5h1.25M35 383h1.25M29.5 381h1.25M28.5 384h1.25M33.5 386.5h1.25M35 382h1.25M34 386.5h1.25M32.5 379.5h1.25M34.5 381h1.25M29 382h1.25M33.5 380h1.25M29 386.5h1.25M28.5 385h1.25M34.5 381.5h1.25M30 380.5h1.25M32.5 387.5h1.25M28.5 383h1.25"/>
<path stroke="#c8e030" stroke-width="1.25" d="M29 383h1.25M34.5 381h1.25M29 386h1.25M30.5 380.5h1.25M30.5 380h1.25M30.5 387.5h1.25M34.5 381.5h1.25M29.5 387h1.25M30 387.5h1.25M34.5 383.5h1.25M34.5 384.5h1.25M30 381h1.25M29 382.5h1.25M34 386h1.25M33.5 380h1.25M32.5 380h1.25M33.5 380.5h1.25M34 381h1.25M34 385h1.25M31 387.5h1.25M29 383.5h1.25M34 385.5h1.25M34.5 384h1.25M30 387h1.25M34 381.5h1.25M34 384.5h1.25M29.5 386h1.25M29.5 382h1.25M33 380h1.25M34.5 383h1.25M31 380.5h1.25M29.5 386.5h1.25M34 382h1.25M29 384h1.25M29.5 385.5h1.25M34 384h1.25M32.5 380.5h1.25M30 381.5h1.25M31.5 387h1.25M32.5 386.5h1.25M33.5 385.5h1.25M30.5 386.5h1.25M31.5 380.5h1.25M30.5 387h1.25M30 386.5h1.25M29.5 383h1.25M29.5 385h1.25M30 382h1.25M32 380.5h1.25M29.5 382.5h1.25M30 386h1.25M33.5 381h1.25M33 381h1.25M31 386.5h1.25"/>
<path stroke="#f0a020" stroke-width="1.25" d="M30 382.5h1.25M30 381.5h1.25M30 386.5h1.25M34 382h1.25M34 382.5h1.25M31.5 386.5h1.25M33.5 385h1.25M33 381h1.25M29.5 383h1.25M31 381h1.25M32 380.5h1.25M32 381h1.25M29.5 385h1.25M34 383.5h1.25M31 386.5h1.25M29.5 383.5h1.25M33.5 383.5h1.25M32.5 386h1.25M33 385h1.25M30.5 386h1.25M31 381.5h1.25M33.5 382h1.25M33.5 384h1.25M30.5 385.5h1.25M33 381.5h1.25M30 383.5h1.25M30.5 382h1.25M31 386h1.25M31.5 381.5h1.25M33.5 383h1.25M30 384h1.25M33.5 382.5h1.25M32.5 385.5h1.25M30 385h1.25M33 382h1.25M31 382h1.25M30.5 382.5h1.25M33 382.5h1.25M30 384.5h1.25M33 383h1.25M31.5 385.5h1.25M33 384h1.25M32.5 382h1.25M30.5 383h1.25"/>
<path stroke="#e83020" stroke-width="1.25" d="M32.5 385h1.25M32 385.5h1.25M31.5 381.5h1.25M31.5 385.5h1.25M33 383h1.25M33 384h1.25M33 382.5h1.25M33 383.5h1.25M32 382h1.25M31 382h1.25M32.5 384.5h1.25M30.5 384.5h1.25M30.5 384h1.25M30.5 383h1.25M32 385h1.25M31.5 382.5h1.25M30.5 383.5h1.25M31 385h1.25M31 383.5h1.25M32.5 383.5h1.25M31 382.5h1.25M31.5 385h1.25M31 383h1.25M31 384.5h1.25M32.5 382.5h1.25M31 384h1.25M32 382.5h1.25M32.5 383h1.25M31.5 384.5h1.25M32 383.5h1.25M32 384h1.25M31.5 384h1.25M31.5 383.5h1.25M32 383h1.25"/>
</g>
<rect x="22.5" y="362.4" width="82.5" height="84.1" fill="none" stroke="#666" stroke-width="1.1"/>
<text x="19.5" y="445.1" font-size="5" text-anchor="end" fill="#555">10<tspan font-size="3.6" dy="-2">0</tspan></text>
<text x="19.5" y="427.1" font-size="5" text-anchor="end" fill="#555">10<tspan font-size="3.6" dy="-2">1</tspan></text>
<text x="19.5" y="405.2" font-size="5" text-anchor="end" fill="#555">10<tspan font-size="3.6" dy="-2">2</tspan></text>
<text x="19.5" y="385.3" font-size="5" text-anchor="end" fill="#555">10<tspan font-size="3.6" dy="-2">3</tspan></text>
<text x="19.5" y="369.8" font-size="5" text-anchor="end" fill="#555">10<tspan font-size="3.6" dy="-2">4</tspan></text>
<text x="27.5" y="454" font-size="5" text-anchor="middle" fill="#555">10<tspan font-size="3.6" dy="-2">0</tspan></text>
<text x="46.1" y="454" font-size="5" text-anchor="middle" fill="#555">10<tspan font-size="3.6" dy="-2">1</tspan></text>
<text x="64.8" y="454" font-size="5" text-anchor="middle" fill="#555">10<tspan font-size="3.6" dy="-2">2</tspan></text>
<text x="83.4" y="454" font-size="5" text-anchor="middle" fill="#555">10<tspan font-size="3.6" dy="-2">3</tspan></text>
<text x="102" y="454" font-size="5" text-anchor="middle" fill="#555">10<tspan font-size="3.6" dy="-2">4</tspan></text>
<path d="M22.5 443.3h2M22.5 437.9h1M22.5 434.7h1M22.5 432.5h1M22.5 430.7h1M22.5 429.3h1M22.5 428h1M22.5 427.1h1M22.5 426.2h1M22.5 425.3h2M22.5 418.7h1M22.5 414.8h1M22.5 412.1h1M22.5 409.9h1M22.5 408.2h1M22.5 406.6h1M22.5 405.6h1M22.5 404.5h1M22.5 403.4h2M22.5 397.4h1M22.5 393.8h1M22.5 391.4h1M22.5 389.5h1M22.5 387.9h1M22.5 386.5h1M22.5 385.5h1M22.5 384.5h1M22.5 383.5h2M22.5 378.8h1M22.5 376h1M22.5 374.2h1M22.5 372.6h1M22.5 371.4h1M22.5 370.3h1M22.5 369.5h1M22.5 368.7h1M22.5 368h2M26.5 446.5v-2M32.1 446.5v-1M35.4 446.5v-1M37.7 446.5v-1M39.5 446.5v-1M41 446.5v-1M42.3 446.5v-1M43.3 446.5v-1M44.2 446.5v-1M45.1 446.5v-2M50.7 446.5v-1M54.1 446.5v-1M56.3 446.5v-1M58.2 446.5v-1M59.7 446.5v-1M61 446.5v-1M61.9 446.5v-1M62.8 446.5v-1M63.8 446.5v-2M69.3 446.5v-1M72.7 446.5v-1M74.9 446.5v-1M76.8 446.5v-1M78.3 446.5v-1M79.6 446.5v-1M80.5 446.5v-1M81.4 446.5v-1M82.4 446.5v-2M88 446.5v-1M91.3 446.5v-1M93.5 446.5v-1M95.4 446.5v-1M96.9 446.5v-1M98.2 446.5v-1M99.1 446.5v-1M100.1 446.5v-1M101 446.5v-2" stroke="#555" stroke-width="0.6" fill="none"/>
<rect x="25.3" y="367" width="23.1" height="33" fill="none" stroke="#666" stroke-width="1"/>
<text x="27" y="441.5" font-size="9.4" font-style="italic" stroke="#000" stroke-width="0.15">ccl5<tspan font-size="7" dy="-4">-/-</tspan></text>
<g filter="url(#sb)">
<path stroke="#a4aae6" d="M186 423h1M154.5 434h1M122.5 409h1M192.5 416h1M145.5 432h1M180 418h1M135.5 422.5h1M130.5 414.5h1M157.5 431h1M197 412.5h1M124 365.5h1M137.5 424.5h1M169 425.5h1M135 420h1M157.5 430h1M189 414h1M194.5 412.5h1M136 420.5h1M138 363.5h1M129.5 409h1M124.5 404h1M194 364h1M142.5 363.5h1M121.5 369.5h1M135.5 417.5h1M147 427h1M162 426.5h1M129 367.5h1M201 407h1M145 426h1M170.5 420h1M138 420h1M132 366.5h1M144 364h1M163 425.5h1M191.5 411h1M161 426h1M134 412h1M191 411h1M124 402h1M171.5 418h1M150 426.5h1M136.5 416h1M204 402.5h1M192 365h1M164.5 423h1M155.5 426.5h1M189 411h1M194 365.5h1M149 364.5h1M201.5 404.5h1M163.5 363.5h1M200 405.5h1M164 423h1M202 403.5h1M132.5 368h1M154.5 364h1M191 409.5h1M201 404h1M136.5 413.5h1M146.5 424h1M201 370.5h1M121 373h1M151.5 425.5h1M202.5 402.5h1M141 420h1M157 425h1M131 369h1M172.5 414.5h1M159.5 424h1M125.5 400h1M192.5 366.5h1M184.5 364.5h1M181 364.5h1M160 364.5h1M136.5 411h1M138 414h1M153.5 424.5h1M161 364.5h1M170 416h1M149.5 424h1M131.5 403h1M124 399h1M151.5 424h1M160.5 365h1M154 365h1M156 424h1M123 372.5h1M150 365.5h1M200 403.5h1M172 365h1M127.5 371h1M164 421h1M195 407h1M121 397h1M200.5 371.5h1M165 420h1M140.5 417h1M194 367.5h1M144.5 421h1M203.5 375.5h1M173 412.5h1M187 366h1M185.5 365.5h1M161.5 421.5h1M165 419.5h1M131.5 402h1M152.5 423.5h1M128 371.5h1M167.5 417h1M166 418h1M122.5 374h1M151.5 423h1M137.5 409h1M125 373h1M130 400.5h1M184.5 366h1M132 370h1M190.5 367h1M166.5 417.5h1M142.5 367.5h1M154 366h1M122 375h1M152 422.5h1M130 400h1M191 367.5h1M139 412.5h1M198.5 403h1M192 407h1M197 370.5h1M122.5 396.5h1M145.5 419.5h1M134.5 369.5h1M146.5 367h1M191.5 407h1M182 408.5h1M165 366h1M123.5 374.5h1M135.5 369.5h1M171 366h1M202 399h1M147.5 367h1M155 366.5h1M188.5 407.5h1M154.5 366.5h1M174.5 366h1M150.5 421.5h1M142.5 416.5h1M155.5 422h1M163 419h1M185 408h1M146.5 420h1M201 374.5h1M139.5 411.5h1M202.5 376.5h1M138 407.5h1M190.5 368h1M200.5 400h1M150 421h1M146 419h1M158.5 366.5h1M198 372h1M180 366.5h1M120 377h1M185.5 367h1M202.5 396h1M143.5 416.5h1M138 406.5h1M125 374.5h1M199 373h1M151 420.5h1M177.5 408h1M192.5 405.5h1M178 407.5h1M187 367.5h1M150 367.5h1M195.5 370.5h1M183 367h1M197 371.5h1M120 393h1M123.5 375.5h1M185 367.5h1M199 401h1M173 409h1M137 370h1M133 371h1M121.5 394h1M191.5 369h1M185.5 407h1M132.5 399.5h1M142 413h1M146 418h1M171 409.5h1M198 373h1M176.5 367h1M201.5 397.5h1M170 410.5h1M163 417.5h1M137 370.5h1M146.5 368.5h1M166 415h1M190 406h1M139.5 369.5h1M172.5 367h1M157 367h1M203.5 381.5h1M203.5 391.5h1M174 367h1M201 397.5h1M122 377.5h1M126.5 396h1M139 406h1M127.5 396.5h1M170 410h1M142 412h1M129 373.5h1M144.5 415.5h1M182.5 406.5h1M143.5 414.5h1M198.5 400.5h1M131 398h1M127 374.5h1M173.5 367.5h1M141.5 410.5h1M187 368.5h1M168.5 411h1M137.5 402.5h1M140.5 408.5h1M172 408h1M162 417.5h1M162.5 417h1M126 395.5h1M196 372.5h1M125.5 395h1M157 419h1M169.5 409.5h1M197.5 373.5h1M151.5 368h1M150.5 419h1M194.5 371h1M198.5 399.5h1M167 367.5h1M153.5 368h1M120 379.5h1M123 377.5h1M120.5 391h1M146 369h1M158 418.5h1M157.5 367.5h1M162 416.5h1M162 367.5h1M149.5 418h1M202.5 392.5h1M193.5 371h1M201 395.5h1M179.5 406h1M128 395.5h1M132 373h1M187.5 405.5h1M125.5 376h1M158.5 368h1M138.5 402.5h1M163.5 368h1M140 404.5h1M199 398.5h1M120.5 390.5h1M180.5 406h1M133.5 372.5h1M203 384h1M203 388.5h1M173.5 406h1M140.5 405.5h1M197.5 400h1M139.5 403.5h1M202.5 392h1M141 406.5h1M142.5 410h1M160.5 417h1M124 377.5h1M143 411h1M202 381.5h1M128.5 395.5h1M129 395.5h1M194.5 402h1M203 385h1M139 402h1M201 379h1M134.5 398h1M201 395h1M170.5 407h1M173.5 368h1M163.5 414.5h1M180.5 405.5h1M202.5 383.5h1M194 372h1M122.5 391.5h1M202.5 385h1M141.5 407h1M202.5 387h1M159 417h1M196.5 400.5h1M171.5 406.5h1M200 396.5h1M149.5 417h1M141 370.5h1M185.5 405h1M120.5 389.5h1M122.5 379.5h1M152 417.5h1M129 395h1M199.5 397h1M121.5 390.5h1M142 407h1M146.5 415h1M121.5 380.5h1M121 390h1M127 376h1M202 384h1M124.5 392.5h1M138.5 400.5h1M200.5 378.5h1M135.5 398.5h1M142.5 408h1M191 403.5h1M195 373h1M148 415.5h1M188 404.5h1M172.5 405h1M164 413h1M145.5 370h1M185 405h1M145.5 413h1M161.5 368.5h1M125.5 393h1M120 383.5h1M201.5 391.5h1M200 395.5h1M142 406h1M190 404h1M197.5 375.5h1M150 416.5h1M141.5 404.5h1M154 417.5h1M164.5 412h1M201 393h1M144 410.5h1M145 412h1M150.5 369h1M179 368.5h1M193.5 372.5h1M122.5 380h1M202 387.5h1M154.5 417h1M177.5 404.5h1M141.5 403.5h1M184.5 404.5h1M199.5 378h1M120.5 383h1M148 415h1M199.5 396h1M167 408.5h1M127 393.5h1M164 412.5h1M186 369.5h1M132 374h1M142 405h1M175 404.5h1M151.5 416.5h1M128.5 394h1M170.5 405.5h1M138 399h1M156 369h1M120.5 385.5h1M160.5 415h1M188.5 404h1M170.5 405h1M121 383h1M201 391h1M121 383.5h1M197 375.5h1M140.5 401h1M171.5 404.5h1M154.5 416.5h1M128.5 376h1M201.5 388h1M194.5 401h1M167 408h1M169.5 405.5h1M152.5 369.5h1M153.5 369.5h1M138.5 399h1M190 403h1M166.5 408.5h1M145.5 370.5h1M195.5 400h1M143.5 408h1M171 404.5h1M156 416h1M137 398h1M181 369.5h1M192.5 372.5h1M164 411h1M125 391.5h1M166 409h1M198.5 396h1M134 396.5h1M121 386h1M200.5 391.5h1M161 414h1M174.5 369h1M168.5 406h1M199 379h1M190.5 403h1M180 369.5h1M137.5 372.5h1M192.5 402h1M142.5 404.5h1M131 395h1M127.5 377h1M124 390.5h1"/>
<path stroke="#8e96de" d="M140 400h1M147 370.5h1M170.5 404.5h1M173 403.5h1M142.5 404h1M134.5 396.5h1M200.5 392h1M127 377h1M167.5 407h1M157 415.5h1M144.5 409h1M150.5 370h1M199.5 379.5h1M201 383.5h1M132 395h1M127 377.5h1M123 381h1M151.5 370h1M158.5 415h1M191.5 372h1M143.5 406h1M124.5 390.5h1M129.5 376h1M198 377.5h1M131 394.5h1M166 408h1M142.5 403h1M122 387h1M122 386.5h1M144 406h1M149 413.5h1M141.5 401h1M139 398.5h1M193.5 400.5h1M177.5 403.5h1M133.5 374h1M183 370h1M130.5 375.5h1M156 415h1M147.5 412h1M150 414h1M185 403.5h1M156.5 415h1M172 403h1M168 405h1M162 412h1M171 403.5h1M137.5 397.5h1M123 382.5h1M144.5 406.5h1M146.5 410.5h1M134 395.5h1M168 369.5h1M181 403.5h1M142 371.5h1M124 389.5h1M200 391h1M149 413h1M127 378h1M122.5 386.5h1M153.5 415h1M193 400.5h1M166.5 406.5h1M140 398.5h1M125 390.5h1M159.5 413.5h1M200.5 388.5h1M149.5 413.5h1M122.5 384h1M192 401h1M171 403h1M200 383.5h1M146 409.5h1M183 370.5h1M131.5 394h1M187 403h1M166 369.5h1M123.5 382h1M159.5 369.5h1M169.5 403.5h1M144 404h1M165 408h1M184.5 370.5h1M184.5 403h1M180.5 370h1M150.5 370.5h1M150 413.5h1M154 370h1M133 395h1M196.5 377h1M163 410h1M188 371.5h1M149 412.5h1M165.5 369.5h1M135.5 396h1M157.5 370h1M176 402.5h1M123 383.5h1M152.5 414h1M156 414.5h1M189.5 372h1M150.5 413.5h1M200 385.5h1M126 379.5h1M200 387h1M162 370h1M148.5 371h1M177.5 370h1M136.5 396h1M138.5 397h1M136 374h1M163.5 409h1M180 370.5h1M187 402.5h1M157 413.5h1M158.5 413h1M148 411h1M146 371.5h1M196.5 396.5h1M195 375.5h1M140.5 398.5h1M145.5 406.5h1M127 379h1M131.5 393.5h1M147 371h1M149.5 412h1M178 402.5h1M150 412h1M169 403h1M163 409h1M196 377h1M143.5 401h1M134.5 395h1M135.5 395.5h1M161 411h1M144.5 403.5h1M145 404.5h1M165 406h1M126.5 390h1M131 393h1M184.5 371h1M124 382.5h1M166.5 404.5h1M149 411h1M151 412.5h1M146 407h1M156 413h1M160 370h1M199.5 384.5h1M163 408.5h1M198.5 392h1M171.5 401.5h1M197.5 394.5h1M191.5 400.5h1M144.5 402.5h1M186.5 402h1M136.5 374h1M140.5 373h1M160.5 370h1M197.5 394h1M144 401h1M147.5 409h1M175 370.5h1M165 405.5h1M124.5 387h1M173.5 370.5h1M145.5 404.5h1M199 384h1M171 370.5h1M174.5 370.5h1M166.5 370.5h1M124.5 386h1M199.5 386h1M130.5 377h1M128 391h1M176.5 401.5h1M166.5 403.5h1M138.5 396.5h1M124.5 383.5h1M125 387.5h1M151 412h1M185.5 371.5h1M148.5 409.5h1M155 412.5h1M155.5 412.5h1M177 401.5h1M149 410h1M126.5 389.5h1M162.5 408.5h1M125.5 381.5h1M161.5 409h1M153.5 412.5h1M168 370.5h1M145.5 403h1M138 396h1M126 381h1M146 404h1M181.5 402h1M171.5 401h1M138 374h1M125 383h1M161 409.5h1M153 412h1M198 381h1M146 404.5h1M161.5 370.5h1M137 395.5h1M165.5 404h1M189.5 373h1M197 379h1M126.5 389h1M196 378h1M154.5 412h1M172 400.5h1M128.5 390.5h1M127 380h1M154 412h1M144.5 400.5h1M131.5 392.5h1M162 370.5h1M143.5 399.5h1M190.5 400h1M167.5 401.5h1M190 373.5h1M185 401.5h1M130.5 392h1M174.5 371h1M178 401.5h1M163 406.5h1M164 405h1M160.5 409.5h1M145.5 401.5h1M125.5 386.5h1M171 400.5h1M181.5 401.5h1M188 401h1M136 375h1M196.5 379.5h1M146 402.5h1M127.5 380h1M189.5 373.5h1M197 379.5h1M191 374h1M196.5 394.5h1M187 401h1M137 395h1M139.5 396.5h1M195.5 396h1M189.5 400.5h1M160.5 409h1M129 391h1M127 381h1M126.5 388.5h1M152.5 411h1M184 401.5h1M131 377.5h1M184.5 401.5h1M151 410.5h1M140.5 373.5h1M148 406.5h1M150.5 371.5h1M173 371h1M198.5 387.5h1M157 411h1M186 372.5h1M150.5 409.5h1M180.5 401.5h1M188.5 400.5h1M146 401.5h1M145 372.5h1M176 400.5h1M198.5 385.5h1M197 380.5h1M161 408h1M165 402.5h1M179 401h1M151 409.5h1M129.5 378.5h1M154 411h1M142.5 397.5h1M164 403.5h1M192.5 398.5h1M131 391.5h1M147 404h1M163 371h1M141.5 397h1M144 398.5h1M158.5 410h1M197.5 382h1M146.5 372h1M126 384h1M178.5 401h1M177 400.5h1M179.5 401h1M135.5 375.5h1M197 381h1M134.5 393.5h1M197 393h1M156 410.5h1M142 397h1M139.5 395.5h1M129.5 379h1M137.5 394.5h1M169.5 399.5h1M189 374h1M155.5 371h1M158.5 409h1M160 371h1M143 373h1M140.5 374h1M170.5 399.5h1M184.5 372.5h1M164 402.5h1M193 376h1M144 398h1M131.5 391.5h1M185.5 372.5h1M160.5 407.5h1M181 372h1M149 372h1M187.5 400.5h1M147.5 402.5h1M149 405.5h1M162 405.5h1M129 380h1M168 400h1M161 406.5h1M149 405h1M135.5 376h1M178 400h1M189.5 374h1M138 375h1M132.5 392h1M172 399h1M154.5 410h1M159 408h1M159.5 371h1M195.5 379h1M160 407h1M137 394h1M198 387h1M126.5 385.5h1M161 406h1M133.5 377h1M127 384h1M197 391h1M129 389.5h1M137.5 394h1M184 400.5h1M142 373.5h1M164 402h1M179.5 400.5h1M153.5 409h1M130.5 390.5h1M131 378.5h1M191 375h1M131 391h1M159 407.5h1M156 409h1M149 404h1M165.5 400.5h1M168.5 399h1M162.5 403h1M134 377h1M180 400.5h1M149.5 405h1M152 408h1M160 406.5h1M134.5 376.5h1M147 400.5h1M156 371.5h1M159 407h1M176.5 399.5h1M135.5 393h1M149 403.5h1M165 400.5h1M143 373.5h1M169.5 371.5h1M172 371.5h1M141.5 374h1M189 399.5h1M154 408.5h1M184.5 373h1M149.5 404h1M157 408h1M156 408.5h1M197.5 388.5h1M146.5 373h1M170 398.5h1M197 389h1M191 398h1M166 399.5h1M195.5 393.5h1M158.5 407h1M156.5 408h1M196.5 382h1M197.5 387.5h1M151.5 372h1M177 399.5h1M140 395h1M157 407.5h1M161 404h1M150.5 405h1M154 408h1M139.5 394.5h1M188 374h1M128 383.5h1M170 372h1M181.5 372.5h1M148 400.5h1M160 371.5h1M127.5 385h1M175.5 399h1M177.5 399.5h1M132.5 391h1M186 400h1M181.5 400h1M158.5 406h1M194.5 394.5h1M130 380.5h1M166 399h1M150 403h1M184.5 400h1M177 399h1M171 398h1M153 406.5h1M129.5 380.5h1M149 401.5h1M193 396.5h1M165.5 399h1M157.5 406.5h1M150.5 372.5h1M147.5 399h1M129 388h1M154 406.5h1M152.5 406h1M192.5 377.5h1M156.5 406.5h1M195.5 381h1M183.5 373h1M185.5 399.5h1M131 389.5h1M161 402.5h1M153 406h1M163 400h1M160 404h1M128 384.5h1M135 377h1M161.5 401.5h1M182 399.5h1M197 386.5h1M151 403.5h1M130.5 380h1M134.5 392h1M154.5 406.5h1M139.5 394h1M171 372h1M178 372.5h1M178.5 372.5h1M153.5 406h1M154 406h1M195.5 392.5h1M156.5 406h1M167.5 398h1M190.5 397.5h1M141.5 395h1M147 373.5h1M196.5 389h1M191.5 397h1M160 402.5h1M166.5 372h1M156.5 405.5h1M137.5 393h1M164.5 399h1M162 400.5h1M158 372h1M129.5 382h1M136.5 376.5h1M191.5 377h1M161.5 400.5h1M158 404.5h1M195 381h1M161.5 401h1M184 399.5h1M150 401h1M169 372h1M148 398.5h1M188.5 398.5h1M150.5 401.5h1M165.5 398h1M145.5 396.5h1M170 397h1M144 374h1M156 405h1M147 397.5h1M133.5 378.5h1M168 397.5h1M161 401h1M183.5 373.5h1M165.5 372h1M134.5 391.5h1M129 386.5h1M164 372h1M155.5 405h1M157 404.5h1M136.5 392.5h1M172 397.5h1M129 387h1M186.5 399h1M195 392.5h1M152.5 403.5h1M136 392h1M139 393.5h1M150 400.5h1M131.5 380h1M148.5 399h1M173.5 372.5h1M129 383.5h1M180 399h1M193.5 379h1M137 376.5h1M146 397h1M155.5 404.5h1M151 401h1M129 385.5h1M182 399h1M142 374.5h1M150.5 401h1M147.5 373.5h1M171 397h1M142 394.5h1M154.5 404h1M152 402.5h1M155 404.5h1M180.5 373h1M196 390h1M140 394h1M153 403.5h1M171.5 397h1M142.5 374.5h1M132.5 379.5h1M133.5 390.5h1M144.5 396h1M167 397h1M156 403.5h1M182.5 373.5h1M156.5 403.5h1M165 372.5h1M139 393h1M163 398.5h1M129.5 386.5h1M131.5 380.5h1M163.5 398h1M195.5 383.5h1M155.5 403.5h1M190.5 376.5h1M194 380h1M158.5 401.5h1M157.5 402.5h1M155 403h1M149 373.5h1M162 399h1M188.5 398h1M156.5 402.5h1M196 387.5h1M153.5 402.5h1M188 398h1M153.5 372.5h1M168 372.5h1M129.5 386h1M148 397.5h1M153.5 402h1M152 401h1M152 373h1M163 398h1M159.5 400.5h1M154.5 402.5h1M161.5 372.5h1M167 396.5h1M150.5 399h1M151 400h1M132 389h1M163.5 397.5h1M190 376.5h1M196 387h1M130 383.5h1M177 398h1M166.5 396.5h1M153 401h1M195.5 384h1M133 390h1M135.5 391h1M159.5 372.5h1M131.5 381h1M186.5 375h1M131 381.5h1M139 376h1M151.5 400h1M155 402h1M148 397h1M166.5 372.5h1M178.5 373.5h1M180.5 398.5h1M142.5 375h1M173.5 373h1M142 394h1M130.5 382.5h1M155 401.5h1M192 378h1M175.5 397h1M153 400.5h1M130 385h1M164.5 397h1M189 397.5h1M157 401h1M145 395.5h1M135.5 378h1M183.5 398.5h1M146 396h1M158 372.5h1"/>
<path stroke="#7680d2" d="M187 398h1M184 398.5h1M162 397.5h1M134 379h1M155.5 400.5h1M187 375.5h1M176.5 373.5h1M155 373h1M131.5 381.5h1M148 374h1M172 396h1M167 396h1M164.5 372.5h1M150.5 398h1M161 398h1M134 390h1M193 379.5h1M183 398.5h1M133.5 390h1M164 396.5h1M166.5 396h1M195 388.5h1M137.5 377h1M191 378h1M132 388.5h1M189.5 397h1M144 374.5h1M155 400h1M169.5 395.5h1M132 381h1M130.5 384h1M148.5 396.5h1M189.5 396.5h1M142 375.5h1M172.5 396h1M159.5 398.5h1M171.5 396h1M192.5 394h1M156 399.5h1M153 373h1M140 376h1M157.5 399h1M139.5 376.5h1M154.5 399.5h1M150 397.5h1M147 396h1M146 374.5h1M132.5 388.5h1M133.5 389.5h1M186.5 375.5h1M152 398.5h1M154 399h1M143.5 375h1M166.5 395.5h1M158.5 398.5h1M193.5 381h1M188 397h1M153.5 398.5h1M159 398h1M163 373h1M132 387.5h1M181.5 398h1M131 383h1M153 398.5h1M138 392h1M163.5 396.5h1M149 396.5h1M194.5 384.5h1M131.5 387h1M139 392h1M195 386h1M184.5 375h1M195 388h1M157 398.5h1M143.5 394h1M147.5 396h1M180 374h1M143 393.5h1M162.5 396.5h1M173 395.5h1M164 373h1M147 395.5h1M132 381.5h1M179.5 374h1M160 373h1M178.5 374h1M145.5 394.5h1M172 373.5h1M172 395.5h1M154.5 398h1M158 398h1M145.5 375h1M192.5 380h1M194 382.5h1M163.5 396h1M169.5 395h1M152.5 373.5h1M151.5 373.5h1M150 396.5h1M191.5 379h1M161 396.5h1M171 395h1M173 373.5h1M193 392h1M149.5 396.5h1M163.5 395.5h1M155.5 398h1M148 374.5h1M149 396h1M170.5 395h1M193 392.5h1M187 376h1M161 373h1M159.5 397h1M194 389.5h1M159 397h1M154.5 397.5h1M193.5 382h1M141.5 393h1M151 396.5h1M134 389h1M185.5 375.5h1M152.5 397h1M156 397.5h1M192 380h1M170.5 394.5h1M185 375.5h1M149 395.5h1M141 376.5h1M178 396.5h1M187.5 376.5h1M139.5 392h1M132 385.5h1M186 397h1M192.5 393h1M193 391.5h1M152 396.5h1M133.5 381h1M156.5 397h1M148.5 374.5h1M142.5 393h1M161 396h1M188.5 377.5h1M159.5 396.5h1M186.5 376h1M135.5 389.5h1M188 377h1M161 373.5h1M132.5 387h1M166.5 394.5h1M132.5 382.5h1M167 394.5h1M137.5 391h1M156 373.5h1M192 393h1M190.5 378.5h1M135.5 379.5h1M165.5 394.5h1M155 373.5h1M137.5 390.5h1M160 396h1M147 394.5h1M133 387.5h1M189.5 395h1M138 391h1M133.5 381.5h1M164 394.5h1M168.5 374h1M182 397h1M190 378.5h1M175.5 374.5h1M163.5 394.5h1M175 374.5h1M194 386h1M181 396.5h1M145.5 375.5h1M168 394h1M140.5 377h1M144 376h1M166 394h1M157 396.5h1M159.5 395.5h1M150 395.5h1M153.5 396h1M143 393h1M184 375.5h1M182 396.5h1M184 396.5h1M143 392.5h1M168.5 394h1M132.5 385h1M193 383h1M139.5 391h1M178 396h1M186.5 396h1M137 390h1M170 374h1M153 396h1M193.5 388.5h1M182 375h1M190.5 379.5h1M149.5 374.5h1M160.5 395.5h1M181.5 396.5h1M191.5 392.5h1M136.5 389.5h1M181 375h1M170 394h1M150 395h1M193.5 388h1M163.5 374h1M133 386h1M162 394.5h1M192 381.5h1M192 392h1M189.5 378.5h1M175 394.5h1M181.5 375.5h1M176 395h1M191 393h1M154 396h1M184.5 396.5h1M158 395.5h1M166.5 374h1M186 396h1M147.5 375h1M171 394h1M188.5 395h1M183 375.5h1M149 394.5h1M151.5 395.5h1M177 395h1M168 393.5h1M148 375h1M163 394.5h1M135 388h1M177.5 395.5h1M193 389.5h1M170.5 374.5h1M140 377.5h1M173.5 374.5h1M145.5 393.5h1M142 392h1M179 395.5h1M153 395.5h1M192 391h1M192 391.5h1M183 376h1M174 394h1M192.5 383.5h1M155.5 374h1M141 391.5h1M164.5 374h1M151 374.5h1M154.5 395.5h1M146 375.5h1M176.5 395h1M136.5 389h1M140 391h1M182.5 396h1M175.5 394.5h1M141 377h1M187 377.5h1M192 390.5h1M181.5 396h1M158.5 374h1M188 395h1M190 393.5h1M162 394h1M135.5 388h1M153.5 395.5h1M159.5 395h1M186.5 395.5h1M190.5 393h1M153 395h1M142.5 392h1M156.5 395.5h1M193 388h1M158 395h1M139.5 378h1M167.5 374.5h1M192 382.5h1M139 390.5h1M164 374h1M152.5 395h1M191.5 381.5h1M161.5 394h1M150 394.5h1M157 395h1M186.5 377.5h1M149.5 394h1M193 386.5h1M145 376h1M171 374.5h1M188.5 378.5h1M176.5 394.5h1M171 393h1M149 394h1M141 377.5h1M186 395.5h1M190 380h1M147.5 393.5h1M153.5 395h1M172 393h1M174.5 393.5h1M149 375h1M142.5 377h1M189 394h1M176 394.5h1M179.5 395.5h1M161 394h1M163 374.5h1M174.5 375h1M134.5 386h1M192.5 385.5h1M182 395.5h1M151 394.5h1M189.5 380h1M183.5 395.5h1M163.5 374.5h1M186 377.5h1M181.5 395.5h1M156.5 394.5h1M189.5 393.5h1M142.5 391.5h1M182 376h1M134.5 386.5h1M180.5 376h1M143 391.5h1M146.5 393h1M160.5 394h1M187.5 394.5h1M144.5 376.5h1M186 395h1M175.5 394h1M137.5 380h1M135 387h1M182.5 395.5h1M154 394.5h1M147.5 375.5h1M170 392.5h1M156 374.5h1M141.5 391h1M157.5 394.5h1M155 394.5h1M192 384.5h1M157.5 374.5h1M188 394h1M161 393.5h1M158.5 374.5h1M188.5 393.5h1M145.5 392.5h1M185 377h1M183.5 395h1M171 392.5h1M164.5 374.5h1M165 393h1M178.5 394.5h1M160 374.5h1M166.5 374.5h1M176.5 375.5h1M168 392.5h1M161.5 374.5h1M175 393.5h1M192 388.5h1M136.5 381h1M183.5 377h1M171 375h1M156.5 394h1M191.5 389.5h1M135 384.5h1M170 375h1M152 375h1M186.5 394.5h1M149 393.5h1M137 380.5h1M138.5 379.5h1M138 380h1M191 390.5h1M179.5 394.5h1M185.5 377.5h1M192 387.5h1M150.5 393.5h1M161 374.5h1M174.5 393h1M164.5 392.5h1M170 392h1M150 375.5h1M179 394.5h1M164 374.5h1M172 392.5h1M163 393h1M146.5 392.5h1M147.5 392.5h1M153 394h1M180.5 376.5h1M184 395h1M136 386.5h1M162 393h1M190.5 391h1M141.5 378h1M191 383.5h1M153.5 394h1M188.5 393h1M153 393.5h1M139.5 389.5h1M191.5 384.5h1M138.5 380h1M158 393.5h1M178 376h1M165 392h1M169.5 392h1M147 392.5h1M189.5 392h1M187 379h1M188.5 392.5h1M161.5 393h1M152 375.5h1M136.5 382h1M163.5 392.5h1M163 392.5h1M155 393.5h1M188.5 380h1M191 389.5h1M172.5 392h1M191.5 386h1M143.5 391h1M150.5 393h1M184 377.5h1M150 393h1M168.5 391.5h1M160.5 393h1M148.5 376h1M188.5 380.5h1M140.5 378.5h1M183.5 394.5h1M170.5 391.5h1M147 392h1M173.5 376h1M169 391.5h1M153.5 393.5h1M136 385.5h1M154 393.5h1M184.5 394h1M139 380h1M146.5 376.5h1M191 384.5h1M174.5 392.5h1M186 393.5h1M141 379h1M166 375.5h1M191 385.5h1M169.5 375.5h1M183 394h1M171.5 376h1M186.5 379h1M139.5 379.5h1M139.5 389h1M140 389h1M172.5 376h1M168 391.5h1M171.5 391.5h1M142.5 390.5h1M186.5 393.5h1M190.5 389h1M181.5 394h1M158 393h1M137 387h1M153.5 393h1M168 375.5h1M167 391.5h1M157.5 393h1M155.5 393h1M176 376.5h1M143 378h1M136.5 385.5h1M190.5 388.5h1M189.5 391h1M166.5 391.5h1"/>
<path stroke="#5e68c2" d="M190.5 387h1M183.5 378h1M143 378h1M190.5 386h1M154.5 375.5h1M143.5 390.5h1M147 392h1M137.5 387h1M185.5 393.5h1M139.5 379.5h1M189.5 390.5h1M136.5 385h1M155.5 393h1M177 392.5h1M173 391.5h1M175.5 376.5h1M189.5 382.5h1M150.5 376h1M158.5 392.5h1M190 384h1M166.5 391h1M186.5 393h1M186.5 379.5h1M173.5 391.5h1M139.5 380h1M149.5 392.5h1M174.5 392h1M169 376h1M189 391h1M190.5 386.5h1M190.5 385h1M188.5 391.5h1M167.5 391h1M137 383h1M188 391.5h1M187 380h1M138.5 387.5h1M169 391h1M159 392.5h1M178.5 377h1M165 391.5h1M182 378h1M172.5 391h1M175 376.5h1M190 389h1M172 391h1M137 384.5h1M181 377.5h1M187.5 380.5h1M182.5 378h1M190 384.5h1M187 392.5h1M163.5 375.5h1M139.5 380.5h1M189.5 390h1M137.5 382h1M155.5 392.5h1M172.5 376.5h1M139 381h1M160 375.5h1M162 375.5h1M157.5 375.5h1M168.5 390.5h1M147 391.5h1M190 385.5h1M188.5 391h1M186 392.5h1M180 393h1M166 391h1M141 389h1M144 390.5h1M177.5 377h1M186.5 392h1M158.5 392h1M138 386.5h1M185 379h1M140 380h1M176 391.5h1M187 392h1M169.5 376h1M187 380.5h1M189.5 388.5h1M137.5 383.5h1M162.5 391.5h1M161.5 391.5h1M137.5 384h1M144 390h1M142 389h1M149 376.5h1M171.5 376.5h1M147.5 377h1M138.5 381.5h1M160 392h1M188.5 382h1M181 393h1M190 387.5h1M137.5 384.5h1M190 386h1M185.5 392.5h1M162 391.5h1M174.5 391h1M179 392.5h1M180.5 378h1M173 376.5h1M138.5 382h1M141.5 389h1M159.5 392h1M180 392.5h1M188.5 390h1M188 391h1M170.5 390.5h1M186 380h1M175.5 377h1M145 378h1M160.5 391.5h1M187 391.5h1M138 383h1M184 379h1M171 376.5h1M140 388h1M178.5 377.5h1M143 379h1M182.5 392.5h1M164 391h1M187 381h1M184 392.5h1M142.5 389.5h1M138 384h1M187.5 381.5h1M149.5 376.5h1M176 391h1M182.5 378.5h1M186.5 380.5h1M146 377.5h1M189 388.5h1M184.5 392.5h1M181.5 378.5h1M143 389.5h1M175.5 391h1M189 388h1M141.5 388.5h1M188.5 383h1M189.5 386h1M171 390h1M138.5 382.5h1M174.5 377h1M162.5 376h1M139 386.5h1M142.5 379h1M173.5 390.5h1M153.5 392h1M164 390.5h1M174.5 390.5h1M187 391h1M159 391.5h1M188 389.5h1M177 391.5h1M175 390.5h1M146 390.5h1M185 380h1M165 390.5h1M178 377.5h1M183 392.5h1M173 390.5h1M138 384.5h1M174.5 377.5h1M169.5 390h1M162 391h1M140 387.5h1M187 381.5h1M159.5 391.5h1M180 392h1M185.5 380h1M176.5 391h1M138.5 383h1M185 392h1M151.5 376.5h1M139 386h1M139.5 382h1M178.5 378h1M186 391h1M148 391h1M160.5 391h1M181.5 379h1M166 376.5h1M168 390h1M175 377.5h1M142 379.5h1M142.5 388.5h1M179 391.5h1M162 390.5h1M168.5 389.5h1M156.5 391.5h1M149 377h1M164.5 390h1M142 380h1M138.5 383.5h1M144.5 389.5h1M188 389h1M140 387h1M187 390h1M162.5 390.5h1M180 378.5h1M188.5 387.5h1M175.5 377.5h1M172.5 377.5h1M183 392h1M153.5 376.5h1M153.5 391.5h1M144.5 378.5h1M143.5 379h1M168 377h1M138.5 384h1M156 376h1M174.5 390h1M171.5 389.5h1M188.5 386h1M147 378h1M140.5 381h1M158 391h1M142.5 379.5h1M156 376.5h1M155 391.5h1M174 390h1M188.5 386.5h1M178 378h1M152 376.5h1M167.5 389.5h1M170 389.5h1M186.5 382h1M178.5 391h1M164.5 376.5h1M180.5 378.5h1M141.5 380.5h1M154 376.5h1M156 391.5h1M148.5 377.5h1M170.5 377h1M145 378.5h1M188 388.5h1M168 389.5h1M173 377.5h1M148 390.5h1M163.5 390h1M184 380h1M177.5 390.5h1M185 380.5h1M184.5 380.5h1M184 391h1M187.5 389h1M179 391h1M174.5 378h1M188 385h1M179.5 391h1M152 391h1M187.5 388h1M147.5 378h1M178.5 390.5h1M180 391h1M159.5 390.5h1M174.5 389.5h1M173.5 389.5h1M151 391h1M144.5 379h1M175 389.5h1M187.5 383.5h1M188 387h1M184 380.5h1M172 389h1M139.5 385h1M183.5 391h1M170 377.5h1M140 382.5h1M174 378h1M148 390h1M182.5 380h1M140.5 382h1M144 389h1M169.5 389h1M186 389.5h1M180.5 391h1M187.5 387h1M142.5 380.5h1M187 388.5h1M157.5 391h1M181 379.5h1M142.5 388h1M156.5 376.5h1M181.5 391h1M145 379h1M152.5 377h1M158.5 390.5h1M165 389.5h1M165.5 389.5h1M155.5 391h1M151.5 377h1M140.5 386h1M160.5 390.5h1M187.5 386.5h1M167.5 389h1M169.5 377.5h1M160 390.5h1M187.5 386h1M155.5 376.5h1M155 377h1M167 389h1M185 390h1M185.5 389.5h1M148 378h1M178 379h1M171 388.5h1M179.5 390.5h1M150.5 390.5h1M169 377.5h1M141.5 381.5h1M140 383h1M161 390h1M141 381.5h1M186 389h1M179 390.5h1M186 382.5h1M163.5 377h1M173.5 389h1M166 389h1M147 378.5h1M165.5 377h1M140 384.5h1M147.5 389.5h1M186.5 388.5h1M170.5 388.5h1M186 388.5h1M181.5 380h1M171.5 388.5h1M158 377h1M180.5 390.5h1M155 390.5h1M167.5 377.5h1M149 390h1M152.5 390.5h1M179.5 379.5h1M183 390h1M177.5 379h1M185 382h1M144.5 379.5h1M185.5 382.5h1M186 383.5h1M163.5 389.5h1M175.5 389h1M175 378.5h1M177.5 389.5h1M151 390.5h1M170.5 378h1M162.5 389.5h1M174.5 378.5h1M154 377h1M145.5 389h1M186 388h1M151 377.5h1M178.5 379.5h1M157 390.5h1M150 390h1M148 389.5h1M181 380h1M176.5 389h1M174.5 388.5h1M181 390h1M156 390.5h1M165 389h1M183.5 390h1M173 388.5h1M185.5 389h1M141.5 382h1M143 380.5h1M146 389h1M166.5 388.5h1M181.5 380.5h1M147 389h1M184.5 389h1M184 382h1M183.5 389.5h1M155.5 390.5h1M170 388h1M168 388.5h1M185.5 388h1M142.5 381h1M185 389h1M177 379.5h1M183.5 381.5h1M141 384.5h1M164.5 377.5h1M159 390h1M174 388.5h1M148.5 389.5h1M155.5 377h1M175.5 388.5h1M177 389h1M143.5 387.5h1M141.5 382.5h1M179 380h1M142 386h1M152.5 390h1M178 389h1M141 385h1M179.5 389.5h1M161.5 389.5h1M160.5 377h1M173.5 379h1M146.5 379h1M152 377.5h1M170.5 378.5h1M155.5 390h1M163.5 389h1M186 386h1M153 390h1M153.5 377.5h1M143 387h1M145 380h1M182 389.5h1M145.5 388.5h1M178.5 380h1M144 387.5h1M181.5 389.5h1M159 389.5h1M185.5 385h1M169 388h1M180 380.5h1M172.5 388h1M184 388.5h1M181.5 389h1M150.5 389.5h1M183 389h1M168 388h1M142 385.5h1M184.5 388h1M144 380.5h1M157 390h1M163.5 388.5h1M142.5 382h1M159 377.5h1M168.5 388h1M169 387.5h1M181 389h1M181 381h1M165 388.5h1M176 379.5h1M175 388h1M182.5 389h1M174.5 388h1M163 389h1M180 389h1M167 388h1M158 389.5h1M177 380h1M159.5 389.5h1M173 387.5h1M170 387.5h1M177 388.5h1M142.5 386h1M149 389.5h1M147 379h1M157 377.5h1M179 388.5h1M156.5 377.5h1M184 388h1M174 379.5h1M163.5 377.5h1M167.5 378.5h1M174 387.5h1M151 378h1M164 377.5h1M178 388.5h1M171 387.5h1M162.5 388.5h1M141.5 384h1M166 378h1M173.5 387.5h1M146 388h1M156.5 389.5h1M174.5 379.5h1M184 383h1M185 386.5h1M181 388.5h1M162 377.5h1"/>
<path stroke="#4c56b0" d="M159.5 377.5h1M154.5 390h1M184 387.5h1M149 389h1M144 387h1M155 377.5h1M181.5 388.5h1M169 387.5h1M162.5 377.5h1M163 377.5h1M165 378h1M150 378.5h1M157.5 377.5h1M183 382.5h1M179.5 388.5h1M180 388.5h1M166 378h1M143 386h1M178 388h1M161 389h1M147.5 379h1M175.5 380h1M183 388h1M179.5 381h1M184.5 386h1M144.5 387h1M178 380.5h1M180 388h1M155.5 389.5h1M175.5 387.5h1M180 381h1M184.5 385h1M168.5 387.5h1M148 379h1M172.5 387h1M184.5 385.5h1M172 379.5h1M173 379.5h1M183 383h1M157.5 389.5h1M169 387h1M147.5 379.5h1M175 380h1M178 381h1M163.5 388h1M156.5 377.5h1M163.5 378h1M147 379.5h1M167.5 378.5h1M148 388.5h1M152 389.5h1M182 382.5h1M158.5 377.5h1M182.5 387.5h1M181 388h1M179.5 388h1M150 389h1M175.5 380.5h1M176.5 387.5h1M184 385.5h1M183.5 387h1M177.5 387.5h1M175.5 387h1M145 387.5h1M144 381.5h1M183 383.5h1M164 388h1M143.5 382h1M157 389.5h1M154 389.5h1M143 382h1M177 381h1M154.5 389.5h1M179 381.5h1M147 380h1M156.5 389.5h1M166.5 387.5h1M176.5 387h1M142.5 384h1M144.5 386.5h1M150.5 389h1M146 387.5h1M175 387h1M143 382.5h1M183.5 385h1M165.5 378.5h1M170 379.5h1M152.5 389h1M144.5 381h1M179.5 381.5h1M181.5 382.5h1M143.5 385.5h1M179 387.5h1M143 385h1M155.5 378h1M165.5 387.5h1M175.5 386.5h1M150 379h1M167 387h1M183 385.5h1M143 383h1M172.5 380h1M182 383h1M156.5 389h1M143.5 382.5h1M143 384.5h1M172.5 386.5h1M180.5 387h1M170 386.5h1M169.5 386.5h1M175.5 381h1M166 387.5h1M181 387h1M178 381.5h1M181.5 383h1M149.5 388.5h1M175 386.5h1M156 389h1M182.5 384h1M152 378.5h1M164.5 387.5h1M145 387h1M169.5 379.5h1M173.5 380.5h1M179 382h1M148.5 388.5h1M174.5 380.5h1M151.5 378.5h1M174.5 386.5h1M182.5 384.5h1M181.5 386.5h1M145 381h1M176.5 381.5h1M182 386h1M178.5 387h1M179.5 387h1M162.5 378h1M148 379.5h1M146 380.5h1M182 384h1M151.5 389h1M143.5 384.5h1M153 378.5h1M144 386h1M145.5 381h1M166 387h1M167 379h1M168 386.5h1M155 389h1M182 385.5h1M159.5 388.5h1M171 380h1M181 383.5h1M144 382h1M167.5 386.5h1M169.5 380h1M181.5 385.5h1M146 387h1M180.5 386h1M161 378h1M165.5 387h1M178.5 382.5h1M149 388.5h1M181 384h1M161.5 388h1M181.5 384.5h1M164 378.5h1M181 384.5h1M177.5 386h1M154.5 389h1M168.5 386.5h1M144 385.5h1M144 385h1M155 378.5h1M179.5 383h1M148 380h1M143.5 383.5h1M143.5 384h1M164 387.5h1M181 385h1M172 385.5h1M174.5 381.5h1M163.5 378.5h1M175 381.5h1M174 381.5h1M152 388.5h1M160 388h1M162 378.5h1M166.5 379h1M174.5 385.5h1M174 385.5h1M156.5 388.5h1M145 381.5h1M177.5 382.5h1M145.5 381.5h1M156 378.5h1M176.5 385.5h1M144 383h1M151 388.5h1M167 386.5h1M179.5 384h1M168.5 380h1M179 385h1M145.5 386.5h1M168 379.5h1M178 385h1M174.5 382h1M171.5 385.5h1M175 385h1M179 384h1M154 378.5h1M159 378.5h1M177.5 385h1M147 380.5h1M172 385h1M145 386h1M146 381h1M165 379h1M178 384h1M176 382.5h1M177 385h1M178 383.5h1M161 388h1M168.5 386h1M151.5 388.5h1M164.5 379h1M177.5 383.5h1M176.5 383h1M175 382.5h1M175.5 384.5h1M153.5 388.5h1M167.5 386h1M150.5 379h1M177 384h1M174.5 384.5h1M169 380h1M167 379.5h1M175.5 382.5h1M176 383.5h1M176.5 383.5h1M163 387.5h1M174.5 382.5h1M171.5 381h1M174 384.5h1M175.5 384h1M169 385.5h1M171 385h1M174.5 383h1M170.5 385h1M175 384h1M174.5 384h1M170 380.5h1M167 380h1M173.5 382.5h1M173.5 384h1M172.5 384.5h1M172 384.5h1M153.5 379h1M146 381.5h1M148 387.5h1M159.5 388h1M174 383.5h1M171.5 384.5h1M173.5 383h1M144.5 384h1M156 388.5h1M172.5 382.5h1M145 385h1M172.5 384h1M168 380h1M164 379h1M171 381.5h1M168 385.5h1M170.5 384.5h1M148.5 387.5h1M165 386.5h1M145.5 382h1M145 383.5h1M152.5 388h1M162 387h1M172.5 383.5h1M172 384h1M172 382.5h1M161 387.5h1M170.5 381.5h1M147.5 380.5h1M160.5 379h1M149 387.5h1M150 387.5h1M157 378.5h1M165.5 386h1M150 380h1M156.5 378.5h1M163.5 386.5h1M158 378.5h1M147 381h1M170 381.5h1M171.5 383h1M168 385h1M165 379.5h1M151.5 379.5h1M147.5 387h1M170.5 384h1M166.5 385.5h1M168.5 385h1M155 388h1M153 379h1M162 379h1M167 385.5h1M147.5 386.5h1M169.5 381h1M171 383.5h1M147 386.5h1M151 379.5h1M156 379h1M164 386.5h1M146.5 382h1M167.5 380.5h1M147.5 381h1M167.5 385h1M169.5 382h1M157.5 388h1M161 379h1M145.5 384.5h1M145.5 383h1M163 386.5h1M151.5 387.5h1M157.5 379h1M146 382.5h1M166 385.5h1M146 385h1M145.5 384h1M162.5 386.5h1M153 388h1M168.5 384.5h1M148 381h1M168.5 381.5h1M155 379h1M166.5 385h1M148.5 381h1M168.5 384h1M146 383.5h1M148.5 386.5h1M152 387.5h1M151 387.5h1M152.5 379.5h1M167 381h1M164.5 386h1M169 382.5h1M150 387h1M148 386.5h1M154.5 379.5h1M168 381.5h1M150.5 380h1M147 382h1M168 384h1M167 384.5h1M152 380h1M147.5 386h1M167 381.5h1M168 383.5h1M168 383h1M147 382.5h1M157 387.5h1M155.5 379.5h1M146.5 384h1M162.5 380h1M162 386.5h1M162 379.5h1M161 386.5h1M150.5 380.5h1M148 386h1M153 387.5h1M167.5 383.5h1M151 380h1M160.5 386.5h1M149 386.5h1M158 387h1M159 379.5h1M146.5 383.5h1M162.5 386h1M157.5 379.5h1M155.5 387.5h1M167 383.5h1M156.5 387.5h1M150.5 387h1M167.5 382.5h1M151.5 380h1M147.5 385.5h1M162 380h1M165 381h1M166.5 384h1M166 381.5h1M150 386.5h1M153 387h1M159.5 379.5h1M166.5 382.5h1M160.5 380h1M159.5 386.5h1M147.5 382.5h1M148.5 385.5h1M156 379.5h1M166 384h1M162.5 380.5h1M159 386.5h1M150 381h1M163.5 385h1M166 383.5h1M166 382h1M159 380h1M161 386h1M165 384.5h1M161.5 386h1M165 384h1M150.5 381h1M156 387h1M147.5 383.5h1M157 387h1M152 386.5h1M155 380h1M151.5 380.5h1M164.5 381.5h1M154 380h1M150 386h1M162 380.5h1M158 380h1M155.5 387h1M164.5 384h1M165 383.5h1M165 383h1M161 385.5h1M159 386h1M151.5 381h1M163 385h1M148 384h1M160.5 380.5h1M164 384h1M148.5 385h1M157.5 386.5h1M162 385h1M162.5 381h1M155 386.5h1M162.5 385h1M163.5 384.5h1M153.5 380.5h1M158.5 380.5h1M159 380.5h1M164.5 382.5h1M164 383.5h1M150 385.5h1M152 386h1M157 386.5h1M164 382h1M149.5 382.5h1M151 386h1M159.5 386h1M154.5 380.5h1M153 381h1M163 381.5h1M155 380.5h1M158 386h1M163.5 383h1M159.5 385.5h1M163 382h1M152 381.5h1M154.5 386h1M156 386h1M150.5 382h1M163 383.5h1M149.5 384.5h1M162.5 382h1M162 384.5h1M149.5 384h1M153 386h1M149.5 383h1M159 381h1M158 385.5h1M157.5 386h1M160 381h1M152 385.5h1M153.5 386h1M150.5 385h1M150 384.5h1M158.5 385.5h1M150 384h1M159.5 385h1M161 381.5h1M151 385h1M162.5 383h1M151 382h1M160.5 381.5h1M154.5 381h1M155 386h1M153.5 381h1M155 381h1M154 381h1M162 382h1M156 385.5h1M159.5 381h1M161.5 384h1M151.5 382h1M160 381.5h1M161.5 383.5h1M152.5 382h1M161 384h1M158.5 381h1M153 381.5h1M161.5 382.5h1M161 383.5h1M161.5 383h1M156 381h1M160.5 384h1M161 382.5h1M152 385h1M151.5 384.5h1M154.5 385.5h1M160.5 383.5h1M152.5 385h1M153.5 382h1M154.5 381.5h1M153 382h1M155.5 385h1M158 385h1M160.5 383h1M160 382h1M154.5 385h1M158 384.5h1M158.5 382h1M160.5 382.5h1M157 381.5h1M160 382.5h1M159.5 382.5h1M155 385h1M154 384.5h1M153 384.5h1M159.5 383.5h1M158.5 384h1M159.5 383h1M155.5 382h1M153.5 382.5h1M159 382.5h1M156.5 384.5h1M158 384h1M153 384h1M158.5 382.5h1M154 382.5h1M157 384.5h1M154.5 382.5h1M158.5 383h1M153.5 383.5h1M156 382.5h1M157.5 382.5h1M157 384h1M154 384h1M157.5 383h1M157 382.5h1M156.5 382.5h1M155.5 382.5h1M157.5 383.5h1M154.5 384h1M155 383.5h1"/>
</g>
<rect x="118.6" y="361.8" width="86.7" height="84.7" fill="none" stroke="#666" stroke-width="1.1"/>
<text x="115.6" y="445.1" font-size="5" text-anchor="end" fill="#555">10<tspan font-size="3.6" dy="-2">0</tspan></text>
<text x="115.6" y="427" font-size="5" text-anchor="end" fill="#555">10<tspan font-size="3.6" dy="-2">1</tspan></text>
<text x="115.6" y="404.8" font-size="5" text-anchor="end" fill="#555">10<tspan font-size="3.6" dy="-2">2</tspan></text>
<text x="115.6" y="384.9" font-size="5" text-anchor="end" fill="#555">10<tspan font-size="3.6" dy="-2">3</tspan></text>
<text x="115.6" y="369.2" font-size="5" text-anchor="end" fill="#555">10<tspan font-size="3.6" dy="-2">4</tspan></text>
<text x="123.6" y="454" font-size="5" text-anchor="middle" fill="#555">10<tspan font-size="3.6" dy="-2">0</tspan></text>
<text x="143.3" y="454" font-size="5" text-anchor="middle" fill="#555">10<tspan font-size="3.6" dy="-2">1</tspan></text>
<text x="162.9" y="454" font-size="5" text-anchor="middle" fill="#555">10<tspan font-size="3.6" dy="-2">2</tspan></text>
<text x="182.6" y="454" font-size="5" text-anchor="middle" fill="#555">10<tspan font-size="3.6" dy="-2">3</tspan></text>
<text x="202.3" y="454" font-size="5" text-anchor="middle" fill="#555">10<tspan font-size="3.6" dy="-2">4</tspan></text>
<path d="M118.6 443.3h2M118.6 437.8h1M118.6 434.6h1M118.6 432.4h1M118.6 430.6h1M118.6 429.1h1M118.6 427.9h1M118.6 427h1M118.6 426.1h1M118.6 425.2h2M118.6 418.5h1M118.6 414.5h1M118.6 411.9h1M118.6 409.7h1M118.6 407.9h1M118.6 406.4h1M118.6 405.3h1M118.6 404.2h1M118.6 403h2M118.6 397.1h1M118.6 393.5h1M118.6 391.1h1M118.6 389.1h1M118.6 387.5h1M118.6 386.1h1M118.6 385.1h1M118.6 384.1h1M118.6 383.1h2M118.6 378.4h1M118.6 375.5h1M118.6 373.7h1M118.6 372.1h1M118.6 370.8h1M118.6 369.7h1M118.6 369h1M118.6 368.2h1M118.6 367.4h2M122.6 446.5v-2M128.5 446.5v-1M132 446.5v-1M134.4 446.5v-1M136.4 446.5v-1M137.9 446.5v-1M139.3 446.5v-1M140.3 446.5v-1M141.3 446.5v-1M142.3 446.5v-2M148.2 446.5v-1M151.7 446.5v-1M154.1 446.5v-1M156 446.5v-1M157.6 446.5v-1M159 446.5v-1M160 446.5v-1M161 446.5v-1M161.9 446.5v-2M167.9 446.5v-1M171.4 446.5v-1M173.8 446.5v-1M175.7 446.5v-1M177.3 446.5v-1M178.7 446.5v-1M179.7 446.5v-1M180.6 446.5v-1M181.6 446.5v-2M187.5 446.5v-1M191.1 446.5v-1M193.4 446.5v-1M195.4 446.5v-1M197 446.5v-1M198.3 446.5v-1M199.3 446.5v-1M200.3 446.5v-1M201.3 446.5v-2" stroke="#555" stroke-width="0.6" fill="none"/>
<path d="M166 368H202V397.3Q196 401 193.5 405H166Z" fill="none" stroke="#222" stroke-width="1.3"/>
<ellipse cx="188.5" cy="420" rx="21.3" ry="9.8" transform="rotate(-57 188.5 420)" fill="none" stroke="#222" stroke-width="1.1"/>
<text x="153.9" y="372.3" font-size="9.4" text-anchor="middle" stroke="#000" stroke-width="0.15">35.9</text>
<text x="160.6" y="432.3" font-size="9.4" text-anchor="middle" stroke="#000" stroke-width="0.15">2.52</text>
<text x="122" y="442" font-size="9.4" font-style="italic" stroke="#000" stroke-width="0.15">ccl5<tspan font-size="7" dy="-4">-/-</tspan></text>
<line x1="5.8" y1="270" x2="5.8" y2="419" stroke="#000" stroke-width="1.1"/>
<path d="M5.8 264.5L3.5 271L8.1 271Z"/>
<text x="8.6" y="435.5" font-size="10" text-anchor="middle" stroke="#000" stroke-width="0.15" transform="rotate(-90 8.6 435.5)">Ly6C</text>
<text x="22.3" y="466.7" font-size="9.9" stroke="#000" stroke-width="0.15">Ly6G</text>
<line x1="52.5" y1="463.6" x2="198" y2="463.6" stroke="#000" stroke-width="1.2"/>
<path d="M203 463.6L197 461L197 466.2Z"/>
<text x="218.3" y="259.3" font-size="16.8" font-weight="bold" stroke="#000" stroke-width="0.15">D</text>
<line x1="254.5" y1="272.2" x2="254.5" y2="360.2" stroke="#000" stroke-width="1.2"/>
<line x1="253.9" y1="360.2" x2="362.5" y2="360.2" stroke="#000" stroke-width="1.2"/>
<line x1="251.5" y1="359.7" x2="254.5" y2="359.7" stroke="#000" stroke-width="1.1"/>
<text x="250.3" y="363.1" font-size="9.5" text-anchor="end" stroke="#000" stroke-width="0.15">0</text>
<line x1="251.5" y1="330.8" x2="254.5" y2="330.8" stroke="#000" stroke-width="1.1"/>
<text x="250.3" y="334.2" font-size="9.5" text-anchor="end" stroke="#000" stroke-width="0.15">20</text>
<line x1="251.5" y1="301.8" x2="254.5" y2="301.8" stroke="#000" stroke-width="1.1"/>
<text x="250.3" y="305.2" font-size="9.5" text-anchor="end" stroke="#000" stroke-width="0.15">40</text>
<line x1="251.5" y1="272.9" x2="254.5" y2="272.9" stroke="#000" stroke-width="1.1"/>
<text x="250.3" y="276.3" font-size="9.5" text-anchor="end" stroke="#000" stroke-width="0.15">60</text>
<line x1="265.5" y1="360.2" x2="265.5" y2="363" stroke="#000" stroke-width="1.1"/>
<line x1="287.8" y1="360.2" x2="287.8" y2="363" stroke="#000" stroke-width="1.1"/>
<line x1="310" y1="360.2" x2="310" y2="363" stroke="#000" stroke-width="1.1"/>
<line x1="332.2" y1="360.2" x2="332.2" y2="363" stroke="#000" stroke-width="1.1"/>
<line x1="354.7" y1="360.2" x2="354.7" y2="363" stroke="#000" stroke-width="1.1"/>
<text x="233.6" y="317.9" font-size="15.7" text-anchor="middle" stroke="#000" stroke-width="0.15" transform="rotate(-90 233.5 317.8)">mRb1 mRNA</text>
<text x="272.2" y="375.5" font-size="15.2" text-anchor="end" stroke="#000" stroke-width="0.15" transform="rotate(-90 272.2 375.5)">4T1</text>
<text x="292.6" y="373" font-size="15.2" text-anchor="end" stroke="#000" stroke-width="0.15" transform="rotate(-90 292.6 373)">WT naïve</text>
<text x="316.6" y="372.5" font-size="15.2" text-anchor="end" stroke="#000" stroke-width="0.15" transform="rotate(-90 316.6 372.5)">WT tumor</text>
<text x="338" y="369.2" font-size="15.2" text-anchor="end" stroke="#000" stroke-width="0.15" transform="rotate(-90 338 369.2)"><tspan font-style="italic">ccl5-/-</tspan> naïve</text>
<text x="360" y="369.2" font-size="15.2" text-anchor="end" stroke="#000" stroke-width="0.15" transform="rotate(-90 360 369.2)"><tspan font-style="italic">ccl5-/-</tspan> tumor</text>
<line x1="259.5" y1="359.3" x2="272.5" y2="359.3" stroke="#000" stroke-width="1.4"/>
<line x1="266" y1="359.3" x2="266" y2="359.3" stroke="#000" stroke-width="1.1"/>
<line x1="262.3" y1="359.3" x2="269.7" y2="359.3" stroke="#000" stroke-width="1.1"/>
<line x1="262.3" y1="359.3" x2="269.7" y2="359.3" stroke="#000" stroke-width="1.1"/>
<line x1="281.8" y1="286.4" x2="295.2" y2="286.4" stroke="#000" stroke-width="1.4"/>
<line x1="288.5" y1="282.6" x2="288.5" y2="290" stroke="#000" stroke-width="1.1"/>
<line x1="284.8" y1="282.6" x2="292.2" y2="282.6" stroke="#000" stroke-width="1.1"/>
<line x1="284.8" y1="290" x2="292.2" y2="290" stroke="#000" stroke-width="1.1"/>
<line x1="303.6" y1="332.2" x2="317.1" y2="332.2" stroke="#000" stroke-width="1.4"/>
<line x1="310.4" y1="321.6" x2="310.4" y2="334.6" stroke="#000" stroke-width="1.1"/>
<line x1="306.7" y1="321.6" x2="314.1" y2="321.6" stroke="#000" stroke-width="1.1"/>
<line x1="306.7" y1="334.6" x2="314.1" y2="334.6" stroke="#000" stroke-width="1.1"/>
<line x1="326.4" y1="285.3" x2="339.9" y2="285.3" stroke="#000" stroke-width="1.4"/>
<line x1="333.2" y1="278" x2="333.2" y2="285.3" stroke="#000" stroke-width="1.1"/>
<line x1="329.5" y1="278" x2="336.9" y2="278" stroke="#000" stroke-width="1.1"/>
<line x1="329.5" y1="285.3" x2="336.9" y2="285.3" stroke="#000" stroke-width="1.1"/>
<line x1="348.4" y1="284" x2="361.9" y2="284" stroke="#000" stroke-width="1.4"/>
<line x1="355.1" y1="276.6" x2="355.1" y2="287.9" stroke="#000" stroke-width="1.1"/>
<line x1="351.4" y1="276.6" x2="358.8" y2="276.6" stroke="#000" stroke-width="1.1"/>
<line x1="351.4" y1="287.9" x2="358.8" y2="287.9" stroke="#000" stroke-width="1.1"/>
<line x1="281.7" y1="268.8" x2="321.1" y2="268.8" stroke="#000" stroke-width="1.3"/>
<line x1="325.7" y1="268.8" x2="363.2" y2="268.8" stroke="#000" stroke-width="1.3"/>
<text x="301.2" y="270.2" font-size="18.5" text-anchor="middle" stroke="#000" stroke-width="0.15">**</text>
<text x="344" y="262.9" font-size="10.6" text-anchor="middle" stroke="#000" stroke-width="0.15">NS</text>
<text x="391" y="314.3" font-size="14.6" text-anchor="middle" stroke="#000" stroke-width="0.15">WT</text>
<line x1="370.4" y1="317.9" x2="413.6" y2="317.9" stroke="#000" stroke-width="1.3"/>
<text x="442.5" y="314.3" font-size="14.6" text-anchor="middle" font-style="italic" stroke="#000" stroke-width="0.15">ccl5-/-</text>
<line x1="421" y1="317.9" x2="464" y2="317.9" stroke="#000" stroke-width="1.3"/>
<text x="381.5" y="328.4" font-size="11.2" text-anchor="middle" stroke="#000" stroke-width="0.15">n</text>
<text x="405.1" y="328.4" font-size="11.2" text-anchor="middle" stroke="#000" stroke-width="0.15">tu</text>
<text x="431.2" y="328.4" font-size="11.2" text-anchor="middle" stroke="#000" stroke-width="0.15">n</text>
<text x="452.2" y="328.4" font-size="11.2" text-anchor="middle" stroke="#000" stroke-width="0.15">tu</text>
<defs><filter id="bl" x="-5%" y="-20%" width="110%" height="140%"><feGaussianBlur stdDeviation="0.9"/></filter><filter id="bl2"><feGaussianBlur stdDeviation="0.6"/></filter></defs>
<rect x="371" y="332.6" width="95" height="25.2" fill="#a6a6a6"/>
<g filter="url(#bl)"><rect x="393.5" y="333" width="25" height="24.6" fill="#bdbdbd"/><rect x="440.5" y="333" width="2.5" height="24.6" fill="#b0b0b0"/><rect x="371.5" y="332.6" width="94" height="3.5" fill="#b4b4b4" opacity="0.7"/><rect x="372" y="337.5" width="20" height="17" rx="2" fill="#5a5a5a"/><rect x="372" y="339.6" width="20" height="3.6" rx="1.5" fill="#333"/><rect x="372" y="345.8" width="20" height="6.8" rx="2" fill="#101010"/><rect x="395.5" y="340" width="20" height="2.6" rx="1" fill="#707070"/><rect x="396" y="348.2" width="20" height="3.2" rx="1.2" fill="#181818"/><rect x="420" y="336.5" width="20.5" height="18" rx="2" fill="#3a3a3a"/><rect x="420" y="337.6" width="20.5" height="5.2" rx="1.5" fill="#111"/><rect x="420" y="345.2" width="20.5" height="7.2" rx="2" fill="#080808"/><rect x="443.5" y="337" width="21" height="17" rx="2" fill="#404040"/><rect x="443.5" y="338" width="21" height="4.8" rx="1.5" fill="#202020"/><rect x="443.5" y="345.2" width="21" height="6.8" rx="2" fill="#181818"/></g>
<rect x="371" y="361" width="95" height="17" fill="#8e8e8e"/>
<g filter="url(#bl)"><rect x="373" y="366.2" width="18" height="2.2" rx="1" fill="#555"/><rect x="396" y="368.4" width="20" height="2.8" rx="1.2" fill="#0a0a0a"/><rect x="421" y="369.6" width="19" height="2.6" rx="1.2" fill="#2a2a2a"/><rect x="444" y="369" width="19" height="2.4" rx="1.1" fill="#3a3a3a"/></g>
<line x1="468.4" y1="339.8" x2="476" y2="339.8" stroke="#000" stroke-width="1.2"/>
<line x1="468.4" y1="348.1" x2="476" y2="348.1" stroke="#000" stroke-width="1.2"/>
<line x1="468.4" y1="370.6" x2="476" y2="370.6" stroke="#000" stroke-width="1.2"/>
<text x="479.5" y="342.1" font-size="11.3" stroke="#000" stroke-width="0.15">p-Rb1</text>
<text x="479.5" y="354.9" font-size="11.3" stroke="#000" stroke-width="0.15">Rb1</text>
<text x="479.5" y="374" font-size="11.3" stroke="#000" stroke-width="0.15">GAPDH</text>
</svg>
</body></html>
